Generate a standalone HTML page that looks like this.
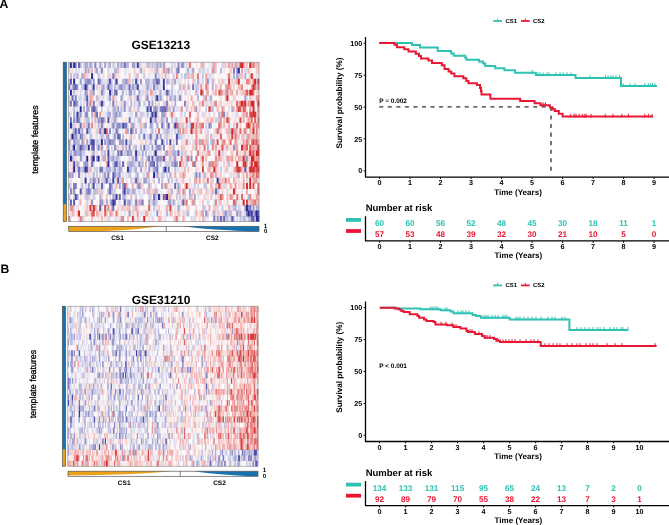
<!DOCTYPE html>
<html><head><meta charset="utf-8"><style>
html,body{margin:0;padding:0;background:#fff;width:669px;height:525px;overflow:hidden}
svg{display:block;will-change:transform}
text{font-family:"Liberation Sans",sans-serif;text-rendering:geometricPrecision}
</style></head><body>
<svg width="669" height="525" viewBox="0 0 669 525" font-family='"Liberation Sans", sans-serif'>
<rect width="669" height="525" fill="#fff"/>
<text x="-0.5" y="8.45" font-size="12.2" font-weight="bold" text-anchor="start" fill="#000">A</text>
<text x="0.5" y="273.4" font-size="12.2" font-weight="bold" text-anchor="start" fill="#000">B</text>
<text x="160.8" y="48.9" font-size="12" font-weight="bold" text-anchor="middle" fill="#000">GSE13213</text>
<rect x="68.3" y="62.2" width="190.7" height="159.39999999999998" fill="#fff"/>
<path fill="#fcfcfe" d="M128.61 62.20h1.98v5.85h-1.98zM166.09 62.20h1.98v5.85h-1.98zM184.02 62.20h1.98v5.85h-1.98zM104.16 67.70h1.98v5.85h-1.98zM172.61 67.70h1.98v5.85h-1.98zM188.91 67.70h1.98v5.85h-1.98zM228.03 67.70h1.98v5.85h-1.98zM68.30 73.19h1.98v5.85h-1.98zM94.38 73.19h1.98v5.85h-1.98zM96.01 73.19h1.98v5.85h-1.98zM105.79 73.19h1.98v5.85h-1.98zM120.46 73.19h1.98v5.85h-1.98zM131.87 73.19h1.98v5.85h-1.98zM144.91 73.19h1.98v5.85h-1.98zM153.06 73.19h1.98v5.85h-1.98zM170.98 73.19h1.98v5.85h-1.98zM179.13 73.19h1.98v5.85h-1.98zM198.69 73.19h1.98v5.85h-1.98zM185.65 78.69h1.98v5.85h-1.98zM188.91 78.69h1.98v5.85h-1.98zM69.93 84.19h1.98v5.85h-1.98zM174.24 84.19h1.98v5.85h-1.98zM213.36 84.19h1.98v5.85h-1.98zM135.13 89.68h1.98v5.85h-1.98zM198.69 89.68h1.98v5.85h-1.98zM216.62 89.68h1.98v5.85h-1.98zM76.45 95.18h1.98v5.85h-1.98zM104.16 95.18h1.98v5.85h-1.98zM125.35 95.18h1.98v5.85h-1.98zM131.87 95.18h1.98v5.85h-1.98zM117.20 100.68h1.98v5.85h-1.98zM128.61 100.68h1.98v5.85h-1.98zM131.87 100.68h1.98v5.85h-1.98zM146.54 100.68h1.98v5.85h-1.98zM172.61 100.68h1.98v5.85h-1.98zM175.87 100.68h1.98v5.85h-1.98zM216.62 100.68h1.98v5.85h-1.98zM81.34 106.17h1.98v5.85h-1.98zM109.05 106.17h1.98v5.85h-1.98zM143.28 106.17h1.98v5.85h-1.98zM206.84 106.17h1.98v5.85h-1.98zM82.97 111.67h1.98v5.85h-1.98zM97.64 111.67h1.98v5.85h-1.98zM125.35 111.67h1.98v5.85h-1.98zM144.91 111.67h1.98v5.85h-1.98zM185.65 111.67h1.98v5.85h-1.98zM210.10 111.67h1.98v5.85h-1.98zM211.73 111.67h1.98v5.85h-1.98zM71.56 117.17h1.98v5.85h-1.98zM109.05 117.17h1.98v5.85h-1.98zM126.98 117.17h1.98v5.85h-1.98zM200.32 117.17h1.98v5.85h-1.98zM252.48 117.17h1.98v5.85h-1.98zM96.01 122.66h1.98v5.85h-1.98zM237.81 122.66h1.98v5.85h-1.98zM118.83 128.16h1.98v5.85h-1.98zM187.28 128.16h1.98v5.85h-1.98zM68.30 133.66h1.98v5.85h-1.98zM87.86 133.66h1.98v5.85h-1.98zM109.05 133.66h1.98v5.85h-1.98zM126.98 133.66h1.98v5.85h-1.98zM136.76 133.66h1.98v5.85h-1.98zM218.25 133.66h1.98v5.85h-1.98zM224.77 133.66h1.98v5.85h-1.98zM84.60 139.15h1.98v5.85h-1.98zM115.57 139.15h1.98v5.85h-1.98zM117.20 139.15h1.98v5.85h-1.98zM157.95 139.15h1.98v5.85h-1.98zM159.58 139.15h1.98v5.85h-1.98zM167.72 139.15h1.98v5.85h-1.98zM179.13 139.15h1.98v5.85h-1.98zM226.40 139.15h1.98v5.85h-1.98zM69.93 144.65h1.98v5.85h-1.98zM104.16 144.65h1.98v5.85h-1.98zM126.98 144.65h1.98v5.85h-1.98zM149.80 144.65h1.98v5.85h-1.98zM153.06 144.65h1.98v5.85h-1.98zM164.46 144.65h1.98v5.85h-1.98zM146.54 150.14h1.98v5.85h-1.98zM193.80 150.14h1.98v5.85h-1.98zM210.10 150.14h1.98v5.85h-1.98zM78.08 155.64h1.98v5.85h-1.98zM94.38 155.64h1.98v5.85h-1.98zM99.27 155.64h1.98v5.85h-1.98zM120.46 155.64h1.98v5.85h-1.98zM122.09 155.64h1.98v5.85h-1.98zM138.39 155.64h1.98v5.85h-1.98zM166.09 155.64h1.98v5.85h-1.98zM211.73 155.64h1.98v5.85h-1.98zM146.54 161.14h1.98v5.85h-1.98zM177.50 161.14h1.98v5.85h-1.98zM187.28 161.14h1.98v5.85h-1.98zM172.61 166.63h1.98v5.85h-1.98zM185.65 166.63h1.98v5.85h-1.98zM200.32 166.63h1.98v5.85h-1.98zM109.05 172.13h1.98v5.85h-1.98zM177.50 172.13h1.98v5.85h-1.98zM221.51 172.13h1.98v5.85h-1.98zM73.19 177.63h1.98v5.85h-1.98zM76.45 177.63h1.98v5.85h-1.98zM96.01 177.63h1.98v5.85h-1.98zM123.72 177.63h1.98v5.85h-1.98zM159.58 177.63h1.98v5.85h-1.98zM197.06 177.63h1.98v5.85h-1.98zM229.66 177.63h1.98v5.85h-1.98zM78.08 183.12h1.98v5.85h-1.98zM94.38 183.12h1.98v5.85h-1.98zM105.79 183.12h1.98v5.85h-1.98zM117.20 183.12h1.98v5.85h-1.98zM120.46 183.12h1.98v5.85h-1.98zM128.61 183.12h1.98v5.85h-1.98zM144.91 183.12h1.98v5.85h-1.98zM153.06 183.12h1.98v5.85h-1.98zM156.32 183.12h1.98v5.85h-1.98zM228.03 183.12h1.98v5.85h-1.98zM244.33 183.12h1.98v5.85h-1.98zM78.08 188.62h1.98v5.85h-1.98zM115.57 188.62h1.98v5.85h-1.98zM144.91 188.62h1.98v5.85h-1.98zM164.46 188.62h1.98v5.85h-1.98zM187.28 188.62h1.98v5.85h-1.98zM231.29 188.62h1.98v5.85h-1.98zM236.18 188.62h1.98v5.85h-1.98zM143.28 194.12h1.98v5.85h-1.98zM174.24 194.12h1.98v5.85h-1.98zM213.36 194.12h1.98v5.85h-1.98zM234.55 194.12h1.98v5.85h-1.98zM250.85 194.12h1.98v5.85h-1.98zM74.82 199.61h1.98v5.85h-1.98zM164.46 199.61h1.98v5.85h-1.98zM74.82 205.11h1.98v5.85h-1.98zM172.61 205.11h1.98v5.85h-1.98zM192.17 205.11h1.98v5.85h-1.98zM200.32 205.11h1.98v5.85h-1.98zM210.10 205.11h1.98v5.85h-1.98zM74.82 210.61h1.98v5.85h-1.98zM154.69 210.61h1.98v5.85h-1.98zM210.10 210.61h1.98v5.85h-1.98zM73.19 216.10h1.98v5.85h-1.98zM74.82 216.10h1.98v5.85h-1.98zM169.35 216.10h1.98v5.85h-1.98zM180.76 216.10h1.98v5.85h-1.98zM187.28 216.10h1.98v5.85h-1.98zM210.10 216.10h1.98v5.85h-1.98zM237.81 216.10h1.98v5.85h-1.98z"/>
<path fill="#fefcfc" d="M175.87 62.20h1.98v5.85h-1.98zM193.80 62.20h1.98v5.85h-1.98zM197.06 62.20h1.98v5.85h-1.98zM247.59 62.20h1.98v5.85h-1.98zM92.75 67.70h1.98v5.85h-1.98zM120.46 67.70h1.98v5.85h-1.98zM184.02 67.70h1.98v5.85h-1.98zM218.25 67.70h1.98v5.85h-1.98zM231.29 67.70h1.98v5.85h-1.98zM169.35 73.19h1.98v5.85h-1.98zM203.58 73.19h1.98v5.85h-1.98zM224.77 73.19h1.98v5.85h-1.98zM74.82 78.69h1.98v5.85h-1.98zM143.28 78.69h1.98v5.85h-1.98zM182.39 78.69h1.98v5.85h-1.98zM161.21 84.19h1.98v5.85h-1.98zM164.46 84.19h1.98v5.85h-1.98zM175.87 84.19h1.98v5.85h-1.98zM185.65 84.19h1.98v5.85h-1.98zM210.10 84.19h1.98v5.85h-1.98zM221.51 84.19h1.98v5.85h-1.98zM223.14 84.19h1.98v5.85h-1.98zM247.59 84.19h1.98v5.85h-1.98zM117.20 89.68h1.98v5.85h-1.98zM156.32 89.68h1.98v5.85h-1.98zM192.17 89.68h1.98v5.85h-1.98zM203.58 89.68h1.98v5.85h-1.98zM237.81 89.68h1.98v5.85h-1.98zM153.06 95.18h1.98v5.85h-1.98zM164.46 95.18h1.98v5.85h-1.98zM182.39 95.18h1.98v5.85h-1.98zM200.32 95.18h1.98v5.85h-1.98zM223.14 95.18h1.98v5.85h-1.98zM229.66 95.18h1.98v5.85h-1.98zM247.59 95.18h1.98v5.85h-1.98zM78.08 100.68h1.98v5.85h-1.98zM177.50 100.68h1.98v5.85h-1.98zM179.13 100.68h1.98v5.85h-1.98zM188.91 100.68h1.98v5.85h-1.98zM197.06 100.68h1.98v5.85h-1.98zM99.27 106.17h1.98v5.85h-1.98zM118.83 106.17h1.98v5.85h-1.98zM135.13 106.17h1.98v5.85h-1.98zM170.98 106.17h1.98v5.85h-1.98zM201.95 106.17h1.98v5.85h-1.98zM247.59 106.17h1.98v5.85h-1.98zM177.50 111.67h1.98v5.85h-1.98zM192.17 111.67h1.98v5.85h-1.98zM224.77 111.67h1.98v5.85h-1.98zM89.49 117.17h1.98v5.85h-1.98zM143.28 117.17h1.98v5.85h-1.98zM192.17 117.17h1.98v5.85h-1.98zM201.95 117.17h1.98v5.85h-1.98zM203.58 122.66h1.98v5.85h-1.98zM216.62 122.66h1.98v5.85h-1.98zM136.76 128.16h1.98v5.85h-1.98zM156.32 128.16h1.98v5.85h-1.98zM210.10 128.16h1.98v5.85h-1.98zM135.13 133.66h1.98v5.85h-1.98zM157.95 133.66h1.98v5.85h-1.98zM188.91 133.66h1.98v5.85h-1.98zM208.47 133.66h1.98v5.85h-1.98zM153.06 139.15h1.98v5.85h-1.98zM177.50 139.15h1.98v5.85h-1.98zM208.47 139.15h1.98v5.85h-1.98zM249.22 139.15h1.98v5.85h-1.98zM179.13 144.65h1.98v5.85h-1.98zM197.06 144.65h1.98v5.85h-1.98zM131.87 150.14h1.98v5.85h-1.98zM179.13 150.14h1.98v5.85h-1.98zM187.28 150.14h1.98v5.85h-1.98zM192.17 155.64h1.98v5.85h-1.98zM198.69 155.64h1.98v5.85h-1.98zM208.47 155.64h1.98v5.85h-1.98zM79.71 161.14h1.98v5.85h-1.98zM234.55 161.14h1.98v5.85h-1.98zM239.44 161.14h1.98v5.85h-1.98zM136.76 166.63h1.98v5.85h-1.98zM192.17 166.63h1.98v5.85h-1.98zM120.46 172.13h1.98v5.85h-1.98zM226.40 172.13h1.98v5.85h-1.98zM239.44 172.13h1.98v5.85h-1.98zM214.99 177.63h1.98v5.85h-1.98zM231.29 177.63h1.98v5.85h-1.98zM244.33 177.63h1.98v5.85h-1.98zM104.16 183.12h1.98v5.85h-1.98zM151.43 183.12h1.98v5.85h-1.98zM175.87 183.12h1.98v5.85h-1.98zM185.65 188.62h1.98v5.85h-1.98zM203.58 188.62h1.98v5.85h-1.98zM247.59 188.62h1.98v5.85h-1.98zM107.42 194.12h1.98v5.85h-1.98zM120.46 194.12h1.98v5.85h-1.98zM128.61 194.12h1.98v5.85h-1.98zM131.87 194.12h1.98v5.85h-1.98zM195.43 194.12h1.98v5.85h-1.98zM224.77 194.12h1.98v5.85h-1.98zM81.34 199.61h1.98v5.85h-1.98zM92.75 199.61h1.98v5.85h-1.98zM97.64 199.61h1.98v5.85h-1.98zM122.09 199.61h1.98v5.85h-1.98zM143.28 199.61h1.98v5.85h-1.98zM187.28 199.61h1.98v5.85h-1.98zM244.33 199.61h1.98v5.85h-1.98zM97.64 205.11h1.98v5.85h-1.98zM140.02 205.11h1.98v5.85h-1.98zM159.58 205.11h1.98v5.85h-1.98zM184.02 205.11h1.98v5.85h-1.98zM197.06 205.11h1.98v5.85h-1.98zM82.97 210.61h1.98v5.85h-1.98zM190.54 210.61h1.98v5.85h-1.98zM86.23 216.10h1.98v5.85h-1.98zM154.69 216.10h1.98v5.85h-1.98zM170.98 216.10h1.98v5.85h-1.98zM188.91 216.10h1.98v5.85h-1.98zM197.06 216.10h1.98v5.85h-1.98zM200.32 216.10h1.98v5.85h-1.98zM208.47 216.10h1.98v5.85h-1.98z"/>
<path fill="#fef8f8" d="M76.45 62.20h1.98v5.85h-1.98zM130.24 62.20h1.98v5.85h-1.98zM205.21 62.20h1.98v5.85h-1.98zM219.88 62.20h1.98v5.85h-1.98zM109.05 67.70h1.98v5.85h-1.98zM136.76 67.70h1.98v5.85h-1.98zM179.13 67.70h1.98v5.85h-1.98zM205.21 67.70h1.98v5.85h-1.98zM252.48 67.70h1.98v5.85h-1.98zM89.49 73.19h1.98v5.85h-1.98zM104.16 73.19h1.98v5.85h-1.98zM162.84 73.19h1.98v5.85h-1.98zM174.24 73.19h1.98v5.85h-1.98zM193.80 73.19h1.98v5.85h-1.98zM221.51 73.19h1.98v5.85h-1.98zM223.14 73.19h1.98v5.85h-1.98zM231.29 73.19h1.98v5.85h-1.98zM76.45 78.69h1.98v5.85h-1.98zM138.39 78.69h1.98v5.85h-1.98zM195.43 78.69h1.98v5.85h-1.98zM203.58 78.69h1.98v5.85h-1.98zM241.07 78.69h1.98v5.85h-1.98zM169.35 84.19h1.98v5.85h-1.98zM190.54 84.19h1.98v5.85h-1.98zM193.80 84.19h1.98v5.85h-1.98zM87.86 89.68h1.98v5.85h-1.98zM148.17 89.68h1.98v5.85h-1.98zM175.87 89.68h1.98v5.85h-1.98zM187.28 89.68h1.98v5.85h-1.98zM208.47 89.68h1.98v5.85h-1.98zM232.92 89.68h1.98v5.85h-1.98zM118.83 95.18h1.98v5.85h-1.98zM148.17 95.18h1.98v5.85h-1.98zM175.87 95.18h1.98v5.85h-1.98zM213.36 95.18h1.98v5.85h-1.98zM216.62 95.18h1.98v5.85h-1.98zM236.18 95.18h1.98v5.85h-1.98zM71.56 100.68h1.98v5.85h-1.98zM141.65 100.68h1.98v5.85h-1.98zM159.58 100.68h1.98v5.85h-1.98zM221.51 100.68h1.98v5.85h-1.98zM228.03 100.68h1.98v5.85h-1.98zM184.02 106.17h1.98v5.85h-1.98zM192.17 106.17h1.98v5.85h-1.98zM200.32 106.17h1.98v5.85h-1.98zM224.77 106.17h1.98v5.85h-1.98zM226.40 106.17h1.98v5.85h-1.98zM229.66 106.17h1.98v5.85h-1.98zM122.09 111.67h1.98v5.85h-1.98zM133.50 111.67h1.98v5.85h-1.98zM159.58 111.67h1.98v5.85h-1.98zM187.28 111.67h1.98v5.85h-1.98zM228.03 111.67h1.98v5.85h-1.98zM239.44 111.67h1.98v5.85h-1.98zM81.34 117.17h1.98v5.85h-1.98zM141.65 117.17h1.98v5.85h-1.98zM169.35 117.17h1.98v5.85h-1.98zM190.54 117.17h1.98v5.85h-1.98zM157.95 122.66h1.98v5.85h-1.98zM159.58 122.66h1.98v5.85h-1.98zM164.46 122.66h1.98v5.85h-1.98zM184.02 122.66h1.98v5.85h-1.98zM231.29 122.66h1.98v5.85h-1.98zM241.07 122.66h1.98v5.85h-1.98zM146.54 128.16h1.98v5.85h-1.98zM221.51 128.16h1.98v5.85h-1.98zM247.59 128.16h1.98v5.85h-1.98zM254.11 128.16h1.98v5.85h-1.98zM257.37 128.16h1.98v5.85h-1.98zM185.65 133.66h1.98v5.85h-1.98zM79.71 139.15h1.98v5.85h-1.98zM87.86 139.15h1.98v5.85h-1.98zM170.98 139.15h1.98v5.85h-1.98zM174.24 139.15h1.98v5.85h-1.98zM231.29 139.15h1.98v5.85h-1.98zM74.82 144.65h1.98v5.85h-1.98zM112.31 144.65h1.98v5.85h-1.98zM188.91 144.65h1.98v5.85h-1.98zM237.81 144.65h1.98v5.85h-1.98zM105.79 150.14h1.98v5.85h-1.98zM226.40 150.14h1.98v5.85h-1.98zM234.55 150.14h1.98v5.85h-1.98zM203.58 155.64h1.98v5.85h-1.98zM206.84 155.64h1.98v5.85h-1.98zM94.38 161.14h1.98v5.85h-1.98zM104.16 161.14h1.98v5.85h-1.98zM109.05 161.14h1.98v5.85h-1.98zM221.51 161.14h1.98v5.85h-1.98zM247.59 161.14h1.98v5.85h-1.98zM74.82 166.63h1.98v5.85h-1.98zM76.45 172.13h1.98v5.85h-1.98zM110.68 172.13h1.98v5.85h-1.98zM188.91 172.13h1.98v5.85h-1.98zM71.56 177.63h1.98v5.85h-1.98zM164.46 177.63h1.98v5.85h-1.98zM187.28 177.63h1.98v5.85h-1.98zM241.07 177.63h1.98v5.85h-1.98zM257.37 177.63h1.98v5.85h-1.98zM206.84 183.12h1.98v5.85h-1.98zM213.36 183.12h1.98v5.85h-1.98zM255.74 183.12h1.98v5.85h-1.98zM104.16 188.62h1.98v5.85h-1.98zM140.02 188.62h1.98v5.85h-1.98zM174.24 188.62h1.98v5.85h-1.98zM242.70 188.62h1.98v5.85h-1.98zM187.28 194.12h1.98v5.85h-1.98zM208.47 194.12h1.98v5.85h-1.98zM244.33 194.12h1.98v5.85h-1.98zM245.96 194.12h1.98v5.85h-1.98zM254.11 194.12h1.98v5.85h-1.98zM94.38 199.61h1.98v5.85h-1.98zM195.43 199.61h1.98v5.85h-1.98zM205.21 199.61h1.98v5.85h-1.98zM100.90 205.11h1.98v5.85h-1.98zM113.94 205.11h1.98v5.85h-1.98zM130.24 205.11h1.98v5.85h-1.98zM144.91 205.11h1.98v5.85h-1.98zM180.76 205.11h1.98v5.85h-1.98zM190.54 205.11h1.98v5.85h-1.98zM79.71 210.61h1.98v5.85h-1.98zM118.83 210.61h1.98v5.85h-1.98zM161.21 210.61h1.98v5.85h-1.98zM188.91 210.61h1.98v5.85h-1.98zM203.58 210.61h1.98v5.85h-1.98zM76.45 216.10h1.98v5.85h-1.98zM99.27 216.10h1.98v5.85h-1.98zM125.35 216.10h1.98v5.85h-1.98zM135.13 216.10h1.98v5.85h-1.98zM146.54 216.10h1.98v5.85h-1.98z"/>
<path fill="#f8f8fc" d="M96.01 62.20h1.98v5.85h-1.98zM135.13 62.20h1.98v5.85h-1.98zM192.17 62.20h1.98v5.85h-1.98zM206.84 62.20h1.98v5.85h-1.98zM232.92 62.20h1.98v5.85h-1.98zM73.19 67.70h1.98v5.85h-1.98zM79.71 67.70h1.98v5.85h-1.98zM97.64 67.70h1.98v5.85h-1.98zM112.31 67.70h1.98v5.85h-1.98zM122.09 67.70h1.98v5.85h-1.98zM130.24 67.70h1.98v5.85h-1.98zM144.91 67.70h1.98v5.85h-1.98zM182.39 67.70h1.98v5.85h-1.98zM92.75 73.19h1.98v5.85h-1.98zM126.98 73.19h1.98v5.85h-1.98zM219.88 73.19h1.98v5.85h-1.98zM91.12 78.69h1.98v5.85h-1.98zM94.38 78.69h1.98v5.85h-1.98zM112.31 78.69h1.98v5.85h-1.98zM118.83 78.69h1.98v5.85h-1.98zM164.46 78.69h1.98v5.85h-1.98zM140.02 84.19h1.98v5.85h-1.98zM249.22 84.19h1.98v5.85h-1.98zM74.82 89.68h1.98v5.85h-1.98zM78.08 89.68h1.98v5.85h-1.98zM94.38 89.68h1.98v5.85h-1.98zM131.87 89.68h1.98v5.85h-1.98zM162.84 95.18h1.98v5.85h-1.98zM214.99 95.18h1.98v5.85h-1.98zM221.51 95.18h1.98v5.85h-1.98zM239.44 95.18h1.98v5.85h-1.98zM84.60 100.68h1.98v5.85h-1.98zM91.12 100.68h1.98v5.85h-1.98zM105.79 100.68h1.98v5.85h-1.98zM107.42 100.68h1.98v5.85h-1.98zM149.80 100.68h1.98v5.85h-1.98zM169.35 100.68h1.98v5.85h-1.98zM182.39 100.68h1.98v5.85h-1.98zM254.11 100.68h1.98v5.85h-1.98zM68.30 106.17h1.98v5.85h-1.98zM74.82 106.17h1.98v5.85h-1.98zM78.08 106.17h1.98v5.85h-1.98zM84.60 106.17h1.98v5.85h-1.98zM151.43 106.17h1.98v5.85h-1.98zM188.91 106.17h1.98v5.85h-1.98zM213.36 106.17h1.98v5.85h-1.98zM166.09 111.67h1.98v5.85h-1.98zM167.72 111.67h1.98v5.85h-1.98zM193.80 111.67h1.98v5.85h-1.98zM206.84 111.67h1.98v5.85h-1.98zM148.17 117.17h1.98v5.85h-1.98zM177.50 117.17h1.98v5.85h-1.98zM221.51 117.17h1.98v5.85h-1.98zM244.33 117.17h1.98v5.85h-1.98zM76.45 122.66h1.98v5.85h-1.98zM128.61 122.66h1.98v5.85h-1.98zM146.54 122.66h1.98v5.85h-1.98zM154.69 122.66h1.98v5.85h-1.98zM69.93 128.16h1.98v5.85h-1.98zM82.97 128.16h1.98v5.85h-1.98zM153.06 128.16h1.98v5.85h-1.98zM104.16 133.66h1.98v5.85h-1.98zM140.02 133.66h1.98v5.85h-1.98zM201.95 133.66h1.98v5.85h-1.98zM71.56 139.15h1.98v5.85h-1.98zM143.28 139.15h1.98v5.85h-1.98zM232.92 139.15h1.98v5.85h-1.98zM239.44 144.65h1.98v5.85h-1.98zM86.23 150.14h1.98v5.85h-1.98zM87.86 150.14h1.98v5.85h-1.98zM97.64 150.14h1.98v5.85h-1.98zM151.43 150.14h1.98v5.85h-1.98zM211.73 150.14h1.98v5.85h-1.98zM105.79 155.64h1.98v5.85h-1.98zM125.35 155.64h1.98v5.85h-1.98zM143.28 155.64h1.98v5.85h-1.98zM182.39 155.64h1.98v5.85h-1.98zM193.80 155.64h1.98v5.85h-1.98zM213.36 155.64h1.98v5.85h-1.98zM96.01 161.14h1.98v5.85h-1.98zM188.91 161.14h1.98v5.85h-1.98zM224.77 161.14h1.98v5.85h-1.98zM232.92 161.14h1.98v5.85h-1.98zM97.64 166.63h1.98v5.85h-1.98zM122.09 166.63h1.98v5.85h-1.98zM131.87 166.63h1.98v5.85h-1.98zM188.91 166.63h1.98v5.85h-1.98zM228.03 166.63h1.98v5.85h-1.98zM82.97 172.13h1.98v5.85h-1.98zM123.72 172.13h1.98v5.85h-1.98zM138.39 172.13h1.98v5.85h-1.98zM167.72 172.13h1.98v5.85h-1.98zM185.65 172.13h1.98v5.85h-1.98zM82.97 177.63h1.98v5.85h-1.98zM87.86 177.63h1.98v5.85h-1.98zM149.80 177.63h1.98v5.85h-1.98zM154.69 177.63h1.98v5.85h-1.98zM156.32 177.63h1.98v5.85h-1.98zM184.02 177.63h1.98v5.85h-1.98zM190.54 177.63h1.98v5.85h-1.98zM250.85 177.63h1.98v5.85h-1.98zM89.49 183.12h1.98v5.85h-1.98zM107.42 183.12h1.98v5.85h-1.98zM130.24 183.12h1.98v5.85h-1.98zM201.95 183.12h1.98v5.85h-1.98zM105.79 188.62h1.98v5.85h-1.98zM118.83 188.62h1.98v5.85h-1.98zM136.76 188.62h1.98v5.85h-1.98zM157.95 188.62h1.98v5.85h-1.98zM201.95 188.62h1.98v5.85h-1.98zM244.33 188.62h1.98v5.85h-1.98zM250.85 188.62h1.98v5.85h-1.98zM81.34 194.12h1.98v5.85h-1.98zM91.12 194.12h1.98v5.85h-1.98zM104.16 194.12h1.98v5.85h-1.98zM138.39 194.12h1.98v5.85h-1.98zM180.76 194.12h1.98v5.85h-1.98zM201.95 194.12h1.98v5.85h-1.98zM115.57 199.61h1.98v5.85h-1.98zM120.46 199.61h1.98v5.85h-1.98zM161.21 199.61h1.98v5.85h-1.98zM175.87 199.61h1.98v5.85h-1.98zM203.58 199.61h1.98v5.85h-1.98zM211.73 199.61h1.98v5.85h-1.98zM221.51 199.61h1.98v5.85h-1.98zM151.43 205.11h1.98v5.85h-1.98zM162.84 205.11h1.98v5.85h-1.98zM175.87 205.11h1.98v5.85h-1.98zM219.88 205.11h1.98v5.85h-1.98zM236.18 205.11h1.98v5.85h-1.98zM241.07 205.11h1.98v5.85h-1.98zM94.38 210.61h1.98v5.85h-1.98zM151.43 210.61h1.98v5.85h-1.98zM130.24 216.10h1.98v5.85h-1.98z"/>
<path fill="#f3f3f9" d="M92.75 62.20h1.98v5.85h-1.98zM102.53 62.20h1.98v5.85h-1.98zM105.79 62.20h1.98v5.85h-1.98zM167.72 62.20h1.98v5.85h-1.98zM69.93 67.70h1.98v5.85h-1.98zM82.97 67.70h1.98v5.85h-1.98zM221.51 67.70h1.98v5.85h-1.98zM239.44 67.70h1.98v5.85h-1.98zM79.71 73.19h1.98v5.85h-1.98zM125.35 73.19h1.98v5.85h-1.98zM149.80 73.19h1.98v5.85h-1.98zM151.43 73.19h1.98v5.85h-1.98zM200.32 73.19h1.98v5.85h-1.98zM247.59 73.19h1.98v5.85h-1.98zM254.11 73.19h1.98v5.85h-1.98zM71.56 78.69h1.98v5.85h-1.98zM78.08 78.69h1.98v5.85h-1.98zM81.34 78.69h1.98v5.85h-1.98zM210.10 78.69h1.98v5.85h-1.98zM216.62 78.69h1.98v5.85h-1.98zM219.88 78.69h1.98v5.85h-1.98zM226.40 78.69h1.98v5.85h-1.98zM244.33 78.69h1.98v5.85h-1.98zM79.71 84.19h1.98v5.85h-1.98zM112.31 84.19h1.98v5.85h-1.98zM177.50 84.19h1.98v5.85h-1.98zM68.30 89.68h1.98v5.85h-1.98zM118.83 89.68h1.98v5.85h-1.98zM136.76 89.68h1.98v5.85h-1.98zM140.02 89.68h1.98v5.85h-1.98zM161.21 89.68h1.98v5.85h-1.98zM87.86 95.18h1.98v5.85h-1.98zM167.72 95.18h1.98v5.85h-1.98zM211.73 95.18h1.98v5.85h-1.98zM218.25 95.18h1.98v5.85h-1.98zM231.29 95.18h1.98v5.85h-1.98zM104.16 100.68h1.98v5.85h-1.98zM113.94 100.68h1.98v5.85h-1.98zM161.21 100.68h1.98v5.85h-1.98zM203.58 100.68h1.98v5.85h-1.98zM104.16 106.17h1.98v5.85h-1.98zM125.35 106.17h1.98v5.85h-1.98zM157.95 106.17h1.98v5.85h-1.98zM218.25 106.17h1.98v5.85h-1.98zM219.88 106.17h1.98v5.85h-1.98zM123.72 111.67h1.98v5.85h-1.98zM198.69 111.67h1.98v5.85h-1.98zM200.32 111.67h1.98v5.85h-1.98zM117.20 117.17h1.98v5.85h-1.98zM92.75 122.66h1.98v5.85h-1.98zM109.05 122.66h1.98v5.85h-1.98zM148.17 122.66h1.98v5.85h-1.98zM169.35 122.66h1.98v5.85h-1.98zM206.84 122.66h1.98v5.85h-1.98zM224.77 122.66h1.98v5.85h-1.98zM84.60 128.16h1.98v5.85h-1.98zM128.61 128.16h1.98v5.85h-1.98zM161.21 128.16h1.98v5.85h-1.98zM208.47 128.16h1.98v5.85h-1.98zM97.64 133.66h1.98v5.85h-1.98zM123.72 133.66h1.98v5.85h-1.98zM223.14 133.66h1.98v5.85h-1.98zM239.44 133.66h1.98v5.85h-1.98zM102.53 139.15h1.98v5.85h-1.98zM123.72 139.15h1.98v5.85h-1.98zM135.13 139.15h1.98v5.85h-1.98zM138.39 139.15h1.98v5.85h-1.98zM219.88 139.15h1.98v5.85h-1.98zM237.81 139.15h1.98v5.85h-1.98zM118.83 144.65h1.98v5.85h-1.98zM136.76 144.65h1.98v5.85h-1.98zM208.47 144.65h1.98v5.85h-1.98zM228.03 144.65h1.98v5.85h-1.98zM143.28 150.14h1.98v5.85h-1.98zM157.95 150.14h1.98v5.85h-1.98zM245.96 150.14h1.98v5.85h-1.98zM82.97 155.64h1.98v5.85h-1.98zM123.72 155.64h1.98v5.85h-1.98zM149.80 155.64h1.98v5.85h-1.98zM236.18 155.64h1.98v5.85h-1.98zM69.93 161.14h1.98v5.85h-1.98zM100.90 161.14h1.98v5.85h-1.98zM120.46 161.14h1.98v5.85h-1.98zM125.35 161.14h1.98v5.85h-1.98zM154.69 161.14h1.98v5.85h-1.98zM161.21 161.14h1.98v5.85h-1.98zM190.54 161.14h1.98v5.85h-1.98zM198.69 161.14h1.98v5.85h-1.98zM123.72 166.63h1.98v5.85h-1.98zM159.58 166.63h1.98v5.85h-1.98zM179.13 166.63h1.98v5.85h-1.98zM221.51 166.63h1.98v5.85h-1.98zM229.66 166.63h1.98v5.85h-1.98zM86.23 172.13h1.98v5.85h-1.98zM94.38 172.13h1.98v5.85h-1.98zM100.90 172.13h1.98v5.85h-1.98zM126.98 172.13h1.98v5.85h-1.98zM133.50 172.13h1.98v5.85h-1.98zM224.77 172.13h1.98v5.85h-1.98zM113.94 177.63h1.98v5.85h-1.98zM166.09 177.63h1.98v5.85h-1.98zM185.65 177.63h1.98v5.85h-1.98zM86.23 183.12h1.98v5.85h-1.98zM99.27 183.12h1.98v5.85h-1.98zM133.50 183.12h1.98v5.85h-1.98zM167.72 183.12h1.98v5.85h-1.98zM192.17 183.12h1.98v5.85h-1.98zM195.43 183.12h1.98v5.85h-1.98zM74.82 188.62h1.98v5.85h-1.98zM120.46 188.62h1.98v5.85h-1.98zM224.77 188.62h1.98v5.85h-1.98zM102.53 194.12h1.98v5.85h-1.98zM126.98 194.12h1.98v5.85h-1.98zM172.61 194.12h1.98v5.85h-1.98zM71.56 199.61h1.98v5.85h-1.98zM131.87 199.61h1.98v5.85h-1.98zM179.13 199.61h1.98v5.85h-1.98zM239.44 199.61h1.98v5.85h-1.98zM78.08 205.11h1.98v5.85h-1.98zM81.34 205.11h1.98v5.85h-1.98zM146.54 205.11h1.98v5.85h-1.98zM218.25 205.11h1.98v5.85h-1.98zM242.70 205.11h1.98v5.85h-1.98zM254.11 205.11h1.98v5.85h-1.98zM138.39 210.61h1.98v5.85h-1.98zM167.72 210.61h1.98v5.85h-1.98zM172.61 210.61h1.98v5.85h-1.98zM175.87 210.61h1.98v5.85h-1.98zM180.76 210.61h1.98v5.85h-1.98zM197.06 210.61h1.98v5.85h-1.98zM219.88 210.61h1.98v5.85h-1.98zM92.75 216.10h1.98v5.85h-1.98zM110.68 216.10h1.98v5.85h-1.98zM144.91 216.10h1.98v5.85h-1.98zM228.03 216.10h1.98v5.85h-1.98z"/>
<path fill="#fdf3f3" d="M110.68 62.20h1.98v5.85h-1.98zM187.28 62.20h1.98v5.85h-1.98zM146.54 67.70h1.98v5.85h-1.98zM159.58 67.70h1.98v5.85h-1.98zM208.47 67.70h1.98v5.85h-1.98zM210.10 67.70h1.98v5.85h-1.98zM226.40 67.70h1.98v5.85h-1.98zM242.70 67.70h1.98v5.85h-1.98zM250.85 67.70h1.98v5.85h-1.98zM254.11 67.70h1.98v5.85h-1.98zM71.56 73.19h1.98v5.85h-1.98zM130.24 73.19h1.98v5.85h-1.98zM138.39 73.19h1.98v5.85h-1.98zM182.39 73.19h1.98v5.85h-1.98zM216.62 73.19h1.98v5.85h-1.98zM242.70 73.19h1.98v5.85h-1.98zM120.46 78.69h1.98v5.85h-1.98zM161.21 78.69h1.98v5.85h-1.98zM190.54 78.69h1.98v5.85h-1.98zM239.44 78.69h1.98v5.85h-1.98zM208.47 84.19h1.98v5.85h-1.98zM82.97 89.68h1.98v5.85h-1.98zM96.01 89.68h1.98v5.85h-1.98zM105.79 89.68h1.98v5.85h-1.98zM123.72 95.18h1.98v5.85h-1.98zM141.65 95.18h1.98v5.85h-1.98zM193.80 95.18h1.98v5.85h-1.98zM237.81 95.18h1.98v5.85h-1.98zM81.34 100.68h1.98v5.85h-1.98zM153.06 100.68h1.98v5.85h-1.98zM190.54 100.68h1.98v5.85h-1.98zM208.47 100.68h1.98v5.85h-1.98zM245.96 100.68h1.98v5.85h-1.98zM214.99 106.17h1.98v5.85h-1.98zM234.55 106.17h1.98v5.85h-1.98zM245.96 106.17h1.98v5.85h-1.98zM250.85 106.17h1.98v5.85h-1.98zM74.82 111.67h1.98v5.85h-1.98zM87.86 111.67h1.98v5.85h-1.98zM148.17 111.67h1.98v5.85h-1.98zM182.39 111.67h1.98v5.85h-1.98zM247.59 111.67h1.98v5.85h-1.98zM135.13 117.17h1.98v5.85h-1.98zM231.29 117.17h1.98v5.85h-1.98zM236.18 117.17h1.98v5.85h-1.98zM135.13 122.66h1.98v5.85h-1.98zM170.98 122.66h1.98v5.85h-1.98zM214.99 122.66h1.98v5.85h-1.98zM131.87 133.66h1.98v5.85h-1.98zM200.32 133.66h1.98v5.85h-1.98zM221.51 133.66h1.98v5.85h-1.98zM126.98 139.15h1.98v5.85h-1.98zM164.46 139.15h1.98v5.85h-1.98zM89.49 144.65h1.98v5.85h-1.98zM94.38 144.65h1.98v5.85h-1.98zM130.24 144.65h1.98v5.85h-1.98zM174.24 144.65h1.98v5.85h-1.98zM185.65 144.65h1.98v5.85h-1.98zM247.59 144.65h1.98v5.85h-1.98zM115.57 150.14h1.98v5.85h-1.98zM237.81 150.14h1.98v5.85h-1.98zM87.86 155.64h1.98v5.85h-1.98zM126.98 155.64h1.98v5.85h-1.98zM210.10 155.64h1.98v5.85h-1.98zM224.77 155.64h1.98v5.85h-1.98zM162.84 161.14h1.98v5.85h-1.98zM184.02 161.14h1.98v5.85h-1.98zM203.58 161.14h1.98v5.85h-1.98zM218.25 161.14h1.98v5.85h-1.98zM193.80 166.63h1.98v5.85h-1.98zM218.25 166.63h1.98v5.85h-1.98zM73.19 172.13h1.98v5.85h-1.98zM131.87 172.13h1.98v5.85h-1.98zM144.91 172.13h1.98v5.85h-1.98zM187.28 172.13h1.98v5.85h-1.98zM192.17 172.13h1.98v5.85h-1.98zM208.47 172.13h1.98v5.85h-1.98zM74.82 177.63h1.98v5.85h-1.98zM126.98 177.63h1.98v5.85h-1.98zM162.84 177.63h1.98v5.85h-1.98zM200.32 177.63h1.98v5.85h-1.98zM76.45 183.12h1.98v5.85h-1.98zM143.28 183.12h1.98v5.85h-1.98zM159.58 183.12h1.98v5.85h-1.98zM172.61 183.12h1.98v5.85h-1.98zM200.32 183.12h1.98v5.85h-1.98zM208.47 183.12h1.98v5.85h-1.98zM247.59 183.12h1.98v5.85h-1.98zM254.11 183.12h1.98v5.85h-1.98zM82.97 188.62h1.98v5.85h-1.98zM239.44 188.62h1.98v5.85h-1.98zM249.22 188.62h1.98v5.85h-1.98zM69.93 194.12h1.98v5.85h-1.98zM110.68 194.12h1.98v5.85h-1.98zM136.76 194.12h1.98v5.85h-1.98zM151.43 194.12h1.98v5.85h-1.98zM161.21 194.12h1.98v5.85h-1.98zM200.32 194.12h1.98v5.85h-1.98zM223.14 194.12h1.98v5.85h-1.98zM228.03 194.12h1.98v5.85h-1.98zM82.97 199.61h1.98v5.85h-1.98zM144.91 199.61h1.98v5.85h-1.98zM157.95 199.61h1.98v5.85h-1.98zM159.58 199.61h1.98v5.85h-1.98zM162.84 199.61h1.98v5.85h-1.98zM224.77 199.61h1.98v5.85h-1.98zM91.12 205.11h1.98v5.85h-1.98zM141.65 205.11h1.98v5.85h-1.98zM188.91 205.11h1.98v5.85h-1.98zM193.80 205.11h1.98v5.85h-1.98zM198.69 205.11h1.98v5.85h-1.98zM211.73 205.11h1.98v5.85h-1.98zM81.34 210.61h1.98v5.85h-1.98zM102.53 210.61h1.98v5.85h-1.98zM107.42 210.61h1.98v5.85h-1.98zM130.24 210.61h1.98v5.85h-1.98zM148.17 210.61h1.98v5.85h-1.98zM157.95 210.61h1.98v5.85h-1.98zM84.60 216.10h1.98v5.85h-1.98zM89.49 216.10h1.98v5.85h-1.98zM96.01 216.10h1.98v5.85h-1.98zM102.53 216.10h1.98v5.85h-1.98zM123.72 216.10h1.98v5.85h-1.98zM128.61 216.10h1.98v5.85h-1.98zM140.02 216.10h1.98v5.85h-1.98zM156.32 216.10h1.98v5.85h-1.98zM162.84 216.10h1.98v5.85h-1.98zM214.99 216.10h1.98v5.85h-1.98zM245.96 216.10h1.98v5.85h-1.98z"/>
<path fill="#ededf6" d="M97.64 62.20h1.98v5.85h-1.98zM161.21 62.20h1.98v5.85h-1.98zM190.54 62.20h1.98v5.85h-1.98zM76.45 67.70h1.98v5.85h-1.98zM81.34 67.70h1.98v5.85h-1.98zM128.61 67.70h1.98v5.85h-1.98zM234.55 67.70h1.98v5.85h-1.98zM78.08 73.19h1.98v5.85h-1.98zM99.27 73.19h1.98v5.85h-1.98zM100.90 73.19h1.98v5.85h-1.98zM110.68 73.19h1.98v5.85h-1.98zM123.72 73.19h1.98v5.85h-1.98zM141.65 73.19h1.98v5.85h-1.98zM166.09 73.19h1.98v5.85h-1.98zM177.50 73.19h1.98v5.85h-1.98zM133.50 78.69h1.98v5.85h-1.98zM149.80 78.69h1.98v5.85h-1.98zM200.32 78.69h1.98v5.85h-1.98zM89.49 84.19h1.98v5.85h-1.98zM94.38 84.19h1.98v5.85h-1.98zM104.16 84.19h1.98v5.85h-1.98zM125.35 84.19h1.98v5.85h-1.98zM151.43 84.19h1.98v5.85h-1.98zM166.09 84.19h1.98v5.85h-1.98zM198.69 84.19h1.98v5.85h-1.98zM236.18 84.19h1.98v5.85h-1.98zM71.56 89.68h1.98v5.85h-1.98zM81.34 89.68h1.98v5.85h-1.98zM107.42 89.68h1.98v5.85h-1.98zM120.46 89.68h1.98v5.85h-1.98zM172.61 89.68h1.98v5.85h-1.98zM81.34 95.18h1.98v5.85h-1.98zM99.27 95.18h1.98v5.85h-1.98zM110.68 95.18h1.98v5.85h-1.98zM126.98 95.18h1.98v5.85h-1.98zM94.38 100.68h1.98v5.85h-1.98zM140.02 100.68h1.98v5.85h-1.98zM195.43 100.68h1.98v5.85h-1.98zM211.73 100.68h1.98v5.85h-1.98zM69.93 106.17h1.98v5.85h-1.98zM71.56 106.17h1.98v5.85h-1.98zM105.79 106.17h1.98v5.85h-1.98zM122.09 106.17h1.98v5.85h-1.98zM141.65 106.17h1.98v5.85h-1.98zM174.24 106.17h1.98v5.85h-1.98zM81.34 111.67h1.98v5.85h-1.98zM104.16 111.67h1.98v5.85h-1.98zM126.98 111.67h1.98v5.85h-1.98zM138.39 111.67h1.98v5.85h-1.98zM174.24 111.67h1.98v5.85h-1.98zM179.13 111.67h1.98v5.85h-1.98zM92.75 117.17h1.98v5.85h-1.98zM187.28 117.17h1.98v5.85h-1.98zM241.07 117.17h1.98v5.85h-1.98zM213.36 122.66h1.98v5.85h-1.98zM68.30 128.16h1.98v5.85h-1.98zM120.46 128.16h1.98v5.85h-1.98zM138.39 128.16h1.98v5.85h-1.98zM169.35 128.16h1.98v5.85h-1.98zM175.87 128.16h1.98v5.85h-1.98zM144.91 133.66h1.98v5.85h-1.98zM169.35 133.66h1.98v5.85h-1.98zM192.17 133.66h1.98v5.85h-1.98zM198.69 133.66h1.98v5.85h-1.98zM214.99 133.66h1.98v5.85h-1.98zM146.54 139.15h1.98v5.85h-1.98zM156.32 139.15h1.98v5.85h-1.98zM184.02 139.15h1.98v5.85h-1.98zM197.06 139.15h1.98v5.85h-1.98zM123.72 144.65h1.98v5.85h-1.98zM138.39 144.65h1.98v5.85h-1.98zM223.14 144.65h1.98v5.85h-1.98zM89.49 150.14h1.98v5.85h-1.98zM113.94 150.14h1.98v5.85h-1.98zM200.32 150.14h1.98v5.85h-1.98zM223.14 150.14h1.98v5.85h-1.98zM76.45 155.64h1.98v5.85h-1.98zM110.68 161.14h1.98v5.85h-1.98zM157.95 161.14h1.98v5.85h-1.98zM219.88 161.14h1.98v5.85h-1.98zM237.81 161.14h1.98v5.85h-1.98zM68.30 166.63h1.98v5.85h-1.98zM69.93 166.63h1.98v5.85h-1.98zM91.12 166.63h1.98v5.85h-1.98zM138.39 166.63h1.98v5.85h-1.98zM157.95 166.63h1.98v5.85h-1.98zM161.21 166.63h1.98v5.85h-1.98zM198.69 166.63h1.98v5.85h-1.98zM91.12 172.13h1.98v5.85h-1.98zM170.98 172.13h1.98v5.85h-1.98zM197.06 172.13h1.98v5.85h-1.98zM223.14 172.13h1.98v5.85h-1.98zM231.29 172.13h1.98v5.85h-1.98zM68.30 177.63h1.98v5.85h-1.98zM247.59 177.63h1.98v5.85h-1.98zM146.54 183.12h1.98v5.85h-1.98zM162.84 183.12h1.98v5.85h-1.98zM198.69 183.12h1.98v5.85h-1.98zM159.58 188.62h1.98v5.85h-1.98zM161.21 188.62h1.98v5.85h-1.98zM190.54 188.62h1.98v5.85h-1.98zM193.80 188.62h1.98v5.85h-1.98zM208.47 188.62h1.98v5.85h-1.98zM228.03 188.62h1.98v5.85h-1.98zM237.81 188.62h1.98v5.85h-1.98zM141.65 194.12h1.98v5.85h-1.98zM185.65 194.12h1.98v5.85h-1.98zM198.69 194.12h1.98v5.85h-1.98zM205.21 194.12h1.98v5.85h-1.98zM232.92 194.12h1.98v5.85h-1.98zM84.60 199.61h1.98v5.85h-1.98zM107.42 199.61h1.98v5.85h-1.98zM117.20 199.61h1.98v5.85h-1.98zM208.47 199.61h1.98v5.85h-1.98zM241.07 199.61h1.98v5.85h-1.98zM226.40 205.11h1.98v5.85h-1.98zM164.46 210.61h1.98v5.85h-1.98zM234.55 210.61h1.98v5.85h-1.98zM69.93 216.10h1.98v5.85h-1.98z"/>
<path fill="#fceeee" d="M115.57 62.20h1.98v5.85h-1.98zM143.28 62.20h1.98v5.85h-1.98zM169.35 62.20h1.98v5.85h-1.98zM179.13 62.20h1.98v5.85h-1.98zM216.62 62.20h1.98v5.85h-1.98zM126.98 67.70h1.98v5.85h-1.98zM135.13 67.70h1.98v5.85h-1.98zM193.80 67.70h1.98v5.85h-1.98zM197.06 67.70h1.98v5.85h-1.98zM249.22 67.70h1.98v5.85h-1.98zM118.83 73.19h1.98v5.85h-1.98zM213.36 73.19h1.98v5.85h-1.98zM218.25 73.19h1.98v5.85h-1.98zM117.20 78.69h1.98v5.85h-1.98zM141.65 78.69h1.98v5.85h-1.98zM201.95 84.19h1.98v5.85h-1.98zM203.58 84.19h1.98v5.85h-1.98zM231.29 84.19h1.98v5.85h-1.98zM244.33 84.19h1.98v5.85h-1.98zM99.27 89.68h1.98v5.85h-1.98zM169.35 89.68h1.98v5.85h-1.98zM92.75 95.18h1.98v5.85h-1.98zM94.38 95.18h1.98v5.85h-1.98zM143.28 95.18h1.98v5.85h-1.98zM184.02 95.18h1.98v5.85h-1.98zM195.43 95.18h1.98v5.85h-1.98zM242.70 95.18h1.98v5.85h-1.98zM254.11 95.18h1.98v5.85h-1.98zM110.68 100.68h1.98v5.85h-1.98zM180.76 100.68h1.98v5.85h-1.98zM182.39 106.17h1.98v5.85h-1.98zM241.07 106.17h1.98v5.85h-1.98zM110.68 111.67h1.98v5.85h-1.98zM232.92 111.67h1.98v5.85h-1.98zM237.81 111.67h1.98v5.85h-1.98zM120.46 117.17h1.98v5.85h-1.98zM123.72 117.17h1.98v5.85h-1.98zM146.54 117.17h1.98v5.85h-1.98zM198.69 117.17h1.98v5.85h-1.98zM232.92 117.17h1.98v5.85h-1.98zM107.42 128.16h1.98v5.85h-1.98zM159.58 128.16h1.98v5.85h-1.98zM172.61 128.16h1.98v5.85h-1.98zM180.76 128.16h1.98v5.85h-1.98zM237.81 128.16h1.98v5.85h-1.98zM78.08 133.66h1.98v5.85h-1.98zM86.23 133.66h1.98v5.85h-1.98zM110.68 133.66h1.98v5.85h-1.98zM162.84 133.66h1.98v5.85h-1.98zM174.24 133.66h1.98v5.85h-1.98zM203.58 133.66h1.98v5.85h-1.98zM244.33 133.66h1.98v5.85h-1.98zM257.37 133.66h1.98v5.85h-1.98zM133.50 139.15h1.98v5.85h-1.98zM136.76 139.15h1.98v5.85h-1.98zM218.25 139.15h1.98v5.85h-1.98zM166.09 144.65h1.98v5.85h-1.98zM190.54 144.65h1.98v5.85h-1.98zM200.32 144.65h1.98v5.85h-1.98zM201.95 144.65h1.98v5.85h-1.98zM231.29 144.65h1.98v5.85h-1.98zM99.27 150.14h1.98v5.85h-1.98zM109.05 150.14h1.98v5.85h-1.98zM161.21 150.14h1.98v5.85h-1.98zM216.62 150.14h1.98v5.85h-1.98zM219.88 150.14h1.98v5.85h-1.98zM232.92 150.14h1.98v5.85h-1.98zM241.07 150.14h1.98v5.85h-1.98zM177.50 155.64h1.98v5.85h-1.98zM179.13 155.64h1.98v5.85h-1.98zM249.22 155.64h1.98v5.85h-1.98zM206.84 161.14h1.98v5.85h-1.98zM125.35 166.63h1.98v5.85h-1.98zM190.54 166.63h1.98v5.85h-1.98zM97.64 172.13h1.98v5.85h-1.98zM175.87 172.13h1.98v5.85h-1.98zM190.54 172.13h1.98v5.85h-1.98zM200.32 172.13h1.98v5.85h-1.98zM228.03 172.13h1.98v5.85h-1.98zM86.23 177.63h1.98v5.85h-1.98zM131.87 177.63h1.98v5.85h-1.98zM172.61 177.63h1.98v5.85h-1.98zM177.50 177.63h1.98v5.85h-1.98zM205.21 177.63h1.98v5.85h-1.98zM208.47 177.63h1.98v5.85h-1.98zM71.56 183.12h1.98v5.85h-1.98zM135.13 183.12h1.98v5.85h-1.98zM170.98 183.12h1.98v5.85h-1.98zM180.76 188.62h1.98v5.85h-1.98zM229.66 188.62h1.98v5.85h-1.98zM82.97 194.12h1.98v5.85h-1.98zM133.50 194.12h1.98v5.85h-1.98zM177.50 194.12h1.98v5.85h-1.98zM192.17 194.12h1.98v5.85h-1.98zM239.44 194.12h1.98v5.85h-1.98zM96.01 199.61h1.98v5.85h-1.98zM166.09 199.61h1.98v5.85h-1.98zM170.98 199.61h1.98v5.85h-1.98zM200.32 199.61h1.98v5.85h-1.98zM231.29 199.61h1.98v5.85h-1.98zM82.97 205.11h1.98v5.85h-1.98zM102.53 205.11h1.98v5.85h-1.98zM118.83 205.11h1.98v5.85h-1.98zM138.39 205.11h1.98v5.85h-1.98zM161.21 205.11h1.98v5.85h-1.98zM113.94 210.61h1.98v5.85h-1.98zM125.35 210.61h1.98v5.85h-1.98zM126.98 210.61h1.98v5.85h-1.98zM162.84 210.61h1.98v5.85h-1.98zM208.47 210.61h1.98v5.85h-1.98zM232.92 210.61h1.98v5.85h-1.98zM87.86 216.10h1.98v5.85h-1.98zM112.31 216.10h1.98v5.85h-1.98zM149.80 216.10h1.98v5.85h-1.98zM167.72 216.10h1.98v5.85h-1.98zM205.21 216.10h1.98v5.85h-1.98zM211.73 216.10h1.98v5.85h-1.98z"/>
<path fill="#e7e7f3" d="M87.86 62.20h1.98v5.85h-1.98zM140.02 62.20h1.98v5.85h-1.98zM208.47 62.20h1.98v5.85h-1.98zM226.40 62.20h1.98v5.85h-1.98zM237.81 62.20h1.98v5.85h-1.98zM110.68 67.70h1.98v5.85h-1.98zM118.83 67.70h1.98v5.85h-1.98zM123.72 67.70h1.98v5.85h-1.98zM125.35 67.70h1.98v5.85h-1.98zM138.39 67.70h1.98v5.85h-1.98zM153.06 67.70h1.98v5.85h-1.98zM200.32 67.70h1.98v5.85h-1.98zM148.17 73.19h1.98v5.85h-1.98zM156.32 73.19h1.98v5.85h-1.98zM211.73 73.19h1.98v5.85h-1.98zM82.97 78.69h1.98v5.85h-1.98zM102.53 78.69h1.98v5.85h-1.98zM159.58 78.69h1.98v5.85h-1.98zM179.13 78.69h1.98v5.85h-1.98zM208.47 78.69h1.98v5.85h-1.98zM224.77 78.69h1.98v5.85h-1.98zM87.86 84.19h1.98v5.85h-1.98zM115.57 84.19h1.98v5.85h-1.98zM138.39 84.19h1.98v5.85h-1.98zM143.28 84.19h1.98v5.85h-1.98zM172.61 84.19h1.98v5.85h-1.98zM97.64 89.68h1.98v5.85h-1.98zM104.16 89.68h1.98v5.85h-1.98zM112.31 89.68h1.98v5.85h-1.98zM174.24 89.68h1.98v5.85h-1.98zM234.55 89.68h1.98v5.85h-1.98zM69.93 95.18h1.98v5.85h-1.98zM73.19 95.18h1.98v5.85h-1.98zM100.90 95.18h1.98v5.85h-1.98zM105.79 95.18h1.98v5.85h-1.98zM149.80 95.18h1.98v5.85h-1.98zM228.03 95.18h1.98v5.85h-1.98zM234.55 95.18h1.98v5.85h-1.98zM252.48 95.18h1.98v5.85h-1.98zM96.01 100.68h1.98v5.85h-1.98zM118.83 100.68h1.98v5.85h-1.98zM126.98 100.68h1.98v5.85h-1.98zM144.91 100.68h1.98v5.85h-1.98zM193.80 100.68h1.98v5.85h-1.98zM110.68 106.17h1.98v5.85h-1.98zM126.98 106.17h1.98v5.85h-1.98zM144.91 106.17h1.98v5.85h-1.98zM102.53 111.67h1.98v5.85h-1.98zM128.61 111.67h1.98v5.85h-1.98zM131.87 111.67h1.98v5.85h-1.98zM190.54 111.67h1.98v5.85h-1.98zM164.46 117.17h1.98v5.85h-1.98zM180.76 117.17h1.98v5.85h-1.98zM68.30 122.66h1.98v5.85h-1.98zM107.42 122.66h1.98v5.85h-1.98zM126.98 122.66h1.98v5.85h-1.98zM136.76 122.66h1.98v5.85h-1.98zM229.66 122.66h1.98v5.85h-1.98zM244.33 122.66h1.98v5.85h-1.98zM123.72 128.16h1.98v5.85h-1.98zM143.28 128.16h1.98v5.85h-1.98zM115.57 133.66h1.98v5.85h-1.98zM141.65 133.66h1.98v5.85h-1.98zM153.06 133.66h1.98v5.85h-1.98zM161.21 133.66h1.98v5.85h-1.98zM182.39 133.66h1.98v5.85h-1.98zM211.73 133.66h1.98v5.85h-1.98zM216.62 133.66h1.98v5.85h-1.98zM99.27 139.15h1.98v5.85h-1.98zM148.17 139.15h1.98v5.85h-1.98zM182.39 139.15h1.98v5.85h-1.98zM187.28 139.15h1.98v5.85h-1.98zM102.53 144.65h1.98v5.85h-1.98zM193.80 144.65h1.98v5.85h-1.98zM94.38 150.14h1.98v5.85h-1.98zM110.68 150.14h1.98v5.85h-1.98zM195.43 150.14h1.98v5.85h-1.98zM213.36 150.14h1.98v5.85h-1.98zM153.06 155.64h1.98v5.85h-1.98zM167.72 155.64h1.98v5.85h-1.98zM175.87 155.64h1.98v5.85h-1.98zM223.14 155.64h1.98v5.85h-1.98zM68.30 161.14h1.98v5.85h-1.98zM87.86 161.14h1.98v5.85h-1.98zM140.02 161.14h1.98v5.85h-1.98zM92.75 166.63h1.98v5.85h-1.98zM166.09 166.63h1.98v5.85h-1.98zM175.87 166.63h1.98v5.85h-1.98zM180.76 166.63h1.98v5.85h-1.98zM182.39 166.63h1.98v5.85h-1.98zM211.73 166.63h1.98v5.85h-1.98zM79.71 172.13h1.98v5.85h-1.98zM130.24 172.13h1.98v5.85h-1.98zM141.65 172.13h1.98v5.85h-1.98zM159.58 172.13h1.98v5.85h-1.98zM79.71 177.63h1.98v5.85h-1.98zM110.68 177.63h1.98v5.85h-1.98zM125.35 177.63h1.98v5.85h-1.98zM174.24 177.63h1.98v5.85h-1.98zM180.76 177.63h1.98v5.85h-1.98zM236.18 177.63h1.98v5.85h-1.98zM79.71 183.12h1.98v5.85h-1.98zM112.31 183.12h1.98v5.85h-1.98zM126.98 183.12h1.98v5.85h-1.98zM190.54 183.12h1.98v5.85h-1.98zM226.40 183.12h1.98v5.85h-1.98zM135.13 188.62h1.98v5.85h-1.98zM141.65 188.62h1.98v5.85h-1.98zM166.09 188.62h1.98v5.85h-1.98zM195.43 188.62h1.98v5.85h-1.98zM94.38 194.12h1.98v5.85h-1.98zM125.35 194.12h1.98v5.85h-1.98zM197.06 194.12h1.98v5.85h-1.98zM211.73 194.12h1.98v5.85h-1.98zM68.30 199.61h1.98v5.85h-1.98zM133.50 199.61h1.98v5.85h-1.98zM250.85 205.11h1.98v5.85h-1.98zM120.46 210.61h1.98v5.85h-1.98zM135.13 210.61h1.98v5.85h-1.98zM153.06 210.61h1.98v5.85h-1.98zM184.02 210.61h1.98v5.85h-1.98zM193.80 210.61h1.98v5.85h-1.98zM242.70 210.61h1.98v5.85h-1.98zM109.05 216.10h1.98v5.85h-1.98zM113.94 216.10h1.98v5.85h-1.98zM177.50 216.10h1.98v5.85h-1.98zM254.11 216.10h1.98v5.85h-1.98z"/>
<path fill="#fae7e7" d="M141.65 62.20h1.98v5.85h-1.98zM210.10 62.20h1.98v5.85h-1.98zM102.53 67.70h1.98v5.85h-1.98zM148.17 67.70h1.98v5.85h-1.98zM87.86 73.19h1.98v5.85h-1.98zM146.54 73.19h1.98v5.85h-1.98zM195.43 73.19h1.98v5.85h-1.98zM234.55 73.19h1.98v5.85h-1.98zM257.37 73.19h1.98v5.85h-1.98zM105.79 78.69h1.98v5.85h-1.98zM169.35 78.69h1.98v5.85h-1.98zM180.76 78.69h1.98v5.85h-1.98zM232.92 78.69h1.98v5.85h-1.98zM250.85 78.69h1.98v5.85h-1.98zM180.76 84.19h1.98v5.85h-1.98zM218.25 84.19h1.98v5.85h-1.98zM245.96 84.19h1.98v5.85h-1.98zM179.13 89.68h1.98v5.85h-1.98zM193.80 89.68h1.98v5.85h-1.98zM228.03 89.68h1.98v5.85h-1.98zM192.17 95.18h1.98v5.85h-1.98zM223.14 100.68h1.98v5.85h-1.98zM224.77 100.68h1.98v5.85h-1.98zM234.55 100.68h1.98v5.85h-1.98zM255.74 106.17h1.98v5.85h-1.98zM157.95 111.67h1.98v5.85h-1.98zM195.43 111.67h1.98v5.85h-1.98zM231.29 111.67h1.98v5.85h-1.98zM122.09 117.17h1.98v5.85h-1.98zM172.61 117.17h1.98v5.85h-1.98zM182.39 117.17h1.98v5.85h-1.98zM193.80 117.17h1.98v5.85h-1.98zM213.36 117.17h1.98v5.85h-1.98zM229.66 117.17h1.98v5.85h-1.98zM237.81 117.17h1.98v5.85h-1.98zM255.74 117.17h1.98v5.85h-1.98zM89.49 122.66h1.98v5.85h-1.98zM105.79 122.66h1.98v5.85h-1.98zM193.80 122.66h1.98v5.85h-1.98zM221.51 122.66h1.98v5.85h-1.98zM226.40 122.66h1.98v5.85h-1.98zM250.85 122.66h1.98v5.85h-1.98zM92.75 128.16h1.98v5.85h-1.98zM94.38 128.16h1.98v5.85h-1.98zM122.09 128.16h1.98v5.85h-1.98zM197.06 128.16h1.98v5.85h-1.98zM203.58 128.16h1.98v5.85h-1.98zM245.96 128.16h1.98v5.85h-1.98zM94.38 133.66h1.98v5.85h-1.98zM197.06 133.66h1.98v5.85h-1.98zM232.92 133.66h1.98v5.85h-1.98zM241.07 139.15h1.98v5.85h-1.98zM177.50 144.65h1.98v5.85h-1.98zM187.28 144.65h1.98v5.85h-1.98zM84.60 150.14h1.98v5.85h-1.98zM188.91 150.14h1.98v5.85h-1.98zM170.98 155.64h1.98v5.85h-1.98zM123.72 161.14h1.98v5.85h-1.98zM195.43 161.14h1.98v5.85h-1.98zM197.06 161.14h1.98v5.85h-1.98zM141.65 166.63h1.98v5.85h-1.98zM149.80 166.63h1.98v5.85h-1.98zM170.98 166.63h1.98v5.85h-1.98zM197.06 166.63h1.98v5.85h-1.98zM223.14 166.63h1.98v5.85h-1.98zM231.29 166.63h1.98v5.85h-1.98zM89.49 172.13h1.98v5.85h-1.98zM105.79 172.13h1.98v5.85h-1.98zM172.61 172.13h1.98v5.85h-1.98zM201.95 172.13h1.98v5.85h-1.98zM206.84 172.13h1.98v5.85h-1.98zM234.55 172.13h1.98v5.85h-1.98zM241.07 172.13h1.98v5.85h-1.98zM247.59 172.13h1.98v5.85h-1.98zM254.11 172.13h1.98v5.85h-1.98zM118.83 177.63h1.98v5.85h-1.98zM239.44 177.63h1.98v5.85h-1.98zM180.76 183.12h1.98v5.85h-1.98zM221.51 183.12h1.98v5.85h-1.98zM241.07 183.12h1.98v5.85h-1.98zM250.85 183.12h1.98v5.85h-1.98zM172.61 188.62h1.98v5.85h-1.98zM170.98 194.12h1.98v5.85h-1.98zM242.70 194.12h1.98v5.85h-1.98zM252.48 194.12h1.98v5.85h-1.98zM87.86 199.61h1.98v5.85h-1.98zM198.69 199.61h1.98v5.85h-1.98zM223.14 199.61h1.98v5.85h-1.98zM228.03 199.61h1.98v5.85h-1.98zM87.86 205.11h1.98v5.85h-1.98zM143.28 205.11h1.98v5.85h-1.98zM149.80 205.11h1.98v5.85h-1.98zM156.32 205.11h1.98v5.85h-1.98zM167.72 205.11h1.98v5.85h-1.98zM182.39 205.11h1.98v5.85h-1.98zM205.21 205.11h1.98v5.85h-1.98zM224.77 205.11h1.98v5.85h-1.98zM69.93 210.61h1.98v5.85h-1.98zM133.50 210.61h1.98v5.85h-1.98zM143.28 210.61h1.98v5.85h-1.98zM214.99 210.61h1.98v5.85h-1.98zM231.29 210.61h1.98v5.85h-1.98zM241.07 210.61h1.98v5.85h-1.98zM94.38 216.10h1.98v5.85h-1.98zM105.79 216.10h1.98v5.85h-1.98zM117.20 216.10h1.98v5.85h-1.98zM153.06 216.10h1.98v5.85h-1.98zM179.13 216.10h1.98v5.85h-1.98zM184.02 216.10h1.98v5.85h-1.98zM195.43 216.10h1.98v5.85h-1.98z"/>
<path fill="#e0e0f0" d="M113.94 62.20h1.98v5.85h-1.98zM118.83 62.20h1.98v5.85h-1.98zM144.91 62.20h1.98v5.85h-1.98zM203.58 62.20h1.98v5.85h-1.98zM229.66 62.20h1.98v5.85h-1.98zM78.08 67.70h1.98v5.85h-1.98zM89.49 67.70h1.98v5.85h-1.98zM99.27 67.70h1.98v5.85h-1.98zM245.96 67.70h1.98v5.85h-1.98zM133.50 73.19h1.98v5.85h-1.98zM167.72 73.19h1.98v5.85h-1.98zM210.10 73.19h1.98v5.85h-1.98zM255.74 73.19h1.98v5.85h-1.98zM104.16 78.69h1.98v5.85h-1.98zM223.14 78.69h1.98v5.85h-1.98zM130.24 84.19h1.98v5.85h-1.98zM141.65 84.19h1.98v5.85h-1.98zM144.91 84.19h1.98v5.85h-1.98zM157.95 84.19h1.98v5.85h-1.98zM153.06 89.68h1.98v5.85h-1.98zM157.95 89.68h1.98v5.85h-1.98zM162.84 89.68h1.98v5.85h-1.98zM188.91 89.68h1.98v5.85h-1.98zM197.06 89.68h1.98v5.85h-1.98zM82.97 95.18h1.98v5.85h-1.98zM113.94 95.18h1.98v5.85h-1.98zM115.57 95.18h1.98v5.85h-1.98zM122.09 95.18h1.98v5.85h-1.98zM140.02 95.18h1.98v5.85h-1.98zM157.95 95.18h1.98v5.85h-1.98zM245.96 95.18h1.98v5.85h-1.98zM87.86 100.68h1.98v5.85h-1.98zM135.13 100.68h1.98v5.85h-1.98zM136.76 100.68h1.98v5.85h-1.98zM200.32 100.68h1.98v5.85h-1.98zM115.57 106.17h1.98v5.85h-1.98zM175.87 106.17h1.98v5.85h-1.98zM177.50 106.17h1.98v5.85h-1.98zM228.03 106.17h1.98v5.85h-1.98zM254.11 106.17h1.98v5.85h-1.98zM69.93 111.67h1.98v5.85h-1.98zM117.20 111.67h1.98v5.85h-1.98zM203.58 111.67h1.98v5.85h-1.98zM208.47 111.67h1.98v5.85h-1.98zM96.01 117.17h1.98v5.85h-1.98zM130.24 117.17h1.98v5.85h-1.98zM156.32 117.17h1.98v5.85h-1.98zM78.08 122.66h1.98v5.85h-1.98zM138.39 122.66h1.98v5.85h-1.98zM141.65 122.66h1.98v5.85h-1.98zM188.91 122.66h1.98v5.85h-1.98zM197.06 122.66h1.98v5.85h-1.98zM113.94 128.16h1.98v5.85h-1.98zM141.65 128.16h1.98v5.85h-1.98zM144.91 128.16h1.98v5.85h-1.98zM170.98 128.16h1.98v5.85h-1.98zM205.21 128.16h1.98v5.85h-1.98zM96.01 133.66h1.98v5.85h-1.98zM128.61 133.66h1.98v5.85h-1.98zM170.98 133.66h1.98v5.85h-1.98zM184.02 133.66h1.98v5.85h-1.98zM187.28 133.66h1.98v5.85h-1.98zM69.93 139.15h1.98v5.85h-1.98zM94.38 139.15h1.98v5.85h-1.98zM151.43 139.15h1.98v5.85h-1.98zM188.91 139.15h1.98v5.85h-1.98zM192.17 139.15h1.98v5.85h-1.98zM120.46 144.65h1.98v5.85h-1.98zM144.91 144.65h1.98v5.85h-1.98zM170.98 144.65h1.98v5.85h-1.98zM216.62 144.65h1.98v5.85h-1.98zM71.56 150.14h1.98v5.85h-1.98zM96.01 150.14h1.98v5.85h-1.98zM136.76 150.14h1.98v5.85h-1.98zM149.80 150.14h1.98v5.85h-1.98zM159.58 150.14h1.98v5.85h-1.98zM73.19 155.64h1.98v5.85h-1.98zM84.60 155.64h1.98v5.85h-1.98zM144.91 155.64h1.98v5.85h-1.98zM188.91 155.64h1.98v5.85h-1.98zM135.13 161.14h1.98v5.85h-1.98zM136.76 161.14h1.98v5.85h-1.98zM104.16 166.63h1.98v5.85h-1.98zM115.57 166.63h1.98v5.85h-1.98zM81.34 172.13h1.98v5.85h-1.98zM87.86 172.13h1.98v5.85h-1.98zM154.69 172.13h1.98v5.85h-1.98zM213.36 172.13h1.98v5.85h-1.98zM69.93 177.63h1.98v5.85h-1.98zM138.39 177.63h1.98v5.85h-1.98zM188.91 177.63h1.98v5.85h-1.98zM113.94 183.12h1.98v5.85h-1.98zM154.69 183.12h1.98v5.85h-1.98zM179.13 183.12h1.98v5.85h-1.98zM130.24 188.62h1.98v5.85h-1.98zM213.36 188.62h1.98v5.85h-1.98zM218.25 188.62h1.98v5.85h-1.98zM241.07 188.62h1.98v5.85h-1.98zM109.05 194.12h1.98v5.85h-1.98zM140.02 194.12h1.98v5.85h-1.98zM214.99 194.12h1.98v5.85h-1.98zM78.08 199.61h1.98v5.85h-1.98zM118.83 199.61h1.98v5.85h-1.98zM125.35 199.61h1.98v5.85h-1.98zM174.24 199.61h1.98v5.85h-1.98zM105.79 205.11h1.98v5.85h-1.98zM131.87 205.11h1.98v5.85h-1.98zM154.69 205.11h1.98v5.85h-1.98zM164.46 205.11h1.98v5.85h-1.98zM170.98 205.11h1.98v5.85h-1.98zM179.13 205.11h1.98v5.85h-1.98zM229.66 205.11h1.98v5.85h-1.98zM123.72 210.61h1.98v5.85h-1.98zM140.02 210.61h1.98v5.85h-1.98zM141.65 210.61h1.98v5.85h-1.98zM149.80 210.61h1.98v5.85h-1.98zM198.69 210.61h1.98v5.85h-1.98zM115.57 216.10h1.98v5.85h-1.98zM133.50 216.10h1.98v5.85h-1.98zM138.39 216.10h1.98v5.85h-1.98zM164.46 216.10h1.98v5.85h-1.98zM172.61 216.10h1.98v5.85h-1.98zM206.84 216.10h1.98v5.85h-1.98zM241.07 216.10h1.98v5.85h-1.98z"/>
<path fill="#f9e0e0" d="M172.61 62.20h1.98v5.85h-1.98zM195.43 62.20h1.98v5.85h-1.98zM244.33 62.20h1.98v5.85h-1.98zM149.80 67.70h1.98v5.85h-1.98zM157.95 67.70h1.98v5.85h-1.98zM161.21 67.70h1.98v5.85h-1.98zM169.35 67.70h1.98v5.85h-1.98zM174.24 67.70h1.98v5.85h-1.98zM223.14 67.70h1.98v5.85h-1.98zM115.57 73.19h1.98v5.85h-1.98zM117.20 73.19h1.98v5.85h-1.98zM159.58 73.19h1.98v5.85h-1.98zM252.48 73.19h1.98v5.85h-1.98zM130.24 78.69h1.98v5.85h-1.98zM184.02 78.69h1.98v5.85h-1.98zM229.66 78.69h1.98v5.85h-1.98zM242.70 78.69h1.98v5.85h-1.98zM97.64 84.19h1.98v5.85h-1.98zM216.62 84.19h1.98v5.85h-1.98zM143.28 89.68h1.98v5.85h-1.98zM180.76 95.18h1.98v5.85h-1.98zM187.28 95.18h1.98v5.85h-1.98zM201.95 95.18h1.98v5.85h-1.98zM219.88 95.18h1.98v5.85h-1.98zM97.64 100.68h1.98v5.85h-1.98zM156.32 100.68h1.98v5.85h-1.98zM167.72 100.68h1.98v5.85h-1.98zM185.65 100.68h1.98v5.85h-1.98zM255.74 100.68h1.98v5.85h-1.98zM179.13 106.17h1.98v5.85h-1.98zM92.75 111.67h1.98v5.85h-1.98zM205.21 111.67h1.98v5.85h-1.98zM234.55 111.67h1.98v5.85h-1.98zM82.97 117.17h1.98v5.85h-1.98zM144.91 117.17h1.98v5.85h-1.98zM157.95 117.17h1.98v5.85h-1.98zM203.58 117.17h1.98v5.85h-1.98zM205.21 117.17h1.98v5.85h-1.98zM208.47 117.17h1.98v5.85h-1.98zM99.27 122.66h1.98v5.85h-1.98zM187.28 122.66h1.98v5.85h-1.98zM188.91 128.16h1.98v5.85h-1.98zM125.35 133.66h1.98v5.85h-1.98zM190.54 133.66h1.98v5.85h-1.98zM213.36 133.66h1.98v5.85h-1.98zM141.65 139.15h1.98v5.85h-1.98zM239.44 139.15h1.98v5.85h-1.98zM167.72 144.65h1.98v5.85h-1.98zM213.36 144.65h1.98v5.85h-1.98zM218.25 144.65h1.98v5.85h-1.98zM133.50 150.14h1.98v5.85h-1.98zM224.77 150.14h1.98v5.85h-1.98zM229.66 150.14h1.98v5.85h-1.98zM254.11 150.14h1.98v5.85h-1.98zM184.02 155.64h1.98v5.85h-1.98zM74.82 161.14h1.98v5.85h-1.98zM89.49 161.14h1.98v5.85h-1.98zM99.27 161.14h1.98v5.85h-1.98zM169.35 161.14h1.98v5.85h-1.98zM200.32 161.14h1.98v5.85h-1.98zM205.21 161.14h1.98v5.85h-1.98zM229.66 161.14h1.98v5.85h-1.98zM241.07 161.14h1.98v5.85h-1.98zM110.68 166.63h1.98v5.85h-1.98zM143.28 166.63h1.98v5.85h-1.98zM245.96 166.63h1.98v5.85h-1.98zM74.82 172.13h1.98v5.85h-1.98zM216.62 172.13h1.98v5.85h-1.98zM218.25 172.13h1.98v5.85h-1.98zM81.34 177.63h1.98v5.85h-1.98zM151.43 177.63h1.98v5.85h-1.98zM179.13 177.63h1.98v5.85h-1.98zM169.35 183.12h1.98v5.85h-1.98zM188.91 183.12h1.98v5.85h-1.98zM239.44 183.12h1.98v5.85h-1.98zM102.53 188.62h1.98v5.85h-1.98zM255.74 188.62h1.98v5.85h-1.98zM79.71 194.12h1.98v5.85h-1.98zM89.49 194.12h1.98v5.85h-1.98zM117.20 194.12h1.98v5.85h-1.98zM216.62 194.12h1.98v5.85h-1.98zM237.81 194.12h1.98v5.85h-1.98zM149.80 199.61h1.98v5.85h-1.98zM236.18 199.61h1.98v5.85h-1.98zM68.30 205.11h1.98v5.85h-1.98zM84.60 205.11h1.98v5.85h-1.98zM174.24 205.11h1.98v5.85h-1.98zM68.30 210.61h1.98v5.85h-1.98zM87.86 210.61h1.98v5.85h-1.98zM112.31 210.61h1.98v5.85h-1.98zM179.13 210.61h1.98v5.85h-1.98zM82.97 216.10h1.98v5.85h-1.98zM97.64 216.10h1.98v5.85h-1.98zM141.65 216.10h1.98v5.85h-1.98zM161.21 216.10h1.98v5.85h-1.98zM192.17 216.10h1.98v5.85h-1.98z"/>
<path fill="#f7d9d9" d="M100.90 62.20h1.98v5.85h-1.98zM164.46 62.20h1.98v5.85h-1.98zM71.56 67.70h1.98v5.85h-1.98zM141.65 67.70h1.98v5.85h-1.98zM151.43 67.70h1.98v5.85h-1.98zM74.82 73.19h1.98v5.85h-1.98zM102.53 73.19h1.98v5.85h-1.98zM206.84 73.19h1.98v5.85h-1.98zM226.40 73.19h1.98v5.85h-1.98zM229.66 73.19h1.98v5.85h-1.98zM198.69 78.69h1.98v5.85h-1.98zM76.45 89.68h1.98v5.85h-1.98zM223.14 89.68h1.98v5.85h-1.98zM255.74 89.68h1.98v5.85h-1.98zM250.85 95.18h1.98v5.85h-1.98zM122.09 100.68h1.98v5.85h-1.98zM218.25 100.68h1.98v5.85h-1.98zM226.40 100.68h1.98v5.85h-1.98zM231.29 100.68h1.98v5.85h-1.98zM187.28 106.17h1.98v5.85h-1.98zM136.76 111.67h1.98v5.85h-1.98zM169.35 111.67h1.98v5.85h-1.98zM241.07 111.67h1.98v5.85h-1.98zM125.35 117.17h1.98v5.85h-1.98zM179.13 117.17h1.98v5.85h-1.98zM234.55 117.17h1.98v5.85h-1.98zM81.34 122.66h1.98v5.85h-1.98zM234.55 122.66h1.98v5.85h-1.98zM254.11 122.66h1.98v5.85h-1.98zM100.90 128.16h1.98v5.85h-1.98zM133.50 128.16h1.98v5.85h-1.98zM184.02 128.16h1.98v5.85h-1.98zM198.69 128.16h1.98v5.85h-1.98zM213.36 128.16h1.98v5.85h-1.98zM250.85 128.16h1.98v5.85h-1.98zM167.72 133.66h1.98v5.85h-1.98zM140.02 139.15h1.98v5.85h-1.98zM180.76 139.15h1.98v5.85h-1.98zM244.33 139.15h1.98v5.85h-1.98zM131.87 144.65h1.98v5.85h-1.98zM184.02 144.65h1.98v5.85h-1.98zM229.66 144.65h1.98v5.85h-1.98zM198.69 150.14h1.98v5.85h-1.98zM205.21 150.14h1.98v5.85h-1.98zM74.82 155.64h1.98v5.85h-1.98zM89.49 155.64h1.98v5.85h-1.98zM118.83 155.64h1.98v5.85h-1.98zM221.51 155.64h1.98v5.85h-1.98zM231.29 161.14h1.98v5.85h-1.98zM87.86 166.63h1.98v5.85h-1.98zM210.10 166.63h1.98v5.85h-1.98zM205.21 172.13h1.98v5.85h-1.98zM226.40 177.63h1.98v5.85h-1.98zM237.81 177.63h1.98v5.85h-1.98zM211.73 183.12h1.98v5.85h-1.98zM231.29 183.12h1.98v5.85h-1.98zM149.80 188.62h1.98v5.85h-1.98zM175.87 188.62h1.98v5.85h-1.98zM254.11 188.62h1.98v5.85h-1.98zM156.32 194.12h1.98v5.85h-1.98zM206.84 194.12h1.98v5.85h-1.98zM89.49 199.61h1.98v5.85h-1.98zM237.81 199.61h1.98v5.85h-1.98zM96.01 205.11h1.98v5.85h-1.98zM239.44 205.11h1.98v5.85h-1.98zM99.27 210.61h1.98v5.85h-1.98zM100.90 210.61h1.98v5.85h-1.98zM117.20 210.61h1.98v5.85h-1.98zM78.08 216.10h1.98v5.85h-1.98zM104.16 216.10h1.98v5.85h-1.98zM118.83 216.10h1.98v5.85h-1.98zM148.17 216.10h1.98v5.85h-1.98z"/>
<path fill="#d8d8ec" d="M122.09 62.20h1.98v5.85h-1.98zM157.95 62.20h1.98v5.85h-1.98zM170.98 62.20h1.98v5.85h-1.98zM174.24 62.20h1.98v5.85h-1.98zM223.14 62.20h1.98v5.85h-1.98zM74.82 67.70h1.98v5.85h-1.98zM185.65 67.70h1.98v5.85h-1.98zM190.54 67.70h1.98v5.85h-1.98zM201.95 67.70h1.98v5.85h-1.98zM203.58 67.70h1.98v5.85h-1.98zM206.84 67.70h1.98v5.85h-1.98zM86.23 73.19h1.98v5.85h-1.98zM109.05 73.19h1.98v5.85h-1.98zM135.13 73.19h1.98v5.85h-1.98zM161.21 73.19h1.98v5.85h-1.98zM188.91 73.19h1.98v5.85h-1.98zM208.47 73.19h1.98v5.85h-1.98zM100.90 78.69h1.98v5.85h-1.98zM113.94 78.69h1.98v5.85h-1.98zM177.50 78.69h1.98v5.85h-1.98zM187.28 78.69h1.98v5.85h-1.98zM201.95 78.69h1.98v5.85h-1.98zM159.58 84.19h1.98v5.85h-1.98zM79.71 89.68h1.98v5.85h-1.98zM180.76 89.68h1.98v5.85h-1.98zM184.02 89.68h1.98v5.85h-1.98zM78.08 95.18h1.98v5.85h-1.98zM102.53 95.18h1.98v5.85h-1.98zM133.50 95.18h1.98v5.85h-1.98zM161.21 95.18h1.98v5.85h-1.98zM82.97 100.68h1.98v5.85h-1.98zM109.05 100.68h1.98v5.85h-1.98zM120.46 100.68h1.98v5.85h-1.98zM125.35 100.68h1.98v5.85h-1.98zM157.95 100.68h1.98v5.85h-1.98zM205.21 100.68h1.98v5.85h-1.98zM76.45 106.17h1.98v5.85h-1.98zM105.79 111.67h1.98v5.85h-1.98zM130.24 111.67h1.98v5.85h-1.98zM143.28 111.67h1.98v5.85h-1.98zM184.02 111.67h1.98v5.85h-1.98zM201.95 111.67h1.98v5.85h-1.98zM219.88 111.67h1.98v5.85h-1.98zM236.18 111.67h1.98v5.85h-1.98zM79.71 117.17h1.98v5.85h-1.98zM133.50 117.17h1.98v5.85h-1.98zM136.76 117.17h1.98v5.85h-1.98zM159.58 117.17h1.98v5.85h-1.98zM84.60 122.66h1.98v5.85h-1.98zM113.94 122.66h1.98v5.85h-1.98zM71.56 128.16h1.98v5.85h-1.98zM112.31 128.16h1.98v5.85h-1.98zM149.80 128.16h1.98v5.85h-1.98zM206.84 128.16h1.98v5.85h-1.98zM84.60 133.66h1.98v5.85h-1.98zM91.12 133.66h1.98v5.85h-1.98zM99.27 133.66h1.98v5.85h-1.98zM112.31 133.66h1.98v5.85h-1.98zM133.50 133.66h1.98v5.85h-1.98zM146.54 133.66h1.98v5.85h-1.98zM151.43 133.66h1.98v5.85h-1.98zM154.69 133.66h1.98v5.85h-1.98zM86.23 144.65h1.98v5.85h-1.98zM96.01 144.65h1.98v5.85h-1.98zM122.09 150.14h1.98v5.85h-1.98zM148.17 150.14h1.98v5.85h-1.98zM156.32 150.14h1.98v5.85h-1.98zM175.87 150.14h1.98v5.85h-1.98zM182.39 150.14h1.98v5.85h-1.98zM185.65 150.14h1.98v5.85h-1.98zM68.30 155.64h1.98v5.85h-1.98zM100.90 155.64h1.98v5.85h-1.98zM113.94 155.64h1.98v5.85h-1.98zM128.61 155.64h1.98v5.85h-1.98zM78.08 161.14h1.98v5.85h-1.98zM151.43 166.63h1.98v5.85h-1.98zM177.50 166.63h1.98v5.85h-1.98zM232.92 166.63h1.98v5.85h-1.98zM99.27 172.13h1.98v5.85h-1.98zM122.09 172.13h1.98v5.85h-1.98zM125.35 172.13h1.98v5.85h-1.98zM143.28 172.13h1.98v5.85h-1.98zM148.17 172.13h1.98v5.85h-1.98zM193.80 172.13h1.98v5.85h-1.98zM229.66 172.13h1.98v5.85h-1.98zM91.12 177.63h1.98v5.85h-1.98zM140.02 177.63h1.98v5.85h-1.98zM245.96 177.63h1.98v5.85h-1.98zM69.93 183.12h1.98v5.85h-1.98zM96.01 183.12h1.98v5.85h-1.98zM97.64 183.12h1.98v5.85h-1.98zM197.06 183.12h1.98v5.85h-1.98zM99.27 188.62h1.98v5.85h-1.98zM169.35 188.62h1.98v5.85h-1.98zM206.84 188.62h1.98v5.85h-1.98zM136.76 199.61h1.98v5.85h-1.98zM156.32 199.61h1.98v5.85h-1.98zM177.50 199.61h1.98v5.85h-1.98zM206.84 199.61h1.98v5.85h-1.98zM213.36 199.61h1.98v5.85h-1.98zM73.19 205.11h1.98v5.85h-1.98zM120.46 205.11h1.98v5.85h-1.98zM216.62 205.11h1.98v5.85h-1.98zM231.29 205.11h1.98v5.85h-1.98zM216.62 210.61h1.98v5.85h-1.98zM151.43 216.10h1.98v5.85h-1.98zM190.54 216.10h1.98v5.85h-1.98zM193.80 216.10h1.98v5.85h-1.98zM236.18 216.10h1.98v5.85h-1.98z"/>
<path fill="#d0d0e8" d="M71.56 62.20h1.98v5.85h-1.98zM82.97 62.20h1.98v5.85h-1.98zM91.12 62.20h1.98v5.85h-1.98zM154.69 62.20h1.98v5.85h-1.98zM185.65 62.20h1.98v5.85h-1.98zM221.51 62.20h1.98v5.85h-1.98zM86.23 67.70h1.98v5.85h-1.98zM107.42 67.70h1.98v5.85h-1.98zM198.69 67.70h1.98v5.85h-1.98zM244.33 67.70h1.98v5.85h-1.98zM157.95 73.19h1.98v5.85h-1.98zM180.76 73.19h1.98v5.85h-1.98zM136.76 78.69h1.98v5.85h-1.98zM170.98 78.69h1.98v5.85h-1.98zM193.80 78.69h1.98v5.85h-1.98zM255.74 78.69h1.98v5.85h-1.98zM96.01 84.19h1.98v5.85h-1.98zM105.79 84.19h1.98v5.85h-1.98zM149.80 84.19h1.98v5.85h-1.98zM154.69 84.19h1.98v5.85h-1.98zM197.06 84.19h1.98v5.85h-1.98zM125.35 89.68h1.98v5.85h-1.98zM141.65 89.68h1.98v5.85h-1.98zM144.91 89.68h1.98v5.85h-1.98zM154.69 89.68h1.98v5.85h-1.98zM177.50 89.68h1.98v5.85h-1.98zM79.71 95.18h1.98v5.85h-1.98zM107.42 95.18h1.98v5.85h-1.98zM138.39 95.18h1.98v5.85h-1.98zM151.43 95.18h1.98v5.85h-1.98zM170.98 95.18h1.98v5.85h-1.98zM177.50 95.18h1.98v5.85h-1.98zM208.47 95.18h1.98v5.85h-1.98zM79.71 100.68h1.98v5.85h-1.98zM133.50 100.68h1.98v5.85h-1.98zM162.84 100.68h1.98v5.85h-1.98zM210.10 100.68h1.98v5.85h-1.98zM96.01 106.17h1.98v5.85h-1.98zM107.42 106.17h1.98v5.85h-1.98zM138.39 106.17h1.98v5.85h-1.98zM120.46 111.67h1.98v5.85h-1.98zM141.65 111.67h1.98v5.85h-1.98zM180.76 111.67h1.98v5.85h-1.98zM74.82 117.17h1.98v5.85h-1.98zM84.60 117.17h1.98v5.85h-1.98zM91.12 117.17h1.98v5.85h-1.98zM115.57 117.17h1.98v5.85h-1.98zM153.06 117.17h1.98v5.85h-1.98zM174.24 117.17h1.98v5.85h-1.98zM214.99 117.17h1.98v5.85h-1.98zM216.62 117.17h1.98v5.85h-1.98zM73.19 122.66h1.98v5.85h-1.98zM102.53 122.66h1.98v5.85h-1.98zM110.68 122.66h1.98v5.85h-1.98zM205.21 122.66h1.98v5.85h-1.98zM232.92 122.66h1.98v5.85h-1.98zM76.45 128.16h1.98v5.85h-1.98zM79.71 128.16h1.98v5.85h-1.98zM96.01 128.16h1.98v5.85h-1.98zM154.69 128.16h1.98v5.85h-1.98zM162.84 128.16h1.98v5.85h-1.98zM174.24 128.16h1.98v5.85h-1.98zM192.17 128.16h1.98v5.85h-1.98zM214.99 128.16h1.98v5.85h-1.98zM164.46 133.66h1.98v5.85h-1.98zM179.13 133.66h1.98v5.85h-1.98zM97.64 139.15h1.98v5.85h-1.98zM105.79 139.15h1.98v5.85h-1.98zM172.61 139.15h1.98v5.85h-1.98zM110.68 144.65h1.98v5.85h-1.98zM148.17 144.65h1.98v5.85h-1.98zM81.34 150.14h1.98v5.85h-1.98zM81.34 155.64h1.98v5.85h-1.98zM109.05 155.64h1.98v5.85h-1.98zM133.50 155.64h1.98v5.85h-1.98zM136.76 155.64h1.98v5.85h-1.98zM216.62 155.64h1.98v5.85h-1.98zM92.75 161.14h1.98v5.85h-1.98zM164.46 161.14h1.98v5.85h-1.98zM166.09 161.14h1.98v5.85h-1.98zM180.76 161.14h1.98v5.85h-1.98zM94.38 166.63h1.98v5.85h-1.98zM102.53 166.63h1.98v5.85h-1.98zM144.91 166.63h1.98v5.85h-1.98zM84.60 172.13h1.98v5.85h-1.98zM135.13 172.13h1.98v5.85h-1.98zM162.84 172.13h1.98v5.85h-1.98zM166.09 172.13h1.98v5.85h-1.98zM100.90 177.63h1.98v5.85h-1.98zM107.42 177.63h1.98v5.85h-1.98zM133.50 177.63h1.98v5.85h-1.98zM146.54 177.63h1.98v5.85h-1.98zM153.06 177.63h1.98v5.85h-1.98zM210.10 177.63h1.98v5.85h-1.98zM84.60 183.12h1.98v5.85h-1.98zM102.53 183.12h1.98v5.85h-1.98zM223.14 183.12h1.98v5.85h-1.98zM112.31 188.62h1.98v5.85h-1.98zM113.94 188.62h1.98v5.85h-1.98zM125.35 188.62h1.98v5.85h-1.98zM138.39 188.62h1.98v5.85h-1.98zM73.19 194.12h1.98v5.85h-1.98zM87.86 194.12h1.98v5.85h-1.98zM148.17 194.12h1.98v5.85h-1.98zM149.80 194.12h1.98v5.85h-1.98zM159.58 194.12h1.98v5.85h-1.98zM184.02 194.12h1.98v5.85h-1.98zM86.23 199.61h1.98v5.85h-1.98zM109.05 199.61h1.98v5.85h-1.98zM130.24 199.61h1.98v5.85h-1.98zM133.50 205.11h1.98v5.85h-1.98zM237.81 205.11h1.98v5.85h-1.98zM185.65 210.61h1.98v5.85h-1.98zM244.33 210.61h1.98v5.85h-1.98zM107.42 216.10h1.98v5.85h-1.98zM203.58 216.10h1.98v5.85h-1.98zM229.66 216.10h1.98v5.85h-1.98z"/>
<path fill="#f6d1d1" d="M149.80 62.20h1.98v5.85h-1.98zM214.99 62.20h1.98v5.85h-1.98zM143.28 67.70h1.98v5.85h-1.98zM214.99 67.70h1.98v5.85h-1.98zM257.37 67.70h1.98v5.85h-1.98zM213.36 78.69h1.98v5.85h-1.98zM99.27 84.19h1.98v5.85h-1.98zM188.91 84.19h1.98v5.85h-1.98zM232.92 84.19h1.98v5.85h-1.98zM185.65 89.68h1.98v5.85h-1.98zM205.21 89.68h1.98v5.85h-1.98zM211.73 89.68h1.98v5.85h-1.98zM239.44 89.68h1.98v5.85h-1.98zM135.13 95.18h1.98v5.85h-1.98zM170.98 100.68h1.98v5.85h-1.98zM187.28 100.68h1.98v5.85h-1.98zM206.84 100.68h1.98v5.85h-1.98zM229.66 100.68h1.98v5.85h-1.98zM237.81 100.68h1.98v5.85h-1.98zM172.61 111.67h1.98v5.85h-1.98zM213.36 111.67h1.98v5.85h-1.98zM104.16 117.17h1.98v5.85h-1.98zM224.77 117.17h1.98v5.85h-1.98zM245.96 117.17h1.98v5.85h-1.98zM74.82 122.66h1.98v5.85h-1.98zM94.38 122.66h1.98v5.85h-1.98zM179.13 122.66h1.98v5.85h-1.98zM219.88 128.16h1.98v5.85h-1.98zM224.77 128.16h1.98v5.85h-1.98zM226.40 133.66h1.98v5.85h-1.98zM229.66 133.66h1.98v5.85h-1.98zM203.58 139.15h1.98v5.85h-1.98zM224.77 139.15h1.98v5.85h-1.98zM228.03 139.15h1.98v5.85h-1.98zM219.88 144.65h1.98v5.85h-1.98zM102.53 150.14h1.98v5.85h-1.98zM201.95 150.14h1.98v5.85h-1.98zM203.58 150.14h1.98v5.85h-1.98zM239.44 150.14h1.98v5.85h-1.98zM130.24 155.64h1.98v5.85h-1.98zM140.02 155.64h1.98v5.85h-1.98zM71.56 161.14h1.98v5.85h-1.98zM252.48 161.14h1.98v5.85h-1.98zM216.62 166.63h1.98v5.85h-1.98zM242.70 166.63h1.98v5.85h-1.98zM247.59 166.63h1.98v5.85h-1.98zM157.95 172.13h1.98v5.85h-1.98zM180.76 172.13h1.98v5.85h-1.98zM232.92 172.13h1.98v5.85h-1.98zM201.95 177.63h1.98v5.85h-1.98zM219.88 177.63h1.98v5.85h-1.98zM234.55 177.63h1.98v5.85h-1.98zM141.65 183.12h1.98v5.85h-1.98zM184.02 183.12h1.98v5.85h-1.98zM187.28 183.12h1.98v5.85h-1.98zM224.77 183.12h1.98v5.85h-1.98zM237.81 183.12h1.98v5.85h-1.98zM71.56 188.62h1.98v5.85h-1.98zM197.06 188.62h1.98v5.85h-1.98zM210.10 188.62h1.98v5.85h-1.98zM226.40 188.62h1.98v5.85h-1.98zM184.02 199.61h1.98v5.85h-1.98zM190.54 199.61h1.98v5.85h-1.98zM226.40 199.61h1.98v5.85h-1.98zM76.45 205.11h1.98v5.85h-1.98zM117.20 205.11h1.98v5.85h-1.98zM123.72 205.11h1.98v5.85h-1.98zM125.35 205.11h1.98v5.85h-1.98zM185.65 205.11h1.98v5.85h-1.98zM195.43 205.11h1.98v5.85h-1.98zM214.99 205.11h1.98v5.85h-1.98zM73.19 210.61h1.98v5.85h-1.98zM89.49 210.61h1.98v5.85h-1.98zM159.58 210.61h1.98v5.85h-1.98zM174.24 210.61h1.98v5.85h-1.98zM221.51 210.61h1.98v5.85h-1.98zM198.69 216.10h1.98v5.85h-1.98zM218.25 216.10h1.98v5.85h-1.98z"/>
<path fill="#c8c8e4" d="M68.30 62.20h1.98v5.85h-1.98zM107.42 62.20h1.98v5.85h-1.98zM112.31 62.20h1.98v5.85h-1.98zM151.43 62.20h1.98v5.85h-1.98zM153.06 62.20h1.98v5.85h-1.98zM211.73 62.20h1.98v5.85h-1.98zM170.98 67.70h1.98v5.85h-1.98zM143.28 73.19h1.98v5.85h-1.98zM172.61 73.19h1.98v5.85h-1.98zM185.65 73.19h1.98v5.85h-1.98zM201.95 73.19h1.98v5.85h-1.98zM128.61 78.69h1.98v5.85h-1.98zM131.87 78.69h1.98v5.85h-1.98zM151.43 78.69h1.98v5.85h-1.98zM91.12 84.19h1.98v5.85h-1.98zM100.90 84.19h1.98v5.85h-1.98zM117.20 84.19h1.98v5.85h-1.98zM122.09 84.19h1.98v5.85h-1.98zM126.98 84.19h1.98v5.85h-1.98zM135.13 84.19h1.98v5.85h-1.98zM148.17 84.19h1.98v5.85h-1.98zM170.98 84.19h1.98v5.85h-1.98zM164.46 89.68h1.98v5.85h-1.98zM68.30 95.18h1.98v5.85h-1.98zM130.24 95.18h1.98v5.85h-1.98zM172.61 95.18h1.98v5.85h-1.98zM143.28 100.68h1.98v5.85h-1.98zM100.90 106.17h1.98v5.85h-1.98zM148.17 106.17h1.98v5.85h-1.98zM185.65 106.17h1.98v5.85h-1.98zM205.21 106.17h1.98v5.85h-1.98zM68.30 111.67h1.98v5.85h-1.98zM78.08 111.67h1.98v5.85h-1.98zM140.02 111.67h1.98v5.85h-1.98zM149.80 111.67h1.98v5.85h-1.98zM156.32 111.67h1.98v5.85h-1.98zM112.31 117.17h1.98v5.85h-1.98zM151.43 117.17h1.98v5.85h-1.98zM170.98 117.17h1.98v5.85h-1.98zM218.25 117.17h1.98v5.85h-1.98zM71.56 122.66h1.98v5.85h-1.98zM133.50 122.66h1.98v5.85h-1.98zM162.84 122.66h1.98v5.85h-1.98zM166.09 122.66h1.98v5.85h-1.98zM164.46 128.16h1.98v5.85h-1.98zM69.93 133.66h1.98v5.85h-1.98zM76.45 133.66h1.98v5.85h-1.98zM148.17 133.66h1.98v5.85h-1.98zM166.09 133.66h1.98v5.85h-1.98zM180.76 133.66h1.98v5.85h-1.98zM206.84 133.66h1.98v5.85h-1.98zM96.01 139.15h1.98v5.85h-1.98zM113.94 139.15h1.98v5.85h-1.98zM162.84 139.15h1.98v5.85h-1.98zM206.84 139.15h1.98v5.85h-1.98zM210.10 139.15h1.98v5.85h-1.98zM115.57 144.65h1.98v5.85h-1.98zM133.50 144.65h1.98v5.85h-1.98zM146.54 144.65h1.98v5.85h-1.98zM68.30 150.14h1.98v5.85h-1.98zM82.97 150.14h1.98v5.85h-1.98zM100.90 150.14h1.98v5.85h-1.98zM112.31 150.14h1.98v5.85h-1.98zM123.72 150.14h1.98v5.85h-1.98zM125.35 150.14h1.98v5.85h-1.98zM138.39 150.14h1.98v5.85h-1.98zM153.06 150.14h1.98v5.85h-1.98zM221.51 150.14h1.98v5.85h-1.98zM112.31 161.14h1.98v5.85h-1.98zM117.20 161.14h1.98v5.85h-1.98zM133.50 161.14h1.98v5.85h-1.98zM148.17 161.14h1.98v5.85h-1.98zM159.58 161.14h1.98v5.85h-1.98zM167.72 161.14h1.98v5.85h-1.98zM216.62 161.14h1.98v5.85h-1.98zM81.34 166.63h1.98v5.85h-1.98zM96.01 166.63h1.98v5.85h-1.98zM112.31 166.63h1.98v5.85h-1.98zM117.20 166.63h1.98v5.85h-1.98zM219.88 166.63h1.98v5.85h-1.98zM96.01 172.13h1.98v5.85h-1.98zM102.53 172.13h1.98v5.85h-1.98zM115.57 172.13h1.98v5.85h-1.98zM161.21 172.13h1.98v5.85h-1.98zM109.05 177.63h1.98v5.85h-1.98zM130.24 177.63h1.98v5.85h-1.98zM148.17 177.63h1.98v5.85h-1.98zM170.98 177.63h1.98v5.85h-1.98zM175.87 177.63h1.98v5.85h-1.98zM91.12 183.12h1.98v5.85h-1.98zM166.09 183.12h1.98v5.85h-1.98zM193.80 183.12h1.98v5.85h-1.98zM205.21 183.12h1.98v5.85h-1.98zM216.62 183.12h1.98v5.85h-1.98zM84.60 188.62h1.98v5.85h-1.98zM96.01 188.62h1.98v5.85h-1.98zM100.90 188.62h1.98v5.85h-1.98zM143.28 188.62h1.98v5.85h-1.98zM184.02 188.62h1.98v5.85h-1.98zM84.60 194.12h1.98v5.85h-1.98zM92.75 194.12h1.98v5.85h-1.98zM135.13 194.12h1.98v5.85h-1.98zM175.87 194.12h1.98v5.85h-1.98zM179.13 194.12h1.98v5.85h-1.98zM151.43 199.61h1.98v5.85h-1.98zM218.25 199.61h1.98v5.85h-1.98zM153.06 205.11h1.98v5.85h-1.98zM201.95 205.11h1.98v5.85h-1.98zM203.58 205.11h1.98v5.85h-1.98zM221.51 205.11h1.98v5.85h-1.98zM232.92 205.11h1.98v5.85h-1.98zM84.60 210.61h1.98v5.85h-1.98zM206.84 210.61h1.98v5.85h-1.98zM226.40 210.61h1.98v5.85h-1.98zM228.03 210.61h1.98v5.85h-1.98zM237.81 210.61h1.98v5.85h-1.98zM221.51 216.10h1.98v5.85h-1.98z"/>
<path fill="#f4c9c9" d="M224.77 62.20h1.98v5.85h-1.98zM245.96 62.20h1.98v5.85h-1.98zM254.11 62.20h1.98v5.85h-1.98zM68.30 67.70h1.98v5.85h-1.98zM133.50 67.70h1.98v5.85h-1.98zM255.74 67.70h1.98v5.85h-1.98zM84.60 73.19h1.98v5.85h-1.98zM107.42 73.19h1.98v5.85h-1.98zM218.25 78.69h1.98v5.85h-1.98zM231.29 78.69h1.98v5.85h-1.98zM249.22 78.69h1.98v5.85h-1.98zM255.74 84.19h1.98v5.85h-1.98zM213.36 89.68h1.98v5.85h-1.98zM241.07 89.68h1.98v5.85h-1.98zM257.37 89.68h1.98v5.85h-1.98zM97.64 95.18h1.98v5.85h-1.98zM128.61 95.18h1.98v5.85h-1.98zM232.92 95.18h1.98v5.85h-1.98zM154.69 100.68h1.98v5.85h-1.98zM219.88 100.68h1.98v5.85h-1.98zM133.50 106.17h1.98v5.85h-1.98zM198.69 106.17h1.98v5.85h-1.98zM223.14 106.17h1.98v5.85h-1.98zM110.68 117.17h1.98v5.85h-1.98zM140.02 117.17h1.98v5.85h-1.98zM195.43 117.17h1.98v5.85h-1.98zM239.44 122.66h1.98v5.85h-1.98zM97.64 128.16h1.98v5.85h-1.98zM193.80 128.16h1.98v5.85h-1.98zM82.97 133.66h1.98v5.85h-1.98zM205.21 133.66h1.98v5.85h-1.98zM250.85 133.66h1.98v5.85h-1.98zM254.11 133.66h1.98v5.85h-1.98zM144.91 139.15h1.98v5.85h-1.98zM193.80 139.15h1.98v5.85h-1.98zM236.18 139.15h1.98v5.85h-1.98zM99.27 144.65h1.98v5.85h-1.98zM105.79 144.65h1.98v5.85h-1.98zM117.20 144.65h1.98v5.85h-1.98zM182.39 144.65h1.98v5.85h-1.98zM198.69 144.65h1.98v5.85h-1.98zM224.77 144.65h1.98v5.85h-1.98zM91.12 150.14h1.98v5.85h-1.98zM184.02 150.14h1.98v5.85h-1.98zM214.99 150.14h1.98v5.85h-1.98zM242.70 150.14h1.98v5.85h-1.98zM247.59 150.14h1.98v5.85h-1.98zM247.59 155.64h1.98v5.85h-1.98zM254.11 155.64h1.98v5.85h-1.98zM223.14 161.14h1.98v5.85h-1.98zM226.40 161.14h1.98v5.85h-1.98zM71.56 166.63h1.98v5.85h-1.98zM195.43 166.63h1.98v5.85h-1.98zM206.84 166.63h1.98v5.85h-1.98zM224.77 166.63h1.98v5.85h-1.98zM219.88 172.13h1.98v5.85h-1.98zM115.57 177.63h1.98v5.85h-1.98zM203.58 177.63h1.98v5.85h-1.98zM223.14 177.63h1.98v5.85h-1.98zM140.02 183.12h1.98v5.85h-1.98zM149.80 183.12h1.98v5.85h-1.98zM81.34 188.62h1.98v5.85h-1.98zM151.43 188.62h1.98v5.85h-1.98zM153.06 188.62h1.98v5.85h-1.98zM167.72 188.62h1.98v5.85h-1.98zM179.13 188.62h1.98v5.85h-1.98zM198.69 188.62h1.98v5.85h-1.98zM221.51 188.62h1.98v5.85h-1.98zM100.90 194.12h1.98v5.85h-1.98zM203.58 194.12h1.98v5.85h-1.98zM210.10 194.12h1.98v5.85h-1.98zM201.95 199.61h1.98v5.85h-1.98zM247.59 199.61h1.98v5.85h-1.98zM136.76 205.11h1.98v5.85h-1.98zM157.95 205.11h1.98v5.85h-1.98zM187.28 205.11h1.98v5.85h-1.98zM76.45 210.61h1.98v5.85h-1.98zM170.98 210.61h1.98v5.85h-1.98zM182.39 210.61h1.98v5.85h-1.98zM211.73 210.61h1.98v5.85h-1.98zM218.25 210.61h1.98v5.85h-1.98z"/>
<path fill="#bfbfe0" d="M138.39 62.20h1.98v5.85h-1.98zM146.54 62.20h1.98v5.85h-1.98zM148.17 62.20h1.98v5.85h-1.98zM91.12 67.70h1.98v5.85h-1.98zM166.09 67.70h1.98v5.85h-1.98zM73.19 73.19h1.98v5.85h-1.98zM97.64 73.19h1.98v5.85h-1.98zM184.02 73.19h1.98v5.85h-1.98zM237.81 73.19h1.98v5.85h-1.98zM110.68 78.69h1.98v5.85h-1.98zM167.72 78.69h1.98v5.85h-1.98zM81.34 84.19h1.98v5.85h-1.98zM82.97 84.19h1.98v5.85h-1.98zM109.05 84.19h1.98v5.85h-1.98zM133.50 84.19h1.98v5.85h-1.98zM156.32 84.19h1.98v5.85h-1.98zM195.43 84.19h1.98v5.85h-1.98zM91.12 89.68h1.98v5.85h-1.98zM102.53 89.68h1.98v5.85h-1.98zM110.68 89.68h1.98v5.85h-1.98zM146.54 89.68h1.98v5.85h-1.98zM170.98 89.68h1.98v5.85h-1.98zM96.01 95.18h1.98v5.85h-1.98zM203.58 95.18h1.98v5.85h-1.98zM68.30 100.68h1.98v5.85h-1.98zM112.31 106.17h1.98v5.85h-1.98zM136.76 106.17h1.98v5.85h-1.98zM169.35 106.17h1.98v5.85h-1.98zM112.31 111.67h1.98v5.85h-1.98zM86.23 117.17h1.98v5.85h-1.98zM87.86 117.17h1.98v5.85h-1.98zM175.87 117.17h1.98v5.85h-1.98zM86.23 122.66h1.98v5.85h-1.98zM120.46 122.66h1.98v5.85h-1.98zM185.65 122.66h1.98v5.85h-1.98zM87.86 128.16h1.98v5.85h-1.98zM89.49 128.16h1.98v5.85h-1.98zM117.20 128.16h1.98v5.85h-1.98zM167.72 128.16h1.98v5.85h-1.98zM228.03 128.16h1.98v5.85h-1.98zM89.49 133.66h1.98v5.85h-1.98zM122.09 133.66h1.98v5.85h-1.98zM245.96 133.66h1.98v5.85h-1.98zM78.08 139.15h1.98v5.85h-1.98zM128.61 139.15h1.98v5.85h-1.98zM154.69 144.65h1.98v5.85h-1.98zM170.98 150.14h1.98v5.85h-1.98zM180.76 150.14h1.98v5.85h-1.98zM141.65 155.64h1.98v5.85h-1.98zM154.69 155.64h1.98v5.85h-1.98zM126.98 161.14h1.98v5.85h-1.98zM185.65 161.14h1.98v5.85h-1.98zM228.03 161.14h1.98v5.85h-1.98zM76.45 166.63h1.98v5.85h-1.98zM79.71 166.63h1.98v5.85h-1.98zM133.50 166.63h1.98v5.85h-1.98zM174.24 166.63h1.98v5.85h-1.98zM69.93 172.13h1.98v5.85h-1.98zM120.46 177.63h1.98v5.85h-1.98zM161.21 177.63h1.98v5.85h-1.98zM203.58 183.12h1.98v5.85h-1.98zM92.75 188.62h1.98v5.85h-1.98zM128.61 188.62h1.98v5.85h-1.98zM148.17 188.62h1.98v5.85h-1.98zM216.62 188.62h1.98v5.85h-1.98zM68.30 194.12h1.98v5.85h-1.98zM86.23 194.12h1.98v5.85h-1.98zM154.69 199.61h1.98v5.85h-1.98zM193.80 199.61h1.98v5.85h-1.98zM223.14 210.61h1.98v5.85h-1.98zM81.34 216.10h1.98v5.85h-1.98zM232.92 216.10h1.98v5.85h-1.98zM239.44 216.10h1.98v5.85h-1.98zM244.33 216.10h1.98v5.85h-1.98zM249.22 216.10h1.98v5.85h-1.98z"/>
<path fill="#f2c0c0" d="M255.74 62.20h1.98v5.85h-1.98zM257.37 62.20h1.98v5.85h-1.98zM117.20 67.70h1.98v5.85h-1.98zM113.94 73.19h1.98v5.85h-1.98zM128.61 73.19h1.98v5.85h-1.98zM190.54 73.19h1.98v5.85h-1.98zM239.44 73.19h1.98v5.85h-1.98zM241.07 73.19h1.98v5.85h-1.98zM249.22 73.19h1.98v5.85h-1.98zM172.61 78.69h1.98v5.85h-1.98zM192.17 78.69h1.98v5.85h-1.98zM234.55 78.69h1.98v5.85h-1.98zM184.02 84.19h1.98v5.85h-1.98zM214.99 84.19h1.98v5.85h-1.98zM239.44 84.19h1.98v5.85h-1.98zM144.91 95.18h1.98v5.85h-1.98zM166.09 95.18h1.98v5.85h-1.98zM249.22 95.18h1.98v5.85h-1.98zM115.57 100.68h1.98v5.85h-1.98zM164.46 100.68h1.98v5.85h-1.98zM130.24 106.17h1.98v5.85h-1.98zM190.54 106.17h1.98v5.85h-1.98zM197.06 111.67h1.98v5.85h-1.98zM255.74 111.67h1.98v5.85h-1.98zM162.84 117.17h1.98v5.85h-1.98zM206.84 117.17h1.98v5.85h-1.98zM180.76 122.66h1.98v5.85h-1.98zM182.39 122.66h1.98v5.85h-1.98zM236.18 128.16h1.98v5.85h-1.98zM102.53 133.66h1.98v5.85h-1.98zM228.03 133.66h1.98v5.85h-1.98zM236.18 133.66h1.98v5.85h-1.98zM237.81 133.66h1.98v5.85h-1.98zM241.07 133.66h1.98v5.85h-1.98zM242.70 133.66h1.98v5.85h-1.98zM249.22 133.66h1.98v5.85h-1.98zM82.97 139.15h1.98v5.85h-1.98zM180.76 144.65h1.98v5.85h-1.98zM192.17 144.65h1.98v5.85h-1.98zM167.72 150.14h1.98v5.85h-1.98zM169.35 150.14h1.98v5.85h-1.98zM190.54 150.14h1.98v5.85h-1.98zM231.29 150.14h1.98v5.85h-1.98zM164.46 155.64h1.98v5.85h-1.98zM200.32 155.64h1.98v5.85h-1.98zM219.88 155.64h1.98v5.85h-1.98zM229.66 155.64h1.98v5.85h-1.98zM234.55 155.64h1.98v5.85h-1.98zM241.07 155.64h1.98v5.85h-1.98zM182.39 161.14h1.98v5.85h-1.98zM187.28 166.63h1.98v5.85h-1.98zM214.99 166.63h1.98v5.85h-1.98zM226.40 166.63h1.98v5.85h-1.98zM241.07 166.63h1.98v5.85h-1.98zM179.13 172.13h1.98v5.85h-1.98zM184.02 172.13h1.98v5.85h-1.98zM236.18 172.13h1.98v5.85h-1.98zM242.70 172.13h1.98v5.85h-1.98zM102.53 177.63h1.98v5.85h-1.98zM211.73 177.63h1.98v5.85h-1.98zM97.64 188.62h1.98v5.85h-1.98zM156.32 188.62h1.98v5.85h-1.98zM205.21 188.62h1.98v5.85h-1.98zM105.79 194.12h1.98v5.85h-1.98zM167.72 194.12h1.98v5.85h-1.98zM182.39 194.12h1.98v5.85h-1.98zM218.25 194.12h1.98v5.85h-1.98zM226.40 194.12h1.98v5.85h-1.98zM257.37 194.12h1.98v5.85h-1.98zM102.53 199.61h1.98v5.85h-1.98zM219.88 199.61h1.98v5.85h-1.98zM249.22 199.61h1.98v5.85h-1.98zM86.23 205.11h1.98v5.85h-1.98zM122.09 205.11h1.98v5.85h-1.98zM126.98 205.11h1.98v5.85h-1.98zM213.36 205.11h1.98v5.85h-1.98zM97.64 210.61h1.98v5.85h-1.98zM105.79 210.61h1.98v5.85h-1.98zM131.87 210.61h1.98v5.85h-1.98zM126.98 216.10h1.98v5.85h-1.98zM136.76 216.10h1.98v5.85h-1.98zM224.77 216.10h1.98v5.85h-1.98z"/>
<path fill="#b6b6dc" d="M79.71 62.20h1.98v5.85h-1.98zM125.35 62.20h1.98v5.85h-1.98zM126.98 62.20h1.98v5.85h-1.98zM113.94 67.70h1.98v5.85h-1.98zM115.57 67.70h1.98v5.85h-1.98zM213.36 67.70h1.98v5.85h-1.98zM219.88 67.70h1.98v5.85h-1.98zM69.93 73.19h1.98v5.85h-1.98zM68.30 78.69h1.98v5.85h-1.98zM107.42 78.69h1.98v5.85h-1.98zM122.09 78.69h1.98v5.85h-1.98zM123.72 78.69h1.98v5.85h-1.98zM144.91 78.69h1.98v5.85h-1.98zM146.54 78.69h1.98v5.85h-1.98zM148.17 78.69h1.98v5.85h-1.98zM166.09 78.69h1.98v5.85h-1.98zM211.73 78.69h1.98v5.85h-1.98zM110.68 84.19h1.98v5.85h-1.98zM113.94 84.19h1.98v5.85h-1.98zM179.13 84.19h1.98v5.85h-1.98zM187.28 84.19h1.98v5.85h-1.98zM73.19 89.68h1.98v5.85h-1.98zM133.50 89.68h1.98v5.85h-1.98zM195.43 89.68h1.98v5.85h-1.98zM224.77 89.68h1.98v5.85h-1.98zM244.33 89.68h1.98v5.85h-1.98zM84.60 95.18h1.98v5.85h-1.98zM197.06 95.18h1.98v5.85h-1.98zM99.27 100.68h1.98v5.85h-1.98zM102.53 100.68h1.98v5.85h-1.98zM130.24 100.68h1.98v5.85h-1.98zM73.19 106.17h1.98v5.85h-1.98zM120.46 106.17h1.98v5.85h-1.98zM128.61 106.17h1.98v5.85h-1.98zM211.73 106.17h1.98v5.85h-1.98zM146.54 111.67h1.98v5.85h-1.98zM153.06 111.67h1.98v5.85h-1.98zM138.39 117.17h1.98v5.85h-1.98zM97.64 122.66h1.98v5.85h-1.98zM115.57 122.66h1.98v5.85h-1.98zM143.28 122.66h1.98v5.85h-1.98zM151.43 122.66h1.98v5.85h-1.98zM102.53 128.16h1.98v5.85h-1.98zM140.02 128.16h1.98v5.85h-1.98zM151.43 128.16h1.98v5.85h-1.98zM166.09 128.16h1.98v5.85h-1.98zM100.90 133.66h1.98v5.85h-1.98zM138.39 133.66h1.98v5.85h-1.98zM177.50 133.66h1.98v5.85h-1.98zM74.82 139.15h1.98v5.85h-1.98zM149.80 139.15h1.98v5.85h-1.98zM166.09 139.15h1.98v5.85h-1.98zM76.45 144.65h1.98v5.85h-1.98zM84.60 144.65h1.98v5.85h-1.98zM135.13 144.65h1.98v5.85h-1.98zM140.02 144.65h1.98v5.85h-1.98zM172.61 144.65h1.98v5.85h-1.98zM76.45 150.14h1.98v5.85h-1.98zM104.16 150.14h1.98v5.85h-1.98zM118.83 150.14h1.98v5.85h-1.98zM128.61 150.14h1.98v5.85h-1.98zM144.91 150.14h1.98v5.85h-1.98zM164.46 150.14h1.98v5.85h-1.98zM110.68 155.64h1.98v5.85h-1.98zM115.57 155.64h1.98v5.85h-1.98zM117.20 155.64h1.98v5.85h-1.98zM131.87 155.64h1.98v5.85h-1.98zM169.35 155.64h1.98v5.85h-1.98zM185.65 155.64h1.98v5.85h-1.98zM82.97 161.14h1.98v5.85h-1.98zM107.42 166.63h1.98v5.85h-1.98zM128.61 166.63h1.98v5.85h-1.98zM130.24 166.63h1.98v5.85h-1.98zM92.75 172.13h1.98v5.85h-1.98zM117.20 172.13h1.98v5.85h-1.98zM128.61 172.13h1.98v5.85h-1.98zM237.81 172.13h1.98v5.85h-1.98zM104.16 177.63h1.98v5.85h-1.98zM68.30 183.12h1.98v5.85h-1.98zM81.34 183.12h1.98v5.85h-1.98zM94.38 188.62h1.98v5.85h-1.98zM110.68 188.62h1.98v5.85h-1.98zM170.98 188.62h1.98v5.85h-1.98zM99.27 194.12h1.98v5.85h-1.98zM113.94 194.12h1.98v5.85h-1.98zM122.09 194.12h1.98v5.85h-1.98zM154.69 194.12h1.98v5.85h-1.98zM188.91 194.12h1.98v5.85h-1.98zM247.59 194.12h1.98v5.85h-1.98zM140.02 199.61h1.98v5.85h-1.98zM257.37 205.11h1.98v5.85h-1.98zM166.09 210.61h1.98v5.85h-1.98zM187.28 210.61h1.98v5.85h-1.98zM252.48 210.61h1.98v5.85h-1.98zM226.40 216.10h1.98v5.85h-1.98zM242.70 216.10h1.98v5.85h-1.98zM247.59 216.10h1.98v5.85h-1.98z"/>
<path fill="#f1b7b7" d="M200.32 62.20h1.98v5.85h-1.98zM94.38 67.70h1.98v5.85h-1.98zM154.69 67.70h1.98v5.85h-1.98zM229.66 67.70h1.98v5.85h-1.98zM247.59 67.70h1.98v5.85h-1.98zM187.28 73.19h1.98v5.85h-1.98zM221.51 78.69h1.98v5.85h-1.98zM236.18 78.69h1.98v5.85h-1.98zM206.84 84.19h1.98v5.85h-1.98zM219.88 84.19h1.98v5.85h-1.98zM224.77 84.19h1.98v5.85h-1.98zM229.66 84.19h1.98v5.85h-1.98zM237.81 84.19h1.98v5.85h-1.98zM151.43 89.68h1.98v5.85h-1.98zM242.70 89.68h1.98v5.85h-1.98zM247.59 89.68h1.98v5.85h-1.98zM224.77 95.18h1.98v5.85h-1.98zM192.17 100.68h1.98v5.85h-1.98zM198.69 100.68h1.98v5.85h-1.98zM167.72 106.17h1.98v5.85h-1.98zM216.62 106.17h1.98v5.85h-1.98zM232.92 106.17h1.98v5.85h-1.98zM226.40 111.67h1.98v5.85h-1.98zM244.33 111.67h1.98v5.85h-1.98zM188.91 117.17h1.98v5.85h-1.98zM210.10 117.17h1.98v5.85h-1.98zM211.73 117.17h1.98v5.85h-1.98zM223.14 117.17h1.98v5.85h-1.98zM249.22 117.17h1.98v5.85h-1.98zM140.02 122.66h1.98v5.85h-1.98zM172.61 122.66h1.98v5.85h-1.98zM223.14 122.66h1.98v5.85h-1.98zM185.65 128.16h1.98v5.85h-1.98zM226.40 128.16h1.98v5.85h-1.98zM242.70 128.16h1.98v5.85h-1.98zM205.21 139.15h1.98v5.85h-1.98zM257.37 139.15h1.98v5.85h-1.98zM169.35 144.65h1.98v5.85h-1.98zM254.11 144.65h1.98v5.85h-1.98zM205.21 155.64h1.98v5.85h-1.98zM245.96 161.14h1.98v5.85h-1.98zM249.22 161.14h1.98v5.85h-1.98zM184.02 166.63h1.98v5.85h-1.98zM249.22 172.13h1.98v5.85h-1.98zM250.85 172.13h1.98v5.85h-1.98zM182.39 177.63h1.98v5.85h-1.98zM218.25 177.63h1.98v5.85h-1.98zM221.51 177.63h1.98v5.85h-1.98zM115.57 183.12h1.98v5.85h-1.98zM210.10 183.12h1.98v5.85h-1.98zM214.99 183.12h1.98v5.85h-1.98zM192.17 188.62h1.98v5.85h-1.98zM200.32 188.62h1.98v5.85h-1.98zM234.55 188.62h1.98v5.85h-1.98zM130.24 194.12h1.98v5.85h-1.98zM190.54 194.12h1.98v5.85h-1.98zM79.71 199.61h1.98v5.85h-1.98zM180.76 199.61h1.98v5.85h-1.98zM255.74 199.61h1.98v5.85h-1.98zM257.37 199.61h1.98v5.85h-1.98zM128.61 205.11h1.98v5.85h-1.98zM86.23 210.61h1.98v5.85h-1.98zM177.50 210.61h1.98v5.85h-1.98zM200.32 210.61h1.98v5.85h-1.98zM91.12 216.10h1.98v5.85h-1.98zM100.90 216.10h1.98v5.85h-1.98zM159.58 216.10h1.98v5.85h-1.98zM174.24 216.10h1.98v5.85h-1.98zM201.95 216.10h1.98v5.85h-1.98z"/>
<path fill="#adadd7" d="M84.60 62.20h1.98v5.85h-1.98zM86.23 62.20h1.98v5.85h-1.98zM109.05 62.20h1.98v5.85h-1.98zM140.02 67.70h1.98v5.85h-1.98zM156.32 67.70h1.98v5.85h-1.98zM187.28 67.70h1.98v5.85h-1.98zM76.45 73.19h1.98v5.85h-1.98zM232.92 73.19h1.98v5.85h-1.98zM244.33 73.19h1.98v5.85h-1.98zM197.06 78.69h1.98v5.85h-1.98zM71.56 84.19h1.98v5.85h-1.98zM123.72 84.19h1.98v5.85h-1.98zM211.73 84.19h1.98v5.85h-1.98zM86.23 89.68h1.98v5.85h-1.98zM122.09 89.68h1.98v5.85h-1.98zM159.58 89.68h1.98v5.85h-1.98zM210.10 95.18h1.98v5.85h-1.98zM174.24 100.68h1.98v5.85h-1.98zM82.97 106.17h1.98v5.85h-1.98zM87.86 106.17h1.98v5.85h-1.98zM113.94 106.17h1.98v5.85h-1.98zM153.06 106.17h1.98v5.85h-1.98zM156.32 106.17h1.98v5.85h-1.98zM231.29 106.17h1.98v5.85h-1.98zM91.12 111.67h1.98v5.85h-1.98zM107.42 111.67h1.98v5.85h-1.98zM109.05 111.67h1.98v5.85h-1.98zM113.94 111.67h1.98v5.85h-1.98zM218.25 111.67h1.98v5.85h-1.98zM99.27 117.17h1.98v5.85h-1.98zM161.21 117.17h1.98v5.85h-1.98zM210.10 122.66h1.98v5.85h-1.98zM81.34 128.16h1.98v5.85h-1.98zM126.98 128.16h1.98v5.85h-1.98zM131.87 128.16h1.98v5.85h-1.98zM135.13 128.16h1.98v5.85h-1.98zM232.92 128.16h1.98v5.85h-1.98zM73.19 133.66h1.98v5.85h-1.98zM105.79 133.66h1.98v5.85h-1.98zM76.45 139.15h1.98v5.85h-1.98zM130.24 139.15h1.98v5.85h-1.98zM71.56 144.65h1.98v5.85h-1.98zM78.08 144.65h1.98v5.85h-1.98zM82.97 144.65h1.98v5.85h-1.98zM125.35 144.65h1.98v5.85h-1.98zM206.84 144.65h1.98v5.85h-1.98zM69.93 150.14h1.98v5.85h-1.98zM78.08 150.14h1.98v5.85h-1.98zM92.75 150.14h1.98v5.85h-1.98zM172.61 150.14h1.98v5.85h-1.98zM174.24 150.14h1.98v5.85h-1.98zM71.56 155.64h1.98v5.85h-1.98zM102.53 155.64h1.98v5.85h-1.98zM146.54 155.64h1.98v5.85h-1.98zM118.83 161.14h1.98v5.85h-1.98zM128.61 161.14h1.98v5.85h-1.98zM131.87 161.14h1.98v5.85h-1.98zM141.65 161.14h1.98v5.85h-1.98zM170.98 161.14h1.98v5.85h-1.98zM172.61 161.14h1.98v5.85h-1.98zM82.97 166.63h1.98v5.85h-1.98zM105.79 166.63h1.98v5.85h-1.98zM109.05 166.63h1.98v5.85h-1.98zM120.46 166.63h1.98v5.85h-1.98zM135.13 166.63h1.98v5.85h-1.98zM136.76 172.13h1.98v5.85h-1.98zM169.35 172.13h1.98v5.85h-1.98zM203.58 172.13h1.98v5.85h-1.98zM89.49 177.63h1.98v5.85h-1.98zM157.95 177.63h1.98v5.85h-1.98zM167.72 177.63h1.98v5.85h-1.98zM148.17 183.12h1.98v5.85h-1.98zM107.42 188.62h1.98v5.85h-1.98zM131.87 188.62h1.98v5.85h-1.98zM133.50 188.62h1.98v5.85h-1.98zM154.69 188.62h1.98v5.85h-1.98zM177.50 188.62h1.98v5.85h-1.98zM123.72 194.12h1.98v5.85h-1.98zM126.98 199.61h1.98v5.85h-1.98zM234.55 205.11h1.98v5.85h-1.98zM255.74 205.11h1.98v5.85h-1.98zM213.36 210.61h1.98v5.85h-1.98zM229.66 210.61h1.98v5.85h-1.98zM239.44 210.61h1.98v5.85h-1.98zM120.46 216.10h1.98v5.85h-1.98z"/>
<path fill="#efaeae" d="M201.95 62.20h1.98v5.85h-1.98zM236.18 62.20h1.98v5.85h-1.98zM164.46 67.70h1.98v5.85h-1.98zM136.76 73.19h1.98v5.85h-1.98zM164.46 73.19h1.98v5.85h-1.98zM126.98 78.69h1.98v5.85h-1.98zM205.21 78.69h1.98v5.85h-1.98zM182.39 84.19h1.98v5.85h-1.98zM214.99 89.68h1.98v5.85h-1.98zM221.51 89.68h1.98v5.85h-1.98zM229.66 89.68h1.98v5.85h-1.98zM91.12 95.18h1.98v5.85h-1.98zM190.54 95.18h1.98v5.85h-1.98zM210.10 106.17h1.98v5.85h-1.98zM94.38 117.17h1.98v5.85h-1.98zM197.06 117.17h1.98v5.85h-1.98zM242.70 117.17h1.98v5.85h-1.98zM82.97 122.66h1.98v5.85h-1.98zM130.24 122.66h1.98v5.85h-1.98zM228.03 122.66h1.98v5.85h-1.98zM218.25 128.16h1.98v5.85h-1.98zM229.66 128.16h1.98v5.85h-1.98zM249.22 128.16h1.98v5.85h-1.98zM130.24 133.66h1.98v5.85h-1.98zM210.10 133.66h1.98v5.85h-1.98zM252.48 133.66h1.98v5.85h-1.98zM213.36 139.15h1.98v5.85h-1.98zM122.09 144.65h1.98v5.85h-1.98zM226.40 144.65h1.98v5.85h-1.98zM234.55 144.65h1.98v5.85h-1.98zM250.85 144.65h1.98v5.85h-1.98zM255.74 144.65h1.98v5.85h-1.98zM206.84 150.14h1.98v5.85h-1.98zM161.21 155.64h1.98v5.85h-1.98zM172.61 155.64h1.98v5.85h-1.98zM228.03 155.64h1.98v5.85h-1.98zM239.44 155.64h1.98v5.85h-1.98zM105.79 161.14h1.98v5.85h-1.98zM89.49 166.63h1.98v5.85h-1.98zM174.24 172.13h1.98v5.85h-1.98zM193.80 177.63h1.98v5.85h-1.98zM228.03 177.63h1.98v5.85h-1.98zM232.92 177.63h1.98v5.85h-1.98zM242.70 177.63h1.98v5.85h-1.98zM131.87 183.12h1.98v5.85h-1.98zM219.88 183.12h1.98v5.85h-1.98zM146.54 188.62h1.98v5.85h-1.98zM211.73 188.62h1.98v5.85h-1.98zM169.35 194.12h1.98v5.85h-1.98zM231.29 194.12h1.98v5.85h-1.98zM110.68 205.11h1.98v5.85h-1.98zM166.09 205.11h1.98v5.85h-1.98zM208.47 205.11h1.98v5.85h-1.98zM228.03 205.11h1.98v5.85h-1.98zM71.56 210.61h1.98v5.85h-1.98zM96.01 210.61h1.98v5.85h-1.98zM109.05 210.61h1.98v5.85h-1.98zM144.91 210.61h1.98v5.85h-1.98zM146.54 210.61h1.98v5.85h-1.98zM169.35 210.61h1.98v5.85h-1.98zM195.43 210.61h1.98v5.85h-1.98zM157.95 216.10h1.98v5.85h-1.98zM182.39 216.10h1.98v5.85h-1.98z"/>
<path fill="#a3a3d2" d="M99.27 62.20h1.98v5.85h-1.98zM104.16 62.20h1.98v5.85h-1.98zM117.20 62.20h1.98v5.85h-1.98zM120.46 62.20h1.98v5.85h-1.98zM133.50 62.20h1.98v5.85h-1.98zM156.32 62.20h1.98v5.85h-1.98zM159.58 62.20h1.98v5.85h-1.98zM84.60 67.70h1.98v5.85h-1.98zM96.01 67.70h1.98v5.85h-1.98zM192.17 67.70h1.98v5.85h-1.98zM81.34 73.19h1.98v5.85h-1.98zM236.18 73.19h1.98v5.85h-1.98zM153.06 78.69h1.98v5.85h-1.98zM154.69 78.69h1.98v5.85h-1.98zM174.24 78.69h1.98v5.85h-1.98zM118.83 84.19h1.98v5.85h-1.98zM138.39 89.68h1.98v5.85h-1.98zM154.69 95.18h1.98v5.85h-1.98zM169.35 95.18h1.98v5.85h-1.98zM174.24 95.18h1.98v5.85h-1.98zM244.33 95.18h1.98v5.85h-1.98zM76.45 100.68h1.98v5.85h-1.98zM151.43 100.68h1.98v5.85h-1.98zM86.23 106.17h1.98v5.85h-1.98zM166.09 106.17h1.98v5.85h-1.98zM73.19 111.67h1.98v5.85h-1.98zM118.83 111.67h1.98v5.85h-1.98zM113.94 117.17h1.98v5.85h-1.98zM144.91 122.66h1.98v5.85h-1.98zM156.32 122.66h1.98v5.85h-1.98zM177.50 122.66h1.98v5.85h-1.98zM73.19 128.16h1.98v5.85h-1.98zM177.50 128.16h1.98v5.85h-1.98zM159.58 133.66h1.98v5.85h-1.98zM86.23 139.15h1.98v5.85h-1.98zM110.68 139.15h1.98v5.85h-1.98zM120.46 139.15h1.98v5.85h-1.98zM198.69 139.15h1.98v5.85h-1.98zM211.73 139.15h1.98v5.85h-1.98zM159.58 144.65h1.98v5.85h-1.98zM73.19 150.14h1.98v5.85h-1.98zM141.65 150.14h1.98v5.85h-1.98zM166.09 150.14h1.98v5.85h-1.98zM96.01 155.64h1.98v5.85h-1.98zM157.95 155.64h1.98v5.85h-1.98zM76.45 161.14h1.98v5.85h-1.98zM130.24 161.14h1.98v5.85h-1.98zM118.83 166.63h1.98v5.85h-1.98zM140.02 166.63h1.98v5.85h-1.98zM153.06 166.63h1.98v5.85h-1.98zM156.32 172.13h1.98v5.85h-1.98zM144.91 177.63h1.98v5.85h-1.98zM118.83 183.12h1.98v5.85h-1.98zM136.76 183.12h1.98v5.85h-1.98zM161.21 183.12h1.98v5.85h-1.98zM89.49 188.62h1.98v5.85h-1.98zM122.09 188.62h1.98v5.85h-1.98zM126.98 188.62h1.98v5.85h-1.98zM188.91 188.62h1.98v5.85h-1.98zM112.31 194.12h1.98v5.85h-1.98zM193.80 194.12h1.98v5.85h-1.98zM105.79 199.61h1.98v5.85h-1.98zM148.17 199.61h1.98v5.85h-1.98zM153.06 199.61h1.98v5.85h-1.98zM167.72 199.61h1.98v5.85h-1.98zM172.61 199.61h1.98v5.85h-1.98zM177.50 205.11h1.98v5.85h-1.98z"/>
<path fill="#eda4a4" d="M250.85 62.20h1.98v5.85h-1.98zM87.86 67.70h1.98v5.85h-1.98zM241.07 67.70h1.98v5.85h-1.98zM82.97 73.19h1.98v5.85h-1.98zM192.17 73.19h1.98v5.85h-1.98zM205.21 73.19h1.98v5.85h-1.98zM250.85 84.19h1.98v5.85h-1.98zM89.49 89.68h1.98v5.85h-1.98zM231.29 89.68h1.98v5.85h-1.98zM236.18 89.68h1.98v5.85h-1.98zM89.49 95.18h1.98v5.85h-1.98zM213.36 100.68h1.98v5.85h-1.98zM193.80 106.17h1.98v5.85h-1.98zM164.46 111.67h1.98v5.85h-1.98zM242.70 111.67h1.98v5.85h-1.98zM257.37 111.67h1.98v5.85h-1.98zM228.03 117.17h1.98v5.85h-1.98zM247.59 117.17h1.98v5.85h-1.98zM198.69 122.66h1.98v5.85h-1.98zM219.88 122.66h1.98v5.85h-1.98zM221.51 139.15h1.98v5.85h-1.98zM247.59 139.15h1.98v5.85h-1.98zM214.99 144.65h1.98v5.85h-1.98zM236.18 144.65h1.98v5.85h-1.98zM237.81 155.64h1.98v5.85h-1.98zM244.33 155.64h1.98v5.85h-1.98zM144.91 161.14h1.98v5.85h-1.98zM213.36 161.14h1.98v5.85h-1.98zM208.47 166.63h1.98v5.85h-1.98zM214.99 172.13h1.98v5.85h-1.98zM136.76 177.63h1.98v5.85h-1.98zM252.48 177.63h1.98v5.85h-1.98zM229.66 183.12h1.98v5.85h-1.98zM245.96 188.62h1.98v5.85h-1.98zM250.85 199.61h1.98v5.85h-1.98zM135.13 205.11h1.98v5.85h-1.98zM110.68 210.61h1.98v5.85h-1.98z"/>
<path fill="#9999ce" d="M89.49 62.20h1.98v5.85h-1.98zM131.87 62.20h1.98v5.85h-1.98zM162.84 62.20h1.98v5.85h-1.98zM180.76 62.20h1.98v5.85h-1.98zM182.39 62.20h1.98v5.85h-1.98zM167.72 67.70h1.98v5.85h-1.98zM175.87 67.70h1.98v5.85h-1.98zM236.18 67.70h1.98v5.85h-1.98zM79.71 78.69h1.98v5.85h-1.98zM84.60 78.69h1.98v5.85h-1.98zM99.27 78.69h1.98v5.85h-1.98zM140.02 78.69h1.98v5.85h-1.98zM76.45 84.19h1.98v5.85h-1.98zM102.53 84.19h1.98v5.85h-1.98zM131.87 84.19h1.98v5.85h-1.98zM146.54 84.19h1.98v5.85h-1.98zM92.75 89.68h1.98v5.85h-1.98zM130.24 89.68h1.98v5.85h-1.98zM167.72 89.68h1.98v5.85h-1.98zM109.05 95.18h1.98v5.85h-1.98zM120.46 95.18h1.98v5.85h-1.98zM159.58 95.18h1.98v5.85h-1.98zM117.20 106.17h1.98v5.85h-1.98zM172.61 106.17h1.98v5.85h-1.98zM195.43 106.17h1.98v5.85h-1.98zM79.71 111.67h1.98v5.85h-1.98zM135.13 111.67h1.98v5.85h-1.98zM161.21 111.67h1.98v5.85h-1.98zM162.84 111.67h1.98v5.85h-1.98zM166.09 117.17h1.98v5.85h-1.98zM131.87 122.66h1.98v5.85h-1.98zM149.80 122.66h1.98v5.85h-1.98zM81.34 133.66h1.98v5.85h-1.98zM107.42 133.66h1.98v5.85h-1.98zM113.94 133.66h1.98v5.85h-1.98zM81.34 139.15h1.98v5.85h-1.98zM104.16 139.15h1.98v5.85h-1.98zM107.42 139.15h1.98v5.85h-1.98zM118.83 139.15h1.98v5.85h-1.98zM122.09 139.15h1.98v5.85h-1.98zM100.90 144.65h1.98v5.85h-1.98zM107.42 144.65h1.98v5.85h-1.98zM151.43 144.65h1.98v5.85h-1.98zM130.24 150.14h1.98v5.85h-1.98zM79.71 155.64h1.98v5.85h-1.98zM112.31 155.64h1.98v5.85h-1.98zM174.24 155.64h1.98v5.85h-1.98zM245.96 155.64h1.98v5.85h-1.98zM86.23 161.14h1.98v5.85h-1.98zM175.87 161.14h1.98v5.85h-1.98zM208.47 161.14h1.98v5.85h-1.98zM113.94 166.63h1.98v5.85h-1.98zM148.17 166.63h1.98v5.85h-1.98zM154.69 166.63h1.98v5.85h-1.98zM71.56 172.13h1.98v5.85h-1.98zM104.16 172.13h1.98v5.85h-1.98zM118.83 172.13h1.98v5.85h-1.98zM143.28 177.63h1.98v5.85h-1.98zM87.86 183.12h1.98v5.85h-1.98zM110.68 183.12h1.98v5.85h-1.98zM122.09 183.12h1.98v5.85h-1.98zM177.50 183.12h1.98v5.85h-1.98zM76.45 194.12h1.98v5.85h-1.98zM99.27 199.61h1.98v5.85h-1.98zM100.90 199.61h1.98v5.85h-1.98zM128.61 199.61h1.98v5.85h-1.98zM169.35 199.61h1.98v5.85h-1.98zM234.55 199.61h1.98v5.85h-1.98zM244.33 205.11h1.98v5.85h-1.98zM252.48 205.11h1.98v5.85h-1.98zM128.61 210.61h1.98v5.85h-1.98zM236.18 210.61h1.98v5.85h-1.98zM216.62 216.10h1.98v5.85h-1.98z"/>
<path fill="#eb9a9a" d="M213.36 62.20h1.98v5.85h-1.98zM228.03 62.20h1.98v5.85h-1.98zM231.29 62.20h1.98v5.85h-1.98zM162.84 67.70h1.98v5.85h-1.98zM149.80 89.68h1.98v5.85h-1.98zM206.84 89.68h1.98v5.85h-1.98zM112.31 95.18h1.98v5.85h-1.98zM255.74 95.18h1.98v5.85h-1.98zM249.22 100.68h1.98v5.85h-1.98zM236.18 106.17h1.98v5.85h-1.98zM179.13 128.16h1.98v5.85h-1.98zM200.32 128.16h1.98v5.85h-1.98zM234.55 128.16h1.98v5.85h-1.98zM247.59 133.66h1.98v5.85h-1.98zM200.32 139.15h1.98v5.85h-1.98zM242.70 139.15h1.98v5.85h-1.98zM242.70 144.65h1.98v5.85h-1.98zM252.48 144.65h1.98v5.85h-1.98zM244.33 150.14h1.98v5.85h-1.98zM250.85 150.14h1.98v5.85h-1.98zM104.16 155.64h1.98v5.85h-1.98zM218.25 155.64h1.98v5.85h-1.98zM201.95 161.14h1.98v5.85h-1.98zM214.99 161.14h1.98v5.85h-1.98zM211.73 172.13h1.98v5.85h-1.98zM245.96 172.13h1.98v5.85h-1.98zM122.09 177.63h1.98v5.85h-1.98zM195.43 177.63h1.98v5.85h-1.98zM198.69 177.63h1.98v5.85h-1.98zM254.11 177.63h1.98v5.85h-1.98zM255.74 177.63h1.98v5.85h-1.98zM255.74 194.12h1.98v5.85h-1.98zM138.39 199.61h1.98v5.85h-1.98zM71.56 205.11h1.98v5.85h-1.98zM94.38 205.11h1.98v5.85h-1.98zM136.76 210.61h1.98v5.85h-1.98zM201.95 210.61h1.98v5.85h-1.98z"/>
<path fill="#8f8fc9" d="M74.82 62.20h1.98v5.85h-1.98zM86.23 78.69h1.98v5.85h-1.98zM89.49 78.69h1.98v5.85h-1.98zM92.75 78.69h1.98v5.85h-1.98zM125.35 78.69h1.98v5.85h-1.98zM206.84 78.69h1.98v5.85h-1.98zM86.23 84.19h1.98v5.85h-1.98zM84.60 89.68h1.98v5.85h-1.98zM128.61 89.68h1.98v5.85h-1.98zM123.72 100.68h1.98v5.85h-1.98zM138.39 100.68h1.98v5.85h-1.98zM123.72 106.17h1.98v5.85h-1.98zM84.60 111.67h1.98v5.85h-1.98zM86.23 111.67h1.98v5.85h-1.98zM115.57 111.67h1.98v5.85h-1.98zM73.19 117.17h1.98v5.85h-1.98zM78.08 117.17h1.98v5.85h-1.98zM97.64 117.17h1.98v5.85h-1.98zM154.69 117.17h1.98v5.85h-1.98zM118.83 122.66h1.98v5.85h-1.98zM109.05 128.16h1.98v5.85h-1.98zM74.82 133.66h1.98v5.85h-1.98zM68.30 139.15h1.98v5.85h-1.98zM73.19 139.15h1.98v5.85h-1.98zM89.49 139.15h1.98v5.85h-1.98zM112.31 139.15h1.98v5.85h-1.98zM68.30 144.65h1.98v5.85h-1.98zM113.94 144.65h1.98v5.85h-1.98zM156.32 144.65h1.98v5.85h-1.98zM157.95 144.65h1.98v5.85h-1.98zM232.92 144.65h1.98v5.85h-1.98zM74.82 150.14h1.98v5.85h-1.98zM79.71 150.14h1.98v5.85h-1.98zM126.98 150.14h1.98v5.85h-1.98zM159.58 155.64h1.98v5.85h-1.98zM190.54 155.64h1.98v5.85h-1.98zM84.60 161.14h1.98v5.85h-1.98zM162.84 166.63h1.98v5.85h-1.98zM68.30 172.13h1.98v5.85h-1.98zM113.94 172.13h1.98v5.85h-1.98zM198.69 172.13h1.98v5.85h-1.98zM73.19 188.62h1.98v5.85h-1.98zM86.23 188.62h1.98v5.85h-1.98zM91.12 199.61h1.98v5.85h-1.98zM247.59 205.11h1.98v5.85h-1.98zM156.32 210.61h1.98v5.85h-1.98zM205.21 210.61h1.98v5.85h-1.98zM224.77 210.61h1.98v5.85h-1.98z"/>
<path fill="#e99090" d="M234.55 62.20h1.98v5.85h-1.98zM242.70 62.20h1.98v5.85h-1.98zM252.48 78.69h1.98v5.85h-1.98zM200.32 84.19h1.98v5.85h-1.98zM228.03 84.19h1.98v5.85h-1.98zM201.95 89.68h1.98v5.85h-1.98zM205.21 95.18h1.98v5.85h-1.98zM257.37 95.18h1.98v5.85h-1.98zM247.59 100.68h1.98v5.85h-1.98zM180.76 106.17h1.98v5.85h-1.98zM221.51 106.17h1.98v5.85h-1.98zM249.22 106.17h1.98v5.85h-1.98zM99.27 111.67h1.98v5.85h-1.98zM245.96 111.67h1.98v5.85h-1.98zM219.88 117.17h1.98v5.85h-1.98zM249.22 122.66h1.98v5.85h-1.98zM257.37 122.66h1.98v5.85h-1.98zM125.35 128.16h1.98v5.85h-1.98zM195.43 128.16h1.98v5.85h-1.98zM195.43 133.66h1.98v5.85h-1.98zM255.74 133.66h1.98v5.85h-1.98zM201.95 139.15h1.98v5.85h-1.98zM234.55 139.15h1.98v5.85h-1.98zM254.11 139.15h1.98v5.85h-1.98zM244.33 144.65h1.98v5.85h-1.98zM208.47 150.14h1.98v5.85h-1.98zM226.40 155.64h1.98v5.85h-1.98zM231.29 155.64h1.98v5.85h-1.98zM255.74 155.64h1.98v5.85h-1.98zM210.10 161.14h1.98v5.85h-1.98zM182.39 172.13h1.98v5.85h-1.98zM210.10 172.13h1.98v5.85h-1.98zM94.38 177.63h1.98v5.85h-1.98zM234.55 183.12h1.98v5.85h-1.98zM221.51 194.12h1.98v5.85h-1.98zM252.48 199.61h1.98v5.85h-1.98zM69.93 205.11h1.98v5.85h-1.98z"/>
<path fill="#8484c3" d="M94.38 62.20h1.98v5.85h-1.98zM177.50 62.20h1.98v5.85h-1.98zM100.90 67.70h1.98v5.85h-1.98zM154.69 73.19h1.98v5.85h-1.98zM87.86 78.69h1.98v5.85h-1.98zM157.95 78.69h1.98v5.85h-1.98zM120.46 84.19h1.98v5.85h-1.98zM153.06 84.19h1.98v5.85h-1.98zM100.90 89.68h1.98v5.85h-1.98zM113.94 89.68h1.98v5.85h-1.98zM74.82 95.18h1.98v5.85h-1.98zM146.54 95.18h1.98v5.85h-1.98zM179.13 95.18h1.98v5.85h-1.98zM148.17 100.68h1.98v5.85h-1.98zM166.09 100.68h1.98v5.85h-1.98zM184.02 100.68h1.98v5.85h-1.98zM91.12 106.17h1.98v5.85h-1.98zM94.38 106.17h1.98v5.85h-1.98zM154.69 106.17h1.98v5.85h-1.98zM159.58 106.17h1.98v5.85h-1.98zM223.14 111.67h1.98v5.85h-1.98zM102.53 117.17h1.98v5.85h-1.98zM100.90 122.66h1.98v5.85h-1.98zM112.31 122.66h1.98v5.85h-1.98zM117.20 122.66h1.98v5.85h-1.98zM208.47 122.66h1.98v5.85h-1.98zM81.34 144.65h1.98v5.85h-1.98zM97.64 144.65h1.98v5.85h-1.98zM128.61 144.65h1.98v5.85h-1.98zM162.84 144.65h1.98v5.85h-1.98zM156.32 155.64h1.98v5.85h-1.98zM138.39 161.14h1.98v5.85h-1.98zM151.43 161.14h1.98v5.85h-1.98zM156.32 161.14h1.98v5.85h-1.98zM193.80 161.14h1.98v5.85h-1.98zM195.43 172.13h1.98v5.85h-1.98zM92.75 177.63h1.98v5.85h-1.98zM97.64 177.63h1.98v5.85h-1.98zM74.82 183.12h1.98v5.85h-1.98zM138.39 183.12h1.98v5.85h-1.98zM69.93 188.62h1.98v5.85h-1.98zM110.68 199.61h1.98v5.85h-1.98zM135.13 199.61h1.98v5.85h-1.98zM245.96 210.61h1.98v5.85h-1.98zM254.11 210.61h1.98v5.85h-1.98z"/>
<path fill="#e78585" d="M211.73 67.70h1.98v5.85h-1.98zM175.87 73.19h1.98v5.85h-1.98zM245.96 78.69h1.98v5.85h-1.98zM247.59 78.69h1.98v5.85h-1.98zM226.40 84.19h1.98v5.85h-1.98zM241.07 84.19h1.98v5.85h-1.98zM214.99 100.68h1.98v5.85h-1.98zM257.37 106.17h1.98v5.85h-1.98zM94.38 111.67h1.98v5.85h-1.98zM91.12 122.66h1.98v5.85h-1.98zM195.43 122.66h1.98v5.85h-1.98zM200.32 122.66h1.98v5.85h-1.98zM255.74 122.66h1.98v5.85h-1.98zM182.39 128.16h1.98v5.85h-1.98zM195.43 139.15h1.98v5.85h-1.98zM223.14 139.15h1.98v5.85h-1.98zM195.43 144.65h1.98v5.85h-1.98zM211.73 144.65h1.98v5.85h-1.98zM214.99 155.64h1.98v5.85h-1.98zM257.37 155.64h1.98v5.85h-1.98zM234.55 166.63h1.98v5.85h-1.98zM146.54 172.13h1.98v5.85h-1.98zM257.37 172.13h1.98v5.85h-1.98zM125.35 183.12h1.98v5.85h-1.98zM164.46 183.12h1.98v5.85h-1.98zM242.70 183.12h1.98v5.85h-1.98zM182.39 188.62h1.98v5.85h-1.98zM229.66 194.12h1.98v5.85h-1.98zM249.22 194.12h1.98v5.85h-1.98zM192.17 199.61h1.98v5.85h-1.98zM214.99 199.61h1.98v5.85h-1.98zM107.42 205.11h1.98v5.85h-1.98zM122.09 216.10h1.98v5.85h-1.98z"/>
<path fill="#7979be" d="M232.92 67.70h1.98v5.85h-1.98zM112.31 73.19h1.98v5.85h-1.98zM73.19 84.19h1.98v5.85h-1.98zM69.93 100.68h1.98v5.85h-1.98zM74.82 100.68h1.98v5.85h-1.98zM86.23 100.68h1.98v5.85h-1.98zM92.75 100.68h1.98v5.85h-1.98zM112.31 100.68h1.98v5.85h-1.98zM87.86 122.66h1.98v5.85h-1.98zM123.72 122.66h1.98v5.85h-1.98zM125.35 122.66h1.98v5.85h-1.98zM161.21 122.66h1.98v5.85h-1.98zM99.27 128.16h1.98v5.85h-1.98zM115.57 128.16h1.98v5.85h-1.98zM79.71 133.66h1.98v5.85h-1.98zM118.83 133.66h1.98v5.85h-1.98zM149.80 133.66h1.98v5.85h-1.98zM109.05 139.15h1.98v5.85h-1.98zM91.12 144.65h1.98v5.85h-1.98zM117.20 150.14h1.98v5.85h-1.98zM91.12 155.64h1.98v5.85h-1.98zM148.17 155.64h1.98v5.85h-1.98zM113.94 161.14h1.98v5.85h-1.98zM149.80 161.14h1.98v5.85h-1.98zM174.24 161.14h1.98v5.85h-1.98zM99.27 166.63h1.98v5.85h-1.98zM100.90 166.63h1.98v5.85h-1.98zM78.08 172.13h1.98v5.85h-1.98zM107.42 172.13h1.98v5.85h-1.98zM87.86 188.62h1.98v5.85h-1.98zM153.06 194.12h1.98v5.85h-1.98zM141.65 199.61h1.98v5.85h-1.98zM213.36 216.10h1.98v5.85h-1.98z"/>
<path fill="#e47a7a" d="M197.06 73.19h1.98v5.85h-1.98zM228.03 73.19h1.98v5.85h-1.98zM205.21 84.19h1.98v5.85h-1.98zM254.11 84.19h1.98v5.85h-1.98zM219.88 89.68h1.98v5.85h-1.98zM226.40 89.68h1.98v5.85h-1.98zM89.49 100.68h1.98v5.85h-1.98zM201.95 100.68h1.98v5.85h-1.98zM244.33 106.17h1.98v5.85h-1.98zM170.98 111.67h1.98v5.85h-1.98zM244.33 128.16h1.98v5.85h-1.98zM255.74 128.16h1.98v5.85h-1.98zM185.65 139.15h1.98v5.85h-1.98zM245.96 139.15h1.98v5.85h-1.98zM250.85 139.15h1.98v5.85h-1.98zM197.06 150.14h1.98v5.85h-1.98zM236.18 150.14h1.98v5.85h-1.98zM180.76 155.64h1.98v5.85h-1.98zM211.73 161.14h1.98v5.85h-1.98zM257.37 161.14h1.98v5.85h-1.98zM254.11 166.63h1.98v5.85h-1.98zM252.48 172.13h1.98v5.85h-1.98zM224.77 177.63h1.98v5.85h-1.98zM236.18 194.12h1.98v5.85h-1.98zM254.11 199.61h1.98v5.85h-1.98zM115.57 210.61h1.98v5.85h-1.98zM68.30 216.10h1.98v5.85h-1.98zM79.71 216.10h1.98v5.85h-1.98zM175.87 216.10h1.98v5.85h-1.98z"/>
<path fill="#6e6eb9" d="M123.72 62.20h1.98v5.85h-1.98zM177.50 67.70h1.98v5.85h-1.98zM68.30 84.19h1.98v5.85h-1.98zM128.61 84.19h1.98v5.85h-1.98zM192.17 84.19h1.98v5.85h-1.98zM71.56 95.18h1.98v5.85h-1.98zM161.21 106.17h1.98v5.85h-1.98zM162.84 106.17h1.98v5.85h-1.98zM96.01 111.67h1.98v5.85h-1.98zM69.93 117.17h1.98v5.85h-1.98zM100.90 117.17h1.98v5.85h-1.98zM128.61 117.17h1.98v5.85h-1.98zM79.71 122.66h1.98v5.85h-1.98zM143.28 133.66h1.98v5.85h-1.98zM156.32 133.66h1.98v5.85h-1.98zM175.87 139.15h1.98v5.85h-1.98zM143.28 144.65h1.98v5.85h-1.98zM135.13 155.64h1.98v5.85h-1.98zM91.12 161.14h1.98v5.85h-1.98zM78.08 166.63h1.98v5.85h-1.98zM156.32 166.63h1.98v5.85h-1.98zM167.72 166.63h1.98v5.85h-1.98zM73.19 183.12h1.98v5.85h-1.98zM109.05 183.12h1.98v5.85h-1.98zM109.05 188.62h1.98v5.85h-1.98zM214.99 188.62h1.98v5.85h-1.98zM112.31 205.11h1.98v5.85h-1.98zM249.22 205.11h1.98v5.85h-1.98zM249.22 210.61h1.98v5.85h-1.98zM223.14 216.10h1.98v5.85h-1.98zM250.85 216.10h1.98v5.85h-1.98z"/>
<path fill="#e26f6f" d="M188.91 62.20h1.98v5.85h-1.98zM252.48 62.20h1.98v5.85h-1.98zM257.37 84.19h1.98v5.85h-1.98zM252.48 89.68h1.98v5.85h-1.98zM239.44 100.68h1.98v5.85h-1.98zM250.85 117.17h1.98v5.85h-1.98zM257.37 117.17h1.98v5.85h-1.98zM201.95 122.66h1.98v5.85h-1.98zM252.48 122.66h1.98v5.85h-1.98zM157.95 128.16h1.98v5.85h-1.98zM234.55 133.66h1.98v5.85h-1.98zM229.66 139.15h1.98v5.85h-1.98zM203.58 144.65h1.98v5.85h-1.98zM195.43 155.64h1.98v5.85h-1.98zM192.17 161.14h1.98v5.85h-1.98zM206.84 177.63h1.98v5.85h-1.98zM257.37 183.12h1.98v5.85h-1.98zM241.07 194.12h1.98v5.85h-1.98zM185.65 199.61h1.98v5.85h-1.98zM91.12 210.61h1.98v5.85h-1.98z"/>
<path fill="#6363b3" d="M78.08 62.20h1.98v5.85h-1.98zM97.64 78.69h1.98v5.85h-1.98zM74.82 84.19h1.98v5.85h-1.98zM107.42 84.19h1.98v5.85h-1.98zM115.57 89.68h1.98v5.85h-1.98zM166.09 89.68h1.98v5.85h-1.98zM136.76 95.18h1.98v5.85h-1.98zM73.19 100.68h1.98v5.85h-1.98zM164.46 106.17h1.98v5.85h-1.98zM76.45 117.17h1.98v5.85h-1.98zM167.72 122.66h1.98v5.85h-1.98zM190.54 122.66h1.98v5.85h-1.98zM74.82 128.16h1.98v5.85h-1.98zM78.08 128.16h1.98v5.85h-1.98zM154.69 139.15h1.98v5.85h-1.98zM177.50 150.14h1.98v5.85h-1.98zM107.42 155.64h1.98v5.85h-1.98zM151.43 155.64h1.98v5.85h-1.98zM122.09 161.14h1.98v5.85h-1.98zM153.06 161.14h1.98v5.85h-1.98zM112.31 172.13h1.98v5.85h-1.98zM135.13 177.63h1.98v5.85h-1.98zM100.90 183.12h1.98v5.85h-1.98zM123.72 183.12h1.98v5.85h-1.98zM174.24 183.12h1.98v5.85h-1.98zM118.83 194.12h1.98v5.85h-1.98zM162.84 194.12h1.98v5.85h-1.98zM69.93 199.61h1.98v5.85h-1.98zM113.94 199.61h1.98v5.85h-1.98zM182.39 199.61h1.98v5.85h-1.98zM219.88 216.10h1.98v5.85h-1.98z"/>
<path fill="#e06464" d="M236.18 100.68h1.98v5.85h-1.98zM242.70 100.68h1.98v5.85h-1.98zM188.91 111.67h1.98v5.85h-1.98zM221.51 111.67h1.98v5.85h-1.98zM254.11 117.17h1.98v5.85h-1.98zM175.87 122.66h1.98v5.85h-1.98zM218.25 122.66h1.98v5.85h-1.98zM245.96 122.66h1.98v5.85h-1.98zM105.79 128.16h1.98v5.85h-1.98zM216.62 128.16h1.98v5.85h-1.98zM239.44 128.16h1.98v5.85h-1.98zM187.28 155.64h1.98v5.85h-1.98zM239.44 166.63h1.98v5.85h-1.98zM255.74 172.13h1.98v5.85h-1.98zM219.88 194.12h1.98v5.85h-1.98zM232.92 199.61h1.98v5.85h-1.98zM148.17 205.11h1.98v5.85h-1.98zM104.16 210.61h1.98v5.85h-1.98z"/>
<path fill="#5757ae" d="M69.93 78.69h1.98v5.85h-1.98zM109.05 78.69h1.98v5.85h-1.98zM156.32 78.69h1.98v5.85h-1.98zM86.23 95.18h1.98v5.85h-1.98zM92.75 106.17h1.98v5.85h-1.98zM122.09 122.66h1.98v5.85h-1.98zM86.23 128.16h1.98v5.85h-1.98zM130.24 128.16h1.98v5.85h-1.98zM117.20 133.66h1.98v5.85h-1.98zM79.71 144.65h1.98v5.85h-1.98zM92.75 144.65h1.98v5.85h-1.98zM120.46 150.14h1.98v5.85h-1.98zM162.84 155.64h1.98v5.85h-1.98zM86.23 166.63h1.98v5.85h-1.98zM244.33 166.63h1.98v5.85h-1.98zM105.79 177.63h1.98v5.85h-1.98zM117.20 177.63h1.98v5.85h-1.98zM79.71 188.62h1.98v5.85h-1.98zM73.19 199.61h1.98v5.85h-1.98zM99.27 205.11h1.98v5.85h-1.98zM231.29 216.10h1.98v5.85h-1.98zM252.48 216.10h1.98v5.85h-1.98z"/>
<path fill="#de5858" d="M218.25 89.68h1.98v5.85h-1.98zM245.96 89.68h1.98v5.85h-1.98zM239.44 106.17h1.98v5.85h-1.98zM236.18 122.66h1.98v5.85h-1.98zM219.88 133.66h1.98v5.85h-1.98zM255.74 139.15h1.98v5.85h-1.98zM245.96 144.65h1.98v5.85h-1.98zM249.22 144.65h1.98v5.85h-1.98zM201.95 155.64h1.98v5.85h-1.98zM236.18 166.63h1.98v5.85h-1.98zM252.48 183.12h1.98v5.85h-1.98zM257.37 188.62h1.98v5.85h-1.98zM164.46 194.12h1.98v5.85h-1.98z"/>
<path fill="#4b4ba8" d="M135.13 78.69h1.98v5.85h-1.98zM146.54 106.17h1.98v5.85h-1.98zM107.42 117.17h1.98v5.85h-1.98zM175.87 133.66h1.98v5.85h-1.98zM91.12 139.15h1.98v5.85h-1.98zM92.75 139.15h1.98v5.85h-1.98zM125.35 139.15h1.98v5.85h-1.98zM161.21 139.15h1.98v5.85h-1.98zM169.35 139.15h1.98v5.85h-1.98zM73.19 161.14h1.98v5.85h-1.98zM115.57 161.14h1.98v5.85h-1.98zM92.75 183.12h1.98v5.85h-1.98zM74.82 194.12h1.98v5.85h-1.98zM123.72 199.61h1.98v5.85h-1.98zM257.37 210.61h1.98v5.85h-1.98z"/>
<path fill="#db4d4d" d="M242.70 106.17h1.98v5.85h-1.98zM249.22 111.67h1.98v5.85h-1.98zM239.44 117.17h1.98v5.85h-1.98zM216.62 139.15h1.98v5.85h-1.98zM252.48 139.15h1.98v5.85h-1.98zM221.51 144.65h1.98v5.85h-1.98zM252.48 150.14h1.98v5.85h-1.98zM255.74 166.63h1.98v5.85h-1.98zM104.16 205.11h1.98v5.85h-1.98zM92.75 210.61h1.98v5.85h-1.98z"/>
<path fill="#3f3fa2" d="M136.76 62.20h1.98v5.85h-1.98zM162.84 78.69h1.98v5.85h-1.98zM92.75 84.19h1.98v5.85h-1.98zM136.76 84.19h1.98v5.85h-1.98zM109.05 89.68h1.98v5.85h-1.98zM100.90 100.68h1.98v5.85h-1.98zM149.80 106.17h1.98v5.85h-1.98zM151.43 111.67h1.98v5.85h-1.98zM174.24 122.66h1.98v5.85h-1.98zM107.42 150.14h1.98v5.85h-1.98zM112.31 177.63h1.98v5.85h-1.98zM123.72 188.62h1.98v5.85h-1.98zM115.57 194.12h1.98v5.85h-1.98zM250.85 210.61h1.98v5.85h-1.98z"/>
<path fill="#d94141" d="M239.44 62.20h1.98v5.85h-1.98zM228.03 78.69h1.98v5.85h-1.98zM237.81 106.17h1.98v5.85h-1.98zM250.85 111.67h1.98v5.85h-1.98zM185.65 117.17h1.98v5.85h-1.98zM226.40 117.17h1.98v5.85h-1.98zM231.29 133.66h1.98v5.85h-1.98zM179.13 161.14h1.98v5.85h-1.98zM242.70 161.14h1.98v5.85h-1.98zM201.95 166.63h1.98v5.85h-1.98zM250.85 166.63h1.98v5.85h-1.98zM218.25 183.12h1.98v5.85h-1.98zM245.96 199.61h1.98v5.85h-1.98zM169.35 205.11h1.98v5.85h-1.98zM131.87 216.10h1.98v5.85h-1.98z"/>
<path fill="#33339c" d="M69.93 62.20h1.98v5.85h-1.98zM115.57 78.69h1.98v5.85h-1.98zM162.84 84.19h1.98v5.85h-1.98zM156.32 95.18h1.98v5.85h-1.98zM76.45 111.67h1.98v5.85h-1.98zM149.80 117.17h1.98v5.85h-1.98zM87.86 144.65h1.98v5.85h-1.98zM135.13 150.14h1.98v5.85h-1.98zM126.98 166.63h1.98v5.85h-1.98zM84.60 177.63h1.98v5.85h-1.98zM216.62 177.63h1.98v5.85h-1.98zM112.31 199.61h1.98v5.85h-1.98z"/>
<path fill="#d63434" d="M250.85 73.19h1.98v5.85h-1.98zM237.81 78.69h1.98v5.85h-1.98zM257.37 78.69h1.98v5.85h-1.98zM208.47 106.17h1.98v5.85h-1.98zM252.48 111.67h1.98v5.85h-1.98zM254.11 111.67h1.98v5.85h-1.98zM242.70 155.64h1.98v5.85h-1.98zM250.85 161.14h1.98v5.85h-1.98zM89.49 205.11h1.98v5.85h-1.98z"/>
<path fill="#262696" d="M73.19 62.20h1.98v5.85h-1.98zM237.81 67.70h1.98v5.85h-1.98zM91.12 73.19h1.98v5.85h-1.98zM73.19 78.69h1.98v5.85h-1.98zM84.60 84.19h1.98v5.85h-1.98zM69.93 89.68h1.98v5.85h-1.98zM79.71 106.17h1.98v5.85h-1.98zM154.69 111.67h1.98v5.85h-1.98zM69.93 122.66h1.98v5.85h-1.98zM104.16 128.16h1.98v5.85h-1.98zM71.56 133.66h1.98v5.85h-1.98zM100.90 139.15h1.98v5.85h-1.98zM73.19 144.65h1.98v5.85h-1.98zM154.69 150.14h1.98v5.85h-1.98zM69.93 155.64h1.98v5.85h-1.98zM86.23 155.64h1.98v5.85h-1.98zM92.75 155.64h1.98v5.85h-1.98zM97.64 155.64h1.98v5.85h-1.98zM107.42 161.14h1.98v5.85h-1.98zM73.19 166.63h1.98v5.85h-1.98zM84.60 166.63h1.98v5.85h-1.98zM164.46 166.63h1.98v5.85h-1.98zM153.06 172.13h1.98v5.85h-1.98zM157.95 194.12h1.98v5.85h-1.98zM166.09 194.12h1.98v5.85h-1.98zM245.96 205.11h1.98v5.85h-1.98zM247.59 210.61h1.98v5.85h-1.98zM255.74 210.61h1.98v5.85h-1.98zM255.74 216.10h1.98v5.85h-1.98zM257.37 216.10h1.98v5.85h-1.98z"/>
<path fill="#d42828" d="M241.07 62.20h1.98v5.85h-1.98zM249.22 62.20h1.98v5.85h-1.98zM254.11 78.69h1.98v5.85h-1.98zM252.48 84.19h1.98v5.85h-1.98zM200.32 89.68h1.98v5.85h-1.98zM249.22 89.68h1.98v5.85h-1.98zM250.85 89.68h1.98v5.85h-1.98zM226.40 95.18h1.98v5.85h-1.98zM241.07 100.68h1.98v5.85h-1.98zM244.33 100.68h1.98v5.85h-1.98zM250.85 100.68h1.98v5.85h-1.98zM252.48 100.68h1.98v5.85h-1.98zM257.37 100.68h1.98v5.85h-1.98zM252.48 106.17h1.98v5.85h-1.98zM192.17 122.66h1.98v5.85h-1.98zM247.59 122.66h1.98v5.85h-1.98zM190.54 128.16h1.98v5.85h-1.98zM231.29 128.16h1.98v5.85h-1.98zM252.48 128.16h1.98v5.85h-1.98zM241.07 144.65h1.98v5.85h-1.98zM257.37 144.65h1.98v5.85h-1.98zM218.25 150.14h1.98v5.85h-1.98zM249.22 150.14h1.98v5.85h-1.98zM255.74 150.14h1.98v5.85h-1.98zM257.37 150.14h1.98v5.85h-1.98zM250.85 155.64h1.98v5.85h-1.98zM252.48 155.64h1.98v5.85h-1.98zM236.18 161.14h1.98v5.85h-1.98zM244.33 161.14h1.98v5.85h-1.98zM254.11 161.14h1.98v5.85h-1.98zM255.74 161.14h1.98v5.85h-1.98zM213.36 166.63h1.98v5.85h-1.98zM237.81 166.63h1.98v5.85h-1.98zM249.22 166.63h1.98v5.85h-1.98zM252.48 166.63h1.98v5.85h-1.98zM257.37 166.63h1.98v5.85h-1.98zM249.22 177.63h1.98v5.85h-1.98zM185.65 183.12h1.98v5.85h-1.98zM245.96 183.12h1.98v5.85h-1.98zM249.22 183.12h1.98v5.85h-1.98zM232.92 188.62h1.98v5.85h-1.98zM242.70 199.61h1.98v5.85h-1.98zM92.75 205.11h1.98v5.85h-1.98zM78.08 210.61h1.98v5.85h-1.98zM143.28 216.10h1.98v5.85h-1.98z"/>
<rect x="68.3" y="62.2" width="190.7" height="159.39999999999998" fill="none" stroke="#8a8a8a" stroke-width="0.6"/>
<rect x="63.2" y="62.2" width="3.299999999999997" height="142.39999999999998" fill="#1673B0"/>
<rect x="63.2" y="204.6" width="3.299999999999997" height="17.0" fill="#E9A21A"/>
<rect x="63.2" y="62.2" width="3.299999999999997" height="159.39999999999998" fill="none" stroke="#444" stroke-width="0.6"/>
<path d="M68.70 226.30 L164.00 226.30 L164.00 226.30 L160.00 226.56 L155.00 227.06 L148.00 227.83 L140.00 228.85 L125.00 230.12 L110.00 230.64 L93.00 231.40 L68.70 231.40Z" fill="#E9A21A"/>
<path d="M183.50 226.30 L259.00 226.30 L259.00 231.40 L250.00 231.40 L240.00 230.89 L225.00 230.12 L215.00 229.62 L205.00 228.85 L195.00 227.83 L183.50 226.30Z" fill="#1673B0"/>
<rect x="68.7" y="226.3" width="190.3" height="5.099999999999994" fill="none" stroke="#555" stroke-width="0.7"/>
<line x1="166.3" y1="226.3" x2="166.3" y2="231.4" stroke="#555" stroke-width="0.7"/>
<text x="265.6" y="228.1" font-size="6.2" font-weight="bold" text-anchor="middle" fill="#000">1</text>
<text x="265.6" y="233.0" font-size="6.0" font-weight="bold" text-anchor="middle" fill="#000">0</text>
<text x="117.5" y="240.3" font-size="6.5" font-weight="bold" text-anchor="middle" fill="#000">CS1</text>
<text x="212.4" y="240.3" font-size="6.5" font-weight="bold" text-anchor="middle" fill="#000">CS2</text>
<text x="37.6" y="139.5" font-size="8.85" text-anchor="middle" fill="#000" transform="rotate(-90 37.6 139.5)" stroke="#000" stroke-width="0.3">template features</text>
<text x="161.0" y="304.3" font-size="12" font-weight="bold" text-anchor="middle" fill="#000">GSE31210</text>
<rect x="67.8" y="306.2" width="190.2" height="160.0" fill="#fff"/>
<path fill="#fcfcfe" d="M72.01 306.20h1.19v5.87h-1.19zM73.69 306.20h1.19v5.87h-1.19zM77.06 306.20h1.19v5.87h-1.19zM82.95 306.20h1.19v5.87h-1.19zM83.79 306.20h1.19v5.87h-1.19zM93.05 306.20h1.19v5.87h-1.19zM96.41 306.20h1.19v5.87h-1.19zM97.26 306.20h1.19v5.87h-1.19zM100.62 306.20h1.19v5.87h-1.19zM103.99 306.20h1.19v5.87h-1.19zM109.88 306.20h1.19v5.87h-1.19zM158.69 306.20h1.19v5.87h-1.19zM167.11 306.20h1.19v5.87h-1.19zM168.79 306.20h1.19v5.87h-1.19zM182.26 306.20h1.19v5.87h-1.19zM184.78 306.20h1.19v5.87h-1.19zM186.46 306.20h1.19v5.87h-1.19zM202.45 306.20h1.19v5.87h-1.19zM220.97 306.20h1.19v5.87h-1.19zM232.75 306.20h1.19v5.87h-1.19zM236.12 306.20h1.19v5.87h-1.19zM80.42 311.72h1.19v5.87h-1.19zM88.00 311.72h1.19v5.87h-1.19zM95.57 311.72h1.19v5.87h-1.19zM103.99 311.72h1.19v5.87h-1.19zM133.44 311.72h1.19v5.87h-1.19zM151.96 311.72h1.19v5.87h-1.19zM160.38 311.72h1.19v5.87h-1.19zM179.73 311.72h1.19v5.87h-1.19zM185.62 311.72h1.19v5.87h-1.19zM190.67 311.72h1.19v5.87h-1.19zM196.56 311.72h1.19v5.87h-1.19zM203.30 311.72h1.19v5.87h-1.19zM219.29 311.72h1.19v5.87h-1.19zM221.81 311.72h1.19v5.87h-1.19zM87.16 317.23h1.19v5.87h-1.19zM109.88 317.23h1.19v5.87h-1.19zM115.77 317.23h1.19v5.87h-1.19zM122.50 317.23h1.19v5.87h-1.19zM132.60 317.23h1.19v5.87h-1.19zM147.75 317.23h1.19v5.87h-1.19zM164.58 317.23h1.19v5.87h-1.19zM184.78 317.23h1.19v5.87h-1.19zM200.77 317.23h1.19v5.87h-1.19zM205.82 317.23h1.19v5.87h-1.19zM222.65 317.23h1.19v5.87h-1.19zM234.44 317.23h1.19v5.87h-1.19zM80.42 322.75h1.19v5.87h-1.19zM82.95 322.75h1.19v5.87h-1.19zM87.16 322.75h1.19v5.87h-1.19zM123.35 322.75h1.19v5.87h-1.19zM130.08 322.75h1.19v5.87h-1.19zM158.69 322.75h1.19v5.87h-1.19zM159.53 322.75h1.19v5.87h-1.19zM164.58 322.75h1.19v5.87h-1.19zM180.57 322.75h1.19v5.87h-1.19zM200.77 322.75h1.19v5.87h-1.19zM207.50 322.75h1.19v5.87h-1.19zM217.60 322.75h1.19v5.87h-1.19zM224.34 322.75h1.19v5.87h-1.19zM250.43 322.75h1.19v5.87h-1.19zM114.93 328.27h1.19v5.87h-1.19zM124.19 328.27h1.19v5.87h-1.19zM133.44 328.27h1.19v5.87h-1.19zM134.29 328.27h1.19v5.87h-1.19zM141.02 328.27h1.19v5.87h-1.19zM160.38 328.27h1.19v5.87h-1.19zM173.84 328.27h1.19v5.87h-1.19zM186.46 328.27h1.19v5.87h-1.19zM190.67 328.27h1.19v5.87h-1.19zM239.48 328.27h1.19v5.87h-1.19zM88.00 333.79h1.19v5.87h-1.19zM91.36 333.79h1.19v5.87h-1.19zM95.57 333.79h1.19v5.87h-1.19zM127.55 333.79h1.19v5.87h-1.19zM130.08 333.79h1.19v5.87h-1.19zM137.65 333.79h1.19v5.87h-1.19zM149.43 333.79h1.19v5.87h-1.19zM170.47 333.79h1.19v5.87h-1.19zM178.05 333.79h1.19v5.87h-1.19zM188.99 333.79h1.19v5.87h-1.19zM220.97 333.79h1.19v5.87h-1.19zM74.53 339.30h1.19v5.87h-1.19zM76.22 339.30h1.19v5.87h-1.19zM92.21 339.30h1.19v5.87h-1.19zM101.46 339.30h1.19v5.87h-1.19zM118.30 339.30h1.19v5.87h-1.19zM122.50 339.30h1.19v5.87h-1.19zM135.97 339.30h1.19v5.87h-1.19zM164.58 339.30h1.19v5.87h-1.19zM172.16 339.30h1.19v5.87h-1.19zM178.89 339.30h1.19v5.87h-1.19zM193.20 339.30h1.19v5.87h-1.19zM196.56 339.30h1.19v5.87h-1.19zM210.87 339.30h1.19v5.87h-1.19zM226.02 339.30h1.19v5.87h-1.19zM73.69 344.82h1.19v5.87h-1.19zM79.58 344.82h1.19v5.87h-1.19zM86.32 344.82h1.19v5.87h-1.19zM92.21 344.82h1.19v5.87h-1.19zM108.20 344.82h1.19v5.87h-1.19zM113.25 344.82h1.19v5.87h-1.19zM159.53 344.82h1.19v5.87h-1.19zM212.55 344.82h1.19v5.87h-1.19zM222.65 344.82h1.19v5.87h-1.19zM72.85 350.34h1.19v5.87h-1.19zM80.42 350.34h1.19v5.87h-1.19zM88.84 350.34h1.19v5.87h-1.19zM106.51 350.34h1.19v5.87h-1.19zM108.20 350.34h1.19v5.87h-1.19zM109.04 350.34h1.19v5.87h-1.19zM150.28 350.34h1.19v5.87h-1.19zM154.48 350.34h1.19v5.87h-1.19zM157.85 350.34h1.19v5.87h-1.19zM161.22 350.34h1.19v5.87h-1.19zM167.95 350.34h1.19v5.87h-1.19zM173.84 350.34h1.19v5.87h-1.19zM210.03 350.34h1.19v5.87h-1.19zM214.24 350.34h1.19v5.87h-1.19zM74.53 355.86h1.19v5.87h-1.19zM93.05 355.86h1.19v5.87h-1.19zM107.35 355.86h1.19v5.87h-1.19zM114.09 355.86h1.19v5.87h-1.19zM120.82 355.86h1.19v5.87h-1.19zM124.19 355.86h1.19v5.87h-1.19zM135.13 355.86h1.19v5.87h-1.19zM141.86 355.86h1.19v5.87h-1.19zM146.91 355.86h1.19v5.87h-1.19zM157.01 355.86h1.19v5.87h-1.19zM157.85 355.86h1.19v5.87h-1.19zM205.82 355.86h1.19v5.87h-1.19zM226.02 355.86h1.19v5.87h-1.19zM72.85 361.37h1.19v5.87h-1.19zM101.46 361.37h1.19v5.87h-1.19zM114.09 361.37h1.19v5.87h-1.19zM124.19 361.37h1.19v5.87h-1.19zM126.71 361.37h1.19v5.87h-1.19zM141.86 361.37h1.19v5.87h-1.19zM165.42 361.37h1.19v5.87h-1.19zM179.73 361.37h1.19v5.87h-1.19zM188.99 361.37h1.19v5.87h-1.19zM114.93 366.89h1.19v5.87h-1.19zM159.53 366.89h1.19v5.87h-1.19zM168.79 366.89h1.19v5.87h-1.19zM178.89 366.89h1.19v5.87h-1.19zM223.49 366.89h1.19v5.87h-1.19zM70.32 372.41h1.19v5.87h-1.19zM73.69 372.41h1.19v5.87h-1.19zM78.74 372.41h1.19v5.87h-1.19zM103.99 372.41h1.19v5.87h-1.19zM156.17 372.41h1.19v5.87h-1.19zM173.00 372.41h1.19v5.87h-1.19zM178.05 372.41h1.19v5.87h-1.19zM184.78 372.41h1.19v5.87h-1.19zM224.34 372.41h1.19v5.87h-1.19zM231.91 372.41h1.19v5.87h-1.19zM89.68 377.92h1.19v5.87h-1.19zM91.36 377.92h1.19v5.87h-1.19zM118.30 377.92h1.19v5.87h-1.19zM151.12 377.92h1.19v5.87h-1.19zM157.85 377.92h1.19v5.87h-1.19zM162.06 377.92h1.19v5.87h-1.19zM168.79 377.92h1.19v5.87h-1.19zM178.89 377.92h1.19v5.87h-1.19zM181.42 377.92h1.19v5.87h-1.19zM186.46 377.92h1.19v5.87h-1.19zM194.88 377.92h1.19v5.87h-1.19zM230.23 377.92h1.19v5.87h-1.19zM72.01 383.44h1.19v5.87h-1.19zM77.06 383.44h1.19v5.87h-1.19zM77.90 383.44h1.19v5.87h-1.19zM90.52 383.44h1.19v5.87h-1.19zM99.78 383.44h1.19v5.87h-1.19zM104.83 383.44h1.19v5.87h-1.19zM105.67 383.44h1.19v5.87h-1.19zM108.20 383.44h1.19v5.87h-1.19zM115.77 383.44h1.19v5.87h-1.19zM122.50 383.44h1.19v5.87h-1.19zM124.19 383.44h1.19v5.87h-1.19zM155.33 383.44h1.19v5.87h-1.19zM160.38 383.44h1.19v5.87h-1.19zM174.68 383.44h1.19v5.87h-1.19zM180.57 383.44h1.19v5.87h-1.19zM223.49 383.44h1.19v5.87h-1.19zM256.32 383.44h1.19v5.87h-1.19zM67.80 388.96h1.19v5.87h-1.19zM85.47 388.96h1.19v5.87h-1.19zM105.67 388.96h1.19v5.87h-1.19zM159.53 388.96h1.19v5.87h-1.19zM160.38 388.96h1.19v5.87h-1.19zM178.89 388.96h1.19v5.87h-1.19zM188.15 388.96h1.19v5.87h-1.19zM68.64 394.48h1.19v5.87h-1.19zM77.06 394.48h1.19v5.87h-1.19zM81.27 394.48h1.19v5.87h-1.19zM89.68 394.48h1.19v5.87h-1.19zM96.41 394.48h1.19v5.87h-1.19zM103.99 394.48h1.19v5.87h-1.19zM130.08 394.48h1.19v5.87h-1.19zM130.92 394.48h1.19v5.87h-1.19zM135.13 394.48h1.19v5.87h-1.19zM136.81 394.48h1.19v5.87h-1.19zM148.59 394.48h1.19v5.87h-1.19zM154.48 394.48h1.19v5.87h-1.19zM207.50 394.48h1.19v5.87h-1.19zM208.35 394.48h1.19v5.87h-1.19zM225.18 394.48h1.19v5.87h-1.19zM89.68 399.99h1.19v5.87h-1.19zM105.67 399.99h1.19v5.87h-1.19zM114.09 399.99h1.19v5.87h-1.19zM157.85 399.99h1.19v5.87h-1.19zM177.21 399.99h1.19v5.87h-1.19zM190.67 399.99h1.19v5.87h-1.19zM212.55 399.99h1.19v5.87h-1.19zM242.01 399.99h1.19v5.87h-1.19zM245.38 399.99h1.19v5.87h-1.19zM88.00 405.51h1.19v5.87h-1.19zM114.09 405.51h1.19v5.87h-1.19zM135.13 405.51h1.19v5.87h-1.19zM154.48 405.51h1.19v5.87h-1.19zM161.22 405.51h1.19v5.87h-1.19zM181.42 405.51h1.19v5.87h-1.19zM228.54 405.51h1.19v5.87h-1.19zM76.22 411.03h1.19v5.87h-1.19zM77.06 411.03h1.19v5.87h-1.19zM231.07 411.03h1.19v5.87h-1.19zM236.96 411.03h1.19v5.87h-1.19zM80.42 416.54h1.19v5.87h-1.19zM81.27 416.54h1.19v5.87h-1.19zM109.88 416.54h1.19v5.87h-1.19zM137.65 416.54h1.19v5.87h-1.19zM151.12 416.54h1.19v5.87h-1.19zM168.79 416.54h1.19v5.87h-1.19zM172.16 416.54h1.19v5.87h-1.19zM205.82 416.54h1.19v5.87h-1.19zM224.34 416.54h1.19v5.87h-1.19zM67.80 422.06h1.19v5.87h-1.19zM76.22 422.06h1.19v5.87h-1.19zM79.58 422.06h1.19v5.87h-1.19zM81.27 422.06h1.19v5.87h-1.19zM82.95 422.06h1.19v5.87h-1.19zM118.30 422.06h1.19v5.87h-1.19zM135.97 422.06h1.19v5.87h-1.19zM145.23 422.06h1.19v5.87h-1.19zM151.12 422.06h1.19v5.87h-1.19zM158.69 422.06h1.19v5.87h-1.19zM162.90 422.06h1.19v5.87h-1.19zM165.42 422.06h1.19v5.87h-1.19zM190.67 422.06h1.19v5.87h-1.19zM200.77 422.06h1.19v5.87h-1.19zM223.49 422.06h1.19v5.87h-1.19zM237.80 422.06h1.19v5.87h-1.19zM75.37 427.58h1.19v5.87h-1.19zM105.67 427.58h1.19v5.87h-1.19zM109.04 427.58h1.19v5.87h-1.19zM114.09 427.58h1.19v5.87h-1.19zM128.39 427.58h1.19v5.87h-1.19zM134.29 427.58h1.19v5.87h-1.19zM147.75 427.58h1.19v5.87h-1.19zM152.80 427.58h1.19v5.87h-1.19zM177.21 427.58h1.19v5.87h-1.19zM178.89 427.58h1.19v5.87h-1.19zM188.15 427.58h1.19v5.87h-1.19zM235.28 427.58h1.19v5.87h-1.19zM72.85 433.10h1.19v5.87h-1.19zM88.84 433.10h1.19v5.87h-1.19zM101.46 433.10h1.19v5.87h-1.19zM108.20 433.10h1.19v5.87h-1.19zM132.60 433.10h1.19v5.87h-1.19zM135.13 433.10h1.19v5.87h-1.19zM149.43 433.10h1.19v5.87h-1.19zM161.22 433.10h1.19v5.87h-1.19zM180.57 433.10h1.19v5.87h-1.19zM202.45 433.10h1.19v5.87h-1.19zM226.86 433.10h1.19v5.87h-1.19zM74.53 438.61h1.19v5.87h-1.19zM122.50 438.61h1.19v5.87h-1.19zM137.65 438.61h1.19v5.87h-1.19zM178.05 438.61h1.19v5.87h-1.19zM189.83 438.61h1.19v5.87h-1.19zM210.87 438.61h1.19v5.87h-1.19zM211.71 438.61h1.19v5.87h-1.19zM237.80 438.61h1.19v5.87h-1.19zM75.37 444.13h1.19v5.87h-1.19zM87.16 444.13h1.19v5.87h-1.19zM98.10 444.13h1.19v5.87h-1.19zM135.13 444.13h1.19v5.87h-1.19zM137.65 444.13h1.19v5.87h-1.19zM140.18 444.13h1.19v5.87h-1.19zM175.52 444.13h1.19v5.87h-1.19zM178.05 444.13h1.19v5.87h-1.19zM191.51 444.13h1.19v5.87h-1.19zM195.72 444.13h1.19v5.87h-1.19zM199.93 444.13h1.19v5.87h-1.19zM202.45 444.13h1.19v5.87h-1.19zM207.50 444.13h1.19v5.87h-1.19zM209.19 444.13h1.19v5.87h-1.19zM90.52 449.65h1.19v5.87h-1.19zM94.73 449.65h1.19v5.87h-1.19zM125.03 449.65h1.19v5.87h-1.19zM152.80 449.65h1.19v5.87h-1.19zM178.89 449.65h1.19v5.87h-1.19zM179.73 449.65h1.19v5.87h-1.19zM181.42 449.65h1.19v5.87h-1.19zM189.83 449.65h1.19v5.87h-1.19zM205.82 449.65h1.19v5.87h-1.19zM240.33 449.65h1.19v5.87h-1.19zM88.00 455.17h1.19v5.87h-1.19zM103.15 455.17h1.19v5.87h-1.19zM128.39 455.17h1.19v5.87h-1.19zM164.58 455.17h1.19v5.87h-1.19zM168.79 455.17h1.19v5.87h-1.19zM225.18 455.17h1.19v5.87h-1.19zM230.23 455.17h1.19v5.87h-1.19zM236.12 455.17h1.19v5.87h-1.19zM252.11 455.17h1.19v5.87h-1.19zM113.25 460.68h1.19v5.87h-1.19zM124.19 460.68h1.19v5.87h-1.19zM152.80 460.68h1.19v5.87h-1.19zM165.42 460.68h1.19v5.87h-1.19zM170.47 460.68h1.19v5.87h-1.19zM173.00 460.68h1.19v5.87h-1.19zM180.57 460.68h1.19v5.87h-1.19zM182.26 460.68h1.19v5.87h-1.19zM214.24 460.68h1.19v5.87h-1.19zM223.49 460.68h1.19v5.87h-1.19zM226.02 460.68h1.19v5.87h-1.19zM239.48 460.68h1.19v5.87h-1.19zM245.38 460.68h1.19v5.87h-1.19zM253.79 460.68h1.19v5.87h-1.19z"/>
<path fill="#fefcfc" d="M77.90 306.20h1.19v5.87h-1.19zM87.16 306.20h1.19v5.87h-1.19zM91.36 306.20h1.19v5.87h-1.19zM108.20 306.20h1.19v5.87h-1.19zM121.66 306.20h1.19v5.87h-1.19zM128.39 306.20h1.19v5.87h-1.19zM133.44 306.20h1.19v5.87h-1.19zM154.48 306.20h1.19v5.87h-1.19zM157.01 306.20h1.19v5.87h-1.19zM189.83 306.20h1.19v5.87h-1.19zM192.36 306.20h1.19v5.87h-1.19zM204.14 306.20h1.19v5.87h-1.19zM247.06 306.20h1.19v5.87h-1.19zM75.37 311.72h1.19v5.87h-1.19zM76.22 311.72h1.19v5.87h-1.19zM96.41 311.72h1.19v5.87h-1.19zM114.09 311.72h1.19v5.87h-1.19zM114.93 311.72h1.19v5.87h-1.19zM157.01 311.72h1.19v5.87h-1.19zM162.06 311.72h1.19v5.87h-1.19zM166.27 311.72h1.19v5.87h-1.19zM167.11 311.72h1.19v5.87h-1.19zM173.84 311.72h1.19v5.87h-1.19zM176.37 311.72h1.19v5.87h-1.19zM177.21 311.72h1.19v5.87h-1.19zM183.94 311.72h1.19v5.87h-1.19zM189.83 311.72h1.19v5.87h-1.19zM192.36 311.72h1.19v5.87h-1.19zM194.04 311.72h1.19v5.87h-1.19zM194.88 311.72h1.19v5.87h-1.19zM208.35 311.72h1.19v5.87h-1.19zM254.63 311.72h1.19v5.87h-1.19zM67.80 317.23h1.19v5.87h-1.19zM73.69 317.23h1.19v5.87h-1.19zM82.11 317.23h1.19v5.87h-1.19zM90.52 317.23h1.19v5.87h-1.19zM92.21 317.23h1.19v5.87h-1.19zM108.20 317.23h1.19v5.87h-1.19zM109.04 317.23h1.19v5.87h-1.19zM114.09 317.23h1.19v5.87h-1.19zM145.23 317.23h1.19v5.87h-1.19zM194.04 317.23h1.19v5.87h-1.19zM194.88 317.23h1.19v5.87h-1.19zM198.25 317.23h1.19v5.87h-1.19zM213.40 317.23h1.19v5.87h-1.19zM255.48 317.23h1.19v5.87h-1.19zM100.62 322.75h1.19v5.87h-1.19zM106.51 322.75h1.19v5.87h-1.19zM109.04 322.75h1.19v5.87h-1.19zM114.93 322.75h1.19v5.87h-1.19zM170.47 322.75h1.19v5.87h-1.19zM181.42 322.75h1.19v5.87h-1.19zM68.64 328.27h1.19v5.87h-1.19zM71.17 328.27h1.19v5.87h-1.19zM87.16 328.27h1.19v5.87h-1.19zM93.05 328.27h1.19v5.87h-1.19zM101.46 328.27h1.19v5.87h-1.19zM103.99 328.27h1.19v5.87h-1.19zM106.51 328.27h1.19v5.87h-1.19zM116.61 328.27h1.19v5.87h-1.19zM157.01 328.27h1.19v5.87h-1.19zM163.74 328.27h1.19v5.87h-1.19zM166.27 328.27h1.19v5.87h-1.19zM196.56 328.27h1.19v5.87h-1.19zM206.66 328.27h1.19v5.87h-1.19zM209.19 328.27h1.19v5.87h-1.19zM212.55 328.27h1.19v5.87h-1.19zM242.01 328.27h1.19v5.87h-1.19zM82.95 333.79h1.19v5.87h-1.19zM96.41 333.79h1.19v5.87h-1.19zM116.61 333.79h1.19v5.87h-1.19zM124.19 333.79h1.19v5.87h-1.19zM134.29 333.79h1.19v5.87h-1.19zM151.96 333.79h1.19v5.87h-1.19zM167.11 333.79h1.19v5.87h-1.19zM173.00 333.79h1.19v5.87h-1.19zM77.06 339.30h1.19v5.87h-1.19zM87.16 339.30h1.19v5.87h-1.19zM97.26 339.30h1.19v5.87h-1.19zM109.04 339.30h1.19v5.87h-1.19zM116.61 339.30h1.19v5.87h-1.19zM117.45 339.30h1.19v5.87h-1.19zM126.71 339.30h1.19v5.87h-1.19zM129.24 339.30h1.19v5.87h-1.19zM149.43 339.30h1.19v5.87h-1.19zM150.28 339.30h1.19v5.87h-1.19zM166.27 339.30h1.19v5.87h-1.19zM167.95 339.30h1.19v5.87h-1.19zM180.57 339.30h1.19v5.87h-1.19zM192.36 339.30h1.19v5.87h-1.19zM200.77 339.30h1.19v5.87h-1.19zM204.14 339.30h1.19v5.87h-1.19zM208.35 339.30h1.19v5.87h-1.19zM219.29 339.30h1.19v5.87h-1.19zM229.39 339.30h1.19v5.87h-1.19zM252.95 339.30h1.19v5.87h-1.19zM254.63 339.30h1.19v5.87h-1.19zM72.01 344.82h1.19v5.87h-1.19zM72.85 344.82h1.19v5.87h-1.19zM101.46 344.82h1.19v5.87h-1.19zM109.88 344.82h1.19v5.87h-1.19zM161.22 344.82h1.19v5.87h-1.19zM172.16 344.82h1.19v5.87h-1.19zM174.68 344.82h1.19v5.87h-1.19zM254.63 344.82h1.19v5.87h-1.19zM82.95 350.34h1.19v5.87h-1.19zM93.05 350.34h1.19v5.87h-1.19zM118.30 350.34h1.19v5.87h-1.19zM120.82 350.34h1.19v5.87h-1.19zM155.33 350.34h1.19v5.87h-1.19zM158.69 350.34h1.19v5.87h-1.19zM172.16 350.34h1.19v5.87h-1.19zM189.83 350.34h1.19v5.87h-1.19zM205.82 350.34h1.19v5.87h-1.19zM223.49 350.34h1.19v5.87h-1.19zM88.84 355.86h1.19v5.87h-1.19zM106.51 355.86h1.19v5.87h-1.19zM109.04 355.86h1.19v5.87h-1.19zM139.34 355.86h1.19v5.87h-1.19zM150.28 355.86h1.19v5.87h-1.19zM156.17 355.86h1.19v5.87h-1.19zM176.37 355.86h1.19v5.87h-1.19zM177.21 355.86h1.19v5.87h-1.19zM187.31 355.86h1.19v5.87h-1.19zM199.09 355.86h1.19v5.87h-1.19zM225.18 355.86h1.19v5.87h-1.19zM95.57 361.37h1.19v5.87h-1.19zM105.67 361.37h1.19v5.87h-1.19zM119.98 361.37h1.19v5.87h-1.19zM139.34 361.37h1.19v5.87h-1.19zM168.79 361.37h1.19v5.87h-1.19zM170.47 361.37h1.19v5.87h-1.19zM191.51 361.37h1.19v5.87h-1.19zM194.88 361.37h1.19v5.87h-1.19zM196.56 361.37h1.19v5.87h-1.19zM208.35 361.37h1.19v5.87h-1.19zM210.87 361.37h1.19v5.87h-1.19zM211.71 361.37h1.19v5.87h-1.19zM215.92 361.37h1.19v5.87h-1.19zM248.74 361.37h1.19v5.87h-1.19zM252.95 361.37h1.19v5.87h-1.19zM81.27 366.89h1.19v5.87h-1.19zM95.57 366.89h1.19v5.87h-1.19zM146.07 366.89h1.19v5.87h-1.19zM163.74 366.89h1.19v5.87h-1.19zM167.95 366.89h1.19v5.87h-1.19zM196.56 366.89h1.19v5.87h-1.19zM201.61 366.89h1.19v5.87h-1.19zM231.91 366.89h1.19v5.87h-1.19zM250.43 366.89h1.19v5.87h-1.19zM72.85 372.41h1.19v5.87h-1.19zM90.52 372.41h1.19v5.87h-1.19zM93.05 372.41h1.19v5.87h-1.19zM141.86 372.41h1.19v5.87h-1.19zM153.64 372.41h1.19v5.87h-1.19zM167.11 372.41h1.19v5.87h-1.19zM168.79 372.41h1.19v5.87h-1.19zM186.46 372.41h1.19v5.87h-1.19zM215.92 372.41h1.19v5.87h-1.19zM238.64 372.41h1.19v5.87h-1.19zM77.06 377.92h1.19v5.87h-1.19zM88.00 377.92h1.19v5.87h-1.19zM92.21 377.92h1.19v5.87h-1.19zM105.67 377.92h1.19v5.87h-1.19zM137.65 377.92h1.19v5.87h-1.19zM145.23 377.92h1.19v5.87h-1.19zM167.95 377.92h1.19v5.87h-1.19zM221.81 377.92h1.19v5.87h-1.19zM227.70 377.92h1.19v5.87h-1.19zM231.91 377.92h1.19v5.87h-1.19zM232.75 377.92h1.19v5.87h-1.19zM243.69 377.92h1.19v5.87h-1.19zM256.32 377.92h1.19v5.87h-1.19zM116.61 383.44h1.19v5.87h-1.19zM170.47 383.44h1.19v5.87h-1.19zM177.21 383.44h1.19v5.87h-1.19zM195.72 383.44h1.19v5.87h-1.19zM216.76 383.44h1.19v5.87h-1.19zM226.02 383.44h1.19v5.87h-1.19zM250.43 383.44h1.19v5.87h-1.19zM73.69 388.96h1.19v5.87h-1.19zM135.13 388.96h1.19v5.87h-1.19zM151.12 388.96h1.19v5.87h-1.19zM169.63 388.96h1.19v5.87h-1.19zM193.20 388.96h1.19v5.87h-1.19zM195.72 388.96h1.19v5.87h-1.19zM212.55 388.96h1.19v5.87h-1.19zM214.24 388.96h1.19v5.87h-1.19zM247.06 388.96h1.19v5.87h-1.19zM85.47 394.48h1.19v5.87h-1.19zM99.78 394.48h1.19v5.87h-1.19zM104.83 394.48h1.19v5.87h-1.19zM111.56 394.48h1.19v5.87h-1.19zM127.55 394.48h1.19v5.87h-1.19zM140.18 394.48h1.19v5.87h-1.19zM142.70 394.48h1.19v5.87h-1.19zM151.12 394.48h1.19v5.87h-1.19zM152.80 394.48h1.19v5.87h-1.19zM157.85 394.48h1.19v5.87h-1.19zM159.53 394.48h1.19v5.87h-1.19zM182.26 394.48h1.19v5.87h-1.19zM220.97 394.48h1.19v5.87h-1.19zM226.02 394.48h1.19v5.87h-1.19zM228.54 394.48h1.19v5.87h-1.19zM77.06 399.99h1.19v5.87h-1.19zM93.05 399.99h1.19v5.87h-1.19zM115.77 399.99h1.19v5.87h-1.19zM124.19 399.99h1.19v5.87h-1.19zM125.87 399.99h1.19v5.87h-1.19zM129.24 399.99h1.19v5.87h-1.19zM161.22 399.99h1.19v5.87h-1.19zM178.89 399.99h1.19v5.87h-1.19zM179.73 399.99h1.19v5.87h-1.19zM191.51 399.99h1.19v5.87h-1.19zM196.56 399.99h1.19v5.87h-1.19zM199.93 399.99h1.19v5.87h-1.19zM205.82 399.99h1.19v5.87h-1.19zM207.50 399.99h1.19v5.87h-1.19zM230.23 399.99h1.19v5.87h-1.19zM231.07 399.99h1.19v5.87h-1.19zM72.01 405.51h1.19v5.87h-1.19zM86.32 405.51h1.19v5.87h-1.19zM111.56 405.51h1.19v5.87h-1.19zM119.98 405.51h1.19v5.87h-1.19zM126.71 405.51h1.19v5.87h-1.19zM136.81 405.51h1.19v5.87h-1.19zM160.38 405.51h1.19v5.87h-1.19zM176.37 405.51h1.19v5.87h-1.19zM182.26 405.51h1.19v5.87h-1.19zM198.25 405.51h1.19v5.87h-1.19zM72.85 411.03h1.19v5.87h-1.19zM94.73 411.03h1.19v5.87h-1.19zM95.57 411.03h1.19v5.87h-1.19zM98.94 411.03h1.19v5.87h-1.19zM105.67 411.03h1.19v5.87h-1.19zM107.35 411.03h1.19v5.87h-1.19zM132.60 411.03h1.19v5.87h-1.19zM135.97 411.03h1.19v5.87h-1.19zM161.22 411.03h1.19v5.87h-1.19zM183.10 411.03h1.19v5.87h-1.19zM195.72 411.03h1.19v5.87h-1.19zM223.49 411.03h1.19v5.87h-1.19zM230.23 411.03h1.19v5.87h-1.19zM69.48 416.54h1.19v5.87h-1.19zM116.61 416.54h1.19v5.87h-1.19zM124.19 416.54h1.19v5.87h-1.19zM147.75 416.54h1.19v5.87h-1.19zM161.22 416.54h1.19v5.87h-1.19zM171.32 416.54h1.19v5.87h-1.19zM182.26 416.54h1.19v5.87h-1.19zM200.77 416.54h1.19v5.87h-1.19zM68.64 422.06h1.19v5.87h-1.19zM75.37 422.06h1.19v5.87h-1.19zM98.94 422.06h1.19v5.87h-1.19zM101.46 422.06h1.19v5.87h-1.19zM126.71 422.06h1.19v5.87h-1.19zM130.92 422.06h1.19v5.87h-1.19zM152.80 422.06h1.19v5.87h-1.19zM210.87 422.06h1.19v5.87h-1.19zM212.55 422.06h1.19v5.87h-1.19zM225.18 422.06h1.19v5.87h-1.19zM239.48 422.06h1.19v5.87h-1.19zM241.17 422.06h1.19v5.87h-1.19zM71.17 427.58h1.19v5.87h-1.19zM72.01 427.58h1.19v5.87h-1.19zM141.02 427.58h1.19v5.87h-1.19zM186.46 427.58h1.19v5.87h-1.19zM189.83 427.58h1.19v5.87h-1.19zM190.67 427.58h1.19v5.87h-1.19zM202.45 427.58h1.19v5.87h-1.19zM80.42 433.10h1.19v5.87h-1.19zM146.07 433.10h1.19v5.87h-1.19zM156.17 433.10h1.19v5.87h-1.19zM175.52 433.10h1.19v5.87h-1.19zM208.35 433.10h1.19v5.87h-1.19zM224.34 433.10h1.19v5.87h-1.19zM231.91 433.10h1.19v5.87h-1.19zM67.80 438.61h1.19v5.87h-1.19zM79.58 438.61h1.19v5.87h-1.19zM87.16 438.61h1.19v5.87h-1.19zM90.52 438.61h1.19v5.87h-1.19zM149.43 438.61h1.19v5.87h-1.19zM154.48 438.61h1.19v5.87h-1.19zM161.22 438.61h1.19v5.87h-1.19zM168.79 438.61h1.19v5.87h-1.19zM172.16 438.61h1.19v5.87h-1.19zM186.46 438.61h1.19v5.87h-1.19zM191.51 438.61h1.19v5.87h-1.19zM205.82 438.61h1.19v5.87h-1.19zM245.38 438.61h1.19v5.87h-1.19zM104.83 444.13h1.19v5.87h-1.19zM109.04 444.13h1.19v5.87h-1.19zM110.72 444.13h1.19v5.87h-1.19zM125.03 444.13h1.19v5.87h-1.19zM130.92 444.13h1.19v5.87h-1.19zM160.38 444.13h1.19v5.87h-1.19zM186.46 444.13h1.19v5.87h-1.19zM200.77 444.13h1.19v5.87h-1.19zM95.57 449.65h1.19v5.87h-1.19zM98.94 449.65h1.19v5.87h-1.19zM140.18 449.65h1.19v5.87h-1.19zM145.23 449.65h1.19v5.87h-1.19zM223.49 449.65h1.19v5.87h-1.19zM79.58 455.17h1.19v5.87h-1.19zM93.05 455.17h1.19v5.87h-1.19zM96.41 455.17h1.19v5.87h-1.19zM112.40 455.17h1.19v5.87h-1.19zM120.82 455.17h1.19v5.87h-1.19zM130.08 455.17h1.19v5.87h-1.19zM141.02 455.17h1.19v5.87h-1.19zM170.47 455.17h1.19v5.87h-1.19zM173.00 455.17h1.19v5.87h-1.19zM183.10 455.17h1.19v5.87h-1.19zM215.92 455.17h1.19v5.87h-1.19zM221.81 455.17h1.19v5.87h-1.19zM226.02 455.17h1.19v5.87h-1.19zM75.37 460.68h1.19v5.87h-1.19zM88.84 460.68h1.19v5.87h-1.19zM89.68 460.68h1.19v5.87h-1.19zM98.10 460.68h1.19v5.87h-1.19zM132.60 460.68h1.19v5.87h-1.19zM173.84 460.68h1.19v5.87h-1.19zM194.88 460.68h1.19v5.87h-1.19zM199.93 460.68h1.19v5.87h-1.19zM226.86 460.68h1.19v5.87h-1.19z"/>
<path fill="#f8f8fc" d="M71.17 306.20h1.19v5.87h-1.19zM72.85 306.20h1.19v5.87h-1.19zM95.57 306.20h1.19v5.87h-1.19zM98.94 306.20h1.19v5.87h-1.19zM99.78 306.20h1.19v5.87h-1.19zM101.46 306.20h1.19v5.87h-1.19zM117.45 306.20h1.19v5.87h-1.19zM125.03 306.20h1.19v5.87h-1.19zM126.71 306.20h1.19v5.87h-1.19zM134.29 306.20h1.19v5.87h-1.19zM151.96 306.20h1.19v5.87h-1.19zM193.20 306.20h1.19v5.87h-1.19zM199.93 306.20h1.19v5.87h-1.19zM205.82 306.20h1.19v5.87h-1.19zM70.32 311.72h1.19v5.87h-1.19zM84.63 311.72h1.19v5.87h-1.19zM85.47 311.72h1.19v5.87h-1.19zM90.52 311.72h1.19v5.87h-1.19zM98.10 311.72h1.19v5.87h-1.19zM122.50 311.72h1.19v5.87h-1.19zM128.39 311.72h1.19v5.87h-1.19zM135.13 311.72h1.19v5.87h-1.19zM135.97 311.72h1.19v5.87h-1.19zM164.58 311.72h1.19v5.87h-1.19zM172.16 311.72h1.19v5.87h-1.19zM175.52 311.72h1.19v5.87h-1.19zM180.57 311.72h1.19v5.87h-1.19zM197.41 311.72h1.19v5.87h-1.19zM216.76 311.72h1.19v5.87h-1.19zM68.64 317.23h1.19v5.87h-1.19zM76.22 317.23h1.19v5.87h-1.19zM124.19 317.23h1.19v5.87h-1.19zM125.87 317.23h1.19v5.87h-1.19zM127.55 317.23h1.19v5.87h-1.19zM129.24 317.23h1.19v5.87h-1.19zM146.07 317.23h1.19v5.87h-1.19zM151.96 317.23h1.19v5.87h-1.19zM157.85 317.23h1.19v5.87h-1.19zM197.41 317.23h1.19v5.87h-1.19zM76.22 322.75h1.19v5.87h-1.19zM107.35 322.75h1.19v5.87h-1.19zM117.45 322.75h1.19v5.87h-1.19zM122.50 322.75h1.19v5.87h-1.19zM141.86 322.75h1.19v5.87h-1.19zM148.59 322.75h1.19v5.87h-1.19zM155.33 322.75h1.19v5.87h-1.19zM189.83 322.75h1.19v5.87h-1.19zM202.45 322.75h1.19v5.87h-1.19zM222.65 322.75h1.19v5.87h-1.19zM120.82 328.27h1.19v5.87h-1.19zM128.39 328.27h1.19v5.87h-1.19zM169.63 328.27h1.19v5.87h-1.19zM171.32 328.27h1.19v5.87h-1.19zM172.16 328.27h1.19v5.87h-1.19zM199.93 328.27h1.19v5.87h-1.19zM200.77 328.27h1.19v5.87h-1.19zM201.61 328.27h1.19v5.87h-1.19zM208.35 328.27h1.19v5.87h-1.19zM213.40 328.27h1.19v5.87h-1.19zM249.58 328.27h1.19v5.87h-1.19zM251.27 328.27h1.19v5.87h-1.19zM67.80 333.79h1.19v5.87h-1.19zM103.99 333.79h1.19v5.87h-1.19zM121.66 333.79h1.19v5.87h-1.19zM138.49 333.79h1.19v5.87h-1.19zM150.28 333.79h1.19v5.87h-1.19zM177.21 333.79h1.19v5.87h-1.19zM185.62 333.79h1.19v5.87h-1.19zM200.77 333.79h1.19v5.87h-1.19zM215.08 333.79h1.19v5.87h-1.19zM231.91 333.79h1.19v5.87h-1.19zM237.80 333.79h1.19v5.87h-1.19zM79.58 339.30h1.19v5.87h-1.19zM88.00 339.30h1.19v5.87h-1.19zM109.88 339.30h1.19v5.87h-1.19zM125.03 339.30h1.19v5.87h-1.19zM133.44 339.30h1.19v5.87h-1.19zM153.64 339.30h1.19v5.87h-1.19zM154.48 339.30h1.19v5.87h-1.19zM161.22 339.30h1.19v5.87h-1.19zM162.90 339.30h1.19v5.87h-1.19zM165.42 339.30h1.19v5.87h-1.19zM173.00 339.30h1.19v5.87h-1.19zM70.32 344.82h1.19v5.87h-1.19zM75.37 344.82h1.19v5.87h-1.19zM110.72 344.82h1.19v5.87h-1.19zM124.19 344.82h1.19v5.87h-1.19zM126.71 344.82h1.19v5.87h-1.19zM127.55 344.82h1.19v5.87h-1.19zM128.39 344.82h1.19v5.87h-1.19zM130.08 344.82h1.19v5.87h-1.19zM130.92 344.82h1.19v5.87h-1.19zM150.28 344.82h1.19v5.87h-1.19zM168.79 344.82h1.19v5.87h-1.19zM178.89 344.82h1.19v5.87h-1.19zM189.83 344.82h1.19v5.87h-1.19zM191.51 344.82h1.19v5.87h-1.19zM205.82 344.82h1.19v5.87h-1.19zM215.08 344.82h1.19v5.87h-1.19zM246.22 344.82h1.19v5.87h-1.19zM70.32 350.34h1.19v5.87h-1.19zM81.27 350.34h1.19v5.87h-1.19zM87.16 350.34h1.19v5.87h-1.19zM123.35 350.34h1.19v5.87h-1.19zM135.13 350.34h1.19v5.87h-1.19zM137.65 350.34h1.19v5.87h-1.19zM177.21 350.34h1.19v5.87h-1.19zM182.26 350.34h1.19v5.87h-1.19zM103.15 355.86h1.19v5.87h-1.19zM122.50 355.86h1.19v5.87h-1.19zM129.24 355.86h1.19v5.87h-1.19zM131.76 355.86h1.19v5.87h-1.19zM151.12 355.86h1.19v5.87h-1.19zM152.80 355.86h1.19v5.87h-1.19zM153.64 355.86h1.19v5.87h-1.19zM193.20 355.86h1.19v5.87h-1.19zM195.72 355.86h1.19v5.87h-1.19zM196.56 355.86h1.19v5.87h-1.19zM97.26 361.37h1.19v5.87h-1.19zM98.94 361.37h1.19v5.87h-1.19zM104.83 361.37h1.19v5.87h-1.19zM130.08 361.37h1.19v5.87h-1.19zM138.49 361.37h1.19v5.87h-1.19zM144.38 361.37h1.19v5.87h-1.19zM158.69 361.37h1.19v5.87h-1.19zM172.16 361.37h1.19v5.87h-1.19zM180.57 361.37h1.19v5.87h-1.19zM184.78 361.37h1.19v5.87h-1.19zM193.20 361.37h1.19v5.87h-1.19zM199.93 361.37h1.19v5.87h-1.19zM216.76 361.37h1.19v5.87h-1.19zM225.18 361.37h1.19v5.87h-1.19zM230.23 361.37h1.19v5.87h-1.19zM232.75 361.37h1.19v5.87h-1.19zM67.80 366.89h1.19v5.87h-1.19zM104.83 366.89h1.19v5.87h-1.19zM115.77 366.89h1.19v5.87h-1.19zM133.44 366.89h1.19v5.87h-1.19zM172.16 366.89h1.19v5.87h-1.19zM203.30 366.89h1.19v5.87h-1.19zM208.35 366.89h1.19v5.87h-1.19zM209.19 366.89h1.19v5.87h-1.19zM210.87 366.89h1.19v5.87h-1.19zM69.48 372.41h1.19v5.87h-1.19zM85.47 372.41h1.19v5.87h-1.19zM86.32 372.41h1.19v5.87h-1.19zM94.73 372.41h1.19v5.87h-1.19zM125.87 372.41h1.19v5.87h-1.19zM137.65 372.41h1.19v5.87h-1.19zM144.38 372.41h1.19v5.87h-1.19zM173.84 372.41h1.19v5.87h-1.19zM192.36 372.41h1.19v5.87h-1.19zM84.63 377.92h1.19v5.87h-1.19zM85.47 377.92h1.19v5.87h-1.19zM88.84 377.92h1.19v5.87h-1.19zM98.10 377.92h1.19v5.87h-1.19zM126.71 377.92h1.19v5.87h-1.19zM133.44 377.92h1.19v5.87h-1.19zM141.02 377.92h1.19v5.87h-1.19zM144.38 377.92h1.19v5.87h-1.19zM159.53 377.92h1.19v5.87h-1.19zM164.58 377.92h1.19v5.87h-1.19zM170.47 377.92h1.19v5.87h-1.19zM173.84 377.92h1.19v5.87h-1.19zM198.25 377.92h1.19v5.87h-1.19zM224.34 377.92h1.19v5.87h-1.19zM242.01 377.92h1.19v5.87h-1.19zM83.79 383.44h1.19v5.87h-1.19zM95.57 383.44h1.19v5.87h-1.19zM101.46 383.44h1.19v5.87h-1.19zM103.99 383.44h1.19v5.87h-1.19zM119.98 383.44h1.19v5.87h-1.19zM127.55 383.44h1.19v5.87h-1.19zM131.76 383.44h1.19v5.87h-1.19zM144.38 383.44h1.19v5.87h-1.19zM154.48 383.44h1.19v5.87h-1.19zM157.01 383.44h1.19v5.87h-1.19zM158.69 383.44h1.19v5.87h-1.19zM161.22 383.44h1.19v5.87h-1.19zM162.06 383.44h1.19v5.87h-1.19zM166.27 383.44h1.19v5.87h-1.19zM167.95 383.44h1.19v5.87h-1.19zM173.00 383.44h1.19v5.87h-1.19zM187.31 383.44h1.19v5.87h-1.19zM202.45 383.44h1.19v5.87h-1.19zM204.98 383.44h1.19v5.87h-1.19zM217.60 383.44h1.19v5.87h-1.19zM114.09 388.96h1.19v5.87h-1.19zM144.38 388.96h1.19v5.87h-1.19zM147.75 388.96h1.19v5.87h-1.19zM162.90 388.96h1.19v5.87h-1.19zM188.99 388.96h1.19v5.87h-1.19zM73.69 394.48h1.19v5.87h-1.19zM95.57 394.48h1.19v5.87h-1.19zM115.77 394.48h1.19v5.87h-1.19zM118.30 394.48h1.19v5.87h-1.19zM149.43 394.48h1.19v5.87h-1.19zM166.27 394.48h1.19v5.87h-1.19zM167.95 394.48h1.19v5.87h-1.19zM178.05 394.48h1.19v5.87h-1.19zM196.56 394.48h1.19v5.87h-1.19zM214.24 394.48h1.19v5.87h-1.19zM227.70 394.48h1.19v5.87h-1.19zM116.61 399.99h1.19v5.87h-1.19zM120.82 399.99h1.19v5.87h-1.19zM132.60 399.99h1.19v5.87h-1.19zM135.97 399.99h1.19v5.87h-1.19zM143.54 399.99h1.19v5.87h-1.19zM151.96 399.99h1.19v5.87h-1.19zM153.64 399.99h1.19v5.87h-1.19zM163.74 399.99h1.19v5.87h-1.19zM193.20 399.99h1.19v5.87h-1.19zM232.75 399.99h1.19v5.87h-1.19zM68.64 405.51h1.19v5.87h-1.19zM83.79 405.51h1.19v5.87h-1.19zM89.68 405.51h1.19v5.87h-1.19zM114.93 405.51h1.19v5.87h-1.19zM120.82 405.51h1.19v5.87h-1.19zM123.35 405.51h1.19v5.87h-1.19zM129.24 405.51h1.19v5.87h-1.19zM130.92 405.51h1.19v5.87h-1.19zM141.86 405.51h1.19v5.87h-1.19zM163.74 405.51h1.19v5.87h-1.19zM196.56 405.51h1.19v5.87h-1.19zM215.08 405.51h1.19v5.87h-1.19zM230.23 405.51h1.19v5.87h-1.19zM70.32 411.03h1.19v5.87h-1.19zM93.05 411.03h1.19v5.87h-1.19zM93.89 411.03h1.19v5.87h-1.19zM97.26 411.03h1.19v5.87h-1.19zM114.93 411.03h1.19v5.87h-1.19zM183.94 411.03h1.19v5.87h-1.19zM185.62 411.03h1.19v5.87h-1.19zM194.04 411.03h1.19v5.87h-1.19zM210.87 411.03h1.19v5.87h-1.19zM87.16 416.54h1.19v5.87h-1.19zM90.52 416.54h1.19v5.87h-1.19zM113.25 416.54h1.19v5.87h-1.19zM132.60 416.54h1.19v5.87h-1.19zM135.13 416.54h1.19v5.87h-1.19zM141.86 416.54h1.19v5.87h-1.19zM196.56 416.54h1.19v5.87h-1.19zM88.00 422.06h1.19v5.87h-1.19zM113.25 422.06h1.19v5.87h-1.19zM114.93 422.06h1.19v5.87h-1.19zM127.55 422.06h1.19v5.87h-1.19zM160.38 422.06h1.19v5.87h-1.19zM167.11 422.06h1.19v5.87h-1.19zM171.32 422.06h1.19v5.87h-1.19zM199.93 422.06h1.19v5.87h-1.19zM242.85 422.06h1.19v5.87h-1.19zM70.32 427.58h1.19v5.87h-1.19zM79.58 427.58h1.19v5.87h-1.19zM82.95 427.58h1.19v5.87h-1.19zM90.52 427.58h1.19v5.87h-1.19zM93.05 427.58h1.19v5.87h-1.19zM131.76 427.58h1.19v5.87h-1.19zM143.54 427.58h1.19v5.87h-1.19zM150.28 427.58h1.19v5.87h-1.19zM194.04 427.58h1.19v5.87h-1.19zM222.65 427.58h1.19v5.87h-1.19zM248.74 427.58h1.19v5.87h-1.19zM75.37 433.10h1.19v5.87h-1.19zM96.41 433.10h1.19v5.87h-1.19zM114.93 433.10h1.19v5.87h-1.19zM145.23 433.10h1.19v5.87h-1.19zM191.51 433.10h1.19v5.87h-1.19zM194.88 433.10h1.19v5.87h-1.19zM199.93 433.10h1.19v5.87h-1.19zM203.30 433.10h1.19v5.87h-1.19zM77.90 438.61h1.19v5.87h-1.19zM101.46 438.61h1.19v5.87h-1.19zM105.67 438.61h1.19v5.87h-1.19zM127.55 438.61h1.19v5.87h-1.19zM131.76 438.61h1.19v5.87h-1.19zM150.28 438.61h1.19v5.87h-1.19zM157.85 438.61h1.19v5.87h-1.19zM173.00 438.61h1.19v5.87h-1.19zM177.21 438.61h1.19v5.87h-1.19zM180.57 438.61h1.19v5.87h-1.19zM194.88 438.61h1.19v5.87h-1.19zM68.64 444.13h1.19v5.87h-1.19zM84.63 444.13h1.19v5.87h-1.19zM107.35 444.13h1.19v5.87h-1.19zM113.25 444.13h1.19v5.87h-1.19zM123.35 444.13h1.19v5.87h-1.19zM128.39 444.13h1.19v5.87h-1.19zM146.07 444.13h1.19v5.87h-1.19zM152.80 444.13h1.19v5.87h-1.19zM156.17 444.13h1.19v5.87h-1.19zM167.11 444.13h1.19v5.87h-1.19zM176.37 444.13h1.19v5.87h-1.19zM199.09 444.13h1.19v5.87h-1.19zM211.71 444.13h1.19v5.87h-1.19zM83.79 449.65h1.19v5.87h-1.19zM84.63 449.65h1.19v5.87h-1.19zM134.29 449.65h1.19v5.87h-1.19zM165.42 449.65h1.19v5.87h-1.19zM174.68 449.65h1.19v5.87h-1.19zM218.45 449.65h1.19v5.87h-1.19zM81.27 455.17h1.19v5.87h-1.19zM137.65 455.17h1.19v5.87h-1.19zM141.86 455.17h1.19v5.87h-1.19zM154.48 455.17h1.19v5.87h-1.19zM173.84 455.17h1.19v5.87h-1.19zM204.14 455.17h1.19v5.87h-1.19zM205.82 455.17h1.19v5.87h-1.19zM99.78 460.68h1.19v5.87h-1.19zM109.88 460.68h1.19v5.87h-1.19zM144.38 460.68h1.19v5.87h-1.19zM151.96 460.68h1.19v5.87h-1.19zM153.64 460.68h1.19v5.87h-1.19zM188.99 460.68h1.19v5.87h-1.19zM205.82 460.68h1.19v5.87h-1.19zM213.40 460.68h1.19v5.87h-1.19zM235.28 460.68h1.19v5.87h-1.19zM247.06 460.68h1.19v5.87h-1.19z"/>
<path fill="#fef8f8" d="M88.84 306.20h1.19v5.87h-1.19zM103.15 306.20h1.19v5.87h-1.19zM109.04 306.20h1.19v5.87h-1.19zM123.35 306.20h1.19v5.87h-1.19zM129.24 306.20h1.19v5.87h-1.19zM136.81 306.20h1.19v5.87h-1.19zM147.75 306.20h1.19v5.87h-1.19zM180.57 306.20h1.19v5.87h-1.19zM185.62 306.20h1.19v5.87h-1.19zM194.88 306.20h1.19v5.87h-1.19zM201.61 306.20h1.19v5.87h-1.19zM222.65 306.20h1.19v5.87h-1.19zM228.54 306.20h1.19v5.87h-1.19zM246.22 306.20h1.19v5.87h-1.19zM248.74 306.20h1.19v5.87h-1.19zM107.35 311.72h1.19v5.87h-1.19zM109.88 311.72h1.19v5.87h-1.19zM111.56 311.72h1.19v5.87h-1.19zM149.43 311.72h1.19v5.87h-1.19zM163.74 311.72h1.19v5.87h-1.19zM168.79 311.72h1.19v5.87h-1.19zM210.87 311.72h1.19v5.87h-1.19zM211.71 311.72h1.19v5.87h-1.19zM230.23 311.72h1.19v5.87h-1.19zM249.58 311.72h1.19v5.87h-1.19zM88.00 317.23h1.19v5.87h-1.19zM121.66 317.23h1.19v5.87h-1.19zM134.29 317.23h1.19v5.87h-1.19zM153.64 317.23h1.19v5.87h-1.19zM169.63 317.23h1.19v5.87h-1.19zM170.47 317.23h1.19v5.87h-1.19zM178.89 317.23h1.19v5.87h-1.19zM196.56 317.23h1.19v5.87h-1.19zM199.93 317.23h1.19v5.87h-1.19zM204.98 317.23h1.19v5.87h-1.19zM242.01 317.23h1.19v5.87h-1.19zM68.64 322.75h1.19v5.87h-1.19zM105.67 322.75h1.19v5.87h-1.19zM113.25 322.75h1.19v5.87h-1.19zM173.00 322.75h1.19v5.87h-1.19zM185.62 322.75h1.19v5.87h-1.19zM192.36 322.75h1.19v5.87h-1.19zM208.35 322.75h1.19v5.87h-1.19zM225.18 322.75h1.19v5.87h-1.19zM241.17 322.75h1.19v5.87h-1.19zM244.53 322.75h1.19v5.87h-1.19zM246.22 322.75h1.19v5.87h-1.19zM252.11 322.75h1.19v5.87h-1.19zM77.06 328.27h1.19v5.87h-1.19zM126.71 328.27h1.19v5.87h-1.19zM129.24 328.27h1.19v5.87h-1.19zM168.79 328.27h1.19v5.87h-1.19zM173.00 328.27h1.19v5.87h-1.19zM180.57 328.27h1.19v5.87h-1.19zM218.45 328.27h1.19v5.87h-1.19zM114.93 333.79h1.19v5.87h-1.19zM135.13 333.79h1.19v5.87h-1.19zM152.80 333.79h1.19v5.87h-1.19zM163.74 333.79h1.19v5.87h-1.19zM213.40 333.79h1.19v5.87h-1.19zM217.60 333.79h1.19v5.87h-1.19zM84.63 339.30h1.19v5.87h-1.19zM113.25 339.30h1.19v5.87h-1.19zM131.76 339.30h1.19v5.87h-1.19zM142.70 339.30h1.19v5.87h-1.19zM151.12 339.30h1.19v5.87h-1.19zM175.52 339.30h1.19v5.87h-1.19zM189.83 339.30h1.19v5.87h-1.19zM202.45 339.30h1.19v5.87h-1.19zM216.76 339.30h1.19v5.87h-1.19zM225.18 339.30h1.19v5.87h-1.19zM228.54 339.30h1.19v5.87h-1.19zM68.64 344.82h1.19v5.87h-1.19zM71.17 344.82h1.19v5.87h-1.19zM78.74 344.82h1.19v5.87h-1.19zM81.27 344.82h1.19v5.87h-1.19zM114.93 344.82h1.19v5.87h-1.19zM143.54 344.82h1.19v5.87h-1.19zM147.75 344.82h1.19v5.87h-1.19zM167.11 344.82h1.19v5.87h-1.19zM173.84 344.82h1.19v5.87h-1.19zM182.26 344.82h1.19v5.87h-1.19zM183.94 344.82h1.19v5.87h-1.19zM188.99 344.82h1.19v5.87h-1.19zM208.35 344.82h1.19v5.87h-1.19zM219.29 344.82h1.19v5.87h-1.19zM223.49 344.82h1.19v5.87h-1.19zM224.34 344.82h1.19v5.87h-1.19zM225.18 344.82h1.19v5.87h-1.19zM232.75 344.82h1.19v5.87h-1.19zM245.38 344.82h1.19v5.87h-1.19zM91.36 350.34h1.19v5.87h-1.19zM127.55 350.34h1.19v5.87h-1.19zM159.53 350.34h1.19v5.87h-1.19zM178.05 350.34h1.19v5.87h-1.19zM178.89 350.34h1.19v5.87h-1.19zM188.99 350.34h1.19v5.87h-1.19zM191.51 350.34h1.19v5.87h-1.19zM215.08 350.34h1.19v5.87h-1.19zM242.01 350.34h1.19v5.87h-1.19zM255.48 350.34h1.19v5.87h-1.19zM73.69 355.86h1.19v5.87h-1.19zM100.62 355.86h1.19v5.87h-1.19zM109.88 355.86h1.19v5.87h-1.19zM143.54 355.86h1.19v5.87h-1.19zM169.63 355.86h1.19v5.87h-1.19zM175.52 355.86h1.19v5.87h-1.19zM183.94 355.86h1.19v5.87h-1.19zM188.15 355.86h1.19v5.87h-1.19zM190.67 355.86h1.19v5.87h-1.19zM223.49 355.86h1.19v5.87h-1.19zM224.34 355.86h1.19v5.87h-1.19zM230.23 355.86h1.19v5.87h-1.19zM75.37 361.37h1.19v5.87h-1.19zM100.62 361.37h1.19v5.87h-1.19zM108.20 361.37h1.19v5.87h-1.19zM122.50 361.37h1.19v5.87h-1.19zM143.54 361.37h1.19v5.87h-1.19zM173.84 361.37h1.19v5.87h-1.19zM197.41 361.37h1.19v5.87h-1.19zM198.25 361.37h1.19v5.87h-1.19zM74.53 366.89h1.19v5.87h-1.19zM88.00 366.89h1.19v5.87h-1.19zM106.51 366.89h1.19v5.87h-1.19zM156.17 366.89h1.19v5.87h-1.19zM160.38 366.89h1.19v5.87h-1.19zM173.00 366.89h1.19v5.87h-1.19zM186.46 366.89h1.19v5.87h-1.19zM197.41 366.89h1.19v5.87h-1.19zM215.08 366.89h1.19v5.87h-1.19zM225.18 366.89h1.19v5.87h-1.19zM76.22 372.41h1.19v5.87h-1.19zM89.68 372.41h1.19v5.87h-1.19zM111.56 372.41h1.19v5.87h-1.19zM118.30 372.41h1.19v5.87h-1.19zM143.54 372.41h1.19v5.87h-1.19zM157.85 372.41h1.19v5.87h-1.19zM160.38 372.41h1.19v5.87h-1.19zM163.74 372.41h1.19v5.87h-1.19zM178.89 372.41h1.19v5.87h-1.19zM183.94 372.41h1.19v5.87h-1.19zM193.20 372.41h1.19v5.87h-1.19zM194.88 372.41h1.19v5.87h-1.19zM207.50 372.41h1.19v5.87h-1.19zM106.51 377.92h1.19v5.87h-1.19zM114.93 377.92h1.19v5.87h-1.19zM129.24 377.92h1.19v5.87h-1.19zM135.13 377.92h1.19v5.87h-1.19zM187.31 377.92h1.19v5.87h-1.19zM215.08 377.92h1.19v5.87h-1.19zM215.92 377.92h1.19v5.87h-1.19zM237.80 377.92h1.19v5.87h-1.19zM81.27 383.44h1.19v5.87h-1.19zM92.21 383.44h1.19v5.87h-1.19zM112.40 383.44h1.19v5.87h-1.19zM120.82 383.44h1.19v5.87h-1.19zM125.03 383.44h1.19v5.87h-1.19zM163.74 383.44h1.19v5.87h-1.19zM171.32 383.44h1.19v5.87h-1.19zM178.05 383.44h1.19v5.87h-1.19zM194.88 383.44h1.19v5.87h-1.19zM199.09 383.44h1.19v5.87h-1.19zM201.61 383.44h1.19v5.87h-1.19zM220.13 383.44h1.19v5.87h-1.19zM231.07 383.44h1.19v5.87h-1.19zM238.64 383.44h1.19v5.87h-1.19zM244.53 383.44h1.19v5.87h-1.19zM247.06 383.44h1.19v5.87h-1.19zM252.11 383.44h1.19v5.87h-1.19zM103.99 388.96h1.19v5.87h-1.19zM104.83 388.96h1.19v5.87h-1.19zM120.82 388.96h1.19v5.87h-1.19zM177.21 388.96h1.19v5.87h-1.19zM190.67 388.96h1.19v5.87h-1.19zM191.51 388.96h1.19v5.87h-1.19zM192.36 388.96h1.19v5.87h-1.19zM196.56 388.96h1.19v5.87h-1.19zM252.11 388.96h1.19v5.87h-1.19zM75.37 394.48h1.19v5.87h-1.19zM92.21 394.48h1.19v5.87h-1.19zM100.62 394.48h1.19v5.87h-1.19zM116.61 394.48h1.19v5.87h-1.19zM143.54 394.48h1.19v5.87h-1.19zM153.64 394.48h1.19v5.87h-1.19zM163.74 394.48h1.19v5.87h-1.19zM173.84 394.48h1.19v5.87h-1.19zM175.52 394.48h1.19v5.87h-1.19zM176.37 394.48h1.19v5.87h-1.19zM223.49 394.48h1.19v5.87h-1.19zM224.34 394.48h1.19v5.87h-1.19zM243.69 394.48h1.19v5.87h-1.19zM79.58 399.99h1.19v5.87h-1.19zM81.27 399.99h1.19v5.87h-1.19zM82.11 399.99h1.19v5.87h-1.19zM98.94 399.99h1.19v5.87h-1.19zM141.86 399.99h1.19v5.87h-1.19zM159.53 399.99h1.19v5.87h-1.19zM172.16 399.99h1.19v5.87h-1.19zM173.00 399.99h1.19v5.87h-1.19zM184.78 399.99h1.19v5.87h-1.19zM220.13 399.99h1.19v5.87h-1.19zM99.78 405.51h1.19v5.87h-1.19zM101.46 405.51h1.19v5.87h-1.19zM103.99 405.51h1.19v5.87h-1.19zM107.35 405.51h1.19v5.87h-1.19zM127.55 405.51h1.19v5.87h-1.19zM128.39 405.51h1.19v5.87h-1.19zM151.12 405.51h1.19v5.87h-1.19zM152.80 405.51h1.19v5.87h-1.19zM183.94 405.51h1.19v5.87h-1.19zM208.35 405.51h1.19v5.87h-1.19zM209.19 405.51h1.19v5.87h-1.19zM210.03 405.51h1.19v5.87h-1.19zM212.55 405.51h1.19v5.87h-1.19zM232.75 405.51h1.19v5.87h-1.19zM77.90 411.03h1.19v5.87h-1.19zM81.27 411.03h1.19v5.87h-1.19zM103.99 411.03h1.19v5.87h-1.19zM109.04 411.03h1.19v5.87h-1.19zM109.88 411.03h1.19v5.87h-1.19zM110.72 411.03h1.19v5.87h-1.19zM123.35 411.03h1.19v5.87h-1.19zM134.29 411.03h1.19v5.87h-1.19zM139.34 411.03h1.19v5.87h-1.19zM140.18 411.03h1.19v5.87h-1.19zM151.12 411.03h1.19v5.87h-1.19zM158.69 411.03h1.19v5.87h-1.19zM170.47 411.03h1.19v5.87h-1.19zM173.84 411.03h1.19v5.87h-1.19zM191.51 411.03h1.19v5.87h-1.19zM215.92 411.03h1.19v5.87h-1.19zM77.06 416.54h1.19v5.87h-1.19zM79.58 416.54h1.19v5.87h-1.19zM99.78 416.54h1.19v5.87h-1.19zM150.28 416.54h1.19v5.87h-1.19zM156.17 416.54h1.19v5.87h-1.19zM157.85 416.54h1.19v5.87h-1.19zM163.74 416.54h1.19v5.87h-1.19zM190.67 416.54h1.19v5.87h-1.19zM213.40 416.54h1.19v5.87h-1.19zM214.24 416.54h1.19v5.87h-1.19zM235.28 416.54h1.19v5.87h-1.19zM255.48 416.54h1.19v5.87h-1.19zM69.48 422.06h1.19v5.87h-1.19zM93.05 422.06h1.19v5.87h-1.19zM97.26 422.06h1.19v5.87h-1.19zM103.15 422.06h1.19v5.87h-1.19zM106.51 422.06h1.19v5.87h-1.19zM146.07 422.06h1.19v5.87h-1.19zM248.74 422.06h1.19v5.87h-1.19zM103.15 427.58h1.19v5.87h-1.19zM103.99 427.58h1.19v5.87h-1.19zM104.83 427.58h1.19v5.87h-1.19zM115.77 427.58h1.19v5.87h-1.19zM125.03 427.58h1.19v5.87h-1.19zM127.55 427.58h1.19v5.87h-1.19zM135.97 427.58h1.19v5.87h-1.19zM138.49 427.58h1.19v5.87h-1.19zM142.70 427.58h1.19v5.87h-1.19zM148.59 427.58h1.19v5.87h-1.19zM149.43 427.58h1.19v5.87h-1.19zM161.22 427.58h1.19v5.87h-1.19zM163.74 427.58h1.19v5.87h-1.19zM164.58 427.58h1.19v5.87h-1.19zM173.00 427.58h1.19v5.87h-1.19zM188.99 427.58h1.19v5.87h-1.19zM92.21 433.10h1.19v5.87h-1.19zM102.31 433.10h1.19v5.87h-1.19zM107.35 433.10h1.19v5.87h-1.19zM117.45 433.10h1.19v5.87h-1.19zM134.29 433.10h1.19v5.87h-1.19zM139.34 433.10h1.19v5.87h-1.19zM190.67 433.10h1.19v5.87h-1.19zM195.72 433.10h1.19v5.87h-1.19zM199.09 433.10h1.19v5.87h-1.19zM205.82 433.10h1.19v5.87h-1.19zM209.19 433.10h1.19v5.87h-1.19zM143.54 438.61h1.19v5.87h-1.19zM167.11 438.61h1.19v5.87h-1.19zM167.95 438.61h1.19v5.87h-1.19zM171.32 438.61h1.19v5.87h-1.19zM174.68 438.61h1.19v5.87h-1.19zM176.37 438.61h1.19v5.87h-1.19zM188.99 438.61h1.19v5.87h-1.19zM195.72 438.61h1.19v5.87h-1.19zM215.08 438.61h1.19v5.87h-1.19zM95.57 444.13h1.19v5.87h-1.19zM119.14 444.13h1.19v5.87h-1.19zM127.55 444.13h1.19v5.87h-1.19zM153.64 444.13h1.19v5.87h-1.19zM154.48 444.13h1.19v5.87h-1.19zM161.22 444.13h1.19v5.87h-1.19zM173.84 444.13h1.19v5.87h-1.19zM204.14 444.13h1.19v5.87h-1.19zM206.66 444.13h1.19v5.87h-1.19zM220.13 444.13h1.19v5.87h-1.19zM220.97 444.13h1.19v5.87h-1.19zM78.74 449.65h1.19v5.87h-1.19zM106.51 449.65h1.19v5.87h-1.19zM119.14 449.65h1.19v5.87h-1.19zM128.39 449.65h1.19v5.87h-1.19zM137.65 449.65h1.19v5.87h-1.19zM160.38 449.65h1.19v5.87h-1.19zM162.06 449.65h1.19v5.87h-1.19zM166.27 449.65h1.19v5.87h-1.19zM173.00 449.65h1.19v5.87h-1.19zM191.51 449.65h1.19v5.87h-1.19zM195.72 449.65h1.19v5.87h-1.19zM202.45 449.65h1.19v5.87h-1.19zM206.66 449.65h1.19v5.87h-1.19zM217.60 449.65h1.19v5.87h-1.19zM226.86 449.65h1.19v5.87h-1.19zM67.80 455.17h1.19v5.87h-1.19zM83.79 455.17h1.19v5.87h-1.19zM93.89 455.17h1.19v5.87h-1.19zM97.26 455.17h1.19v5.87h-1.19zM115.77 455.17h1.19v5.87h-1.19zM123.35 455.17h1.19v5.87h-1.19zM125.87 455.17h1.19v5.87h-1.19zM131.76 455.17h1.19v5.87h-1.19zM193.20 455.17h1.19v5.87h-1.19zM226.86 455.17h1.19v5.87h-1.19zM246.22 455.17h1.19v5.87h-1.19zM72.01 460.68h1.19v5.87h-1.19zM125.03 460.68h1.19v5.87h-1.19zM159.53 460.68h1.19v5.87h-1.19zM177.21 460.68h1.19v5.87h-1.19zM181.42 460.68h1.19v5.87h-1.19zM208.35 460.68h1.19v5.87h-1.19zM227.70 460.68h1.19v5.87h-1.19z"/>
<path fill="#f3f3f9" d="M75.37 306.20h1.19v5.87h-1.19zM76.22 306.20h1.19v5.87h-1.19zM138.49 306.20h1.19v5.87h-1.19zM139.34 306.20h1.19v5.87h-1.19zM160.38 306.20h1.19v5.87h-1.19zM234.44 306.20h1.19v5.87h-1.19zM241.17 306.20h1.19v5.87h-1.19zM72.01 311.72h1.19v5.87h-1.19zM81.27 311.72h1.19v5.87h-1.19zM83.79 311.72h1.19v5.87h-1.19zM89.68 311.72h1.19v5.87h-1.19zM94.73 311.72h1.19v5.87h-1.19zM117.45 311.72h1.19v5.87h-1.19zM125.03 311.72h1.19v5.87h-1.19zM151.12 311.72h1.19v5.87h-1.19zM157.85 311.72h1.19v5.87h-1.19zM193.20 311.72h1.19v5.87h-1.19zM91.36 317.23h1.19v5.87h-1.19zM94.73 317.23h1.19v5.87h-1.19zM99.78 317.23h1.19v5.87h-1.19zM105.67 317.23h1.19v5.87h-1.19zM106.51 317.23h1.19v5.87h-1.19zM166.27 317.23h1.19v5.87h-1.19zM231.07 317.23h1.19v5.87h-1.19zM74.53 322.75h1.19v5.87h-1.19zM88.00 322.75h1.19v5.87h-1.19zM92.21 322.75h1.19v5.87h-1.19zM93.05 322.75h1.19v5.87h-1.19zM103.99 322.75h1.19v5.87h-1.19zM191.51 322.75h1.19v5.87h-1.19zM227.70 322.75h1.19v5.87h-1.19zM242.85 322.75h1.19v5.87h-1.19zM72.85 328.27h1.19v5.87h-1.19zM102.31 328.27h1.19v5.87h-1.19zM123.35 328.27h1.19v5.87h-1.19zM130.08 328.27h1.19v5.87h-1.19zM141.86 328.27h1.19v5.87h-1.19zM152.80 328.27h1.19v5.87h-1.19zM162.06 328.27h1.19v5.87h-1.19zM164.58 328.27h1.19v5.87h-1.19zM174.68 328.27h1.19v5.87h-1.19zM184.78 328.27h1.19v5.87h-1.19zM187.31 328.27h1.19v5.87h-1.19zM211.71 328.27h1.19v5.87h-1.19zM98.10 333.79h1.19v5.87h-1.19zM99.78 333.79h1.19v5.87h-1.19zM106.51 333.79h1.19v5.87h-1.19zM120.82 333.79h1.19v5.87h-1.19zM128.39 333.79h1.19v5.87h-1.19zM144.38 333.79h1.19v5.87h-1.19zM156.17 333.79h1.19v5.87h-1.19zM162.06 333.79h1.19v5.87h-1.19zM165.42 333.79h1.19v5.87h-1.19zM173.84 333.79h1.19v5.87h-1.19zM174.68 333.79h1.19v5.87h-1.19zM199.93 333.79h1.19v5.87h-1.19zM80.42 339.30h1.19v5.87h-1.19zM81.27 339.30h1.19v5.87h-1.19zM82.95 339.30h1.19v5.87h-1.19zM96.41 339.30h1.19v5.87h-1.19zM121.66 339.30h1.19v5.87h-1.19zM163.74 339.30h1.19v5.87h-1.19zM176.37 339.30h1.19v5.87h-1.19zM177.21 339.30h1.19v5.87h-1.19zM201.61 339.30h1.19v5.87h-1.19zM232.75 339.30h1.19v5.87h-1.19zM234.44 339.30h1.19v5.87h-1.19zM236.12 339.30h1.19v5.87h-1.19zM93.05 344.82h1.19v5.87h-1.19zM102.31 344.82h1.19v5.87h-1.19zM104.83 344.82h1.19v5.87h-1.19zM107.35 344.82h1.19v5.87h-1.19zM114.09 344.82h1.19v5.87h-1.19zM123.35 344.82h1.19v5.87h-1.19zM138.49 344.82h1.19v5.87h-1.19zM164.58 344.82h1.19v5.87h-1.19zM180.57 344.82h1.19v5.87h-1.19zM181.42 344.82h1.19v5.87h-1.19zM210.87 344.82h1.19v5.87h-1.19zM242.01 344.82h1.19v5.87h-1.19zM74.53 350.34h1.19v5.87h-1.19zM75.37 350.34h1.19v5.87h-1.19zM82.11 350.34h1.19v5.87h-1.19zM85.47 350.34h1.19v5.87h-1.19zM96.41 350.34h1.19v5.87h-1.19zM99.78 350.34h1.19v5.87h-1.19zM114.09 350.34h1.19v5.87h-1.19zM126.71 350.34h1.19v5.87h-1.19zM149.43 350.34h1.19v5.87h-1.19zM187.31 350.34h1.19v5.87h-1.19zM199.93 350.34h1.19v5.87h-1.19zM206.66 350.34h1.19v5.87h-1.19zM77.90 355.86h1.19v5.87h-1.19zM98.10 355.86h1.19v5.87h-1.19zM110.72 355.86h1.19v5.87h-1.19zM111.56 355.86h1.19v5.87h-1.19zM130.08 355.86h1.19v5.87h-1.19zM134.29 355.86h1.19v5.87h-1.19zM135.97 355.86h1.19v5.87h-1.19zM138.49 355.86h1.19v5.87h-1.19zM148.59 355.86h1.19v5.87h-1.19zM151.96 355.86h1.19v5.87h-1.19zM154.48 355.86h1.19v5.87h-1.19zM165.42 355.86h1.19v5.87h-1.19zM206.66 355.86h1.19v5.87h-1.19zM248.74 355.86h1.19v5.87h-1.19zM80.42 361.37h1.19v5.87h-1.19zM94.73 361.37h1.19v5.87h-1.19zM103.99 361.37h1.19v5.87h-1.19zM134.29 361.37h1.19v5.87h-1.19zM135.97 361.37h1.19v5.87h-1.19zM150.28 361.37h1.19v5.87h-1.19zM152.80 361.37h1.19v5.87h-1.19zM155.33 361.37h1.19v5.87h-1.19zM175.52 361.37h1.19v5.87h-1.19zM235.28 361.37h1.19v5.87h-1.19zM82.11 366.89h1.19v5.87h-1.19zM82.95 366.89h1.19v5.87h-1.19zM98.94 366.89h1.19v5.87h-1.19zM100.62 366.89h1.19v5.87h-1.19zM110.72 366.89h1.19v5.87h-1.19zM117.45 366.89h1.19v5.87h-1.19zM121.66 366.89h1.19v5.87h-1.19zM130.92 366.89h1.19v5.87h-1.19zM141.86 366.89h1.19v5.87h-1.19zM144.38 366.89h1.19v5.87h-1.19zM153.64 366.89h1.19v5.87h-1.19zM157.01 366.89h1.19v5.87h-1.19zM164.58 366.89h1.19v5.87h-1.19zM214.24 366.89h1.19v5.87h-1.19zM248.74 366.89h1.19v5.87h-1.19zM88.00 372.41h1.19v5.87h-1.19zM92.21 372.41h1.19v5.87h-1.19zM103.15 372.41h1.19v5.87h-1.19zM145.23 372.41h1.19v5.87h-1.19zM157.01 372.41h1.19v5.87h-1.19zM176.37 372.41h1.19v5.87h-1.19zM225.18 372.41h1.19v5.87h-1.19zM80.42 377.92h1.19v5.87h-1.19zM109.88 377.92h1.19v5.87h-1.19zM116.61 377.92h1.19v5.87h-1.19zM131.76 377.92h1.19v5.87h-1.19zM132.60 377.92h1.19v5.87h-1.19zM148.59 377.92h1.19v5.87h-1.19zM171.32 377.92h1.19v5.87h-1.19zM180.57 377.92h1.19v5.87h-1.19zM183.10 377.92h1.19v5.87h-1.19zM193.20 377.92h1.19v5.87h-1.19zM98.94 383.44h1.19v5.87h-1.19zM114.93 383.44h1.19v5.87h-1.19zM118.30 383.44h1.19v5.87h-1.19zM135.97 383.44h1.19v5.87h-1.19zM175.52 383.44h1.19v5.87h-1.19zM186.46 383.44h1.19v5.87h-1.19zM199.93 383.44h1.19v5.87h-1.19zM200.77 383.44h1.19v5.87h-1.19zM70.32 388.96h1.19v5.87h-1.19zM77.90 388.96h1.19v5.87h-1.19zM109.04 388.96h1.19v5.87h-1.19zM121.66 388.96h1.19v5.87h-1.19zM151.96 388.96h1.19v5.87h-1.19zM155.33 388.96h1.19v5.87h-1.19zM161.22 388.96h1.19v5.87h-1.19zM164.58 388.96h1.19v5.87h-1.19zM172.16 388.96h1.19v5.87h-1.19zM189.83 388.96h1.19v5.87h-1.19zM206.66 388.96h1.19v5.87h-1.19zM93.05 394.48h1.19v5.87h-1.19zM101.46 394.48h1.19v5.87h-1.19zM103.15 394.48h1.19v5.87h-1.19zM107.35 394.48h1.19v5.87h-1.19zM112.40 394.48h1.19v5.87h-1.19zM119.98 394.48h1.19v5.87h-1.19zM129.24 394.48h1.19v5.87h-1.19zM141.02 394.48h1.19v5.87h-1.19zM157.01 394.48h1.19v5.87h-1.19zM177.21 394.48h1.19v5.87h-1.19zM180.57 394.48h1.19v5.87h-1.19zM206.66 394.48h1.19v5.87h-1.19zM104.83 399.99h1.19v5.87h-1.19zM117.45 399.99h1.19v5.87h-1.19zM144.38 399.99h1.19v5.87h-1.19zM167.11 399.99h1.19v5.87h-1.19zM175.52 399.99h1.19v5.87h-1.19zM188.15 399.99h1.19v5.87h-1.19zM202.45 399.99h1.19v5.87h-1.19zM67.80 405.51h1.19v5.87h-1.19zM76.22 405.51h1.19v5.87h-1.19zM103.15 405.51h1.19v5.87h-1.19zM105.67 405.51h1.19v5.87h-1.19zM167.95 405.51h1.19v5.87h-1.19zM169.63 405.51h1.19v5.87h-1.19zM172.16 405.51h1.19v5.87h-1.19zM173.84 405.51h1.19v5.87h-1.19zM180.57 405.51h1.19v5.87h-1.19zM199.93 405.51h1.19v5.87h-1.19zM203.30 405.51h1.19v5.87h-1.19zM248.74 405.51h1.19v5.87h-1.19zM67.80 411.03h1.19v5.87h-1.19zM75.37 411.03h1.19v5.87h-1.19zM84.63 411.03h1.19v5.87h-1.19zM102.31 411.03h1.19v5.87h-1.19zM116.61 411.03h1.19v5.87h-1.19zM127.55 411.03h1.19v5.87h-1.19zM133.44 411.03h1.19v5.87h-1.19zM143.54 411.03h1.19v5.87h-1.19zM154.48 411.03h1.19v5.87h-1.19zM156.17 411.03h1.19v5.87h-1.19zM162.06 411.03h1.19v5.87h-1.19zM182.26 411.03h1.19v5.87h-1.19zM204.98 411.03h1.19v5.87h-1.19zM212.55 411.03h1.19v5.87h-1.19zM229.39 411.03h1.19v5.87h-1.19zM75.37 416.54h1.19v5.87h-1.19zM76.22 416.54h1.19v5.87h-1.19zM86.32 416.54h1.19v5.87h-1.19zM100.62 416.54h1.19v5.87h-1.19zM120.82 416.54h1.19v5.87h-1.19zM136.81 416.54h1.19v5.87h-1.19zM153.64 416.54h1.19v5.87h-1.19zM157.01 416.54h1.19v5.87h-1.19zM192.36 416.54h1.19v5.87h-1.19zM220.13 416.54h1.19v5.87h-1.19zM232.75 416.54h1.19v5.87h-1.19zM85.47 422.06h1.19v5.87h-1.19zM89.68 422.06h1.19v5.87h-1.19zM94.73 422.06h1.19v5.87h-1.19zM105.67 422.06h1.19v5.87h-1.19zM119.98 422.06h1.19v5.87h-1.19zM122.50 422.06h1.19v5.87h-1.19zM141.86 422.06h1.19v5.87h-1.19zM150.28 422.06h1.19v5.87h-1.19zM181.42 422.06h1.19v5.87h-1.19zM186.46 422.06h1.19v5.87h-1.19zM188.99 422.06h1.19v5.87h-1.19zM196.56 422.06h1.19v5.87h-1.19zM236.96 422.06h1.19v5.87h-1.19zM72.85 427.58h1.19v5.87h-1.19zM77.06 427.58h1.19v5.87h-1.19zM81.27 427.58h1.19v5.87h-1.19zM93.89 427.58h1.19v5.87h-1.19zM95.57 427.58h1.19v5.87h-1.19zM132.60 427.58h1.19v5.87h-1.19zM136.81 427.58h1.19v5.87h-1.19zM141.86 427.58h1.19v5.87h-1.19zM162.90 427.58h1.19v5.87h-1.19zM175.52 427.58h1.19v5.87h-1.19zM185.62 427.58h1.19v5.87h-1.19zM197.41 427.58h1.19v5.87h-1.19zM210.87 427.58h1.19v5.87h-1.19zM236.12 427.58h1.19v5.87h-1.19zM68.64 433.10h1.19v5.87h-1.19zM81.27 433.10h1.19v5.87h-1.19zM118.30 433.10h1.19v5.87h-1.19zM135.97 433.10h1.19v5.87h-1.19zM141.02 433.10h1.19v5.87h-1.19zM148.59 433.10h1.19v5.87h-1.19zM153.64 433.10h1.19v5.87h-1.19zM155.33 433.10h1.19v5.87h-1.19zM160.38 433.10h1.19v5.87h-1.19zM173.00 433.10h1.19v5.87h-1.19zM177.21 433.10h1.19v5.87h-1.19zM182.26 433.10h1.19v5.87h-1.19zM68.64 438.61h1.19v5.87h-1.19zM70.32 438.61h1.19v5.87h-1.19zM75.37 438.61h1.19v5.87h-1.19zM89.68 438.61h1.19v5.87h-1.19zM92.21 438.61h1.19v5.87h-1.19zM120.82 438.61h1.19v5.87h-1.19zM147.75 438.61h1.19v5.87h-1.19zM158.69 438.61h1.19v5.87h-1.19zM163.74 438.61h1.19v5.87h-1.19zM194.04 438.61h1.19v5.87h-1.19zM99.78 444.13h1.19v5.87h-1.19zM100.62 444.13h1.19v5.87h-1.19zM134.29 444.13h1.19v5.87h-1.19zM139.34 444.13h1.19v5.87h-1.19zM196.56 444.13h1.19v5.87h-1.19zM214.24 444.13h1.19v5.87h-1.19zM224.34 444.13h1.19v5.87h-1.19zM236.12 444.13h1.19v5.87h-1.19zM146.91 449.65h1.19v5.87h-1.19zM154.48 449.65h1.19v5.87h-1.19zM184.78 449.65h1.19v5.87h-1.19zM199.09 449.65h1.19v5.87h-1.19zM199.93 449.65h1.19v5.87h-1.19zM213.40 449.65h1.19v5.87h-1.19zM239.48 449.65h1.19v5.87h-1.19zM246.22 449.65h1.19v5.87h-1.19zM250.43 449.65h1.19v5.87h-1.19zM103.99 455.17h1.19v5.87h-1.19zM117.45 455.17h1.19v5.87h-1.19zM119.14 455.17h1.19v5.87h-1.19zM172.16 455.17h1.19v5.87h-1.19zM148.59 460.68h1.19v5.87h-1.19zM190.67 460.68h1.19v5.87h-1.19zM195.72 460.68h1.19v5.87h-1.19zM232.75 460.68h1.19v5.87h-1.19z"/>
<path fill="#fdf3f3" d="M88.00 306.20h1.19v5.87h-1.19zM122.50 306.20h1.19v5.87h-1.19zM141.02 306.20h1.19v5.87h-1.19zM171.32 306.20h1.19v5.87h-1.19zM178.89 306.20h1.19v5.87h-1.19zM183.94 306.20h1.19v5.87h-1.19zM188.99 306.20h1.19v5.87h-1.19zM194.04 306.20h1.19v5.87h-1.19zM207.50 306.20h1.19v5.87h-1.19zM243.69 306.20h1.19v5.87h-1.19zM71.17 311.72h1.19v5.87h-1.19zM105.67 311.72h1.19v5.87h-1.19zM132.60 311.72h1.19v5.87h-1.19zM200.77 311.72h1.19v5.87h-1.19zM206.66 311.72h1.19v5.87h-1.19zM217.60 311.72h1.19v5.87h-1.19zM231.07 311.72h1.19v5.87h-1.19zM232.75 311.72h1.19v5.87h-1.19zM240.33 311.72h1.19v5.87h-1.19zM114.93 317.23h1.19v5.87h-1.19zM131.76 317.23h1.19v5.87h-1.19zM159.53 317.23h1.19v5.87h-1.19zM185.62 317.23h1.19v5.87h-1.19zM190.67 317.23h1.19v5.87h-1.19zM191.51 317.23h1.19v5.87h-1.19zM199.09 317.23h1.19v5.87h-1.19zM202.45 317.23h1.19v5.87h-1.19zM203.30 317.23h1.19v5.87h-1.19zM210.03 317.23h1.19v5.87h-1.19zM236.96 317.23h1.19v5.87h-1.19zM82.11 322.75h1.19v5.87h-1.19zM90.52 322.75h1.19v5.87h-1.19zM101.46 322.75h1.19v5.87h-1.19zM104.83 322.75h1.19v5.87h-1.19zM119.98 322.75h1.19v5.87h-1.19zM124.19 322.75h1.19v5.87h-1.19zM142.70 322.75h1.19v5.87h-1.19zM149.43 322.75h1.19v5.87h-1.19zM167.11 322.75h1.19v5.87h-1.19zM178.05 322.75h1.19v5.87h-1.19zM195.72 322.75h1.19v5.87h-1.19zM196.56 322.75h1.19v5.87h-1.19zM203.30 322.75h1.19v5.87h-1.19zM214.24 322.75h1.19v5.87h-1.19zM248.74 322.75h1.19v5.87h-1.19zM254.63 322.75h1.19v5.87h-1.19zM79.58 328.27h1.19v5.87h-1.19zM100.62 328.27h1.19v5.87h-1.19zM185.62 328.27h1.19v5.87h-1.19zM194.88 328.27h1.19v5.87h-1.19zM210.87 328.27h1.19v5.87h-1.19zM215.92 328.27h1.19v5.87h-1.19zM219.29 328.27h1.19v5.87h-1.19zM220.13 328.27h1.19v5.87h-1.19zM228.54 328.27h1.19v5.87h-1.19zM232.75 328.27h1.19v5.87h-1.19zM245.38 328.27h1.19v5.87h-1.19zM80.42 333.79h1.19v5.87h-1.19zM161.22 333.79h1.19v5.87h-1.19zM179.73 333.79h1.19v5.87h-1.19zM197.41 333.79h1.19v5.87h-1.19zM225.18 333.79h1.19v5.87h-1.19zM85.47 339.30h1.19v5.87h-1.19zM91.36 339.30h1.19v5.87h-1.19zM103.15 339.30h1.19v5.87h-1.19zM119.98 339.30h1.19v5.87h-1.19zM139.34 339.30h1.19v5.87h-1.19zM186.46 339.30h1.19v5.87h-1.19zM209.19 339.30h1.19v5.87h-1.19zM221.81 339.30h1.19v5.87h-1.19zM227.70 339.30h1.19v5.87h-1.19zM244.53 339.30h1.19v5.87h-1.19zM248.74 339.30h1.19v5.87h-1.19zM82.11 344.82h1.19v5.87h-1.19zM132.60 344.82h1.19v5.87h-1.19zM152.80 344.82h1.19v5.87h-1.19zM157.01 344.82h1.19v5.87h-1.19zM194.88 344.82h1.19v5.87h-1.19zM209.19 344.82h1.19v5.87h-1.19zM214.24 344.82h1.19v5.87h-1.19zM228.54 344.82h1.19v5.87h-1.19zM238.64 344.82h1.19v5.87h-1.19zM109.88 350.34h1.19v5.87h-1.19zM132.60 350.34h1.19v5.87h-1.19zM141.86 350.34h1.19v5.87h-1.19zM162.06 350.34h1.19v5.87h-1.19zM175.52 350.34h1.19v5.87h-1.19zM194.88 350.34h1.19v5.87h-1.19zM225.18 350.34h1.19v5.87h-1.19zM81.27 355.86h1.19v5.87h-1.19zM116.61 355.86h1.19v5.87h-1.19zM117.45 355.86h1.19v5.87h-1.19zM144.38 355.86h1.19v5.87h-1.19zM192.36 355.86h1.19v5.87h-1.19zM203.30 355.86h1.19v5.87h-1.19zM221.81 355.86h1.19v5.87h-1.19zM68.64 361.37h1.19v5.87h-1.19zM69.48 361.37h1.19v5.87h-1.19zM83.79 361.37h1.19v5.87h-1.19zM111.56 361.37h1.19v5.87h-1.19zM167.11 361.37h1.19v5.87h-1.19zM183.94 361.37h1.19v5.87h-1.19zM76.22 366.89h1.19v5.87h-1.19zM111.56 366.89h1.19v5.87h-1.19zM114.09 366.89h1.19v5.87h-1.19zM132.60 366.89h1.19v5.87h-1.19zM136.81 366.89h1.19v5.87h-1.19zM220.13 366.89h1.19v5.87h-1.19zM229.39 366.89h1.19v5.87h-1.19zM77.90 372.41h1.19v5.87h-1.19zM123.35 372.41h1.19v5.87h-1.19zM154.48 372.41h1.19v5.87h-1.19zM162.90 372.41h1.19v5.87h-1.19zM189.83 372.41h1.19v5.87h-1.19zM210.87 372.41h1.19v5.87h-1.19zM235.28 372.41h1.19v5.87h-1.19zM256.32 372.41h1.19v5.87h-1.19zM82.95 377.92h1.19v5.87h-1.19zM90.52 377.92h1.19v5.87h-1.19zM96.41 377.92h1.19v5.87h-1.19zM100.62 377.92h1.19v5.87h-1.19zM108.20 377.92h1.19v5.87h-1.19zM158.69 377.92h1.19v5.87h-1.19zM169.63 377.92h1.19v5.87h-1.19zM176.37 377.92h1.19v5.87h-1.19zM179.73 377.92h1.19v5.87h-1.19zM220.13 377.92h1.19v5.87h-1.19zM234.44 377.92h1.19v5.87h-1.19zM236.96 377.92h1.19v5.87h-1.19zM239.48 377.92h1.19v5.87h-1.19zM245.38 377.92h1.19v5.87h-1.19zM74.53 383.44h1.19v5.87h-1.19zM85.47 383.44h1.19v5.87h-1.19zM106.51 383.44h1.19v5.87h-1.19zM123.35 383.44h1.19v5.87h-1.19zM130.08 383.44h1.19v5.87h-1.19zM143.54 383.44h1.19v5.87h-1.19zM150.28 383.44h1.19v5.87h-1.19zM167.11 383.44h1.19v5.87h-1.19zM183.10 383.44h1.19v5.87h-1.19zM183.94 383.44h1.19v5.87h-1.19zM194.04 383.44h1.19v5.87h-1.19zM209.19 383.44h1.19v5.87h-1.19zM214.24 383.44h1.19v5.87h-1.19zM230.23 383.44h1.19v5.87h-1.19zM237.80 383.44h1.19v5.87h-1.19zM124.19 388.96h1.19v5.87h-1.19zM176.37 388.96h1.19v5.87h-1.19zM178.05 388.96h1.19v5.87h-1.19zM180.57 388.96h1.19v5.87h-1.19zM210.03 388.96h1.19v5.87h-1.19zM216.76 388.96h1.19v5.87h-1.19zM72.85 394.48h1.19v5.87h-1.19zM93.89 394.48h1.19v5.87h-1.19zM121.66 394.48h1.19v5.87h-1.19zM124.19 394.48h1.19v5.87h-1.19zM138.49 394.48h1.19v5.87h-1.19zM156.17 394.48h1.19v5.87h-1.19zM162.06 394.48h1.19v5.87h-1.19zM188.15 394.48h1.19v5.87h-1.19zM190.67 394.48h1.19v5.87h-1.19zM191.51 394.48h1.19v5.87h-1.19zM195.72 394.48h1.19v5.87h-1.19zM210.87 394.48h1.19v5.87h-1.19zM211.71 394.48h1.19v5.87h-1.19zM213.40 394.48h1.19v5.87h-1.19zM221.81 394.48h1.19v5.87h-1.19zM72.85 399.99h1.19v5.87h-1.19zM92.21 399.99h1.19v5.87h-1.19zM138.49 399.99h1.19v5.87h-1.19zM156.17 399.99h1.19v5.87h-1.19zM168.79 399.99h1.19v5.87h-1.19zM173.84 399.99h1.19v5.87h-1.19zM178.05 399.99h1.19v5.87h-1.19zM188.99 399.99h1.19v5.87h-1.19zM194.88 399.99h1.19v5.87h-1.19zM201.61 399.99h1.19v5.87h-1.19zM221.81 399.99h1.19v5.87h-1.19zM222.65 399.99h1.19v5.87h-1.19zM223.49 399.99h1.19v5.87h-1.19zM227.70 399.99h1.19v5.87h-1.19zM235.28 399.99h1.19v5.87h-1.19zM236.12 399.99h1.19v5.87h-1.19zM247.06 399.99h1.19v5.87h-1.19zM253.79 399.99h1.19v5.87h-1.19zM254.63 399.99h1.19v5.87h-1.19zM81.27 405.51h1.19v5.87h-1.19zM102.31 405.51h1.19v5.87h-1.19zM112.40 405.51h1.19v5.87h-1.19zM122.50 405.51h1.19v5.87h-1.19zM175.52 405.51h1.19v5.87h-1.19zM188.99 405.51h1.19v5.87h-1.19zM192.36 405.51h1.19v5.87h-1.19zM221.81 405.51h1.19v5.87h-1.19zM74.53 411.03h1.19v5.87h-1.19zM126.71 411.03h1.19v5.87h-1.19zM137.65 411.03h1.19v5.87h-1.19zM163.74 411.03h1.19v5.87h-1.19zM164.58 411.03h1.19v5.87h-1.19zM189.83 411.03h1.19v5.87h-1.19zM192.36 411.03h1.19v5.87h-1.19zM211.71 411.03h1.19v5.87h-1.19zM85.47 416.54h1.19v5.87h-1.19zM103.99 416.54h1.19v5.87h-1.19zM114.09 416.54h1.19v5.87h-1.19zM159.53 416.54h1.19v5.87h-1.19zM175.52 416.54h1.19v5.87h-1.19zM185.62 416.54h1.19v5.87h-1.19zM211.71 416.54h1.19v5.87h-1.19zM231.91 416.54h1.19v5.87h-1.19zM248.74 416.54h1.19v5.87h-1.19zM115.77 422.06h1.19v5.87h-1.19zM136.81 422.06h1.19v5.87h-1.19zM159.53 422.06h1.19v5.87h-1.19zM169.63 422.06h1.19v5.87h-1.19zM175.52 422.06h1.19v5.87h-1.19zM178.89 422.06h1.19v5.87h-1.19zM184.78 422.06h1.19v5.87h-1.19zM191.51 422.06h1.19v5.87h-1.19zM204.98 422.06h1.19v5.87h-1.19zM206.66 422.06h1.19v5.87h-1.19zM214.24 422.06h1.19v5.87h-1.19zM226.86 422.06h1.19v5.87h-1.19zM242.01 422.06h1.19v5.87h-1.19zM88.00 427.58h1.19v5.87h-1.19zM114.93 427.58h1.19v5.87h-1.19zM126.71 427.58h1.19v5.87h-1.19zM162.06 427.58h1.19v5.87h-1.19zM165.42 427.58h1.19v5.87h-1.19zM192.36 427.58h1.19v5.87h-1.19zM193.20 427.58h1.19v5.87h-1.19zM196.56 427.58h1.19v5.87h-1.19zM199.09 427.58h1.19v5.87h-1.19zM214.24 427.58h1.19v5.87h-1.19zM86.32 433.10h1.19v5.87h-1.19zM94.73 433.10h1.19v5.87h-1.19zM103.15 433.10h1.19v5.87h-1.19zM124.19 433.10h1.19v5.87h-1.19zM143.54 433.10h1.19v5.87h-1.19zM150.28 433.10h1.19v5.87h-1.19zM174.68 433.10h1.19v5.87h-1.19zM178.89 433.10h1.19v5.87h-1.19zM184.78 433.10h1.19v5.87h-1.19zM186.46 433.10h1.19v5.87h-1.19zM200.77 433.10h1.19v5.87h-1.19zM201.61 433.10h1.19v5.87h-1.19zM214.24 433.10h1.19v5.87h-1.19zM215.08 433.10h1.19v5.87h-1.19zM223.49 433.10h1.19v5.87h-1.19zM255.48 433.10h1.19v5.87h-1.19zM81.27 438.61h1.19v5.87h-1.19zM98.10 438.61h1.19v5.87h-1.19zM103.99 438.61h1.19v5.87h-1.19zM114.09 438.61h1.19v5.87h-1.19zM135.13 438.61h1.19v5.87h-1.19zM199.93 438.61h1.19v5.87h-1.19zM203.30 438.61h1.19v5.87h-1.19zM215.92 438.61h1.19v5.87h-1.19zM221.81 438.61h1.19v5.87h-1.19zM108.20 444.13h1.19v5.87h-1.19zM117.45 444.13h1.19v5.87h-1.19zM124.19 444.13h1.19v5.87h-1.19zM143.54 444.13h1.19v5.87h-1.19zM177.21 444.13h1.19v5.87h-1.19zM183.94 444.13h1.19v5.87h-1.19zM203.30 444.13h1.19v5.87h-1.19zM226.02 444.13h1.19v5.87h-1.19zM232.75 444.13h1.19v5.87h-1.19zM69.48 449.65h1.19v5.87h-1.19zM100.62 449.65h1.19v5.87h-1.19zM120.82 449.65h1.19v5.87h-1.19zM126.71 449.65h1.19v5.87h-1.19zM139.34 449.65h1.19v5.87h-1.19zM153.64 449.65h1.19v5.87h-1.19zM157.01 449.65h1.19v5.87h-1.19zM173.84 449.65h1.19v5.87h-1.19zM182.26 449.65h1.19v5.87h-1.19zM197.41 449.65h1.19v5.87h-1.19zM69.48 455.17h1.19v5.87h-1.19zM72.85 455.17h1.19v5.87h-1.19zM80.42 455.17h1.19v5.87h-1.19zM82.11 455.17h1.19v5.87h-1.19zM98.94 455.17h1.19v5.87h-1.19zM109.88 455.17h1.19v5.87h-1.19zM111.56 455.17h1.19v5.87h-1.19zM142.70 455.17h1.19v5.87h-1.19zM143.54 455.17h1.19v5.87h-1.19zM151.96 455.17h1.19v5.87h-1.19zM162.06 455.17h1.19v5.87h-1.19zM163.74 455.17h1.19v5.87h-1.19zM178.89 455.17h1.19v5.87h-1.19zM181.42 455.17h1.19v5.87h-1.19zM192.36 455.17h1.19v5.87h-1.19zM194.04 455.17h1.19v5.87h-1.19zM199.09 455.17h1.19v5.87h-1.19zM210.87 455.17h1.19v5.87h-1.19zM108.20 460.68h1.19v5.87h-1.19zM114.93 460.68h1.19v5.87h-1.19zM138.49 460.68h1.19v5.87h-1.19zM174.68 460.68h1.19v5.87h-1.19zM175.52 460.68h1.19v5.87h-1.19zM178.89 460.68h1.19v5.87h-1.19zM188.15 460.68h1.19v5.87h-1.19zM212.55 460.68h1.19v5.87h-1.19zM219.29 460.68h1.19v5.87h-1.19zM231.07 460.68h1.19v5.87h-1.19z"/>
<path fill="#ededf6" d="M67.80 306.20h1.19v5.87h-1.19zM113.25 306.20h1.19v5.87h-1.19zM130.08 306.20h1.19v5.87h-1.19zM130.92 306.20h1.19v5.87h-1.19zM143.54 306.20h1.19v5.87h-1.19zM146.07 306.20h1.19v5.87h-1.19zM151.12 306.20h1.19v5.87h-1.19zM161.22 306.20h1.19v5.87h-1.19zM173.00 306.20h1.19v5.87h-1.19zM200.77 306.20h1.19v5.87h-1.19zM206.66 306.20h1.19v5.87h-1.19zM223.49 306.20h1.19v5.87h-1.19zM235.28 306.20h1.19v5.87h-1.19zM72.85 311.72h1.19v5.87h-1.19zM110.72 311.72h1.19v5.87h-1.19zM120.82 311.72h1.19v5.87h-1.19zM121.66 311.72h1.19v5.87h-1.19zM130.92 311.72h1.19v5.87h-1.19zM140.18 311.72h1.19v5.87h-1.19zM143.54 311.72h1.19v5.87h-1.19zM169.63 311.72h1.19v5.87h-1.19zM170.47 311.72h1.19v5.87h-1.19zM174.68 311.72h1.19v5.87h-1.19zM74.53 317.23h1.19v5.87h-1.19zM82.95 317.23h1.19v5.87h-1.19zM83.79 317.23h1.19v5.87h-1.19zM111.56 317.23h1.19v5.87h-1.19zM126.71 317.23h1.19v5.87h-1.19zM130.92 317.23h1.19v5.87h-1.19zM163.74 317.23h1.19v5.87h-1.19zM201.61 317.23h1.19v5.87h-1.19zM209.19 317.23h1.19v5.87h-1.19zM224.34 317.23h1.19v5.87h-1.19zM226.02 317.23h1.19v5.87h-1.19zM69.48 322.75h1.19v5.87h-1.19zM111.56 322.75h1.19v5.87h-1.19zM168.79 322.75h1.19v5.87h-1.19zM193.20 322.75h1.19v5.87h-1.19zM205.82 322.75h1.19v5.87h-1.19zM235.28 322.75h1.19v5.87h-1.19zM72.01 328.27h1.19v5.87h-1.19zM85.47 328.27h1.19v5.87h-1.19zM121.66 328.27h1.19v5.87h-1.19zM140.18 328.27h1.19v5.87h-1.19zM145.23 328.27h1.19v5.87h-1.19zM158.69 328.27h1.19v5.87h-1.19zM81.27 333.79h1.19v5.87h-1.19zM117.45 333.79h1.19v5.87h-1.19zM164.58 333.79h1.19v5.87h-1.19zM176.37 333.79h1.19v5.87h-1.19zM182.26 333.79h1.19v5.87h-1.19zM215.92 333.79h1.19v5.87h-1.19zM69.48 339.30h1.19v5.87h-1.19zM78.74 339.30h1.19v5.87h-1.19zM123.35 339.30h1.19v5.87h-1.19zM125.87 339.30h1.19v5.87h-1.19zM158.69 339.30h1.19v5.87h-1.19zM160.38 339.30h1.19v5.87h-1.19zM162.06 339.30h1.19v5.87h-1.19zM173.84 339.30h1.19v5.87h-1.19zM188.99 339.30h1.19v5.87h-1.19zM240.33 339.30h1.19v5.87h-1.19zM245.38 339.30h1.19v5.87h-1.19zM85.47 344.82h1.19v5.87h-1.19zM94.73 344.82h1.19v5.87h-1.19zM99.78 344.82h1.19v5.87h-1.19zM155.33 344.82h1.19v5.87h-1.19zM160.38 344.82h1.19v5.87h-1.19zM167.95 344.82h1.19v5.87h-1.19zM195.72 344.82h1.19v5.87h-1.19zM197.41 344.82h1.19v5.87h-1.19zM199.09 344.82h1.19v5.87h-1.19zM226.02 344.82h1.19v5.87h-1.19zM77.06 350.34h1.19v5.87h-1.19zM84.63 350.34h1.19v5.87h-1.19zM90.52 350.34h1.19v5.87h-1.19zM103.99 350.34h1.19v5.87h-1.19zM133.44 350.34h1.19v5.87h-1.19zM146.07 350.34h1.19v5.87h-1.19zM151.12 350.34h1.19v5.87h-1.19zM151.96 350.34h1.19v5.87h-1.19zM153.64 350.34h1.19v5.87h-1.19zM156.17 350.34h1.19v5.87h-1.19zM183.10 350.34h1.19v5.87h-1.19zM200.77 350.34h1.19v5.87h-1.19zM113.25 355.86h1.19v5.87h-1.19zM126.71 355.86h1.19v5.87h-1.19zM128.39 355.86h1.19v5.87h-1.19zM141.02 355.86h1.19v5.87h-1.19zM158.69 355.86h1.19v5.87h-1.19zM162.06 355.86h1.19v5.87h-1.19zM215.08 355.86h1.19v5.87h-1.19zM255.48 355.86h1.19v5.87h-1.19zM92.21 361.37h1.19v5.87h-1.19zM93.89 361.37h1.19v5.87h-1.19zM118.30 361.37h1.19v5.87h-1.19zM157.85 361.37h1.19v5.87h-1.19zM69.48 366.89h1.19v5.87h-1.19zM70.32 366.89h1.19v5.87h-1.19zM78.74 366.89h1.19v5.87h-1.19zM98.10 366.89h1.19v5.87h-1.19zM108.20 366.89h1.19v5.87h-1.19zM116.61 366.89h1.19v5.87h-1.19zM127.55 366.89h1.19v5.87h-1.19zM129.24 366.89h1.19v5.87h-1.19zM135.13 366.89h1.19v5.87h-1.19zM135.97 366.89h1.19v5.87h-1.19zM138.49 366.89h1.19v5.87h-1.19zM146.91 366.89h1.19v5.87h-1.19zM149.43 366.89h1.19v5.87h-1.19zM77.06 372.41h1.19v5.87h-1.19zM80.42 372.41h1.19v5.87h-1.19zM91.36 372.41h1.19v5.87h-1.19zM95.57 372.41h1.19v5.87h-1.19zM121.66 372.41h1.19v5.87h-1.19zM134.29 372.41h1.19v5.87h-1.19zM138.49 372.41h1.19v5.87h-1.19zM180.57 372.41h1.19v5.87h-1.19zM188.99 372.41h1.19v5.87h-1.19zM212.55 372.41h1.19v5.87h-1.19zM72.85 377.92h1.19v5.87h-1.19zM103.15 377.92h1.19v5.87h-1.19zM112.40 377.92h1.19v5.87h-1.19zM114.09 377.92h1.19v5.87h-1.19zM128.39 377.92h1.19v5.87h-1.19zM130.08 377.92h1.19v5.87h-1.19zM150.28 377.92h1.19v5.87h-1.19zM151.96 377.92h1.19v5.87h-1.19zM160.38 377.92h1.19v5.87h-1.19zM196.56 377.92h1.19v5.87h-1.19zM238.64 377.92h1.19v5.87h-1.19zM88.00 383.44h1.19v5.87h-1.19zM109.04 383.44h1.19v5.87h-1.19zM109.88 383.44h1.19v5.87h-1.19zM146.07 383.44h1.19v5.87h-1.19zM151.12 383.44h1.19v5.87h-1.19zM157.85 383.44h1.19v5.87h-1.19zM162.90 383.44h1.19v5.87h-1.19zM164.58 383.44h1.19v5.87h-1.19zM165.42 383.44h1.19v5.87h-1.19zM232.75 383.44h1.19v5.87h-1.19zM68.64 388.96h1.19v5.87h-1.19zM76.22 388.96h1.19v5.87h-1.19zM82.11 388.96h1.19v5.87h-1.19zM89.68 388.96h1.19v5.87h-1.19zM93.05 388.96h1.19v5.87h-1.19zM98.10 388.96h1.19v5.87h-1.19zM113.25 388.96h1.19v5.87h-1.19zM123.35 388.96h1.19v5.87h-1.19zM131.76 388.96h1.19v5.87h-1.19zM137.65 388.96h1.19v5.87h-1.19zM138.49 388.96h1.19v5.87h-1.19zM141.86 388.96h1.19v5.87h-1.19zM146.07 388.96h1.19v5.87h-1.19zM156.17 388.96h1.19v5.87h-1.19zM174.68 388.96h1.19v5.87h-1.19zM77.90 394.48h1.19v5.87h-1.19zM90.52 394.48h1.19v5.87h-1.19zM158.69 394.48h1.19v5.87h-1.19zM172.16 394.48h1.19v5.87h-1.19zM174.68 394.48h1.19v5.87h-1.19zM68.64 399.99h1.19v5.87h-1.19zM98.10 399.99h1.19v5.87h-1.19zM118.30 399.99h1.19v5.87h-1.19zM135.13 399.99h1.19v5.87h-1.19zM142.70 399.99h1.19v5.87h-1.19zM157.01 399.99h1.19v5.87h-1.19zM176.37 399.99h1.19v5.87h-1.19zM200.77 399.99h1.19v5.87h-1.19zM208.35 399.99h1.19v5.87h-1.19zM100.62 405.51h1.19v5.87h-1.19zM109.04 405.51h1.19v5.87h-1.19zM121.66 405.51h1.19v5.87h-1.19zM135.97 405.51h1.19v5.87h-1.19zM174.68 405.51h1.19v5.87h-1.19zM91.36 411.03h1.19v5.87h-1.19zM125.87 411.03h1.19v5.87h-1.19zM130.08 411.03h1.19v5.87h-1.19zM138.49 411.03h1.19v5.87h-1.19zM157.01 411.03h1.19v5.87h-1.19zM167.95 411.03h1.19v5.87h-1.19zM177.21 411.03h1.19v5.87h-1.19zM178.05 411.03h1.19v5.87h-1.19zM178.89 411.03h1.19v5.87h-1.19zM196.56 411.03h1.19v5.87h-1.19zM199.93 411.03h1.19v5.87h-1.19zM227.70 411.03h1.19v5.87h-1.19zM88.84 416.54h1.19v5.87h-1.19zM94.73 416.54h1.19v5.87h-1.19zM96.41 416.54h1.19v5.87h-1.19zM144.38 416.54h1.19v5.87h-1.19zM167.11 416.54h1.19v5.87h-1.19zM179.73 416.54h1.19v5.87h-1.19zM202.45 416.54h1.19v5.87h-1.19zM203.30 416.54h1.19v5.87h-1.19zM226.02 416.54h1.19v5.87h-1.19zM71.17 422.06h1.19v5.87h-1.19zM74.53 422.06h1.19v5.87h-1.19zM92.21 422.06h1.19v5.87h-1.19zM125.03 422.06h1.19v5.87h-1.19zM125.87 422.06h1.19v5.87h-1.19zM149.43 422.06h1.19v5.87h-1.19zM154.48 422.06h1.19v5.87h-1.19zM232.75 422.06h1.19v5.87h-1.19zM84.63 427.58h1.19v5.87h-1.19zM117.45 427.58h1.19v5.87h-1.19zM135.13 427.58h1.19v5.87h-1.19zM159.53 427.58h1.19v5.87h-1.19zM160.38 427.58h1.19v5.87h-1.19zM166.27 427.58h1.19v5.87h-1.19zM167.95 427.58h1.19v5.87h-1.19zM169.63 427.58h1.19v5.87h-1.19zM170.47 427.58h1.19v5.87h-1.19zM171.32 427.58h1.19v5.87h-1.19zM173.84 427.58h1.19v5.87h-1.19zM187.31 427.58h1.19v5.87h-1.19zM220.13 427.58h1.19v5.87h-1.19zM226.02 427.58h1.19v5.87h-1.19zM237.80 427.58h1.19v5.87h-1.19zM240.33 427.58h1.19v5.87h-1.19zM69.48 433.10h1.19v5.87h-1.19zM77.06 433.10h1.19v5.87h-1.19zM87.16 433.10h1.19v5.87h-1.19zM90.52 433.10h1.19v5.87h-1.19zM97.26 433.10h1.19v5.87h-1.19zM112.40 433.10h1.19v5.87h-1.19zM123.35 433.10h1.19v5.87h-1.19zM163.74 433.10h1.19v5.87h-1.19zM173.84 433.10h1.19v5.87h-1.19zM252.95 433.10h1.19v5.87h-1.19zM82.95 438.61h1.19v5.87h-1.19zM96.41 438.61h1.19v5.87h-1.19zM140.18 438.61h1.19v5.87h-1.19zM188.15 438.61h1.19v5.87h-1.19zM77.06 444.13h1.19v5.87h-1.19zM85.47 444.13h1.19v5.87h-1.19zM89.68 444.13h1.19v5.87h-1.19zM115.77 444.13h1.19v5.87h-1.19zM125.87 444.13h1.19v5.87h-1.19zM129.24 444.13h1.19v5.87h-1.19zM131.76 444.13h1.19v5.87h-1.19zM146.91 444.13h1.19v5.87h-1.19zM164.58 444.13h1.19v5.87h-1.19zM182.26 444.13h1.19v5.87h-1.19zM197.41 444.13h1.19v5.87h-1.19zM208.35 444.13h1.19v5.87h-1.19zM234.44 444.13h1.19v5.87h-1.19zM91.36 449.65h1.19v5.87h-1.19zM113.25 449.65h1.19v5.87h-1.19zM155.33 449.65h1.19v5.87h-1.19zM192.36 449.65h1.19v5.87h-1.19zM210.03 449.65h1.19v5.87h-1.19zM94.73 455.17h1.19v5.87h-1.19zM204.98 455.17h1.19v5.87h-1.19zM239.48 455.17h1.19v5.87h-1.19zM247.06 455.17h1.19v5.87h-1.19zM119.98 460.68h1.19v5.87h-1.19zM130.92 460.68h1.19v5.87h-1.19zM154.48 460.68h1.19v5.87h-1.19zM179.73 460.68h1.19v5.87h-1.19zM236.12 460.68h1.19v5.87h-1.19zM242.85 460.68h1.19v5.87h-1.19z"/>
<path fill="#fceeee" d="M119.14 306.20h1.19v5.87h-1.19zM156.17 306.20h1.19v5.87h-1.19zM174.68 306.20h1.19v5.87h-1.19zM178.05 306.20h1.19v5.87h-1.19zM187.31 306.20h1.19v5.87h-1.19zM190.67 306.20h1.19v5.87h-1.19zM210.87 306.20h1.19v5.87h-1.19zM213.40 306.20h1.19v5.87h-1.19zM215.08 306.20h1.19v5.87h-1.19zM224.34 306.20h1.19v5.87h-1.19zM226.86 306.20h1.19v5.87h-1.19zM229.39 306.20h1.19v5.87h-1.19zM238.64 306.20h1.19v5.87h-1.19zM88.84 311.72h1.19v5.87h-1.19zM186.46 311.72h1.19v5.87h-1.19zM188.99 311.72h1.19v5.87h-1.19zM222.65 311.72h1.19v5.87h-1.19zM96.41 317.23h1.19v5.87h-1.19zM98.10 317.23h1.19v5.87h-1.19zM103.15 317.23h1.19v5.87h-1.19zM149.43 317.23h1.19v5.87h-1.19zM167.11 317.23h1.19v5.87h-1.19zM175.52 317.23h1.19v5.87h-1.19zM178.05 317.23h1.19v5.87h-1.19zM181.42 317.23h1.19v5.87h-1.19zM216.76 317.23h1.19v5.87h-1.19zM228.54 317.23h1.19v5.87h-1.19zM232.75 317.23h1.19v5.87h-1.19zM236.12 317.23h1.19v5.87h-1.19zM81.27 322.75h1.19v5.87h-1.19zM83.79 322.75h1.19v5.87h-1.19zM84.63 322.75h1.19v5.87h-1.19zM96.41 322.75h1.19v5.87h-1.19zM135.97 322.75h1.19v5.87h-1.19zM166.27 322.75h1.19v5.87h-1.19zM167.95 322.75h1.19v5.87h-1.19zM174.68 322.75h1.19v5.87h-1.19zM176.37 322.75h1.19v5.87h-1.19zM182.26 322.75h1.19v5.87h-1.19zM204.14 322.75h1.19v5.87h-1.19zM209.19 322.75h1.19v5.87h-1.19zM210.87 322.75h1.19v5.87h-1.19zM245.38 322.75h1.19v5.87h-1.19zM73.69 328.27h1.19v5.87h-1.19zM75.37 328.27h1.19v5.87h-1.19zM83.79 328.27h1.19v5.87h-1.19zM109.88 328.27h1.19v5.87h-1.19zM111.56 328.27h1.19v5.87h-1.19zM156.17 328.27h1.19v5.87h-1.19zM178.89 328.27h1.19v5.87h-1.19zM179.73 328.27h1.19v5.87h-1.19zM181.42 328.27h1.19v5.87h-1.19zM188.15 328.27h1.19v5.87h-1.19zM199.09 328.27h1.19v5.87h-1.19zM203.30 328.27h1.19v5.87h-1.19zM214.24 328.27h1.19v5.87h-1.19zM222.65 328.27h1.19v5.87h-1.19zM72.85 333.79h1.19v5.87h-1.19zM111.56 333.79h1.19v5.87h-1.19zM143.54 333.79h1.19v5.87h-1.19zM180.57 333.79h1.19v5.87h-1.19zM183.94 333.79h1.19v5.87h-1.19zM211.71 333.79h1.19v5.87h-1.19zM212.55 333.79h1.19v5.87h-1.19zM214.24 333.79h1.19v5.87h-1.19zM248.74 333.79h1.19v5.87h-1.19zM72.85 339.30h1.19v5.87h-1.19zM100.62 339.30h1.19v5.87h-1.19zM103.99 339.30h1.19v5.87h-1.19zM106.51 339.30h1.19v5.87h-1.19zM111.56 339.30h1.19v5.87h-1.19zM134.29 339.30h1.19v5.87h-1.19zM137.65 339.30h1.19v5.87h-1.19zM144.38 339.30h1.19v5.87h-1.19zM171.32 339.30h1.19v5.87h-1.19zM181.42 339.30h1.19v5.87h-1.19zM183.10 339.30h1.19v5.87h-1.19zM220.13 339.30h1.19v5.87h-1.19zM247.06 339.30h1.19v5.87h-1.19zM255.48 339.30h1.19v5.87h-1.19zM69.48 344.82h1.19v5.87h-1.19zM87.16 344.82h1.19v5.87h-1.19zM106.51 344.82h1.19v5.87h-1.19zM144.38 344.82h1.19v5.87h-1.19zM162.06 344.82h1.19v5.87h-1.19zM196.56 344.82h1.19v5.87h-1.19zM202.45 344.82h1.19v5.87h-1.19zM211.71 344.82h1.19v5.87h-1.19zM110.72 350.34h1.19v5.87h-1.19zM111.56 350.34h1.19v5.87h-1.19zM160.38 350.34h1.19v5.87h-1.19zM163.74 350.34h1.19v5.87h-1.19zM168.79 350.34h1.19v5.87h-1.19zM179.73 350.34h1.19v5.87h-1.19zM192.36 350.34h1.19v5.87h-1.19zM208.35 350.34h1.19v5.87h-1.19zM212.55 350.34h1.19v5.87h-1.19zM216.76 350.34h1.19v5.87h-1.19zM238.64 350.34h1.19v5.87h-1.19zM88.00 355.86h1.19v5.87h-1.19zM104.83 355.86h1.19v5.87h-1.19zM121.66 355.86h1.19v5.87h-1.19zM147.75 355.86h1.19v5.87h-1.19zM174.68 355.86h1.19v5.87h-1.19zM178.89 355.86h1.19v5.87h-1.19zM179.73 355.86h1.19v5.87h-1.19zM184.78 355.86h1.19v5.87h-1.19zM189.83 355.86h1.19v5.87h-1.19zM194.04 355.86h1.19v5.87h-1.19zM109.04 361.37h1.19v5.87h-1.19zM123.35 361.37h1.19v5.87h-1.19zM140.18 361.37h1.19v5.87h-1.19zM147.75 361.37h1.19v5.87h-1.19zM151.96 361.37h1.19v5.87h-1.19zM156.17 361.37h1.19v5.87h-1.19zM159.53 361.37h1.19v5.87h-1.19zM204.14 361.37h1.19v5.87h-1.19zM204.98 361.37h1.19v5.87h-1.19zM238.64 361.37h1.19v5.87h-1.19zM242.01 361.37h1.19v5.87h-1.19zM243.69 361.37h1.19v5.87h-1.19zM73.69 366.89h1.19v5.87h-1.19zM80.42 366.89h1.19v5.87h-1.19zM175.52 366.89h1.19v5.87h-1.19zM176.37 366.89h1.19v5.87h-1.19zM191.51 366.89h1.19v5.87h-1.19zM193.20 366.89h1.19v5.87h-1.19zM194.88 366.89h1.19v5.87h-1.19zM202.45 366.89h1.19v5.87h-1.19zM220.97 366.89h1.19v5.87h-1.19zM221.81 366.89h1.19v5.87h-1.19zM224.34 366.89h1.19v5.87h-1.19zM237.80 366.89h1.19v5.87h-1.19zM107.35 372.41h1.19v5.87h-1.19zM140.18 372.41h1.19v5.87h-1.19zM151.96 372.41h1.19v5.87h-1.19zM181.42 372.41h1.19v5.87h-1.19zM188.15 372.41h1.19v5.87h-1.19zM201.61 372.41h1.19v5.87h-1.19zM208.35 372.41h1.19v5.87h-1.19zM236.12 372.41h1.19v5.87h-1.19zM244.53 372.41h1.19v5.87h-1.19zM76.22 377.92h1.19v5.87h-1.19zM79.58 377.92h1.19v5.87h-1.19zM177.21 377.92h1.19v5.87h-1.19zM184.78 377.92h1.19v5.87h-1.19zM191.51 377.92h1.19v5.87h-1.19zM208.35 377.92h1.19v5.87h-1.19zM216.76 377.92h1.19v5.87h-1.19zM242.85 377.92h1.19v5.87h-1.19zM71.17 383.44h1.19v5.87h-1.19zM76.22 383.44h1.19v5.87h-1.19zM103.15 383.44h1.19v5.87h-1.19zM178.89 383.44h1.19v5.87h-1.19zM189.83 383.44h1.19v5.87h-1.19zM192.36 383.44h1.19v5.87h-1.19zM210.87 383.44h1.19v5.87h-1.19zM220.97 383.44h1.19v5.87h-1.19zM229.39 383.44h1.19v5.87h-1.19zM234.44 383.44h1.19v5.87h-1.19zM171.32 388.96h1.19v5.87h-1.19zM183.10 388.96h1.19v5.87h-1.19zM201.61 388.96h1.19v5.87h-1.19zM231.91 388.96h1.19v5.87h-1.19zM244.53 388.96h1.19v5.87h-1.19zM245.38 388.96h1.19v5.87h-1.19zM109.04 394.48h1.19v5.87h-1.19zM187.31 394.48h1.19v5.87h-1.19zM198.25 394.48h1.19v5.87h-1.19zM210.03 394.48h1.19v5.87h-1.19zM249.58 394.48h1.19v5.87h-1.19zM99.78 399.99h1.19v5.87h-1.19zM101.46 399.99h1.19v5.87h-1.19zM103.99 399.99h1.19v5.87h-1.19zM139.34 399.99h1.19v5.87h-1.19zM166.27 399.99h1.19v5.87h-1.19zM204.14 399.99h1.19v5.87h-1.19zM204.98 399.99h1.19v5.87h-1.19zM215.08 399.99h1.19v5.87h-1.19zM244.53 399.99h1.19v5.87h-1.19zM109.88 405.51h1.19v5.87h-1.19zM147.75 405.51h1.19v5.87h-1.19zM150.28 405.51h1.19v5.87h-1.19zM177.21 405.51h1.19v5.87h-1.19zM185.62 405.51h1.19v5.87h-1.19zM190.67 405.51h1.19v5.87h-1.19zM211.71 405.51h1.19v5.87h-1.19zM229.39 405.51h1.19v5.87h-1.19zM68.64 411.03h1.19v5.87h-1.19zM200.77 411.03h1.19v5.87h-1.19zM204.14 411.03h1.19v5.87h-1.19zM220.97 411.03h1.19v5.87h-1.19zM225.18 411.03h1.19v5.87h-1.19zM88.00 416.54h1.19v5.87h-1.19zM107.35 416.54h1.19v5.87h-1.19zM162.90 416.54h1.19v5.87h-1.19zM191.51 416.54h1.19v5.87h-1.19zM195.72 416.54h1.19v5.87h-1.19zM199.09 416.54h1.19v5.87h-1.19zM199.93 416.54h1.19v5.87h-1.19zM100.62 422.06h1.19v5.87h-1.19zM111.56 422.06h1.19v5.87h-1.19zM112.40 422.06h1.19v5.87h-1.19zM133.44 422.06h1.19v5.87h-1.19zM147.75 422.06h1.19v5.87h-1.19zM178.05 422.06h1.19v5.87h-1.19zM195.72 422.06h1.19v5.87h-1.19zM221.81 422.06h1.19v5.87h-1.19zM76.22 427.58h1.19v5.87h-1.19zM85.47 427.58h1.19v5.87h-1.19zM88.84 427.58h1.19v5.87h-1.19zM110.72 427.58h1.19v5.87h-1.19zM178.05 427.58h1.19v5.87h-1.19zM198.25 427.58h1.19v5.87h-1.19zM200.77 427.58h1.19v5.87h-1.19zM229.39 427.58h1.19v5.87h-1.19zM231.91 427.58h1.19v5.87h-1.19zM77.90 433.10h1.19v5.87h-1.19zM91.36 433.10h1.19v5.87h-1.19zM95.57 433.10h1.19v5.87h-1.19zM129.24 433.10h1.19v5.87h-1.19zM137.65 433.10h1.19v5.87h-1.19zM144.38 433.10h1.19v5.87h-1.19zM169.63 433.10h1.19v5.87h-1.19zM183.10 433.10h1.19v5.87h-1.19zM210.87 433.10h1.19v5.87h-1.19zM253.79 433.10h1.19v5.87h-1.19zM82.11 438.61h1.19v5.87h-1.19zM114.93 438.61h1.19v5.87h-1.19zM117.45 438.61h1.19v5.87h-1.19zM123.35 438.61h1.19v5.87h-1.19zM125.03 438.61h1.19v5.87h-1.19zM138.49 438.61h1.19v5.87h-1.19zM151.12 438.61h1.19v5.87h-1.19zM164.58 438.61h1.19v5.87h-1.19zM184.78 438.61h1.19v5.87h-1.19zM220.13 438.61h1.19v5.87h-1.19zM236.96 438.61h1.19v5.87h-1.19zM248.74 438.61h1.19v5.87h-1.19zM256.32 438.61h1.19v5.87h-1.19zM141.86 444.13h1.19v5.87h-1.19zM198.25 444.13h1.19v5.87h-1.19zM217.60 444.13h1.19v5.87h-1.19zM238.64 444.13h1.19v5.87h-1.19zM243.69 444.13h1.19v5.87h-1.19zM71.17 449.65h1.19v5.87h-1.19zM103.15 449.65h1.19v5.87h-1.19zM109.88 449.65h1.19v5.87h-1.19zM143.54 449.65h1.19v5.87h-1.19zM167.95 449.65h1.19v5.87h-1.19zM72.01 455.17h1.19v5.87h-1.19zM90.52 455.17h1.19v5.87h-1.19zM113.25 455.17h1.19v5.87h-1.19zM114.09 455.17h1.19v5.87h-1.19zM169.63 455.17h1.19v5.87h-1.19zM180.57 455.17h1.19v5.87h-1.19zM217.60 455.17h1.19v5.87h-1.19zM219.29 455.17h1.19v5.87h-1.19zM236.96 455.17h1.19v5.87h-1.19zM78.74 460.68h1.19v5.87h-1.19zM111.56 460.68h1.19v5.87h-1.19zM116.61 460.68h1.19v5.87h-1.19zM133.44 460.68h1.19v5.87h-1.19zM142.70 460.68h1.19v5.87h-1.19zM183.94 460.68h1.19v5.87h-1.19zM197.41 460.68h1.19v5.87h-1.19zM241.17 460.68h1.19v5.87h-1.19z"/>
<path fill="#e7e7f3" d="M69.48 306.20h1.19v5.87h-1.19zM81.27 306.20h1.19v5.87h-1.19zM115.77 306.20h1.19v5.87h-1.19zM165.42 306.20h1.19v5.87h-1.19zM172.16 306.20h1.19v5.87h-1.19zM198.25 306.20h1.19v5.87h-1.19zM212.55 306.20h1.19v5.87h-1.19zM78.74 311.72h1.19v5.87h-1.19zM116.61 311.72h1.19v5.87h-1.19zM129.24 311.72h1.19v5.87h-1.19zM138.49 311.72h1.19v5.87h-1.19zM165.42 311.72h1.19v5.87h-1.19zM207.50 311.72h1.19v5.87h-1.19zM209.19 311.72h1.19v5.87h-1.19zM210.03 311.72h1.19v5.87h-1.19zM72.01 317.23h1.19v5.87h-1.19zM86.32 317.23h1.19v5.87h-1.19zM142.70 317.23h1.19v5.87h-1.19zM144.38 317.23h1.19v5.87h-1.19zM165.42 317.23h1.19v5.87h-1.19zM186.46 317.23h1.19v5.87h-1.19zM188.15 317.23h1.19v5.87h-1.19zM88.84 322.75h1.19v5.87h-1.19zM93.89 322.75h1.19v5.87h-1.19zM98.10 322.75h1.19v5.87h-1.19zM108.20 322.75h1.19v5.87h-1.19zM112.40 322.75h1.19v5.87h-1.19zM144.38 322.75h1.19v5.87h-1.19zM154.48 322.75h1.19v5.87h-1.19zM161.22 322.75h1.19v5.87h-1.19zM165.42 322.75h1.19v5.87h-1.19zM171.32 322.75h1.19v5.87h-1.19zM216.76 322.75h1.19v5.87h-1.19zM247.06 322.75h1.19v5.87h-1.19zM69.48 328.27h1.19v5.87h-1.19zM92.21 328.27h1.19v5.87h-1.19zM94.73 328.27h1.19v5.87h-1.19zM95.57 328.27h1.19v5.87h-1.19zM114.09 328.27h1.19v5.87h-1.19zM117.45 328.27h1.19v5.87h-1.19zM119.98 328.27h1.19v5.87h-1.19zM138.49 328.27h1.19v5.87h-1.19zM148.59 328.27h1.19v5.87h-1.19zM189.83 328.27h1.19v5.87h-1.19zM75.37 333.79h1.19v5.87h-1.19zM78.74 333.79h1.19v5.87h-1.19zM83.79 333.79h1.19v5.87h-1.19zM84.63 333.79h1.19v5.87h-1.19zM92.21 333.79h1.19v5.87h-1.19zM93.05 333.79h1.19v5.87h-1.19zM107.35 333.79h1.19v5.87h-1.19zM115.77 333.79h1.19v5.87h-1.19zM141.86 333.79h1.19v5.87h-1.19zM157.01 333.79h1.19v5.87h-1.19zM157.85 333.79h1.19v5.87h-1.19zM201.61 333.79h1.19v5.87h-1.19zM208.35 333.79h1.19v5.87h-1.19zM174.68 339.30h1.19v5.87h-1.19zM188.15 339.30h1.19v5.87h-1.19zM214.24 339.30h1.19v5.87h-1.19zM222.65 339.30h1.19v5.87h-1.19zM243.69 339.30h1.19v5.87h-1.19zM82.95 344.82h1.19v5.87h-1.19zM93.89 344.82h1.19v5.87h-1.19zM103.15 344.82h1.19v5.87h-1.19zM111.56 344.82h1.19v5.87h-1.19zM131.76 344.82h1.19v5.87h-1.19zM146.07 344.82h1.19v5.87h-1.19zM156.17 344.82h1.19v5.87h-1.19zM158.69 344.82h1.19v5.87h-1.19zM173.00 344.82h1.19v5.87h-1.19zM179.73 344.82h1.19v5.87h-1.19zM198.25 344.82h1.19v5.87h-1.19zM215.92 344.82h1.19v5.87h-1.19zM237.80 344.82h1.19v5.87h-1.19zM104.83 350.34h1.19v5.87h-1.19zM122.50 350.34h1.19v5.87h-1.19zM146.91 350.34h1.19v5.87h-1.19zM164.58 350.34h1.19v5.87h-1.19zM165.42 350.34h1.19v5.87h-1.19zM198.25 350.34h1.19v5.87h-1.19zM78.74 355.86h1.19v5.87h-1.19zM82.11 355.86h1.19v5.87h-1.19zM90.52 355.86h1.19v5.87h-1.19zM99.78 355.86h1.19v5.87h-1.19zM188.99 355.86h1.19v5.87h-1.19zM82.95 361.37h1.19v5.87h-1.19zM119.14 361.37h1.19v5.87h-1.19zM157.01 361.37h1.19v5.87h-1.19zM166.27 361.37h1.19v5.87h-1.19zM178.05 361.37h1.19v5.87h-1.19zM178.89 361.37h1.19v5.87h-1.19zM200.77 361.37h1.19v5.87h-1.19zM228.54 361.37h1.19v5.87h-1.19zM99.78 366.89h1.19v5.87h-1.19zM103.99 366.89h1.19v5.87h-1.19zM107.35 366.89h1.19v5.87h-1.19zM123.35 366.89h1.19v5.87h-1.19zM126.71 366.89h1.19v5.87h-1.19zM131.76 366.89h1.19v5.87h-1.19zM166.27 366.89h1.19v5.87h-1.19zM180.57 366.89h1.19v5.87h-1.19zM79.58 372.41h1.19v5.87h-1.19zM88.84 372.41h1.19v5.87h-1.19zM109.04 372.41h1.19v5.87h-1.19zM114.09 372.41h1.19v5.87h-1.19zM132.60 372.41h1.19v5.87h-1.19zM135.13 372.41h1.19v5.87h-1.19zM149.43 372.41h1.19v5.87h-1.19zM164.58 372.41h1.19v5.87h-1.19zM187.31 372.41h1.19v5.87h-1.19zM215.08 372.41h1.19v5.87h-1.19zM223.49 372.41h1.19v5.87h-1.19zM82.11 377.92h1.19v5.87h-1.19zM101.46 377.92h1.19v5.87h-1.19zM102.31 377.92h1.19v5.87h-1.19zM143.54 377.92h1.19v5.87h-1.19zM182.26 377.92h1.19v5.87h-1.19zM194.04 377.92h1.19v5.87h-1.19zM82.11 383.44h1.19v5.87h-1.19zM82.95 383.44h1.19v5.87h-1.19zM102.31 383.44h1.19v5.87h-1.19zM111.56 383.44h1.19v5.87h-1.19zM129.24 383.44h1.19v5.87h-1.19zM188.99 383.44h1.19v5.87h-1.19zM227.70 383.44h1.19v5.87h-1.19zM72.85 388.96h1.19v5.87h-1.19zM82.95 388.96h1.19v5.87h-1.19zM100.62 388.96h1.19v5.87h-1.19zM115.77 388.96h1.19v5.87h-1.19zM116.61 388.96h1.19v5.87h-1.19zM125.03 388.96h1.19v5.87h-1.19zM170.47 388.96h1.19v5.87h-1.19zM185.62 388.96h1.19v5.87h-1.19zM80.42 394.48h1.19v5.87h-1.19zM84.63 394.48h1.19v5.87h-1.19zM87.16 394.48h1.19v5.87h-1.19zM102.31 394.48h1.19v5.87h-1.19zM168.79 394.48h1.19v5.87h-1.19zM209.19 394.48h1.19v5.87h-1.19zM215.08 394.48h1.19v5.87h-1.19zM74.53 399.99h1.19v5.87h-1.19zM80.42 399.99h1.19v5.87h-1.19zM86.32 399.99h1.19v5.87h-1.19zM109.04 399.99h1.19v5.87h-1.19zM122.50 399.99h1.19v5.87h-1.19zM123.35 399.99h1.19v5.87h-1.19zM128.39 399.99h1.19v5.87h-1.19zM130.08 399.99h1.19v5.87h-1.19zM148.59 399.99h1.19v5.87h-1.19zM169.63 399.99h1.19v5.87h-1.19zM182.26 399.99h1.19v5.87h-1.19zM85.47 405.51h1.19v5.87h-1.19zM87.16 405.51h1.19v5.87h-1.19zM90.52 405.51h1.19v5.87h-1.19zM95.57 405.51h1.19v5.87h-1.19zM116.61 405.51h1.19v5.87h-1.19zM153.64 405.51h1.19v5.87h-1.19zM166.27 405.51h1.19v5.87h-1.19zM80.42 411.03h1.19v5.87h-1.19zM83.79 411.03h1.19v5.87h-1.19zM100.62 411.03h1.19v5.87h-1.19zM120.82 411.03h1.19v5.87h-1.19zM141.02 411.03h1.19v5.87h-1.19zM179.73 411.03h1.19v5.87h-1.19zM198.25 411.03h1.19v5.87h-1.19zM199.09 411.03h1.19v5.87h-1.19zM72.01 416.54h1.19v5.87h-1.19zM82.11 416.54h1.19v5.87h-1.19zM91.36 416.54h1.19v5.87h-1.19zM98.10 416.54h1.19v5.87h-1.19zM129.24 416.54h1.19v5.87h-1.19zM146.07 416.54h1.19v5.87h-1.19zM158.69 416.54h1.19v5.87h-1.19zM160.38 416.54h1.19v5.87h-1.19zM162.06 416.54h1.19v5.87h-1.19zM170.47 416.54h1.19v5.87h-1.19zM178.89 416.54h1.19v5.87h-1.19zM187.31 416.54h1.19v5.87h-1.19zM201.61 416.54h1.19v5.87h-1.19zM73.69 422.06h1.19v5.87h-1.19zM109.88 422.06h1.19v5.87h-1.19zM124.19 422.06h1.19v5.87h-1.19zM134.29 422.06h1.19v5.87h-1.19zM211.71 422.06h1.19v5.87h-1.19zM222.65 422.06h1.19v5.87h-1.19zM91.36 427.58h1.19v5.87h-1.19zM94.73 427.58h1.19v5.87h-1.19zM106.51 427.58h1.19v5.87h-1.19zM118.30 427.58h1.19v5.87h-1.19zM130.08 427.58h1.19v5.87h-1.19zM174.68 427.58h1.19v5.87h-1.19zM205.82 427.58h1.19v5.87h-1.19zM82.95 433.10h1.19v5.87h-1.19zM85.47 433.10h1.19v5.87h-1.19zM93.05 433.10h1.19v5.87h-1.19zM100.62 433.10h1.19v5.87h-1.19zM138.49 433.10h1.19v5.87h-1.19zM154.48 433.10h1.19v5.87h-1.19zM162.90 433.10h1.19v5.87h-1.19zM165.42 433.10h1.19v5.87h-1.19zM167.11 433.10h1.19v5.87h-1.19zM194.04 433.10h1.19v5.87h-1.19zM83.79 438.61h1.19v5.87h-1.19zM111.56 438.61h1.19v5.87h-1.19zM126.71 438.61h1.19v5.87h-1.19zM130.08 438.61h1.19v5.87h-1.19zM136.81 438.61h1.19v5.87h-1.19zM141.86 438.61h1.19v5.87h-1.19zM144.38 438.61h1.19v5.87h-1.19zM156.17 438.61h1.19v5.87h-1.19zM202.45 438.61h1.19v5.87h-1.19zM118.30 444.13h1.19v5.87h-1.19zM122.50 444.13h1.19v5.87h-1.19zM144.38 444.13h1.19v5.87h-1.19zM178.89 444.13h1.19v5.87h-1.19zM190.67 444.13h1.19v5.87h-1.19zM98.10 449.65h1.19v5.87h-1.19zM102.31 449.65h1.19v5.87h-1.19zM141.02 449.65h1.19v5.87h-1.19zM204.14 449.65h1.19v5.87h-1.19zM220.97 449.65h1.19v5.87h-1.19zM242.85 449.65h1.19v5.87h-1.19zM136.81 455.17h1.19v5.87h-1.19zM197.41 455.17h1.19v5.87h-1.19zM199.93 455.17h1.19v5.87h-1.19zM203.30 455.17h1.19v5.87h-1.19zM206.66 455.17h1.19v5.87h-1.19zM231.07 455.17h1.19v5.87h-1.19zM232.75 455.17h1.19v5.87h-1.19zM83.79 460.68h1.19v5.87h-1.19zM162.06 460.68h1.19v5.87h-1.19zM166.27 460.68h1.19v5.87h-1.19zM168.79 460.68h1.19v5.87h-1.19zM233.59 460.68h1.19v5.87h-1.19z"/>
<path fill="#fae7e7" d="M86.32 306.20h1.19v5.87h-1.19zM135.97 306.20h1.19v5.87h-1.19zM148.59 306.20h1.19v5.87h-1.19zM150.28 306.20h1.19v5.87h-1.19zM157.85 306.20h1.19v5.87h-1.19zM179.73 306.20h1.19v5.87h-1.19zM230.23 306.20h1.19v5.87h-1.19zM233.59 306.20h1.19v5.87h-1.19zM68.64 311.72h1.19v5.87h-1.19zM73.69 311.72h1.19v5.87h-1.19zM93.89 311.72h1.19v5.87h-1.19zM154.48 311.72h1.19v5.87h-1.19zM188.15 311.72h1.19v5.87h-1.19zM204.98 311.72h1.19v5.87h-1.19zM226.86 311.72h1.19v5.87h-1.19zM243.69 311.72h1.19v5.87h-1.19zM101.46 317.23h1.19v5.87h-1.19zM103.99 317.23h1.19v5.87h-1.19zM116.61 317.23h1.19v5.87h-1.19zM123.35 317.23h1.19v5.87h-1.19zM154.48 317.23h1.19v5.87h-1.19zM231.91 317.23h1.19v5.87h-1.19zM240.33 317.23h1.19v5.87h-1.19zM118.30 322.75h1.19v5.87h-1.19zM146.91 322.75h1.19v5.87h-1.19zM156.17 322.75h1.19v5.87h-1.19zM173.84 322.75h1.19v5.87h-1.19zM175.52 322.75h1.19v5.87h-1.19zM183.94 322.75h1.19v5.87h-1.19zM184.78 322.75h1.19v5.87h-1.19zM198.25 322.75h1.19v5.87h-1.19zM199.09 322.75h1.19v5.87h-1.19zM204.98 322.75h1.19v5.87h-1.19zM211.71 322.75h1.19v5.87h-1.19zM215.92 322.75h1.19v5.87h-1.19zM232.75 322.75h1.19v5.87h-1.19zM233.59 322.75h1.19v5.87h-1.19zM234.44 322.75h1.19v5.87h-1.19zM74.53 328.27h1.19v5.87h-1.19zM88.84 328.27h1.19v5.87h-1.19zM91.36 328.27h1.19v5.87h-1.19zM105.67 328.27h1.19v5.87h-1.19zM139.34 328.27h1.19v5.87h-1.19zM151.96 328.27h1.19v5.87h-1.19zM170.47 328.27h1.19v5.87h-1.19zM182.26 328.27h1.19v5.87h-1.19zM183.10 328.27h1.19v5.87h-1.19zM207.50 328.27h1.19v5.87h-1.19zM226.02 328.27h1.19v5.87h-1.19zM244.53 328.27h1.19v5.87h-1.19zM246.22 328.27h1.19v5.87h-1.19zM247.90 328.27h1.19v5.87h-1.19zM87.16 333.79h1.19v5.87h-1.19zM184.78 333.79h1.19v5.87h-1.19zM196.56 333.79h1.19v5.87h-1.19zM229.39 333.79h1.19v5.87h-1.19zM232.75 333.79h1.19v5.87h-1.19zM235.28 333.79h1.19v5.87h-1.19zM242.01 333.79h1.19v5.87h-1.19zM98.10 339.30h1.19v5.87h-1.19zM135.13 339.30h1.19v5.87h-1.19zM147.75 339.30h1.19v5.87h-1.19zM167.11 339.30h1.19v5.87h-1.19zM207.50 339.30h1.19v5.87h-1.19zM211.71 339.30h1.19v5.87h-1.19zM215.08 339.30h1.19v5.87h-1.19zM215.92 339.30h1.19v5.87h-1.19zM217.60 339.30h1.19v5.87h-1.19zM74.53 344.82h1.19v5.87h-1.19zM100.62 344.82h1.19v5.87h-1.19zM137.65 344.82h1.19v5.87h-1.19zM141.02 344.82h1.19v5.87h-1.19zM148.59 344.82h1.19v5.87h-1.19zM178.05 344.82h1.19v5.87h-1.19zM190.67 344.82h1.19v5.87h-1.19zM213.40 344.82h1.19v5.87h-1.19zM234.44 344.82h1.19v5.87h-1.19zM244.53 344.82h1.19v5.87h-1.19zM252.95 344.82h1.19v5.87h-1.19zM255.48 344.82h1.19v5.87h-1.19zM256.32 344.82h1.19v5.87h-1.19zM95.57 350.34h1.19v5.87h-1.19zM101.46 350.34h1.19v5.87h-1.19zM130.92 350.34h1.19v5.87h-1.19zM131.76 350.34h1.19v5.87h-1.19zM173.00 350.34h1.19v5.87h-1.19zM174.68 350.34h1.19v5.87h-1.19zM185.62 350.34h1.19v5.87h-1.19zM201.61 350.34h1.19v5.87h-1.19zM204.98 350.34h1.19v5.87h-1.19zM68.64 355.86h1.19v5.87h-1.19zM96.41 355.86h1.19v5.87h-1.19zM161.22 355.86h1.19v5.87h-1.19zM211.71 355.86h1.19v5.87h-1.19zM234.44 355.86h1.19v5.87h-1.19zM242.01 355.86h1.19v5.87h-1.19zM245.38 355.86h1.19v5.87h-1.19zM78.74 361.37h1.19v5.87h-1.19zM88.00 361.37h1.19v5.87h-1.19zM136.81 361.37h1.19v5.87h-1.19zM149.43 361.37h1.19v5.87h-1.19zM173.00 361.37h1.19v5.87h-1.19zM194.04 361.37h1.19v5.87h-1.19zM203.30 361.37h1.19v5.87h-1.19zM220.13 361.37h1.19v5.87h-1.19zM255.48 361.37h1.19v5.87h-1.19zM85.47 366.89h1.19v5.87h-1.19zM109.88 366.89h1.19v5.87h-1.19zM112.40 366.89h1.19v5.87h-1.19zM143.54 366.89h1.19v5.87h-1.19zM177.21 366.89h1.19v5.87h-1.19zM204.98 366.89h1.19v5.87h-1.19zM212.55 366.89h1.19v5.87h-1.19zM240.33 366.89h1.19v5.87h-1.19zM242.85 366.89h1.19v5.87h-1.19zM101.46 372.41h1.19v5.87h-1.19zM146.07 372.41h1.19v5.87h-1.19zM166.27 372.41h1.19v5.87h-1.19zM172.16 372.41h1.19v5.87h-1.19zM179.73 372.41h1.19v5.87h-1.19zM183.10 372.41h1.19v5.87h-1.19zM199.93 372.41h1.19v5.87h-1.19zM202.45 372.41h1.19v5.87h-1.19zM203.30 372.41h1.19v5.87h-1.19zM210.03 372.41h1.19v5.87h-1.19zM211.71 372.41h1.19v5.87h-1.19zM68.64 377.92h1.19v5.87h-1.19zM74.53 377.92h1.19v5.87h-1.19zM200.77 377.92h1.19v5.87h-1.19zM207.50 377.92h1.19v5.87h-1.19zM213.40 377.92h1.19v5.87h-1.19zM229.39 377.92h1.19v5.87h-1.19zM236.12 377.92h1.19v5.87h-1.19zM247.90 377.92h1.19v5.87h-1.19zM248.74 377.92h1.19v5.87h-1.19zM75.37 383.44h1.19v5.87h-1.19zM168.79 383.44h1.19v5.87h-1.19zM185.62 383.44h1.19v5.87h-1.19zM197.41 383.44h1.19v5.87h-1.19zM215.08 383.44h1.19v5.87h-1.19zM219.29 383.44h1.19v5.87h-1.19zM225.18 383.44h1.19v5.87h-1.19zM236.96 383.44h1.19v5.87h-1.19zM248.74 383.44h1.19v5.87h-1.19zM168.79 388.96h1.19v5.87h-1.19zM186.46 388.96h1.19v5.87h-1.19zM202.45 388.96h1.19v5.87h-1.19zM209.19 388.96h1.19v5.87h-1.19zM226.02 388.96h1.19v5.87h-1.19zM82.95 394.48h1.19v5.87h-1.19zM169.63 394.48h1.19v5.87h-1.19zM173.00 394.48h1.19v5.87h-1.19zM185.62 394.48h1.19v5.87h-1.19zM186.46 394.48h1.19v5.87h-1.19zM188.99 394.48h1.19v5.87h-1.19zM197.41 394.48h1.19v5.87h-1.19zM201.61 394.48h1.19v5.87h-1.19zM204.98 394.48h1.19v5.87h-1.19zM229.39 394.48h1.19v5.87h-1.19zM248.74 394.48h1.19v5.87h-1.19zM100.62 399.99h1.19v5.87h-1.19zM109.88 399.99h1.19v5.87h-1.19zM114.93 399.99h1.19v5.87h-1.19zM187.31 399.99h1.19v5.87h-1.19zM194.04 399.99h1.19v5.87h-1.19zM195.72 399.99h1.19v5.87h-1.19zM197.41 399.99h1.19v5.87h-1.19zM203.30 399.99h1.19v5.87h-1.19zM226.02 399.99h1.19v5.87h-1.19zM229.39 399.99h1.19v5.87h-1.19zM252.95 399.99h1.19v5.87h-1.19zM77.90 405.51h1.19v5.87h-1.19zM79.58 405.51h1.19v5.87h-1.19zM106.51 405.51h1.19v5.87h-1.19zM134.29 405.51h1.19v5.87h-1.19zM139.34 405.51h1.19v5.87h-1.19zM149.43 405.51h1.19v5.87h-1.19zM170.47 405.51h1.19v5.87h-1.19zM173.00 405.51h1.19v5.87h-1.19zM202.45 405.51h1.19v5.87h-1.19zM216.76 405.51h1.19v5.87h-1.19zM226.86 405.51h1.19v5.87h-1.19zM96.41 411.03h1.19v5.87h-1.19zM166.27 411.03h1.19v5.87h-1.19zM175.52 411.03h1.19v5.87h-1.19zM180.57 411.03h1.19v5.87h-1.19zM188.15 411.03h1.19v5.87h-1.19zM232.75 411.03h1.19v5.87h-1.19zM238.64 411.03h1.19v5.87h-1.19zM166.27 416.54h1.19v5.87h-1.19zM167.95 416.54h1.19v5.87h-1.19zM169.63 416.54h1.19v5.87h-1.19zM178.05 416.54h1.19v5.87h-1.19zM215.92 416.54h1.19v5.87h-1.19zM223.49 416.54h1.19v5.87h-1.19zM96.41 422.06h1.19v5.87h-1.19zM161.22 422.06h1.19v5.87h-1.19zM167.95 422.06h1.19v5.87h-1.19zM172.16 422.06h1.19v5.87h-1.19zM179.73 422.06h1.19v5.87h-1.19zM187.31 422.06h1.19v5.87h-1.19zM192.36 422.06h1.19v5.87h-1.19zM198.25 422.06h1.19v5.87h-1.19zM243.69 422.06h1.19v5.87h-1.19zM246.22 422.06h1.19v5.87h-1.19zM74.53 427.58h1.19v5.87h-1.19zM129.24 427.58h1.19v5.87h-1.19zM153.64 427.58h1.19v5.87h-1.19zM168.79 427.58h1.19v5.87h-1.19zM184.78 427.58h1.19v5.87h-1.19zM194.88 427.58h1.19v5.87h-1.19zM216.76 427.58h1.19v5.87h-1.19zM89.68 433.10h1.19v5.87h-1.19zM105.67 433.10h1.19v5.87h-1.19zM111.56 433.10h1.19v5.87h-1.19zM162.06 433.10h1.19v5.87h-1.19zM166.27 433.10h1.19v5.87h-1.19zM192.36 433.10h1.19v5.87h-1.19zM215.92 433.10h1.19v5.87h-1.19zM216.76 433.10h1.19v5.87h-1.19zM232.75 433.10h1.19v5.87h-1.19zM93.89 438.61h1.19v5.87h-1.19zM106.51 438.61h1.19v5.87h-1.19zM128.39 438.61h1.19v5.87h-1.19zM148.59 438.61h1.19v5.87h-1.19zM178.89 438.61h1.19v5.87h-1.19zM210.03 438.61h1.19v5.87h-1.19zM212.55 438.61h1.19v5.87h-1.19zM216.76 438.61h1.19v5.87h-1.19zM225.18 438.61h1.19v5.87h-1.19zM72.85 444.13h1.19v5.87h-1.19zM126.71 444.13h1.19v5.87h-1.19zM173.00 444.13h1.19v5.87h-1.19zM187.31 444.13h1.19v5.87h-1.19zM225.18 444.13h1.19v5.87h-1.19zM230.23 444.13h1.19v5.87h-1.19zM251.27 444.13h1.19v5.87h-1.19zM75.37 449.65h1.19v5.87h-1.19zM97.26 449.65h1.19v5.87h-1.19zM116.61 449.65h1.19v5.87h-1.19zM146.07 449.65h1.19v5.87h-1.19zM149.43 449.65h1.19v5.87h-1.19zM156.17 449.65h1.19v5.87h-1.19zM178.05 449.65h1.19v5.87h-1.19zM203.30 449.65h1.19v5.87h-1.19zM212.55 449.65h1.19v5.87h-1.19zM216.76 449.65h1.19v5.87h-1.19zM228.54 449.65h1.19v5.87h-1.19zM71.17 455.17h1.19v5.87h-1.19zM75.37 455.17h1.19v5.87h-1.19zM125.03 455.17h1.19v5.87h-1.19zM140.18 455.17h1.19v5.87h-1.19zM146.07 455.17h1.19v5.87h-1.19zM157.01 455.17h1.19v5.87h-1.19zM167.95 455.17h1.19v5.87h-1.19zM177.21 455.17h1.19v5.87h-1.19zM194.88 455.17h1.19v5.87h-1.19zM201.61 455.17h1.19v5.87h-1.19zM211.71 455.17h1.19v5.87h-1.19zM249.58 455.17h1.19v5.87h-1.19zM70.32 460.68h1.19v5.87h-1.19zM85.47 460.68h1.19v5.87h-1.19zM90.52 460.68h1.19v5.87h-1.19zM94.73 460.68h1.19v5.87h-1.19zM102.31 460.68h1.19v5.87h-1.19zM122.50 460.68h1.19v5.87h-1.19zM125.87 460.68h1.19v5.87h-1.19zM127.55 460.68h1.19v5.87h-1.19zM215.92 460.68h1.19v5.87h-1.19zM231.91 460.68h1.19v5.87h-1.19zM247.90 460.68h1.19v5.87h-1.19z"/>
<path fill="#f9e0e0" d="M68.64 306.20h1.19v5.87h-1.19zM85.47 306.20h1.19v5.87h-1.19zM114.09 306.20h1.19v5.87h-1.19zM159.53 306.20h1.19v5.87h-1.19zM170.47 306.20h1.19v5.87h-1.19zM195.72 306.20h1.19v5.87h-1.19zM197.41 306.20h1.19v5.87h-1.19zM211.71 306.20h1.19v5.87h-1.19zM215.92 306.20h1.19v5.87h-1.19zM219.29 306.20h1.19v5.87h-1.19zM231.91 306.20h1.19v5.87h-1.19zM242.01 306.20h1.19v5.87h-1.19zM252.11 306.20h1.19v5.87h-1.19zM256.32 306.20h1.19v5.87h-1.19zM77.90 311.72h1.19v5.87h-1.19zM115.77 311.72h1.19v5.87h-1.19zM126.71 311.72h1.19v5.87h-1.19zM167.95 311.72h1.19v5.87h-1.19zM178.05 311.72h1.19v5.87h-1.19zM183.10 311.72h1.19v5.87h-1.19zM184.78 311.72h1.19v5.87h-1.19zM247.06 311.72h1.19v5.87h-1.19zM77.90 317.23h1.19v5.87h-1.19zM151.12 317.23h1.19v5.87h-1.19zM180.57 317.23h1.19v5.87h-1.19zM195.72 317.23h1.19v5.87h-1.19zM211.71 317.23h1.19v5.87h-1.19zM245.38 317.23h1.19v5.87h-1.19zM77.06 322.75h1.19v5.87h-1.19zM135.13 322.75h1.19v5.87h-1.19zM139.34 322.75h1.19v5.87h-1.19zM147.75 322.75h1.19v5.87h-1.19zM160.38 322.75h1.19v5.87h-1.19zM178.89 322.75h1.19v5.87h-1.19zM210.03 322.75h1.19v5.87h-1.19zM218.45 322.75h1.19v5.87h-1.19zM220.13 322.75h1.19v5.87h-1.19zM220.97 322.75h1.19v5.87h-1.19zM236.96 322.75h1.19v5.87h-1.19zM237.80 322.75h1.19v5.87h-1.19zM238.64 322.75h1.19v5.87h-1.19zM252.95 322.75h1.19v5.87h-1.19zM253.79 322.75h1.19v5.87h-1.19zM86.32 328.27h1.19v5.87h-1.19zM146.07 328.27h1.19v5.87h-1.19zM192.36 328.27h1.19v5.87h-1.19zM216.76 328.27h1.19v5.87h-1.19zM217.60 328.27h1.19v5.87h-1.19zM225.18 328.27h1.19v5.87h-1.19zM229.39 328.27h1.19v5.87h-1.19zM248.74 328.27h1.19v5.87h-1.19zM252.11 328.27h1.19v5.87h-1.19zM257.16 328.27h1.19v5.87h-1.19zM82.11 333.79h1.19v5.87h-1.19zM151.12 333.79h1.19v5.87h-1.19zM191.51 333.79h1.19v5.87h-1.19zM194.88 333.79h1.19v5.87h-1.19zM198.25 333.79h1.19v5.87h-1.19zM206.66 333.79h1.19v5.87h-1.19zM210.87 333.79h1.19v5.87h-1.19zM220.13 333.79h1.19v5.87h-1.19zM242.85 333.79h1.19v5.87h-1.19zM246.22 333.79h1.19v5.87h-1.19zM114.93 339.30h1.19v5.87h-1.19zM130.92 339.30h1.19v5.87h-1.19zM187.31 339.30h1.19v5.87h-1.19zM204.98 339.30h1.19v5.87h-1.19zM212.55 339.30h1.19v5.87h-1.19zM224.34 339.30h1.19v5.87h-1.19zM241.17 339.30h1.19v5.87h-1.19zM250.43 339.30h1.19v5.87h-1.19zM118.30 344.82h1.19v5.87h-1.19zM151.12 344.82h1.19v5.87h-1.19zM169.63 344.82h1.19v5.87h-1.19zM199.93 344.82h1.19v5.87h-1.19zM203.30 344.82h1.19v5.87h-1.19zM206.66 344.82h1.19v5.87h-1.19zM210.03 344.82h1.19v5.87h-1.19zM231.07 344.82h1.19v5.87h-1.19zM252.11 344.82h1.19v5.87h-1.19zM88.00 350.34h1.19v5.87h-1.19zM105.67 350.34h1.19v5.87h-1.19zM152.80 350.34h1.19v5.87h-1.19zM170.47 350.34h1.19v5.87h-1.19zM176.37 350.34h1.19v5.87h-1.19zM193.20 350.34h1.19v5.87h-1.19zM195.72 350.34h1.19v5.87h-1.19zM226.02 350.34h1.19v5.87h-1.19zM159.53 355.86h1.19v5.87h-1.19zM178.05 355.86h1.19v5.87h-1.19zM215.92 355.86h1.19v5.87h-1.19zM236.12 355.86h1.19v5.87h-1.19zM243.69 355.86h1.19v5.87h-1.19zM251.27 355.86h1.19v5.87h-1.19zM103.15 361.37h1.19v5.87h-1.19zM106.51 361.37h1.19v5.87h-1.19zM107.35 361.37h1.19v5.87h-1.19zM163.74 361.37h1.19v5.87h-1.19zM188.15 361.37h1.19v5.87h-1.19zM189.83 361.37h1.19v5.87h-1.19zM245.38 361.37h1.19v5.87h-1.19zM246.22 361.37h1.19v5.87h-1.19zM118.30 366.89h1.19v5.87h-1.19zM152.80 366.89h1.19v5.87h-1.19zM169.63 366.89h1.19v5.87h-1.19zM183.10 366.89h1.19v5.87h-1.19zM216.76 366.89h1.19v5.87h-1.19zM217.60 366.89h1.19v5.87h-1.19zM242.01 366.89h1.19v5.87h-1.19zM244.53 366.89h1.19v5.87h-1.19zM99.78 372.41h1.19v5.87h-1.19zM128.39 372.41h1.19v5.87h-1.19zM209.19 372.41h1.19v5.87h-1.19zM220.13 372.41h1.19v5.87h-1.19zM234.44 372.41h1.19v5.87h-1.19zM99.78 377.92h1.19v5.87h-1.19zM109.04 377.92h1.19v5.87h-1.19zM157.01 377.92h1.19v5.87h-1.19zM188.15 377.92h1.19v5.87h-1.19zM206.66 377.92h1.19v5.87h-1.19zM249.58 377.92h1.19v5.87h-1.19zM72.85 383.44h1.19v5.87h-1.19zM135.13 383.44h1.19v5.87h-1.19zM151.96 383.44h1.19v5.87h-1.19zM152.80 383.44h1.19v5.87h-1.19zM196.56 383.44h1.19v5.87h-1.19zM203.30 383.44h1.19v5.87h-1.19zM252.95 383.44h1.19v5.87h-1.19zM257.16 383.44h1.19v5.87h-1.19zM86.32 388.96h1.19v5.87h-1.19zM106.51 388.96h1.19v5.87h-1.19zM150.28 388.96h1.19v5.87h-1.19zM153.64 388.96h1.19v5.87h-1.19zM173.00 388.96h1.19v5.87h-1.19zM175.52 388.96h1.19v5.87h-1.19zM179.73 388.96h1.19v5.87h-1.19zM204.98 388.96h1.19v5.87h-1.19zM219.29 388.96h1.19v5.87h-1.19zM225.18 388.96h1.19v5.87h-1.19zM235.28 388.96h1.19v5.87h-1.19zM252.95 388.96h1.19v5.87h-1.19zM139.34 394.48h1.19v5.87h-1.19zM161.22 394.48h1.19v5.87h-1.19zM183.94 394.48h1.19v5.87h-1.19zM194.04 394.48h1.19v5.87h-1.19zM255.48 394.48h1.19v5.87h-1.19zM87.16 399.99h1.19v5.87h-1.19zM91.36 399.99h1.19v5.87h-1.19zM103.15 399.99h1.19v5.87h-1.19zM121.66 399.99h1.19v5.87h-1.19zM151.12 399.99h1.19v5.87h-1.19zM199.09 399.99h1.19v5.87h-1.19zM214.24 399.99h1.19v5.87h-1.19zM225.18 399.99h1.19v5.87h-1.19zM75.37 405.51h1.19v5.87h-1.19zM96.41 405.51h1.19v5.87h-1.19zM131.76 405.51h1.19v5.87h-1.19zM156.17 405.51h1.19v5.87h-1.19zM188.15 405.51h1.19v5.87h-1.19zM191.51 405.51h1.19v5.87h-1.19zM193.20 405.51h1.19v5.87h-1.19zM213.40 405.51h1.19v5.87h-1.19zM223.49 405.51h1.19v5.87h-1.19zM245.38 405.51h1.19v5.87h-1.19zM252.95 405.51h1.19v5.87h-1.19zM135.13 411.03h1.19v5.87h-1.19zM141.86 411.03h1.19v5.87h-1.19zM159.53 411.03h1.19v5.87h-1.19zM207.50 411.03h1.19v5.87h-1.19zM221.81 411.03h1.19v5.87h-1.19zM224.34 411.03h1.19v5.87h-1.19zM226.02 411.03h1.19v5.87h-1.19zM236.12 411.03h1.19v5.87h-1.19zM242.01 411.03h1.19v5.87h-1.19zM248.74 411.03h1.19v5.87h-1.19zM95.57 416.54h1.19v5.87h-1.19zM106.51 416.54h1.19v5.87h-1.19zM127.55 416.54h1.19v5.87h-1.19zM173.00 416.54h1.19v5.87h-1.19zM173.84 416.54h1.19v5.87h-1.19zM188.99 416.54h1.19v5.87h-1.19zM189.83 416.54h1.19v5.87h-1.19zM194.04 416.54h1.19v5.87h-1.19zM194.88 416.54h1.19v5.87h-1.19zM198.25 416.54h1.19v5.87h-1.19zM221.81 416.54h1.19v5.87h-1.19zM249.58 416.54h1.19v5.87h-1.19zM80.42 422.06h1.19v5.87h-1.19zM173.00 422.06h1.19v5.87h-1.19zM182.26 422.06h1.19v5.87h-1.19zM207.50 422.06h1.19v5.87h-1.19zM217.60 422.06h1.19v5.87h-1.19zM219.29 422.06h1.19v5.87h-1.19zM220.97 422.06h1.19v5.87h-1.19zM107.35 427.58h1.19v5.87h-1.19zM111.56 427.58h1.19v5.87h-1.19zM195.72 427.58h1.19v5.87h-1.19zM217.60 427.58h1.19v5.87h-1.19zM218.45 427.58h1.19v5.87h-1.19zM221.81 427.58h1.19v5.87h-1.19zM223.49 427.58h1.19v5.87h-1.19zM226.86 427.58h1.19v5.87h-1.19zM238.64 427.58h1.19v5.87h-1.19zM247.90 427.58h1.19v5.87h-1.19zM72.01 433.10h1.19v5.87h-1.19zM110.72 433.10h1.19v5.87h-1.19zM116.61 433.10h1.19v5.87h-1.19zM131.76 433.10h1.19v5.87h-1.19zM133.44 433.10h1.19v5.87h-1.19zM176.37 433.10h1.19v5.87h-1.19zM188.99 433.10h1.19v5.87h-1.19zM233.59 433.10h1.19v5.87h-1.19zM237.80 433.10h1.19v5.87h-1.19zM249.58 433.10h1.19v5.87h-1.19zM88.84 438.61h1.19v5.87h-1.19zM116.61 438.61h1.19v5.87h-1.19zM129.24 438.61h1.19v5.87h-1.19zM152.80 438.61h1.19v5.87h-1.19zM170.47 438.61h1.19v5.87h-1.19zM183.94 438.61h1.19v5.87h-1.19zM214.24 438.61h1.19v5.87h-1.19zM224.34 438.61h1.19v5.87h-1.19zM228.54 438.61h1.19v5.87h-1.19zM103.99 444.13h1.19v5.87h-1.19zM168.79 444.13h1.19v5.87h-1.19zM193.20 444.13h1.19v5.87h-1.19zM212.55 444.13h1.19v5.87h-1.19zM244.53 444.13h1.19v5.87h-1.19zM254.63 444.13h1.19v5.87h-1.19zM72.85 449.65h1.19v5.87h-1.19zM88.84 449.65h1.19v5.87h-1.19zM99.78 449.65h1.19v5.87h-1.19zM110.72 449.65h1.19v5.87h-1.19zM112.40 449.65h1.19v5.87h-1.19zM114.09 449.65h1.19v5.87h-1.19zM119.98 449.65h1.19v5.87h-1.19zM125.87 449.65h1.19v5.87h-1.19zM185.62 449.65h1.19v5.87h-1.19zM68.64 455.17h1.19v5.87h-1.19zM100.62 455.17h1.19v5.87h-1.19zM150.28 455.17h1.19v5.87h-1.19zM151.12 455.17h1.19v5.87h-1.19zM157.85 455.17h1.19v5.87h-1.19zM167.11 455.17h1.19v5.87h-1.19zM174.68 455.17h1.19v5.87h-1.19zM188.15 455.17h1.19v5.87h-1.19zM195.72 455.17h1.19v5.87h-1.19zM242.01 455.17h1.19v5.87h-1.19zM77.90 460.68h1.19v5.87h-1.19zM80.42 460.68h1.19v5.87h-1.19zM91.36 460.68h1.19v5.87h-1.19zM93.05 460.68h1.19v5.87h-1.19zM110.72 460.68h1.19v5.87h-1.19zM112.40 460.68h1.19v5.87h-1.19zM126.71 460.68h1.19v5.87h-1.19zM141.86 460.68h1.19v5.87h-1.19zM167.11 460.68h1.19v5.87h-1.19zM251.27 460.68h1.19v5.87h-1.19z"/>
<path fill="#e0e0f0" d="M93.89 306.20h1.19v5.87h-1.19zM120.82 306.20h1.19v5.87h-1.19zM124.19 306.20h1.19v5.87h-1.19zM132.60 306.20h1.19v5.87h-1.19zM162.06 306.20h1.19v5.87h-1.19zM162.90 306.20h1.19v5.87h-1.19zM177.21 306.20h1.19v5.87h-1.19zM183.10 306.20h1.19v5.87h-1.19zM203.30 306.20h1.19v5.87h-1.19zM210.03 306.20h1.19v5.87h-1.19zM82.95 311.72h1.19v5.87h-1.19zM97.26 311.72h1.19v5.87h-1.19zM104.83 311.72h1.19v5.87h-1.19zM124.19 311.72h1.19v5.87h-1.19zM141.02 311.72h1.19v5.87h-1.19zM162.90 311.72h1.19v5.87h-1.19zM212.55 311.72h1.19v5.87h-1.19zM238.64 311.72h1.19v5.87h-1.19zM77.06 317.23h1.19v5.87h-1.19zM93.05 317.23h1.19v5.87h-1.19zM93.89 317.23h1.19v5.87h-1.19zM107.35 317.23h1.19v5.87h-1.19zM118.30 317.23h1.19v5.87h-1.19zM183.10 317.23h1.19v5.87h-1.19zM67.80 322.75h1.19v5.87h-1.19zM99.78 322.75h1.19v5.87h-1.19zM130.92 322.75h1.19v5.87h-1.19zM140.18 322.75h1.19v5.87h-1.19zM153.64 322.75h1.19v5.87h-1.19zM162.90 322.75h1.19v5.87h-1.19zM186.46 322.75h1.19v5.87h-1.19zM251.27 322.75h1.19v5.87h-1.19zM98.94 328.27h1.19v5.87h-1.19zM104.83 328.27h1.19v5.87h-1.19zM109.04 328.27h1.19v5.87h-1.19zM143.54 328.27h1.19v5.87h-1.19zM215.08 328.27h1.19v5.87h-1.19zM223.49 328.27h1.19v5.87h-1.19zM77.06 333.79h1.19v5.87h-1.19zM110.72 333.79h1.19v5.87h-1.19zM135.97 333.79h1.19v5.87h-1.19zM142.70 333.79h1.19v5.87h-1.19zM209.19 333.79h1.19v5.87h-1.19zM68.64 339.30h1.19v5.87h-1.19zM73.69 339.30h1.19v5.87h-1.19zM83.79 339.30h1.19v5.87h-1.19zM89.68 339.30h1.19v5.87h-1.19zM115.77 339.30h1.19v5.87h-1.19zM157.01 339.30h1.19v5.87h-1.19zM182.26 339.30h1.19v5.87h-1.19zM194.88 339.30h1.19v5.87h-1.19zM198.25 339.30h1.19v5.87h-1.19zM203.30 339.30h1.19v5.87h-1.19zM237.80 339.30h1.19v5.87h-1.19zM67.80 344.82h1.19v5.87h-1.19zM84.63 344.82h1.19v5.87h-1.19zM88.84 344.82h1.19v5.87h-1.19zM95.57 344.82h1.19v5.87h-1.19zM105.67 344.82h1.19v5.87h-1.19zM146.91 344.82h1.19v5.87h-1.19zM151.96 344.82h1.19v5.87h-1.19zM157.85 344.82h1.19v5.87h-1.19zM165.42 344.82h1.19v5.87h-1.19zM183.10 344.82h1.19v5.87h-1.19zM186.46 344.82h1.19v5.87h-1.19zM201.61 344.82h1.19v5.87h-1.19zM207.50 344.82h1.19v5.87h-1.19zM229.39 344.82h1.19v5.87h-1.19zM76.22 350.34h1.19v5.87h-1.19zM86.32 350.34h1.19v5.87h-1.19zM92.21 350.34h1.19v5.87h-1.19zM121.66 350.34h1.19v5.87h-1.19zM124.19 350.34h1.19v5.87h-1.19zM130.08 350.34h1.19v5.87h-1.19zM134.29 350.34h1.19v5.87h-1.19zM136.81 350.34h1.19v5.87h-1.19zM196.56 350.34h1.19v5.87h-1.19zM210.87 350.34h1.19v5.87h-1.19zM213.40 350.34h1.19v5.87h-1.19zM234.44 350.34h1.19v5.87h-1.19zM69.48 355.86h1.19v5.87h-1.19zM91.36 355.86h1.19v5.87h-1.19zM119.98 355.86h1.19v5.87h-1.19zM162.90 355.86h1.19v5.87h-1.19zM173.00 355.86h1.19v5.87h-1.19zM198.25 355.86h1.19v5.87h-1.19zM202.45 355.86h1.19v5.87h-1.19zM213.40 355.86h1.19v5.87h-1.19zM77.06 361.37h1.19v5.87h-1.19zM85.47 361.37h1.19v5.87h-1.19zM98.10 361.37h1.19v5.87h-1.19zM113.25 361.37h1.19v5.87h-1.19zM146.07 361.37h1.19v5.87h-1.19zM215.08 361.37h1.19v5.87h-1.19zM234.44 361.37h1.19v5.87h-1.19zM236.12 361.37h1.19v5.87h-1.19zM77.90 366.89h1.19v5.87h-1.19zM83.79 366.89h1.19v5.87h-1.19zM93.89 366.89h1.19v5.87h-1.19zM120.82 366.89h1.19v5.87h-1.19zM134.29 366.89h1.19v5.87h-1.19zM141.02 366.89h1.19v5.87h-1.19zM145.23 366.89h1.19v5.87h-1.19zM151.12 366.89h1.19v5.87h-1.19zM154.48 366.89h1.19v5.87h-1.19zM72.01 372.41h1.19v5.87h-1.19zM82.95 372.41h1.19v5.87h-1.19zM93.89 372.41h1.19v5.87h-1.19zM113.25 372.41h1.19v5.87h-1.19zM127.55 372.41h1.19v5.87h-1.19zM135.97 372.41h1.19v5.87h-1.19zM165.42 372.41h1.19v5.87h-1.19zM177.21 372.41h1.19v5.87h-1.19zM70.32 377.92h1.19v5.87h-1.19zM73.69 377.92h1.19v5.87h-1.19zM83.79 377.92h1.19v5.87h-1.19zM97.26 377.92h1.19v5.87h-1.19zM117.45 377.92h1.19v5.87h-1.19zM123.35 377.92h1.19v5.87h-1.19zM139.34 377.92h1.19v5.87h-1.19zM140.18 377.92h1.19v5.87h-1.19zM141.86 377.92h1.19v5.87h-1.19zM146.07 377.92h1.19v5.87h-1.19zM165.42 377.92h1.19v5.87h-1.19zM174.68 377.92h1.19v5.87h-1.19zM204.98 377.92h1.19v5.87h-1.19zM69.48 383.44h1.19v5.87h-1.19zM73.69 383.44h1.19v5.87h-1.19zM94.73 383.44h1.19v5.87h-1.19zM98.10 383.44h1.19v5.87h-1.19zM114.09 383.44h1.19v5.87h-1.19zM141.02 383.44h1.19v5.87h-1.19zM146.91 383.44h1.19v5.87h-1.19zM182.26 383.44h1.19v5.87h-1.19zM224.34 383.44h1.19v5.87h-1.19zM71.17 388.96h1.19v5.87h-1.19zM95.57 388.96h1.19v5.87h-1.19zM99.78 388.96h1.19v5.87h-1.19zM108.20 388.96h1.19v5.87h-1.19zM133.44 388.96h1.19v5.87h-1.19zM146.91 388.96h1.19v5.87h-1.19zM157.01 388.96h1.19v5.87h-1.19zM182.26 388.96h1.19v5.87h-1.19zM194.88 388.96h1.19v5.87h-1.19zM199.93 388.96h1.19v5.87h-1.19zM203.30 388.96h1.19v5.87h-1.19zM114.93 394.48h1.19v5.87h-1.19zM146.07 394.48h1.19v5.87h-1.19zM151.96 394.48h1.19v5.87h-1.19zM178.89 394.48h1.19v5.87h-1.19zM205.82 394.48h1.19v5.87h-1.19zM70.32 399.99h1.19v5.87h-1.19zM73.69 399.99h1.19v5.87h-1.19zM93.89 399.99h1.19v5.87h-1.19zM102.31 399.99h1.19v5.87h-1.19zM111.56 399.99h1.19v5.87h-1.19zM112.40 399.99h1.19v5.87h-1.19zM119.98 399.99h1.19v5.87h-1.19zM136.81 399.99h1.19v5.87h-1.19zM146.07 399.99h1.19v5.87h-1.19zM162.06 399.99h1.19v5.87h-1.19zM164.58 399.99h1.19v5.87h-1.19zM180.57 399.99h1.19v5.87h-1.19zM186.46 399.99h1.19v5.87h-1.19zM72.85 405.51h1.19v5.87h-1.19zM84.63 405.51h1.19v5.87h-1.19zM125.03 405.51h1.19v5.87h-1.19zM130.08 405.51h1.19v5.87h-1.19zM138.49 405.51h1.19v5.87h-1.19zM142.70 405.51h1.19v5.87h-1.19zM157.85 405.51h1.19v5.87h-1.19zM206.66 405.51h1.19v5.87h-1.19zM69.48 411.03h1.19v5.87h-1.19zM99.78 411.03h1.19v5.87h-1.19zM142.70 411.03h1.19v5.87h-1.19zM148.59 411.03h1.19v5.87h-1.19zM174.68 411.03h1.19v5.87h-1.19zM203.30 411.03h1.19v5.87h-1.19zM208.35 411.03h1.19v5.87h-1.19zM82.95 416.54h1.19v5.87h-1.19zM102.31 416.54h1.19v5.87h-1.19zM131.76 416.54h1.19v5.87h-1.19zM139.34 416.54h1.19v5.87h-1.19zM148.59 416.54h1.19v5.87h-1.19zM72.01 422.06h1.19v5.87h-1.19zM77.90 422.06h1.19v5.87h-1.19zM82.11 422.06h1.19v5.87h-1.19zM116.61 422.06h1.19v5.87h-1.19zM123.35 422.06h1.19v5.87h-1.19zM144.38 422.06h1.19v5.87h-1.19zM166.27 422.06h1.19v5.87h-1.19zM189.83 422.06h1.19v5.87h-1.19zM197.41 422.06h1.19v5.87h-1.19zM213.40 422.06h1.19v5.87h-1.19zM230.23 422.06h1.19v5.87h-1.19zM73.69 427.58h1.19v5.87h-1.19zM102.31 427.58h1.19v5.87h-1.19zM151.12 427.58h1.19v5.87h-1.19zM182.26 427.58h1.19v5.87h-1.19zM203.30 427.58h1.19v5.87h-1.19zM83.79 433.10h1.19v5.87h-1.19zM98.10 433.10h1.19v5.87h-1.19zM98.94 433.10h1.19v5.87h-1.19zM109.04 433.10h1.19v5.87h-1.19zM114.09 433.10h1.19v5.87h-1.19zM126.71 433.10h1.19v5.87h-1.19zM127.55 433.10h1.19v5.87h-1.19zM141.86 433.10h1.19v5.87h-1.19zM164.58 433.10h1.19v5.87h-1.19zM187.31 433.10h1.19v5.87h-1.19zM193.20 433.10h1.19v5.87h-1.19zM71.17 438.61h1.19v5.87h-1.19zM78.74 438.61h1.19v5.87h-1.19zM94.73 438.61h1.19v5.87h-1.19zM107.35 438.61h1.19v5.87h-1.19zM108.20 438.61h1.19v5.87h-1.19zM109.04 438.61h1.19v5.87h-1.19zM146.91 438.61h1.19v5.87h-1.19zM181.42 438.61h1.19v5.87h-1.19zM183.10 438.61h1.19v5.87h-1.19zM80.42 444.13h1.19v5.87h-1.19zM96.41 444.13h1.19v5.87h-1.19zM135.97 444.13h1.19v5.87h-1.19zM141.02 444.13h1.19v5.87h-1.19zM142.70 444.13h1.19v5.87h-1.19zM185.62 444.13h1.19v5.87h-1.19zM205.82 444.13h1.19v5.87h-1.19zM107.35 449.65h1.19v5.87h-1.19zM118.30 449.65h1.19v5.87h-1.19zM148.59 449.65h1.19v5.87h-1.19zM180.57 449.65h1.19v5.87h-1.19zM214.24 449.65h1.19v5.87h-1.19zM219.29 449.65h1.19v5.87h-1.19zM222.65 449.65h1.19v5.87h-1.19zM225.18 449.65h1.19v5.87h-1.19zM232.75 449.65h1.19v5.87h-1.19zM233.59 449.65h1.19v5.87h-1.19zM252.11 449.65h1.19v5.87h-1.19zM257.16 449.65h1.19v5.87h-1.19zM132.60 455.17h1.19v5.87h-1.19zM153.64 455.17h1.19v5.87h-1.19zM196.56 455.17h1.19v5.87h-1.19zM216.76 455.17h1.19v5.87h-1.19zM223.49 455.17h1.19v5.87h-1.19zM224.34 455.17h1.19v5.87h-1.19zM257.16 455.17h1.19v5.87h-1.19zM162.90 460.68h1.19v5.87h-1.19zM194.04 460.68h1.19v5.87h-1.19zM222.65 460.68h1.19v5.87h-1.19zM240.33 460.68h1.19v5.87h-1.19zM250.43 460.68h1.19v5.87h-1.19zM257.16 460.68h1.19v5.87h-1.19z"/>
<path fill="#f7d9d9" d="M74.53 306.20h1.19v5.87h-1.19zM118.30 306.20h1.19v5.87h-1.19zM188.15 306.20h1.19v5.87h-1.19zM217.60 306.20h1.19v5.87h-1.19zM220.13 306.20h1.19v5.87h-1.19zM240.33 306.20h1.19v5.87h-1.19zM245.38 306.20h1.19v5.87h-1.19zM247.90 306.20h1.19v5.87h-1.19zM136.81 311.72h1.19v5.87h-1.19zM139.34 311.72h1.19v5.87h-1.19zM147.75 311.72h1.19v5.87h-1.19zM173.00 311.72h1.19v5.87h-1.19zM191.51 311.72h1.19v5.87h-1.19zM195.72 311.72h1.19v5.87h-1.19zM199.93 311.72h1.19v5.87h-1.19zM213.40 311.72h1.19v5.87h-1.19zM218.45 311.72h1.19v5.87h-1.19zM227.70 311.72h1.19v5.87h-1.19zM236.12 311.72h1.19v5.87h-1.19zM236.96 311.72h1.19v5.87h-1.19zM255.48 311.72h1.19v5.87h-1.19zM257.16 311.72h1.19v5.87h-1.19zM81.27 317.23h1.19v5.87h-1.19zM128.39 317.23h1.19v5.87h-1.19zM156.17 317.23h1.19v5.87h-1.19zM230.23 317.23h1.19v5.87h-1.19zM72.85 322.75h1.19v5.87h-1.19zM77.90 322.75h1.19v5.87h-1.19zM187.31 322.75h1.19v5.87h-1.19zM194.04 322.75h1.19v5.87h-1.19zM201.61 322.75h1.19v5.87h-1.19zM236.12 322.75h1.19v5.87h-1.19zM243.69 322.75h1.19v5.87h-1.19zM82.95 328.27h1.19v5.87h-1.19zM136.81 328.27h1.19v5.87h-1.19zM147.75 328.27h1.19v5.87h-1.19zM191.51 328.27h1.19v5.87h-1.19zM194.04 328.27h1.19v5.87h-1.19zM220.97 328.27h1.19v5.87h-1.19zM231.07 328.27h1.19v5.87h-1.19zM250.43 328.27h1.19v5.87h-1.19zM255.48 328.27h1.19v5.87h-1.19zM130.92 333.79h1.19v5.87h-1.19zM230.23 333.79h1.19v5.87h-1.19zM75.37 339.30h1.19v5.87h-1.19zM99.78 339.30h1.19v5.87h-1.19zM159.53 339.30h1.19v5.87h-1.19zM218.45 339.30h1.19v5.87h-1.19zM231.91 339.30h1.19v5.87h-1.19zM235.28 339.30h1.19v5.87h-1.19zM249.58 339.30h1.19v5.87h-1.19zM187.31 344.82h1.19v5.87h-1.19zM221.81 344.82h1.19v5.87h-1.19zM243.69 344.82h1.19v5.87h-1.19zM142.70 350.34h1.19v5.87h-1.19zM166.27 350.34h1.19v5.87h-1.19zM184.78 350.34h1.19v5.87h-1.19zM207.50 350.34h1.19v5.87h-1.19zM220.97 350.34h1.19v5.87h-1.19zM222.65 350.34h1.19v5.87h-1.19zM228.54 350.34h1.19v5.87h-1.19zM87.16 355.86h1.19v5.87h-1.19zM163.74 355.86h1.19v5.87h-1.19zM208.35 355.86h1.19v5.87h-1.19zM235.28 355.86h1.19v5.87h-1.19zM81.27 361.37h1.19v5.87h-1.19zM91.36 361.37h1.19v5.87h-1.19zM174.68 361.37h1.19v5.87h-1.19zM183.10 361.37h1.19v5.87h-1.19zM214.24 361.37h1.19v5.87h-1.19zM223.49 361.37h1.19v5.87h-1.19zM226.02 361.37h1.19v5.87h-1.19zM233.59 361.37h1.19v5.87h-1.19zM237.80 361.37h1.19v5.87h-1.19zM242.85 361.37h1.19v5.87h-1.19zM105.67 366.89h1.19v5.87h-1.19zM188.15 366.89h1.19v5.87h-1.19zM234.44 366.89h1.19v5.87h-1.19zM81.27 372.41h1.19v5.87h-1.19zM87.16 372.41h1.19v5.87h-1.19zM198.25 372.41h1.19v5.87h-1.19zM204.14 372.41h1.19v5.87h-1.19zM222.65 372.41h1.19v5.87h-1.19zM229.39 372.41h1.19v5.87h-1.19zM231.07 372.41h1.19v5.87h-1.19zM245.38 372.41h1.19v5.87h-1.19zM86.32 377.92h1.19v5.87h-1.19zM156.17 377.92h1.19v5.87h-1.19zM173.00 377.92h1.19v5.87h-1.19zM203.30 377.92h1.19v5.87h-1.19zM211.71 377.92h1.19v5.87h-1.19zM217.60 377.92h1.19v5.87h-1.19zM220.97 377.92h1.19v5.87h-1.19zM223.49 377.92h1.19v5.87h-1.19zM225.18 377.92h1.19v5.87h-1.19zM113.25 383.44h1.19v5.87h-1.19zM121.66 383.44h1.19v5.87h-1.19zM173.84 383.44h1.19v5.87h-1.19zM191.51 383.44h1.19v5.87h-1.19zM215.92 383.44h1.19v5.87h-1.19zM242.85 383.44h1.19v5.87h-1.19zM88.00 388.96h1.19v5.87h-1.19zM163.74 388.96h1.19v5.87h-1.19zM183.94 388.96h1.19v5.87h-1.19zM197.41 388.96h1.19v5.87h-1.19zM199.09 388.96h1.19v5.87h-1.19zM228.54 388.96h1.19v5.87h-1.19zM234.44 388.96h1.19v5.87h-1.19zM236.12 388.96h1.19v5.87h-1.19zM123.35 394.48h1.19v5.87h-1.19zM167.11 394.48h1.19v5.87h-1.19zM179.73 394.48h1.19v5.87h-1.19zM184.78 394.48h1.19v5.87h-1.19zM212.55 394.48h1.19v5.87h-1.19zM222.65 394.48h1.19v5.87h-1.19zM242.85 394.48h1.19v5.87h-1.19zM77.90 399.99h1.19v5.87h-1.19zM96.41 399.99h1.19v5.87h-1.19zM147.75 399.99h1.19v5.87h-1.19zM183.10 399.99h1.19v5.87h-1.19zM217.60 399.99h1.19v5.87h-1.19zM219.29 399.99h1.19v5.87h-1.19zM237.80 399.99h1.19v5.87h-1.19zM249.58 399.99h1.19v5.87h-1.19zM77.06 405.51h1.19v5.87h-1.19zM146.07 405.51h1.19v5.87h-1.19zM187.31 405.51h1.19v5.87h-1.19zM207.50 405.51h1.19v5.87h-1.19zM237.80 405.51h1.19v5.87h-1.19zM209.19 411.03h1.19v5.87h-1.19zM244.53 411.03h1.19v5.87h-1.19zM176.37 416.54h1.19v5.87h-1.19zM215.08 416.54h1.19v5.87h-1.19zM227.70 416.54h1.19v5.87h-1.19zM236.12 416.54h1.19v5.87h-1.19zM91.36 422.06h1.19v5.87h-1.19zM117.45 422.06h1.19v5.87h-1.19zM180.57 422.06h1.19v5.87h-1.19zM183.10 422.06h1.19v5.87h-1.19zM183.94 422.06h1.19v5.87h-1.19zM193.20 422.06h1.19v5.87h-1.19zM210.03 422.06h1.19v5.87h-1.19zM215.08 422.06h1.19v5.87h-1.19zM228.54 422.06h1.19v5.87h-1.19zM233.59 422.06h1.19v5.87h-1.19zM183.10 427.58h1.19v5.87h-1.19zM249.58 427.58h1.19v5.87h-1.19zM256.32 427.58h1.19v5.87h-1.19zM76.22 433.10h1.19v5.87h-1.19zM212.55 433.10h1.19v5.87h-1.19zM221.81 433.10h1.19v5.87h-1.19zM124.19 438.61h1.19v5.87h-1.19zM134.29 438.61h1.19v5.87h-1.19zM223.49 438.61h1.19v5.87h-1.19zM226.86 438.61h1.19v5.87h-1.19zM230.23 438.61h1.19v5.87h-1.19zM234.44 438.61h1.19v5.87h-1.19zM236.12 438.61h1.19v5.87h-1.19zM86.32 444.13h1.19v5.87h-1.19zM167.95 444.13h1.19v5.87h-1.19zM169.63 444.13h1.19v5.87h-1.19zM180.57 444.13h1.19v5.87h-1.19zM188.99 444.13h1.19v5.87h-1.19zM194.88 444.13h1.19v5.87h-1.19zM228.54 444.13h1.19v5.87h-1.19zM237.80 444.13h1.19v5.87h-1.19zM73.69 449.65h1.19v5.87h-1.19zM77.06 449.65h1.19v5.87h-1.19zM81.27 449.65h1.19v5.87h-1.19zM122.50 449.65h1.19v5.87h-1.19zM131.76 449.65h1.19v5.87h-1.19zM136.81 449.65h1.19v5.87h-1.19zM175.52 449.65h1.19v5.87h-1.19zM193.20 449.65h1.19v5.87h-1.19zM204.98 449.65h1.19v5.87h-1.19zM129.24 455.17h1.19v5.87h-1.19zM135.13 455.17h1.19v5.87h-1.19zM161.22 455.17h1.19v5.87h-1.19zM175.52 455.17h1.19v5.87h-1.19zM213.40 455.17h1.19v5.87h-1.19zM100.62 460.68h1.19v5.87h-1.19zM115.77 460.68h1.19v5.87h-1.19zM120.82 460.68h1.19v5.87h-1.19zM123.35 460.68h1.19v5.87h-1.19zM129.24 460.68h1.19v5.87h-1.19zM155.33 460.68h1.19v5.87h-1.19zM172.16 460.68h1.19v5.87h-1.19zM186.46 460.68h1.19v5.87h-1.19zM199.09 460.68h1.19v5.87h-1.19z"/>
<path fill="#d8d8ec" d="M125.87 306.20h1.19v5.87h-1.19zM163.74 306.20h1.19v5.87h-1.19zM231.07 306.20h1.19v5.87h-1.19zM74.53 311.72h1.19v5.87h-1.19zM106.51 311.72h1.19v5.87h-1.19zM141.86 311.72h1.19v5.87h-1.19zM178.89 311.72h1.19v5.87h-1.19zM223.49 311.72h1.19v5.87h-1.19zM226.02 311.72h1.19v5.87h-1.19zM244.53 311.72h1.19v5.87h-1.19zM72.85 317.23h1.19v5.87h-1.19zM78.74 317.23h1.19v5.87h-1.19zM79.58 317.23h1.19v5.87h-1.19zM120.82 317.23h1.19v5.87h-1.19zM125.03 317.23h1.19v5.87h-1.19zM130.08 317.23h1.19v5.87h-1.19zM133.44 317.23h1.19v5.87h-1.19zM173.84 317.23h1.19v5.87h-1.19zM189.83 317.23h1.19v5.87h-1.19zM193.20 317.23h1.19v5.87h-1.19zM71.17 322.75h1.19v5.87h-1.19zM78.74 322.75h1.19v5.87h-1.19zM94.73 322.75h1.19v5.87h-1.19zM103.15 322.75h1.19v5.87h-1.19zM115.77 322.75h1.19v5.87h-1.19zM121.66 322.75h1.19v5.87h-1.19zM128.39 322.75h1.19v5.87h-1.19zM194.88 322.75h1.19v5.87h-1.19zM213.40 322.75h1.19v5.87h-1.19zM215.08 322.75h1.19v5.87h-1.19zM96.41 328.27h1.19v5.87h-1.19zM115.77 328.27h1.19v5.87h-1.19zM146.91 328.27h1.19v5.87h-1.19zM155.33 328.27h1.19v5.87h-1.19zM77.90 333.79h1.19v5.87h-1.19zM109.04 333.79h1.19v5.87h-1.19zM155.33 333.79h1.19v5.87h-1.19zM166.27 333.79h1.19v5.87h-1.19zM168.79 333.79h1.19v5.87h-1.19zM171.32 333.79h1.19v5.87h-1.19zM195.72 333.79h1.19v5.87h-1.19zM77.90 339.30h1.19v5.87h-1.19zM86.32 339.30h1.19v5.87h-1.19zM94.73 339.30h1.19v5.87h-1.19zM95.57 339.30h1.19v5.87h-1.19zM98.94 339.30h1.19v5.87h-1.19zM114.09 339.30h1.19v5.87h-1.19zM138.49 339.30h1.19v5.87h-1.19zM141.86 339.30h1.19v5.87h-1.19zM156.17 339.30h1.19v5.87h-1.19zM195.72 339.30h1.19v5.87h-1.19zM199.93 339.30h1.19v5.87h-1.19zM220.97 339.30h1.19v5.87h-1.19zM77.90 344.82h1.19v5.87h-1.19zM88.00 344.82h1.19v5.87h-1.19zM98.10 344.82h1.19v5.87h-1.19zM115.77 344.82h1.19v5.87h-1.19zM121.66 344.82h1.19v5.87h-1.19zM140.18 344.82h1.19v5.87h-1.19zM166.27 344.82h1.19v5.87h-1.19zM69.48 350.34h1.19v5.87h-1.19zM79.58 350.34h1.19v5.87h-1.19zM148.59 350.34h1.19v5.87h-1.19zM67.80 355.86h1.19v5.87h-1.19zM102.31 355.86h1.19v5.87h-1.19zM103.99 355.86h1.19v5.87h-1.19zM130.92 355.86h1.19v5.87h-1.19zM133.44 355.86h1.19v5.87h-1.19zM172.16 355.86h1.19v5.87h-1.19zM79.58 361.37h1.19v5.87h-1.19zM93.05 361.37h1.19v5.87h-1.19zM114.93 361.37h1.19v5.87h-1.19zM131.76 361.37h1.19v5.87h-1.19zM132.60 361.37h1.19v5.87h-1.19zM153.64 361.37h1.19v5.87h-1.19zM160.38 361.37h1.19v5.87h-1.19zM164.58 361.37h1.19v5.87h-1.19zM192.36 361.37h1.19v5.87h-1.19zM72.85 366.89h1.19v5.87h-1.19zM77.06 366.89h1.19v5.87h-1.19zM79.58 366.89h1.19v5.87h-1.19zM84.63 366.89h1.19v5.87h-1.19zM91.36 366.89h1.19v5.87h-1.19zM94.73 366.89h1.19v5.87h-1.19zM128.39 366.89h1.19v5.87h-1.19zM140.18 366.89h1.19v5.87h-1.19zM205.82 366.89h1.19v5.87h-1.19zM71.17 372.41h1.19v5.87h-1.19zM75.37 372.41h1.19v5.87h-1.19zM84.63 372.41h1.19v5.87h-1.19zM117.45 372.41h1.19v5.87h-1.19zM131.76 372.41h1.19v5.87h-1.19zM136.81 372.41h1.19v5.87h-1.19zM139.34 372.41h1.19v5.87h-1.19zM159.53 372.41h1.19v5.87h-1.19zM162.06 372.41h1.19v5.87h-1.19zM197.41 372.41h1.19v5.87h-1.19zM78.74 377.92h1.19v5.87h-1.19zM98.94 377.92h1.19v5.87h-1.19zM119.14 377.92h1.19v5.87h-1.19zM135.97 377.92h1.19v5.87h-1.19zM149.43 377.92h1.19v5.87h-1.19zM154.48 377.92h1.19v5.87h-1.19zM162.90 377.92h1.19v5.87h-1.19zM205.82 377.92h1.19v5.87h-1.19zM70.32 383.44h1.19v5.87h-1.19zM93.89 383.44h1.19v5.87h-1.19zM117.45 383.44h1.19v5.87h-1.19zM132.60 383.44h1.19v5.87h-1.19zM137.65 383.44h1.19v5.87h-1.19zM147.75 383.44h1.19v5.87h-1.19zM255.48 383.44h1.19v5.87h-1.19zM72.01 388.96h1.19v5.87h-1.19zM78.74 388.96h1.19v5.87h-1.19zM83.79 388.96h1.19v5.87h-1.19zM88.84 388.96h1.19v5.87h-1.19zM118.30 388.96h1.19v5.87h-1.19zM130.92 388.96h1.19v5.87h-1.19zM145.23 388.96h1.19v5.87h-1.19zM88.00 394.48h1.19v5.87h-1.19zM131.76 394.48h1.19v5.87h-1.19zM133.44 394.48h1.19v5.87h-1.19zM134.29 394.48h1.19v5.87h-1.19zM170.47 394.48h1.19v5.87h-1.19zM171.32 394.48h1.19v5.87h-1.19zM220.13 394.48h1.19v5.87h-1.19zM75.37 399.99h1.19v5.87h-1.19zM82.95 399.99h1.19v5.87h-1.19zM85.47 399.99h1.19v5.87h-1.19zM125.03 399.99h1.19v5.87h-1.19zM145.23 399.99h1.19v5.87h-1.19zM149.43 399.99h1.19v5.87h-1.19zM189.83 399.99h1.19v5.87h-1.19zM198.25 399.99h1.19v5.87h-1.19zM215.92 399.99h1.19v5.87h-1.19zM91.36 405.51h1.19v5.87h-1.19zM93.05 405.51h1.19v5.87h-1.19zM132.60 405.51h1.19v5.87h-1.19zM178.89 405.51h1.19v5.87h-1.19zM210.87 405.51h1.19v5.87h-1.19zM79.58 411.03h1.19v5.87h-1.19zM82.11 411.03h1.19v5.87h-1.19zM87.16 411.03h1.19v5.87h-1.19zM213.40 411.03h1.19v5.87h-1.19zM216.76 411.03h1.19v5.87h-1.19zM67.80 416.54h1.19v5.87h-1.19zM92.21 416.54h1.19v5.87h-1.19zM97.26 416.54h1.19v5.87h-1.19zM138.49 416.54h1.19v5.87h-1.19zM151.96 416.54h1.19v5.87h-1.19zM152.80 416.54h1.19v5.87h-1.19zM72.85 422.06h1.19v5.87h-1.19zM83.79 422.06h1.19v5.87h-1.19zM87.16 422.06h1.19v5.87h-1.19zM129.24 422.06h1.19v5.87h-1.19zM140.18 422.06h1.19v5.87h-1.19zM163.74 422.06h1.19v5.87h-1.19zM168.79 422.06h1.19v5.87h-1.19zM86.32 427.58h1.19v5.87h-1.19zM98.10 427.58h1.19v5.87h-1.19zM112.40 427.58h1.19v5.87h-1.19zM137.65 427.58h1.19v5.87h-1.19zM139.34 427.58h1.19v5.87h-1.19zM140.18 427.58h1.19v5.87h-1.19zM146.07 427.58h1.19v5.87h-1.19zM180.57 427.58h1.19v5.87h-1.19zM207.50 427.58h1.19v5.87h-1.19zM74.53 433.10h1.19v5.87h-1.19zM78.74 433.10h1.19v5.87h-1.19zM125.87 433.10h1.19v5.87h-1.19zM130.08 433.10h1.19v5.87h-1.19zM130.92 433.10h1.19v5.87h-1.19zM179.73 433.10h1.19v5.87h-1.19zM185.62 433.10h1.19v5.87h-1.19zM207.50 433.10h1.19v5.87h-1.19zM112.40 438.61h1.19v5.87h-1.19zM113.25 438.61h1.19v5.87h-1.19zM132.60 438.61h1.19v5.87h-1.19zM133.44 438.61h1.19v5.87h-1.19zM153.64 438.61h1.19v5.87h-1.19zM192.36 438.61h1.19v5.87h-1.19zM193.20 438.61h1.19v5.87h-1.19zM246.22 438.61h1.19v5.87h-1.19zM71.17 444.13h1.19v5.87h-1.19zM81.27 444.13h1.19v5.87h-1.19zM82.11 444.13h1.19v5.87h-1.19zM83.79 444.13h1.19v5.87h-1.19zM97.26 444.13h1.19v5.87h-1.19zM103.15 444.13h1.19v5.87h-1.19zM109.88 444.13h1.19v5.87h-1.19zM114.09 444.13h1.19v5.87h-1.19zM150.28 444.13h1.19v5.87h-1.19zM163.74 444.13h1.19v5.87h-1.19zM174.68 444.13h1.19v5.87h-1.19zM181.42 444.13h1.19v5.87h-1.19zM216.76 444.13h1.19v5.87h-1.19zM80.42 449.65h1.19v5.87h-1.19zM163.74 449.65h1.19v5.87h-1.19zM200.77 449.65h1.19v5.87h-1.19zM224.34 449.65h1.19v5.87h-1.19zM235.28 449.65h1.19v5.87h-1.19zM241.17 449.65h1.19v5.87h-1.19zM247.90 449.65h1.19v5.87h-1.19zM84.63 455.17h1.19v5.87h-1.19zM146.91 455.17h1.19v5.87h-1.19zM198.25 455.17h1.19v5.87h-1.19zM220.13 455.17h1.19v5.87h-1.19zM231.91 455.17h1.19v5.87h-1.19zM143.54 460.68h1.19v5.87h-1.19zM210.87 460.68h1.19v5.87h-1.19zM225.18 460.68h1.19v5.87h-1.19z"/>
<path fill="#d0d0e8" d="M80.42 306.20h1.19v5.87h-1.19zM110.72 306.20h1.19v5.87h-1.19zM127.55 306.20h1.19v5.87h-1.19zM131.76 306.20h1.19v5.87h-1.19zM164.58 306.20h1.19v5.87h-1.19zM69.48 311.72h1.19v5.87h-1.19zM93.05 311.72h1.19v5.87h-1.19zM109.04 311.72h1.19v5.87h-1.19zM146.91 311.72h1.19v5.87h-1.19zM215.08 311.72h1.19v5.87h-1.19zM70.32 317.23h1.19v5.87h-1.19zM112.40 317.23h1.19v5.87h-1.19zM139.34 317.23h1.19v5.87h-1.19zM141.02 317.23h1.19v5.87h-1.19zM148.59 317.23h1.19v5.87h-1.19zM150.28 317.23h1.19v5.87h-1.19zM207.50 317.23h1.19v5.87h-1.19zM72.01 322.75h1.19v5.87h-1.19zM73.69 322.75h1.19v5.87h-1.19zM95.57 322.75h1.19v5.87h-1.19zM97.26 322.75h1.19v5.87h-1.19zM98.94 322.75h1.19v5.87h-1.19zM125.03 322.75h1.19v5.87h-1.19zM134.29 322.75h1.19v5.87h-1.19zM136.81 322.75h1.19v5.87h-1.19zM152.80 322.75h1.19v5.87h-1.19zM157.85 322.75h1.19v5.87h-1.19zM172.16 322.75h1.19v5.87h-1.19zM190.67 322.75h1.19v5.87h-1.19zM77.90 328.27h1.19v5.87h-1.19zM90.52 328.27h1.19v5.87h-1.19zM149.43 328.27h1.19v5.87h-1.19zM165.42 328.27h1.19v5.87h-1.19zM175.52 328.27h1.19v5.87h-1.19zM198.25 328.27h1.19v5.87h-1.19zM72.01 333.79h1.19v5.87h-1.19zM90.52 333.79h1.19v5.87h-1.19zM141.02 333.79h1.19v5.87h-1.19zM146.91 333.79h1.19v5.87h-1.19zM160.38 333.79h1.19v5.87h-1.19zM162.90 333.79h1.19v5.87h-1.19zM202.45 333.79h1.19v5.87h-1.19zM72.01 339.30h1.19v5.87h-1.19zM127.55 339.30h1.19v5.87h-1.19zM128.39 339.30h1.19v5.87h-1.19zM136.81 339.30h1.19v5.87h-1.19zM146.07 339.30h1.19v5.87h-1.19zM80.42 344.82h1.19v5.87h-1.19zM119.98 344.82h1.19v5.87h-1.19zM125.03 344.82h1.19v5.87h-1.19zM135.13 344.82h1.19v5.87h-1.19zM136.81 344.82h1.19v5.87h-1.19zM141.86 344.82h1.19v5.87h-1.19zM153.64 344.82h1.19v5.87h-1.19zM154.48 344.82h1.19v5.87h-1.19zM163.74 344.82h1.19v5.87h-1.19zM193.20 344.82h1.19v5.87h-1.19zM67.80 350.34h1.19v5.87h-1.19zM98.10 350.34h1.19v5.87h-1.19zM100.62 350.34h1.19v5.87h-1.19zM117.45 350.34h1.19v5.87h-1.19zM147.75 350.34h1.19v5.87h-1.19zM232.75 350.34h1.19v5.87h-1.19zM84.63 355.86h1.19v5.87h-1.19zM94.73 355.86h1.19v5.87h-1.19zM95.57 355.86h1.19v5.87h-1.19zM118.30 355.86h1.19v5.87h-1.19zM125.03 355.86h1.19v5.87h-1.19zM200.77 355.86h1.19v5.87h-1.19zM86.32 361.37h1.19v5.87h-1.19zM87.16 361.37h1.19v5.87h-1.19zM90.52 361.37h1.19v5.87h-1.19zM112.40 361.37h1.19v5.87h-1.19zM116.61 361.37h1.19v5.87h-1.19zM121.66 361.37h1.19v5.87h-1.19zM127.55 361.37h1.19v5.87h-1.19zM141.02 361.37h1.19v5.87h-1.19zM146.91 361.37h1.19v5.87h-1.19zM167.95 361.37h1.19v5.87h-1.19zM202.45 361.37h1.19v5.87h-1.19zM213.40 361.37h1.19v5.87h-1.19zM90.52 366.89h1.19v5.87h-1.19zM103.15 366.89h1.19v5.87h-1.19zM162.06 366.89h1.19v5.87h-1.19zM184.78 366.89h1.19v5.87h-1.19zM185.62 366.89h1.19v5.87h-1.19zM198.25 366.89h1.19v5.87h-1.19zM67.80 372.41h1.19v5.87h-1.19zM83.79 372.41h1.19v5.87h-1.19zM100.62 372.41h1.19v5.87h-1.19zM155.33 372.41h1.19v5.87h-1.19zM158.69 372.41h1.19v5.87h-1.19zM87.16 377.92h1.19v5.87h-1.19zM95.57 377.92h1.19v5.87h-1.19zM103.99 377.92h1.19v5.87h-1.19zM113.25 377.92h1.19v5.87h-1.19zM121.66 377.92h1.19v5.87h-1.19zM122.50 377.92h1.19v5.87h-1.19zM124.19 377.92h1.19v5.87h-1.19zM161.22 377.92h1.19v5.87h-1.19zM166.27 377.92h1.19v5.87h-1.19zM192.36 377.92h1.19v5.87h-1.19zM96.41 383.44h1.19v5.87h-1.19zM140.18 383.44h1.19v5.87h-1.19zM206.66 383.44h1.19v5.87h-1.19zM213.40 383.44h1.19v5.87h-1.19zM87.16 388.96h1.19v5.87h-1.19zM96.41 388.96h1.19v5.87h-1.19zM98.94 388.96h1.19v5.87h-1.19zM107.35 388.96h1.19v5.87h-1.19zM127.55 388.96h1.19v5.87h-1.19zM128.39 388.96h1.19v5.87h-1.19zM140.18 388.96h1.19v5.87h-1.19zM165.42 388.96h1.19v5.87h-1.19zM69.48 394.48h1.19v5.87h-1.19zM78.74 394.48h1.19v5.87h-1.19zM160.38 394.48h1.19v5.87h-1.19zM90.52 399.99h1.19v5.87h-1.19zM94.73 399.99h1.19v5.87h-1.19zM108.20 399.99h1.19v5.87h-1.19zM110.72 399.99h1.19v5.87h-1.19zM127.55 399.99h1.19v5.87h-1.19zM140.18 399.99h1.19v5.87h-1.19zM155.33 399.99h1.19v5.87h-1.19zM117.45 405.51h1.19v5.87h-1.19zM124.19 405.51h1.19v5.87h-1.19zM151.96 405.51h1.19v5.87h-1.19zM167.11 405.51h1.19v5.87h-1.19zM186.46 405.51h1.19v5.87h-1.19zM88.84 411.03h1.19v5.87h-1.19zM98.10 411.03h1.19v5.87h-1.19zM103.15 411.03h1.19v5.87h-1.19zM104.83 411.03h1.19v5.87h-1.19zM114.09 411.03h1.19v5.87h-1.19zM153.64 411.03h1.19v5.87h-1.19zM162.90 411.03h1.19v5.87h-1.19zM73.69 416.54h1.19v5.87h-1.19zM77.90 416.54h1.19v5.87h-1.19zM89.68 416.54h1.19v5.87h-1.19zM108.20 416.54h1.19v5.87h-1.19zM118.30 416.54h1.19v5.87h-1.19zM125.03 416.54h1.19v5.87h-1.19zM128.39 416.54h1.19v5.87h-1.19zM121.66 422.06h1.19v5.87h-1.19zM139.34 422.06h1.19v5.87h-1.19zM141.02 422.06h1.19v5.87h-1.19zM153.64 422.06h1.19v5.87h-1.19zM87.16 427.58h1.19v5.87h-1.19zM92.21 427.58h1.19v5.87h-1.19zM133.44 427.58h1.19v5.87h-1.19zM144.38 427.58h1.19v5.87h-1.19zM158.69 427.58h1.19v5.87h-1.19zM99.78 433.10h1.19v5.87h-1.19zM128.39 433.10h1.19v5.87h-1.19zM146.91 433.10h1.19v5.87h-1.19zM157.85 433.10h1.19v5.87h-1.19zM172.16 433.10h1.19v5.87h-1.19zM181.42 433.10h1.19v5.87h-1.19zM210.03 433.10h1.19v5.87h-1.19zM213.40 433.10h1.19v5.87h-1.19zM85.47 438.61h1.19v5.87h-1.19zM86.32 438.61h1.19v5.87h-1.19zM103.15 438.61h1.19v5.87h-1.19zM119.14 438.61h1.19v5.87h-1.19zM159.53 438.61h1.19v5.87h-1.19zM169.63 438.61h1.19v5.87h-1.19zM173.84 438.61h1.19v5.87h-1.19zM196.56 438.61h1.19v5.87h-1.19zM73.69 444.13h1.19v5.87h-1.19zM82.95 444.13h1.19v5.87h-1.19zM102.31 444.13h1.19v5.87h-1.19zM120.82 444.13h1.19v5.87h-1.19zM136.81 444.13h1.19v5.87h-1.19zM148.59 444.13h1.19v5.87h-1.19zM157.85 444.13h1.19v5.87h-1.19zM127.55 449.65h1.19v5.87h-1.19zM138.49 449.65h1.19v5.87h-1.19zM151.96 449.65h1.19v5.87h-1.19zM208.35 449.65h1.19v5.87h-1.19zM231.07 449.65h1.19v5.87h-1.19zM238.64 449.65h1.19v5.87h-1.19zM252.95 449.65h1.19v5.87h-1.19zM184.78 455.17h1.19v5.87h-1.19zM202.45 455.17h1.19v5.87h-1.19zM208.35 455.17h1.19v5.87h-1.19zM234.44 455.17h1.19v5.87h-1.19zM252.95 455.17h1.19v5.87h-1.19zM256.32 455.17h1.19v5.87h-1.19zM98.94 460.68h1.19v5.87h-1.19zM178.05 460.68h1.19v5.87h-1.19zM201.61 460.68h1.19v5.87h-1.19zM206.66 460.68h1.19v5.87h-1.19zM211.71 460.68h1.19v5.87h-1.19zM215.08 460.68h1.19v5.87h-1.19zM216.76 460.68h1.19v5.87h-1.19zM220.13 460.68h1.19v5.87h-1.19zM248.74 460.68h1.19v5.87h-1.19z"/>
<path fill="#f6d1d1" d="M216.76 306.20h1.19v5.87h-1.19zM221.81 306.20h1.19v5.87h-1.19zM226.02 306.20h1.19v5.87h-1.19zM249.58 306.20h1.19v5.87h-1.19zM67.80 311.72h1.19v5.87h-1.19zM153.64 311.72h1.19v5.87h-1.19zM198.25 311.72h1.19v5.87h-1.19zM220.97 311.72h1.19v5.87h-1.19zM231.91 311.72h1.19v5.87h-1.19zM233.59 311.72h1.19v5.87h-1.19zM237.80 311.72h1.19v5.87h-1.19zM248.74 311.72h1.19v5.87h-1.19zM172.16 317.23h1.19v5.87h-1.19zM177.21 317.23h1.19v5.87h-1.19zM223.49 317.23h1.19v5.87h-1.19zM227.70 317.23h1.19v5.87h-1.19zM242.85 317.23h1.19v5.87h-1.19zM89.68 322.75h1.19v5.87h-1.19zM110.72 322.75h1.19v5.87h-1.19zM231.07 322.75h1.19v5.87h-1.19zM122.50 328.27h1.19v5.87h-1.19zM150.28 328.27h1.19v5.87h-1.19zM151.12 328.27h1.19v5.87h-1.19zM221.81 328.27h1.19v5.87h-1.19zM226.86 328.27h1.19v5.87h-1.19zM243.69 328.27h1.19v5.87h-1.19zM254.63 328.27h1.19v5.87h-1.19zM86.32 333.79h1.19v5.87h-1.19zM148.59 333.79h1.19v5.87h-1.19zM190.67 333.79h1.19v5.87h-1.19zM193.20 333.79h1.19v5.87h-1.19zM207.50 333.79h1.19v5.87h-1.19zM216.76 333.79h1.19v5.87h-1.19zM184.78 339.30h1.19v5.87h-1.19zM185.62 339.30h1.19v5.87h-1.19zM190.67 339.30h1.19v5.87h-1.19zM176.37 344.82h1.19v5.87h-1.19zM194.04 344.82h1.19v5.87h-1.19zM241.17 344.82h1.19v5.87h-1.19zM116.61 350.34h1.19v5.87h-1.19zM143.54 350.34h1.19v5.87h-1.19zM167.11 350.34h1.19v5.87h-1.19zM186.46 350.34h1.19v5.87h-1.19zM221.81 350.34h1.19v5.87h-1.19zM224.34 350.34h1.19v5.87h-1.19zM226.86 350.34h1.19v5.87h-1.19zM243.69 350.34h1.19v5.87h-1.19zM70.32 355.86h1.19v5.87h-1.19zM171.32 355.86h1.19v5.87h-1.19zM181.42 355.86h1.19v5.87h-1.19zM194.88 355.86h1.19v5.87h-1.19zM212.55 355.86h1.19v5.87h-1.19zM236.96 355.86h1.19v5.87h-1.19zM161.22 361.37h1.19v5.87h-1.19zM185.62 361.37h1.19v5.87h-1.19zM187.31 361.37h1.19v5.87h-1.19zM217.60 361.37h1.19v5.87h-1.19zM226.86 361.37h1.19v5.87h-1.19zM231.07 361.37h1.19v5.87h-1.19zM122.50 366.89h1.19v5.87h-1.19zM162.90 366.89h1.19v5.87h-1.19zM179.73 366.89h1.19v5.87h-1.19zM188.99 366.89h1.19v5.87h-1.19zM105.67 372.41h1.19v5.87h-1.19zM226.86 372.41h1.19v5.87h-1.19zM227.70 372.41h1.19v5.87h-1.19zM93.05 377.92h1.19v5.87h-1.19zM190.67 377.92h1.19v5.87h-1.19zM226.02 377.92h1.19v5.87h-1.19zM240.33 377.92h1.19v5.87h-1.19zM251.27 377.92h1.19v5.87h-1.19zM255.48 377.92h1.19v5.87h-1.19zM128.39 383.44h1.19v5.87h-1.19zM184.78 383.44h1.19v5.87h-1.19zM204.14 383.44h1.19v5.87h-1.19zM254.63 383.44h1.19v5.87h-1.19zM139.34 388.96h1.19v5.87h-1.19zM143.54 388.96h1.19v5.87h-1.19zM211.71 388.96h1.19v5.87h-1.19zM232.75 388.96h1.19v5.87h-1.19zM251.27 388.96h1.19v5.87h-1.19zM106.51 394.48h1.19v5.87h-1.19zM192.36 394.48h1.19v5.87h-1.19zM199.93 394.48h1.19v5.87h-1.19zM215.92 394.48h1.19v5.87h-1.19zM234.44 394.48h1.19v5.87h-1.19zM250.43 394.48h1.19v5.87h-1.19zM107.35 399.99h1.19v5.87h-1.19zM134.29 399.99h1.19v5.87h-1.19zM167.95 399.99h1.19v5.87h-1.19zM218.45 399.99h1.19v5.87h-1.19zM240.33 399.99h1.19v5.87h-1.19zM243.69 399.99h1.19v5.87h-1.19zM246.22 399.99h1.19v5.87h-1.19zM74.53 405.51h1.19v5.87h-1.19zM222.65 405.51h1.19v5.87h-1.19zM241.17 405.51h1.19v5.87h-1.19zM242.85 405.51h1.19v5.87h-1.19zM243.69 405.51h1.19v5.87h-1.19zM249.58 405.51h1.19v5.87h-1.19zM152.80 411.03h1.19v5.87h-1.19zM173.00 411.03h1.19v5.87h-1.19zM228.54 411.03h1.19v5.87h-1.19zM101.46 416.54h1.19v5.87h-1.19zM111.56 416.54h1.19v5.87h-1.19zM183.94 416.54h1.19v5.87h-1.19zM229.39 416.54h1.19v5.87h-1.19zM242.85 416.54h1.19v5.87h-1.19zM246.22 416.54h1.19v5.87h-1.19zM156.17 422.06h1.19v5.87h-1.19zM185.62 422.06h1.19v5.87h-1.19zM199.09 422.06h1.19v5.87h-1.19zM204.14 422.06h1.19v5.87h-1.19zM216.76 422.06h1.19v5.87h-1.19zM236.12 422.06h1.19v5.87h-1.19zM252.95 422.06h1.19v5.87h-1.19zM255.48 422.06h1.19v5.87h-1.19zM172.16 427.58h1.19v5.87h-1.19zM225.18 427.58h1.19v5.87h-1.19zM231.07 427.58h1.19v5.87h-1.19zM242.85 427.58h1.19v5.87h-1.19zM82.11 433.10h1.19v5.87h-1.19zM88.00 433.10h1.19v5.87h-1.19zM211.71 433.10h1.19v5.87h-1.19zM220.97 433.10h1.19v5.87h-1.19zM230.23 433.10h1.19v5.87h-1.19zM236.12 433.10h1.19v5.87h-1.19zM246.22 433.10h1.19v5.87h-1.19zM99.78 438.61h1.19v5.87h-1.19zM125.87 438.61h1.19v5.87h-1.19zM175.52 438.61h1.19v5.87h-1.19zM231.07 438.61h1.19v5.87h-1.19zM76.22 444.13h1.19v5.87h-1.19zM192.36 444.13h1.19v5.87h-1.19zM194.04 444.13h1.19v5.87h-1.19zM201.61 444.13h1.19v5.87h-1.19zM213.40 444.13h1.19v5.87h-1.19zM222.65 444.13h1.19v5.87h-1.19zM231.91 444.13h1.19v5.87h-1.19zM239.48 444.13h1.19v5.87h-1.19zM250.43 444.13h1.19v5.87h-1.19zM72.01 449.65h1.19v5.87h-1.19zM79.58 449.65h1.19v5.87h-1.19zM85.47 449.65h1.19v5.87h-1.19zM117.45 449.65h1.19v5.87h-1.19zM177.21 449.65h1.19v5.87h-1.19zM188.99 449.65h1.19v5.87h-1.19zM194.88 449.65h1.19v5.87h-1.19zM207.50 449.65h1.19v5.87h-1.19zM99.78 455.17h1.19v5.87h-1.19zM104.83 455.17h1.19v5.87h-1.19zM152.80 455.17h1.19v5.87h-1.19zM156.17 455.17h1.19v5.87h-1.19zM178.05 455.17h1.19v5.87h-1.19zM187.31 455.17h1.19v5.87h-1.19zM82.95 460.68h1.19v5.87h-1.19zM137.65 460.68h1.19v5.87h-1.19zM141.02 460.68h1.19v5.87h-1.19zM147.75 460.68h1.19v5.87h-1.19zM158.69 460.68h1.19v5.87h-1.19zM176.37 460.68h1.19v5.87h-1.19zM200.77 460.68h1.19v5.87h-1.19zM204.98 460.68h1.19v5.87h-1.19z"/>
<path fill="#c8c8e4" d="M98.10 306.20h1.19v5.87h-1.19zM112.40 306.20h1.19v5.87h-1.19zM114.93 306.20h1.19v5.87h-1.19zM116.61 306.20h1.19v5.87h-1.19zM146.91 306.20h1.19v5.87h-1.19zM155.33 306.20h1.19v5.87h-1.19zM196.56 306.20h1.19v5.87h-1.19zM208.35 306.20h1.19v5.87h-1.19zM142.70 311.72h1.19v5.87h-1.19zM161.22 311.72h1.19v5.87h-1.19zM88.84 317.23h1.19v5.87h-1.19zM119.14 317.23h1.19v5.87h-1.19zM135.97 317.23h1.19v5.87h-1.19zM137.65 317.23h1.19v5.87h-1.19zM141.86 317.23h1.19v5.87h-1.19zM168.79 317.23h1.19v5.87h-1.19zM70.32 322.75h1.19v5.87h-1.19zM85.47 322.75h1.19v5.87h-1.19zM102.31 322.75h1.19v5.87h-1.19zM120.82 322.75h1.19v5.87h-1.19zM129.24 322.75h1.19v5.87h-1.19zM138.49 322.75h1.19v5.87h-1.19zM141.02 322.75h1.19v5.87h-1.19zM143.54 322.75h1.19v5.87h-1.19zM67.80 328.27h1.19v5.87h-1.19zM78.74 328.27h1.19v5.87h-1.19zM80.42 328.27h1.19v5.87h-1.19zM107.35 328.27h1.19v5.87h-1.19zM118.30 328.27h1.19v5.87h-1.19zM125.87 328.27h1.19v5.87h-1.19zM153.64 328.27h1.19v5.87h-1.19zM205.82 328.27h1.19v5.87h-1.19zM68.64 333.79h1.19v5.87h-1.19zM70.32 333.79h1.19v5.87h-1.19zM76.22 333.79h1.19v5.87h-1.19zM118.30 333.79h1.19v5.87h-1.19zM119.14 333.79h1.19v5.87h-1.19zM126.71 333.79h1.19v5.87h-1.19zM132.60 333.79h1.19v5.87h-1.19zM136.81 333.79h1.19v5.87h-1.19zM139.34 333.79h1.19v5.87h-1.19zM71.17 339.30h1.19v5.87h-1.19zM82.11 339.30h1.19v5.87h-1.19zM132.60 339.30h1.19v5.87h-1.19zM157.85 339.30h1.19v5.87h-1.19zM97.26 344.82h1.19v5.87h-1.19zM122.50 344.82h1.19v5.87h-1.19zM177.21 344.82h1.19v5.87h-1.19zM188.15 344.82h1.19v5.87h-1.19zM83.79 350.34h1.19v5.87h-1.19zM94.73 350.34h1.19v5.87h-1.19zM102.31 350.34h1.19v5.87h-1.19zM125.03 350.34h1.19v5.87h-1.19zM128.39 350.34h1.19v5.87h-1.19zM141.02 350.34h1.19v5.87h-1.19zM162.90 350.34h1.19v5.87h-1.19zM79.58 355.86h1.19v5.87h-1.19zM80.42 355.86h1.19v5.87h-1.19zM86.32 355.86h1.19v5.87h-1.19zM142.70 355.86h1.19v5.87h-1.19zM146.07 355.86h1.19v5.87h-1.19zM88.84 361.37h1.19v5.87h-1.19zM148.59 361.37h1.19v5.87h-1.19zM102.31 366.89h1.19v5.87h-1.19zM165.42 366.89h1.19v5.87h-1.19zM114.93 372.41h1.19v5.87h-1.19zM120.82 372.41h1.19v5.87h-1.19zM150.28 372.41h1.19v5.87h-1.19zM161.22 372.41h1.19v5.87h-1.19zM167.95 372.41h1.19v5.87h-1.19zM182.26 372.41h1.19v5.87h-1.19zM138.49 377.92h1.19v5.87h-1.19zM146.91 377.92h1.19v5.87h-1.19zM153.64 377.92h1.19v5.87h-1.19zM189.83 377.92h1.19v5.87h-1.19zM235.28 377.92h1.19v5.87h-1.19zM79.58 383.44h1.19v5.87h-1.19zM84.63 383.44h1.19v5.87h-1.19zM141.86 383.44h1.19v5.87h-1.19zM172.16 383.44h1.19v5.87h-1.19zM211.71 383.44h1.19v5.87h-1.19zM212.55 383.44h1.19v5.87h-1.19zM93.89 388.96h1.19v5.87h-1.19zM94.73 388.96h1.19v5.87h-1.19zM97.26 388.96h1.19v5.87h-1.19zM102.31 388.96h1.19v5.87h-1.19zM117.45 388.96h1.19v5.87h-1.19zM126.71 388.96h1.19v5.87h-1.19zM136.81 388.96h1.19v5.87h-1.19zM148.59 388.96h1.19v5.87h-1.19zM158.69 388.96h1.19v5.87h-1.19zM167.11 388.96h1.19v5.87h-1.19zM187.31 388.96h1.19v5.87h-1.19zM97.26 394.48h1.19v5.87h-1.19zM109.88 394.48h1.19v5.87h-1.19zM120.82 394.48h1.19v5.87h-1.19zM128.39 394.48h1.19v5.87h-1.19zM132.60 394.48h1.19v5.87h-1.19zM145.23 394.48h1.19v5.87h-1.19zM150.28 394.48h1.19v5.87h-1.19zM155.33 394.48h1.19v5.87h-1.19zM164.58 394.48h1.19v5.87h-1.19zM106.51 399.99h1.19v5.87h-1.19zM141.02 399.99h1.19v5.87h-1.19zM165.42 399.99h1.19v5.87h-1.19zM171.32 399.99h1.19v5.87h-1.19zM181.42 399.99h1.19v5.87h-1.19zM98.10 405.51h1.19v5.87h-1.19zM140.18 405.51h1.19v5.87h-1.19zM145.23 405.51h1.19v5.87h-1.19zM171.32 405.51h1.19v5.87h-1.19zM179.73 405.51h1.19v5.87h-1.19zM200.77 405.51h1.19v5.87h-1.19zM82.95 411.03h1.19v5.87h-1.19zM86.32 411.03h1.19v5.87h-1.19zM117.45 411.03h1.19v5.87h-1.19zM122.50 411.03h1.19v5.87h-1.19zM128.39 411.03h1.19v5.87h-1.19zM129.24 411.03h1.19v5.87h-1.19zM131.76 411.03h1.19v5.87h-1.19zM136.81 411.03h1.19v5.87h-1.19zM144.38 411.03h1.19v5.87h-1.19zM145.23 411.03h1.19v5.87h-1.19zM165.42 411.03h1.19v5.87h-1.19zM197.41 411.03h1.19v5.87h-1.19zM93.05 416.54h1.19v5.87h-1.19zM104.83 416.54h1.19v5.87h-1.19zM134.29 416.54h1.19v5.87h-1.19zM209.19 416.54h1.19v5.87h-1.19zM88.84 422.06h1.19v5.87h-1.19zM107.35 422.06h1.19v5.87h-1.19zM142.70 422.06h1.19v5.87h-1.19zM155.33 422.06h1.19v5.87h-1.19zM157.85 422.06h1.19v5.87h-1.19zM173.84 422.06h1.19v5.87h-1.19zM174.68 422.06h1.19v5.87h-1.19zM205.82 422.06h1.19v5.87h-1.19zM220.13 422.06h1.19v5.87h-1.19zM97.26 427.58h1.19v5.87h-1.19zM122.50 427.58h1.19v5.87h-1.19zM130.92 427.58h1.19v5.87h-1.19zM145.23 427.58h1.19v5.87h-1.19zM157.01 427.58h1.19v5.87h-1.19zM71.17 433.10h1.19v5.87h-1.19zM113.25 433.10h1.19v5.87h-1.19zM119.98 433.10h1.19v5.87h-1.19zM140.18 433.10h1.19v5.87h-1.19zM142.70 433.10h1.19v5.87h-1.19zM158.69 433.10h1.19v5.87h-1.19zM226.02 433.10h1.19v5.87h-1.19zM77.06 438.61h1.19v5.87h-1.19zM80.42 438.61h1.19v5.87h-1.19zM119.98 438.61h1.19v5.87h-1.19zM162.06 438.61h1.19v5.87h-1.19zM187.31 438.61h1.19v5.87h-1.19zM74.53 444.13h1.19v5.87h-1.19zM151.96 444.13h1.19v5.87h-1.19zM162.06 444.13h1.19v5.87h-1.19zM133.44 455.17h1.19v5.87h-1.19zM165.42 455.17h1.19v5.87h-1.19zM209.19 455.17h1.19v5.87h-1.19zM227.70 455.17h1.19v5.87h-1.19zM240.33 455.17h1.19v5.87h-1.19zM244.53 455.17h1.19v5.87h-1.19zM245.38 455.17h1.19v5.87h-1.19zM253.79 455.17h1.19v5.87h-1.19zM119.14 460.68h1.19v5.87h-1.19zM249.58 460.68h1.19v5.87h-1.19z"/>
<path fill="#f4c9c9" d="M105.67 306.20h1.19v5.87h-1.19zM111.56 306.20h1.19v5.87h-1.19zM214.24 306.20h1.19v5.87h-1.19zM101.46 311.72h1.19v5.87h-1.19zM125.87 311.72h1.19v5.87h-1.19zM152.80 311.72h1.19v5.87h-1.19zM181.42 311.72h1.19v5.87h-1.19zM239.48 311.72h1.19v5.87h-1.19zM242.01 311.72h1.19v5.87h-1.19zM242.85 311.72h1.19v5.87h-1.19zM245.38 311.72h1.19v5.87h-1.19zM252.95 311.72h1.19v5.87h-1.19zM239.48 317.23h1.19v5.87h-1.19zM248.74 317.23h1.19v5.87h-1.19zM252.95 317.23h1.19v5.87h-1.19zM86.32 322.75h1.19v5.87h-1.19zM212.55 322.75h1.19v5.87h-1.19zM230.23 322.75h1.19v5.87h-1.19zM242.01 322.75h1.19v5.87h-1.19zM76.22 328.27h1.19v5.87h-1.19zM98.10 328.27h1.19v5.87h-1.19zM210.03 328.27h1.19v5.87h-1.19zM235.28 328.27h1.19v5.87h-1.19zM131.76 333.79h1.19v5.87h-1.19zM223.49 333.79h1.19v5.87h-1.19zM239.48 333.79h1.19v5.87h-1.19zM110.72 339.30h1.19v5.87h-1.19zM178.05 339.30h1.19v5.87h-1.19zM179.73 339.30h1.19v5.87h-1.19zM226.86 339.30h1.19v5.87h-1.19zM256.32 339.30h1.19v5.87h-1.19zM227.70 344.82h1.19v5.87h-1.19zM231.91 344.82h1.19v5.87h-1.19zM239.48 344.82h1.19v5.87h-1.19zM199.09 350.34h1.19v5.87h-1.19zM209.19 350.34h1.19v5.87h-1.19zM230.23 350.34h1.19v5.87h-1.19zM235.28 350.34h1.19v5.87h-1.19zM245.38 350.34h1.19v5.87h-1.19zM76.22 355.86h1.19v5.87h-1.19zM204.98 355.86h1.19v5.87h-1.19zM207.50 355.86h1.19v5.87h-1.19zM220.97 355.86h1.19v5.87h-1.19zM252.11 355.86h1.19v5.87h-1.19zM177.21 361.37h1.19v5.87h-1.19zM190.67 361.37h1.19v5.87h-1.19zM207.50 361.37h1.19v5.87h-1.19zM161.22 366.89h1.19v5.87h-1.19zM195.72 366.89h1.19v5.87h-1.19zM199.09 366.89h1.19v5.87h-1.19zM213.40 366.89h1.19v5.87h-1.19zM226.86 366.89h1.19v5.87h-1.19zM243.69 366.89h1.19v5.87h-1.19zM245.38 366.89h1.19v5.87h-1.19zM255.48 366.89h1.19v5.87h-1.19zM171.32 372.41h1.19v5.87h-1.19zM196.56 372.41h1.19v5.87h-1.19zM204.98 372.41h1.19v5.87h-1.19zM221.81 372.41h1.19v5.87h-1.19zM233.59 372.41h1.19v5.87h-1.19zM240.33 372.41h1.19v5.87h-1.19zM111.56 377.92h1.19v5.87h-1.19zM172.16 377.92h1.19v5.87h-1.19zM185.62 377.92h1.19v5.87h-1.19zM199.93 377.92h1.19v5.87h-1.19zM201.61 377.92h1.19v5.87h-1.19zM212.55 377.92h1.19v5.87h-1.19zM214.24 377.92h1.19v5.87h-1.19zM219.29 377.92h1.19v5.87h-1.19zM222.65 377.92h1.19v5.87h-1.19zM241.17 377.92h1.19v5.87h-1.19zM244.53 377.92h1.19v5.87h-1.19zM89.68 383.44h1.19v5.87h-1.19zM193.20 383.44h1.19v5.87h-1.19zM198.25 383.44h1.19v5.87h-1.19zM235.28 383.44h1.19v5.87h-1.19zM240.33 383.44h1.19v5.87h-1.19zM242.01 383.44h1.19v5.87h-1.19zM251.27 383.44h1.19v5.87h-1.19zM103.15 388.96h1.19v5.87h-1.19zM111.56 388.96h1.19v5.87h-1.19zM204.14 388.96h1.19v5.87h-1.19zM227.70 388.96h1.19v5.87h-1.19zM239.48 388.96h1.19v5.87h-1.19zM242.85 388.96h1.19v5.87h-1.19zM216.76 394.48h1.19v5.87h-1.19zM218.45 394.48h1.19v5.87h-1.19zM170.47 399.99h1.19v5.87h-1.19zM185.62 399.99h1.19v5.87h-1.19zM209.19 399.99h1.19v5.87h-1.19zM234.44 399.99h1.19v5.87h-1.19zM194.04 405.51h1.19v5.87h-1.19zM220.13 405.51h1.19v5.87h-1.19zM250.43 405.51h1.19v5.87h-1.19zM167.11 411.03h1.19v5.87h-1.19zM168.79 411.03h1.19v5.87h-1.19zM169.63 411.03h1.19v5.87h-1.19zM171.32 411.03h1.19v5.87h-1.19zM184.78 411.03h1.19v5.87h-1.19zM186.46 411.03h1.19v5.87h-1.19zM239.48 411.03h1.19v5.87h-1.19zM241.17 411.03h1.19v5.87h-1.19zM254.63 411.03h1.19v5.87h-1.19zM256.32 411.03h1.19v5.87h-1.19zM188.15 416.54h1.19v5.87h-1.19zM193.20 416.54h1.19v5.87h-1.19zM207.50 416.54h1.19v5.87h-1.19zM216.76 416.54h1.19v5.87h-1.19zM120.82 422.06h1.19v5.87h-1.19zM188.15 422.06h1.19v5.87h-1.19zM209.19 422.06h1.19v5.87h-1.19zM231.91 422.06h1.19v5.87h-1.19zM238.64 422.06h1.19v5.87h-1.19zM156.17 427.58h1.19v5.87h-1.19zM179.73 427.58h1.19v5.87h-1.19zM204.14 427.58h1.19v5.87h-1.19zM208.35 427.58h1.19v5.87h-1.19zM242.01 427.58h1.19v5.87h-1.19zM120.82 433.10h1.19v5.87h-1.19zM151.12 433.10h1.19v5.87h-1.19zM189.83 433.10h1.19v5.87h-1.19zM198.25 433.10h1.19v5.87h-1.19zM229.39 433.10h1.19v5.87h-1.19zM100.62 438.61h1.19v5.87h-1.19zM118.30 438.61h1.19v5.87h-1.19zM160.38 438.61h1.19v5.87h-1.19zM162.90 438.61h1.19v5.87h-1.19zM201.61 438.61h1.19v5.87h-1.19zM220.97 438.61h1.19v5.87h-1.19zM226.02 438.61h1.19v5.87h-1.19zM235.28 438.61h1.19v5.87h-1.19zM252.95 438.61h1.19v5.87h-1.19zM69.48 444.13h1.19v5.87h-1.19zM101.46 444.13h1.19v5.87h-1.19zM179.73 444.13h1.19v5.87h-1.19zM210.87 444.13h1.19v5.87h-1.19zM215.92 444.13h1.19v5.87h-1.19zM236.96 444.13h1.19v5.87h-1.19zM68.64 449.65h1.19v5.87h-1.19zM87.16 449.65h1.19v5.87h-1.19zM88.00 449.65h1.19v5.87h-1.19zM93.89 449.65h1.19v5.87h-1.19zM104.83 449.65h1.19v5.87h-1.19zM130.08 449.65h1.19v5.87h-1.19zM142.70 449.65h1.19v5.87h-1.19zM144.38 449.65h1.19v5.87h-1.19zM164.58 449.65h1.19v5.87h-1.19zM168.79 449.65h1.19v5.87h-1.19zM176.37 449.65h1.19v5.87h-1.19zM194.04 449.65h1.19v5.87h-1.19zM209.19 449.65h1.19v5.87h-1.19zM95.57 455.17h1.19v5.87h-1.19zM121.66 455.17h1.19v5.87h-1.19zM130.92 455.17h1.19v5.87h-1.19zM135.97 455.17h1.19v5.87h-1.19zM144.38 455.17h1.19v5.87h-1.19zM148.59 455.17h1.19v5.87h-1.19zM149.43 455.17h1.19v5.87h-1.19zM214.24 455.17h1.19v5.87h-1.19zM92.21 460.68h1.19v5.87h-1.19zM109.04 460.68h1.19v5.87h-1.19zM128.39 460.68h1.19v5.87h-1.19zM135.97 460.68h1.19v5.87h-1.19zM140.18 460.68h1.19v5.87h-1.19zM146.91 460.68h1.19v5.87h-1.19zM149.43 460.68h1.19v5.87h-1.19zM156.17 460.68h1.19v5.87h-1.19zM160.38 460.68h1.19v5.87h-1.19zM161.22 460.68h1.19v5.87h-1.19zM228.54 460.68h1.19v5.87h-1.19z"/>
<path fill="#bfbfe0" d="M70.32 306.20h1.19v5.87h-1.19zM84.63 306.20h1.19v5.87h-1.19zM107.35 306.20h1.19v5.87h-1.19zM135.13 306.20h1.19v5.87h-1.19zM142.70 306.20h1.19v5.87h-1.19zM167.95 306.20h1.19v5.87h-1.19zM77.06 311.72h1.19v5.87h-1.19zM98.94 311.72h1.19v5.87h-1.19zM102.31 311.72h1.19v5.87h-1.19zM85.47 317.23h1.19v5.87h-1.19zM171.32 317.23h1.19v5.87h-1.19zM208.35 317.23h1.19v5.87h-1.19zM116.61 322.75h1.19v5.87h-1.19zM127.55 322.75h1.19v5.87h-1.19zM133.44 322.75h1.19v5.87h-1.19zM188.99 322.75h1.19v5.87h-1.19zM223.49 322.75h1.19v5.87h-1.19zM103.15 328.27h1.19v5.87h-1.19zM125.03 328.27h1.19v5.87h-1.19zM154.48 328.27h1.19v5.87h-1.19zM177.21 328.27h1.19v5.87h-1.19zM69.48 333.79h1.19v5.87h-1.19zM93.89 333.79h1.19v5.87h-1.19zM103.15 333.79h1.19v5.87h-1.19zM123.35 333.79h1.19v5.87h-1.19zM181.42 333.79h1.19v5.87h-1.19zM93.05 339.30h1.19v5.87h-1.19zM108.20 339.30h1.19v5.87h-1.19zM197.41 339.30h1.19v5.87h-1.19zM125.87 344.82h1.19v5.87h-1.19zM139.34 344.82h1.19v5.87h-1.19zM192.36 344.82h1.19v5.87h-1.19zM89.68 350.34h1.19v5.87h-1.19zM119.98 350.34h1.19v5.87h-1.19zM129.24 350.34h1.19v5.87h-1.19zM157.01 350.34h1.19v5.87h-1.19zM77.06 355.86h1.19v5.87h-1.19zM105.67 355.86h1.19v5.87h-1.19zM145.23 355.86h1.19v5.87h-1.19zM167.11 355.86h1.19v5.87h-1.19zM173.84 355.86h1.19v5.87h-1.19zM222.65 355.86h1.19v5.87h-1.19zM72.01 361.37h1.19v5.87h-1.19zM82.11 361.37h1.19v5.87h-1.19zM84.63 361.37h1.19v5.87h-1.19zM99.78 361.37h1.19v5.87h-1.19zM109.88 361.37h1.19v5.87h-1.19zM117.45 361.37h1.19v5.87h-1.19zM120.82 361.37h1.19v5.87h-1.19zM130.92 361.37h1.19v5.87h-1.19zM162.90 361.37h1.19v5.87h-1.19zM169.63 361.37h1.19v5.87h-1.19zM89.68 366.89h1.19v5.87h-1.19zM125.03 366.89h1.19v5.87h-1.19zM147.75 366.89h1.19v5.87h-1.19zM151.96 366.89h1.19v5.87h-1.19zM155.33 366.89h1.19v5.87h-1.19zM171.32 366.89h1.19v5.87h-1.19zM98.10 372.41h1.19v5.87h-1.19zM104.83 372.41h1.19v5.87h-1.19zM106.51 372.41h1.19v5.87h-1.19zM116.61 372.41h1.19v5.87h-1.19zM129.24 372.41h1.19v5.87h-1.19zM110.72 377.92h1.19v5.87h-1.19zM125.03 377.92h1.19v5.87h-1.19zM125.87 377.92h1.19v5.87h-1.19zM188.99 377.92h1.19v5.87h-1.19zM91.36 383.44h1.19v5.87h-1.19zM119.14 383.44h1.19v5.87h-1.19zM77.06 388.96h1.19v5.87h-1.19zM79.58 388.96h1.19v5.87h-1.19zM90.52 388.96h1.19v5.87h-1.19zM91.36 388.96h1.19v5.87h-1.19zM125.87 388.96h1.19v5.87h-1.19zM132.60 388.96h1.19v5.87h-1.19zM173.84 388.96h1.19v5.87h-1.19zM194.04 388.96h1.19v5.87h-1.19zM70.32 394.48h1.19v5.87h-1.19zM110.72 394.48h1.19v5.87h-1.19zM69.48 399.99h1.19v5.87h-1.19zM97.26 399.99h1.19v5.87h-1.19zM113.25 399.99h1.19v5.87h-1.19zM174.68 399.99h1.19v5.87h-1.19zM220.97 399.99h1.19v5.87h-1.19zM71.17 405.51h1.19v5.87h-1.19zM73.69 405.51h1.19v5.87h-1.19zM92.21 405.51h1.19v5.87h-1.19zM94.73 405.51h1.19v5.87h-1.19zM98.94 405.51h1.19v5.87h-1.19zM115.77 405.51h1.19v5.87h-1.19zM137.65 405.51h1.19v5.87h-1.19zM141.02 405.51h1.19v5.87h-1.19zM155.33 405.51h1.19v5.87h-1.19zM165.42 405.51h1.19v5.87h-1.19zM71.17 411.03h1.19v5.87h-1.19zM106.51 411.03h1.19v5.87h-1.19zM118.30 411.03h1.19v5.87h-1.19zM130.92 411.03h1.19v5.87h-1.19zM146.91 411.03h1.19v5.87h-1.19zM110.72 416.54h1.19v5.87h-1.19zM130.08 416.54h1.19v5.87h-1.19zM133.44 416.54h1.19v5.87h-1.19zM177.21 416.54h1.19v5.87h-1.19zM208.35 416.54h1.19v5.87h-1.19zM99.78 422.06h1.19v5.87h-1.19zM104.83 422.06h1.19v5.87h-1.19zM108.20 422.06h1.19v5.87h-1.19zM135.13 422.06h1.19v5.87h-1.19zM143.54 422.06h1.19v5.87h-1.19zM162.06 422.06h1.19v5.87h-1.19zM78.74 427.58h1.19v5.87h-1.19zM83.79 427.58h1.19v5.87h-1.19zM119.98 427.58h1.19v5.87h-1.19zM121.66 427.58h1.19v5.87h-1.19zM124.19 427.58h1.19v5.87h-1.19zM157.85 427.58h1.19v5.87h-1.19zM167.11 427.58h1.19v5.87h-1.19zM84.63 433.10h1.19v5.87h-1.19zM152.80 433.10h1.19v5.87h-1.19zM196.56 433.10h1.19v5.87h-1.19zM76.22 438.61h1.19v5.87h-1.19zM93.05 438.61h1.19v5.87h-1.19zM95.57 438.61h1.19v5.87h-1.19zM97.26 438.61h1.19v5.87h-1.19zM135.97 438.61h1.19v5.87h-1.19zM142.70 438.61h1.19v5.87h-1.19zM146.07 438.61h1.19v5.87h-1.19zM70.32 444.13h1.19v5.87h-1.19zM88.84 444.13h1.19v5.87h-1.19zM130.08 444.13h1.19v5.87h-1.19zM132.60 444.13h1.19v5.87h-1.19zM151.12 444.13h1.19v5.87h-1.19zM165.42 444.13h1.19v5.87h-1.19zM166.27 444.13h1.19v5.87h-1.19zM187.31 449.65h1.19v5.87h-1.19zM201.61 449.65h1.19v5.87h-1.19zM226.02 449.65h1.19v5.87h-1.19zM229.39 449.65h1.19v5.87h-1.19zM244.53 449.65h1.19v5.87h-1.19zM247.06 449.65h1.19v5.87h-1.19zM256.32 449.65h1.19v5.87h-1.19zM207.50 455.17h1.19v5.87h-1.19zM242.85 455.17h1.19v5.87h-1.19zM251.27 455.17h1.19v5.87h-1.19zM198.25 460.68h1.19v5.87h-1.19zM203.30 460.68h1.19v5.87h-1.19zM221.81 460.68h1.19v5.87h-1.19zM230.23 460.68h1.19v5.87h-1.19z"/>
<path fill="#f2c0c0" d="M106.51 306.20h1.19v5.87h-1.19zM137.65 306.20h1.19v5.87h-1.19zM218.45 306.20h1.19v5.87h-1.19zM227.70 306.20h1.19v5.87h-1.19zM242.85 306.20h1.19v5.87h-1.19zM244.53 306.20h1.19v5.87h-1.19zM171.32 311.72h1.19v5.87h-1.19zM187.31 311.72h1.19v5.87h-1.19zM199.09 311.72h1.19v5.87h-1.19zM225.18 311.72h1.19v5.87h-1.19zM143.54 317.23h1.19v5.87h-1.19zM162.90 317.23h1.19v5.87h-1.19zM174.68 317.23h1.19v5.87h-1.19zM192.36 317.23h1.19v5.87h-1.19zM220.13 317.23h1.19v5.87h-1.19zM225.18 317.23h1.19v5.87h-1.19zM197.41 322.75h1.19v5.87h-1.19zM226.02 322.75h1.19v5.87h-1.19zM255.48 322.75h1.19v5.87h-1.19zM142.70 328.27h1.19v5.87h-1.19zM188.99 328.27h1.19v5.87h-1.19zM230.23 328.27h1.19v5.87h-1.19zM238.64 328.27h1.19v5.87h-1.19zM147.75 333.79h1.19v5.87h-1.19zM172.16 333.79h1.19v5.87h-1.19zM192.36 333.79h1.19v5.87h-1.19zM210.03 333.79h1.19v5.87h-1.19zM105.67 339.30h1.19v5.87h-1.19zM107.35 339.30h1.19v5.87h-1.19zM124.19 339.30h1.19v5.87h-1.19zM143.54 339.30h1.19v5.87h-1.19zM152.80 339.30h1.19v5.87h-1.19zM169.63 339.30h1.19v5.87h-1.19zM231.07 339.30h1.19v5.87h-1.19zM103.99 344.82h1.19v5.87h-1.19zM129.24 344.82h1.19v5.87h-1.19zM247.90 344.82h1.19v5.87h-1.19zM253.79 344.82h1.19v5.87h-1.19zM203.30 350.34h1.19v5.87h-1.19zM233.59 350.34h1.19v5.87h-1.19zM237.80 350.34h1.19v5.87h-1.19zM137.65 355.86h1.19v5.87h-1.19zM170.47 355.86h1.19v5.87h-1.19zM197.41 355.86h1.19v5.87h-1.19zM210.03 355.86h1.19v5.87h-1.19zM151.12 361.37h1.19v5.87h-1.19zM176.37 361.37h1.19v5.87h-1.19zM218.45 361.37h1.19v5.87h-1.19zM219.29 361.37h1.19v5.87h-1.19zM222.65 361.37h1.19v5.87h-1.19zM236.96 361.37h1.19v5.87h-1.19zM247.06 361.37h1.19v5.87h-1.19zM97.26 366.89h1.19v5.87h-1.19zM167.11 366.89h1.19v5.87h-1.19zM173.84 366.89h1.19v5.87h-1.19zM178.05 366.89h1.19v5.87h-1.19zM183.94 366.89h1.19v5.87h-1.19zM190.67 366.89h1.19v5.87h-1.19zM246.22 366.89h1.19v5.87h-1.19zM74.53 372.41h1.19v5.87h-1.19zM108.20 372.41h1.19v5.87h-1.19zM200.77 372.41h1.19v5.87h-1.19zM228.54 372.41h1.19v5.87h-1.19zM230.23 372.41h1.19v5.87h-1.19zM247.06 372.41h1.19v5.87h-1.19zM115.77 377.92h1.19v5.87h-1.19zM183.94 377.92h1.19v5.87h-1.19zM210.03 377.92h1.19v5.87h-1.19zM252.11 377.92h1.19v5.87h-1.19zM134.29 383.44h1.19v5.87h-1.19zM156.17 383.44h1.19v5.87h-1.19zM236.12 383.44h1.19v5.87h-1.19zM241.17 383.44h1.19v5.87h-1.19zM220.97 388.96h1.19v5.87h-1.19zM221.81 388.96h1.19v5.87h-1.19zM224.34 388.96h1.19v5.87h-1.19zM230.23 388.96h1.19v5.87h-1.19zM250.43 388.96h1.19v5.87h-1.19zM255.48 388.96h1.19v5.87h-1.19zM86.32 394.48h1.19v5.87h-1.19zM193.20 394.48h1.19v5.87h-1.19zM194.88 394.48h1.19v5.87h-1.19zM217.60 394.48h1.19v5.87h-1.19zM237.80 394.48h1.19v5.87h-1.19zM252.95 394.48h1.19v5.87h-1.19zM150.28 399.99h1.19v5.87h-1.19zM206.66 399.99h1.19v5.87h-1.19zM210.87 399.99h1.19v5.87h-1.19zM213.40 399.99h1.19v5.87h-1.19zM248.74 399.99h1.19v5.87h-1.19zM257.16 399.99h1.19v5.87h-1.19zM104.83 405.51h1.19v5.87h-1.19zM178.05 405.51h1.19v5.87h-1.19zM204.14 405.51h1.19v5.87h-1.19zM215.92 405.51h1.19v5.87h-1.19zM227.70 405.51h1.19v5.87h-1.19zM247.06 405.51h1.19v5.87h-1.19zM254.63 405.51h1.19v5.87h-1.19zM255.48 405.51h1.19v5.87h-1.19zM190.67 411.03h1.19v5.87h-1.19zM233.59 411.03h1.19v5.87h-1.19zM237.80 411.03h1.19v5.87h-1.19zM252.95 411.03h1.19v5.87h-1.19zM257.16 411.03h1.19v5.87h-1.19zM68.64 416.54h1.19v5.87h-1.19zM105.67 416.54h1.19v5.87h-1.19zM114.93 416.54h1.19v5.87h-1.19zM212.55 416.54h1.19v5.87h-1.19zM242.01 416.54h1.19v5.87h-1.19zM256.32 416.54h1.19v5.87h-1.19zM226.02 422.06h1.19v5.87h-1.19zM256.32 422.06h1.19v5.87h-1.19zM116.61 427.58h1.19v5.87h-1.19zM201.61 427.58h1.19v5.87h-1.19zM220.97 427.58h1.19v5.87h-1.19zM234.44 427.58h1.19v5.87h-1.19zM236.96 427.58h1.19v5.87h-1.19zM93.89 433.10h1.19v5.87h-1.19zM103.99 433.10h1.19v5.87h-1.19zM104.83 433.10h1.19v5.87h-1.19zM242.01 433.10h1.19v5.87h-1.19zM248.74 433.10h1.19v5.87h-1.19zM110.72 438.61h1.19v5.87h-1.19zM121.66 438.61h1.19v5.87h-1.19zM185.62 438.61h1.19v5.87h-1.19zM200.77 438.61h1.19v5.87h-1.19zM219.29 438.61h1.19v5.87h-1.19zM222.65 438.61h1.19v5.87h-1.19zM232.75 438.61h1.19v5.87h-1.19zM238.64 438.61h1.19v5.87h-1.19zM244.53 438.61h1.19v5.87h-1.19zM111.56 444.13h1.19v5.87h-1.19zM184.78 444.13h1.19v5.87h-1.19zM218.45 444.13h1.19v5.87h-1.19zM227.70 444.13h1.19v5.87h-1.19zM255.48 444.13h1.19v5.87h-1.19zM70.32 449.65h1.19v5.87h-1.19zM101.46 449.65h1.19v5.87h-1.19zM105.67 449.65h1.19v5.87h-1.19zM123.35 449.65h1.19v5.87h-1.19zM130.92 449.65h1.19v5.87h-1.19zM161.22 449.65h1.19v5.87h-1.19zM172.16 449.65h1.19v5.87h-1.19zM188.15 449.65h1.19v5.87h-1.19zM198.25 449.65h1.19v5.87h-1.19zM78.74 455.17h1.19v5.87h-1.19zM91.36 455.17h1.19v5.87h-1.19zM98.10 455.17h1.19v5.87h-1.19zM118.30 455.17h1.19v5.87h-1.19zM134.29 455.17h1.19v5.87h-1.19zM176.37 455.17h1.19v5.87h-1.19zM179.73 455.17h1.19v5.87h-1.19zM88.00 460.68h1.19v5.87h-1.19zM131.76 460.68h1.19v5.87h-1.19zM135.13 460.68h1.19v5.87h-1.19zM151.12 460.68h1.19v5.87h-1.19zM164.58 460.68h1.19v5.87h-1.19zM167.95 460.68h1.19v5.87h-1.19zM171.32 460.68h1.19v5.87h-1.19zM192.36 460.68h1.19v5.87h-1.19zM207.50 460.68h1.19v5.87h-1.19z"/>
<path fill="#b6b6dc" d="M79.58 306.20h1.19v5.87h-1.19zM89.68 306.20h1.19v5.87h-1.19zM145.23 306.20h1.19v5.87h-1.19zM153.64 306.20h1.19v5.87h-1.19zM79.58 311.72h1.19v5.87h-1.19zM92.21 311.72h1.19v5.87h-1.19zM103.15 311.72h1.19v5.87h-1.19zM71.17 317.23h1.19v5.87h-1.19zM182.26 317.23h1.19v5.87h-1.19zM214.24 317.23h1.19v5.87h-1.19zM109.88 322.75h1.19v5.87h-1.19zM137.65 322.75h1.19v5.87h-1.19zM151.96 322.75h1.19v5.87h-1.19zM135.97 328.27h1.19v5.87h-1.19zM157.85 328.27h1.19v5.87h-1.19zM167.95 328.27h1.19v5.87h-1.19zM100.62 333.79h1.19v5.87h-1.19zM108.20 333.79h1.19v5.87h-1.19zM114.09 333.79h1.19v5.87h-1.19zM133.44 333.79h1.19v5.87h-1.19zM140.18 333.79h1.19v5.87h-1.19zM145.23 333.79h1.19v5.87h-1.19zM154.48 333.79h1.19v5.87h-1.19zM169.63 333.79h1.19v5.87h-1.19zM146.91 339.30h1.19v5.87h-1.19zM90.52 344.82h1.19v5.87h-1.19zM112.40 344.82h1.19v5.87h-1.19zM134.29 344.82h1.19v5.87h-1.19zM204.98 344.82h1.19v5.87h-1.19zM68.64 350.34h1.19v5.87h-1.19zM103.15 350.34h1.19v5.87h-1.19zM169.63 350.34h1.19v5.87h-1.19zM75.37 355.86h1.19v5.87h-1.19zM85.47 355.86h1.19v5.87h-1.19zM89.68 355.86h1.19v5.87h-1.19zM93.89 355.86h1.19v5.87h-1.19zM168.79 355.86h1.19v5.87h-1.19zM180.57 355.86h1.19v5.87h-1.19zM115.77 361.37h1.19v5.87h-1.19zM133.44 361.37h1.19v5.87h-1.19zM142.70 361.37h1.19v5.87h-1.19zM145.23 361.37h1.19v5.87h-1.19zM87.16 366.89h1.19v5.87h-1.19zM182.26 366.89h1.19v5.87h-1.19zM82.11 372.41h1.19v5.87h-1.19zM126.71 372.41h1.19v5.87h-1.19zM130.92 372.41h1.19v5.87h-1.19zM75.37 377.92h1.19v5.87h-1.19zM130.92 377.92h1.19v5.87h-1.19zM134.29 377.92h1.19v5.87h-1.19zM155.33 377.92h1.19v5.87h-1.19zM133.44 383.44h1.19v5.87h-1.19zM139.34 383.44h1.19v5.87h-1.19zM169.63 383.44h1.19v5.87h-1.19zM80.42 388.96h1.19v5.87h-1.19zM142.70 388.96h1.19v5.87h-1.19zM162.06 388.96h1.19v5.87h-1.19zM181.42 388.96h1.19v5.87h-1.19zM82.11 394.48h1.19v5.87h-1.19zM88.84 394.48h1.19v5.87h-1.19zM98.10 394.48h1.19v5.87h-1.19zM98.94 394.48h1.19v5.87h-1.19zM119.14 394.48h1.19v5.87h-1.19zM122.50 394.48h1.19v5.87h-1.19zM146.91 394.48h1.19v5.87h-1.19zM162.90 394.48h1.19v5.87h-1.19zM200.77 394.48h1.19v5.87h-1.19zM71.17 399.99h1.19v5.87h-1.19zM126.71 399.99h1.19v5.87h-1.19zM160.38 399.99h1.19v5.87h-1.19zM69.48 405.51h1.19v5.87h-1.19zM97.26 405.51h1.19v5.87h-1.19zM144.38 405.51h1.19v5.87h-1.19zM146.91 405.51h1.19v5.87h-1.19zM162.90 405.51h1.19v5.87h-1.19zM189.83 405.51h1.19v5.87h-1.19zM90.52 411.03h1.19v5.87h-1.19zM92.21 411.03h1.19v5.87h-1.19zM119.98 411.03h1.19v5.87h-1.19zM151.96 411.03h1.19v5.87h-1.19zM160.38 411.03h1.19v5.87h-1.19zM205.82 411.03h1.19v5.87h-1.19zM83.79 416.54h1.19v5.87h-1.19zM84.63 416.54h1.19v5.87h-1.19zM119.14 416.54h1.19v5.87h-1.19zM121.66 416.54h1.19v5.87h-1.19zM141.02 416.54h1.19v5.87h-1.19zM143.54 416.54h1.19v5.87h-1.19zM145.23 416.54h1.19v5.87h-1.19zM146.91 416.54h1.19v5.87h-1.19zM180.57 416.54h1.19v5.87h-1.19zM181.42 416.54h1.19v5.87h-1.19zM90.52 422.06h1.19v5.87h-1.19zM146.91 422.06h1.19v5.87h-1.19zM96.41 427.58h1.19v5.87h-1.19zM108.20 427.58h1.19v5.87h-1.19zM109.88 427.58h1.19v5.87h-1.19zM123.35 427.58h1.19v5.87h-1.19zM146.91 427.58h1.19v5.87h-1.19zM79.58 433.10h1.19v5.87h-1.19zM122.50 433.10h1.19v5.87h-1.19zM167.95 433.10h1.19v5.87h-1.19zM197.41 433.10h1.19v5.87h-1.19zM69.48 438.61h1.19v5.87h-1.19zM145.23 438.61h1.19v5.87h-1.19zM155.33 438.61h1.19v5.87h-1.19zM198.25 438.61h1.19v5.87h-1.19zM67.80 444.13h1.19v5.87h-1.19zM72.01 444.13h1.19v5.87h-1.19zM79.58 444.13h1.19v5.87h-1.19zM93.89 444.13h1.19v5.87h-1.19zM145.23 444.13h1.19v5.87h-1.19zM147.75 444.13h1.19v5.87h-1.19zM158.69 444.13h1.19v5.87h-1.19zM159.53 444.13h1.19v5.87h-1.19zM189.83 444.13h1.19v5.87h-1.19zM158.69 449.65h1.19v5.87h-1.19zM249.58 449.65h1.19v5.87h-1.19zM158.69 455.17h1.19v5.87h-1.19zM182.26 455.17h1.19v5.87h-1.19zM191.51 455.17h1.19v5.87h-1.19zM212.55 455.17h1.19v5.87h-1.19zM229.39 455.17h1.19v5.87h-1.19zM241.17 455.17h1.19v5.87h-1.19zM217.60 460.68h1.19v5.87h-1.19zM229.39 460.68h1.19v5.87h-1.19zM236.96 460.68h1.19v5.87h-1.19zM237.80 460.68h1.19v5.87h-1.19zM246.22 460.68h1.19v5.87h-1.19zM252.11 460.68h1.19v5.87h-1.19z"/>
<path fill="#f1b7b7" d="M173.84 306.20h1.19v5.87h-1.19zM131.76 311.72h1.19v5.87h-1.19zM220.13 311.72h1.19v5.87h-1.19zM252.11 311.72h1.19v5.87h-1.19zM183.94 317.23h1.19v5.87h-1.19zM188.99 317.23h1.19v5.87h-1.19zM241.17 317.23h1.19v5.87h-1.19zM246.22 317.23h1.19v5.87h-1.19zM249.58 317.23h1.19v5.87h-1.19zM257.16 317.23h1.19v5.87h-1.19zM75.37 322.75h1.19v5.87h-1.19zM146.07 322.75h1.19v5.87h-1.19zM221.81 322.75h1.19v5.87h-1.19zM132.60 328.27h1.19v5.87h-1.19zM204.14 328.27h1.19v5.87h-1.19zM224.34 328.27h1.19v5.87h-1.19zM233.59 328.27h1.19v5.87h-1.19zM242.85 328.27h1.19v5.87h-1.19zM247.06 328.27h1.19v5.87h-1.19zM252.95 328.27h1.19v5.87h-1.19zM253.79 328.27h1.19v5.87h-1.19zM188.15 333.79h1.19v5.87h-1.19zM204.14 333.79h1.19v5.87h-1.19zM219.29 333.79h1.19v5.87h-1.19zM224.34 333.79h1.19v5.87h-1.19zM253.79 333.79h1.19v5.87h-1.19zM104.83 339.30h1.19v5.87h-1.19zM233.59 339.30h1.19v5.87h-1.19zM238.64 339.30h1.19v5.87h-1.19zM251.27 339.30h1.19v5.87h-1.19zM252.11 339.30h1.19v5.87h-1.19zM76.22 344.82h1.19v5.87h-1.19zM185.62 344.82h1.19v5.87h-1.19zM200.77 344.82h1.19v5.87h-1.19zM216.76 344.82h1.19v5.87h-1.19zM202.45 350.34h1.19v5.87h-1.19zM227.70 350.34h1.19v5.87h-1.19zM219.29 355.86h1.19v5.87h-1.19zM128.39 361.37h1.19v5.87h-1.19zM154.48 361.37h1.19v5.87h-1.19zM212.55 361.37h1.19v5.87h-1.19zM241.17 361.37h1.19v5.87h-1.19zM250.43 361.37h1.19v5.87h-1.19zM139.34 366.89h1.19v5.87h-1.19zM170.47 366.89h1.19v5.87h-1.19zM200.77 366.89h1.19v5.87h-1.19zM210.03 366.89h1.19v5.87h-1.19zM228.54 366.89h1.19v5.87h-1.19zM230.23 366.89h1.19v5.87h-1.19zM235.28 366.89h1.19v5.87h-1.19zM252.95 366.89h1.19v5.87h-1.19zM256.32 366.89h1.19v5.87h-1.19zM175.52 372.41h1.19v5.87h-1.19zM185.62 372.41h1.19v5.87h-1.19zM190.67 372.41h1.19v5.87h-1.19zM195.72 372.41h1.19v5.87h-1.19zM199.09 372.41h1.19v5.87h-1.19zM219.29 372.41h1.19v5.87h-1.19zM247.90 372.41h1.19v5.87h-1.19zM248.74 372.41h1.19v5.87h-1.19zM250.43 372.41h1.19v5.87h-1.19zM251.27 372.41h1.19v5.87h-1.19zM250.43 377.92h1.19v5.87h-1.19zM254.63 377.92h1.19v5.87h-1.19zM86.32 383.44h1.19v5.87h-1.19zM97.26 383.44h1.19v5.87h-1.19zM149.43 383.44h1.19v5.87h-1.19zM188.15 383.44h1.19v5.87h-1.19zM245.38 383.44h1.19v5.87h-1.19zM134.29 388.96h1.19v5.87h-1.19zM184.78 388.96h1.19v5.87h-1.19zM210.87 388.96h1.19v5.87h-1.19zM213.40 388.96h1.19v5.87h-1.19zM220.13 388.96h1.19v5.87h-1.19zM236.96 388.96h1.19v5.87h-1.19zM240.33 388.96h1.19v5.87h-1.19zM242.01 388.96h1.19v5.87h-1.19zM248.74 388.96h1.19v5.87h-1.19zM147.75 394.48h1.19v5.87h-1.19zM204.14 394.48h1.19v5.87h-1.19zM233.59 394.48h1.19v5.87h-1.19zM238.64 394.48h1.19v5.87h-1.19zM88.00 399.99h1.19v5.87h-1.19zM183.94 399.99h1.19v5.87h-1.19zM211.71 399.99h1.19v5.87h-1.19zM238.64 399.99h1.19v5.87h-1.19zM239.48 399.99h1.19v5.87h-1.19zM162.06 405.51h1.19v5.87h-1.19zM168.79 405.51h1.19v5.87h-1.19zM195.72 405.51h1.19v5.87h-1.19zM214.24 405.51h1.19v5.87h-1.19zM224.34 405.51h1.19v5.87h-1.19zM240.33 405.51h1.19v5.87h-1.19zM252.11 405.51h1.19v5.87h-1.19zM226.86 411.03h1.19v5.87h-1.19zM235.28 411.03h1.19v5.87h-1.19zM243.69 411.03h1.19v5.87h-1.19zM247.90 411.03h1.19v5.87h-1.19zM255.48 411.03h1.19v5.87h-1.19zM183.10 416.54h1.19v5.87h-1.19zM204.14 416.54h1.19v5.87h-1.19zM210.03 416.54h1.19v5.87h-1.19zM109.04 422.06h1.19v5.87h-1.19zM137.65 422.06h1.19v5.87h-1.19zM208.35 422.06h1.19v5.87h-1.19zM215.92 422.06h1.19v5.87h-1.19zM254.63 422.06h1.19v5.87h-1.19zM191.51 427.58h1.19v5.87h-1.19zM209.19 427.58h1.19v5.87h-1.19zM210.03 427.58h1.19v5.87h-1.19zM213.40 427.58h1.19v5.87h-1.19zM224.34 427.58h1.19v5.87h-1.19zM243.69 427.58h1.19v5.87h-1.19zM178.05 433.10h1.19v5.87h-1.19zM217.60 433.10h1.19v5.87h-1.19zM219.29 433.10h1.19v5.87h-1.19zM231.07 433.10h1.19v5.87h-1.19zM235.28 433.10h1.19v5.87h-1.19zM241.17 433.10h1.19v5.87h-1.19zM245.38 433.10h1.19v5.87h-1.19zM109.88 438.61h1.19v5.87h-1.19zM197.41 438.61h1.19v5.87h-1.19zM199.09 438.61h1.19v5.87h-1.19zM204.98 438.61h1.19v5.87h-1.19zM239.48 438.61h1.19v5.87h-1.19zM242.01 438.61h1.19v5.87h-1.19zM243.69 438.61h1.19v5.87h-1.19zM183.10 444.13h1.19v5.87h-1.19zM221.81 444.13h1.19v5.87h-1.19zM249.58 444.13h1.19v5.87h-1.19zM252.95 444.13h1.19v5.87h-1.19zM82.11 449.65h1.19v5.87h-1.19zM86.32 449.65h1.19v5.87h-1.19zM92.21 449.65h1.19v5.87h-1.19zM103.99 449.65h1.19v5.87h-1.19zM111.56 449.65h1.19v5.87h-1.19zM135.97 449.65h1.19v5.87h-1.19zM151.12 449.65h1.19v5.87h-1.19zM157.85 449.65h1.19v5.87h-1.19zM88.84 455.17h1.19v5.87h-1.19zM109.04 455.17h1.19v5.87h-1.19zM119.98 455.17h1.19v5.87h-1.19zM171.32 455.17h1.19v5.87h-1.19zM185.62 455.17h1.19v5.87h-1.19zM188.99 455.17h1.19v5.87h-1.19zM190.67 455.17h1.19v5.87h-1.19zM68.64 460.68h1.19v5.87h-1.19zM71.17 460.68h1.19v5.87h-1.19zM76.22 460.68h1.19v5.87h-1.19zM136.81 460.68h1.19v5.87h-1.19zM139.34 460.68h1.19v5.87h-1.19zM146.07 460.68h1.19v5.87h-1.19zM183.10 460.68h1.19v5.87h-1.19z"/>
<path fill="#efaeae" d="M204.98 306.20h1.19v5.87h-1.19zM252.95 306.20h1.19v5.87h-1.19zM204.14 311.72h1.19v5.87h-1.19zM228.54 311.72h1.19v5.87h-1.19zM234.44 311.72h1.19v5.87h-1.19zM167.95 317.23h1.19v5.87h-1.19zM179.73 317.23h1.19v5.87h-1.19zM206.66 317.23h1.19v5.87h-1.19zM212.55 317.23h1.19v5.87h-1.19zM215.92 317.23h1.19v5.87h-1.19zM244.53 317.23h1.19v5.87h-1.19zM247.06 317.23h1.19v5.87h-1.19zM250.43 317.23h1.19v5.87h-1.19zM254.63 317.23h1.19v5.87h-1.19zM249.58 322.75h1.19v5.87h-1.19zM176.37 328.27h1.19v5.87h-1.19zM237.80 328.27h1.19v5.87h-1.19zM241.17 328.27h1.19v5.87h-1.19zM218.45 333.79h1.19v5.87h-1.19zM233.59 333.79h1.19v5.87h-1.19zM210.03 339.30h1.19v5.87h-1.19zM239.48 339.30h1.19v5.87h-1.19zM242.01 339.30h1.19v5.87h-1.19zM149.43 344.82h1.19v5.87h-1.19zM217.60 344.82h1.19v5.87h-1.19zM218.45 344.82h1.19v5.87h-1.19zM248.74 344.82h1.19v5.87h-1.19zM181.42 350.34h1.19v5.87h-1.19zM197.41 350.34h1.19v5.87h-1.19zM220.13 350.34h1.19v5.87h-1.19zM236.12 350.34h1.19v5.87h-1.19zM244.53 350.34h1.19v5.87h-1.19zM249.58 350.34h1.19v5.87h-1.19zM114.93 355.86h1.19v5.87h-1.19zM167.95 355.86h1.19v5.87h-1.19zM183.10 355.86h1.19v5.87h-1.19zM217.60 355.86h1.19v5.87h-1.19zM231.07 355.86h1.19v5.87h-1.19zM232.75 355.86h1.19v5.87h-1.19zM257.16 355.86h1.19v5.87h-1.19zM227.70 361.37h1.19v5.87h-1.19zM231.91 361.37h1.19v5.87h-1.19zM226.02 366.89h1.19v5.87h-1.19zM232.75 366.89h1.19v5.87h-1.19zM238.64 366.89h1.19v5.87h-1.19zM239.48 366.89h1.19v5.87h-1.19zM247.06 366.89h1.19v5.87h-1.19zM253.79 366.89h1.19v5.87h-1.19zM151.12 372.41h1.19v5.87h-1.19zM191.51 372.41h1.19v5.87h-1.19zM214.24 372.41h1.19v5.87h-1.19zM220.97 372.41h1.19v5.87h-1.19zM237.80 372.41h1.19v5.87h-1.19zM242.85 372.41h1.19v5.87h-1.19zM246.22 372.41h1.19v5.87h-1.19zM257.16 372.41h1.19v5.87h-1.19zM195.72 377.92h1.19v5.87h-1.19zM226.86 377.92h1.19v5.87h-1.19zM252.95 377.92h1.19v5.87h-1.19zM126.71 383.44h1.19v5.87h-1.19zM207.50 383.44h1.19v5.87h-1.19zM218.45 383.44h1.19v5.87h-1.19zM228.54 383.44h1.19v5.87h-1.19zM207.50 388.96h1.19v5.87h-1.19zM223.49 388.96h1.19v5.87h-1.19zM233.59 388.96h1.19v5.87h-1.19zM238.64 388.96h1.19v5.87h-1.19zM247.90 388.96h1.19v5.87h-1.19zM254.63 388.96h1.19v5.87h-1.19zM256.32 388.96h1.19v5.87h-1.19zM76.22 394.48h1.19v5.87h-1.19zM189.83 394.48h1.19v5.87h-1.19zM219.29 394.48h1.19v5.87h-1.19zM226.86 394.48h1.19v5.87h-1.19zM244.53 394.48h1.19v5.87h-1.19zM246.22 394.48h1.19v5.87h-1.19zM252.11 394.48h1.19v5.87h-1.19zM256.32 394.48h1.19v5.87h-1.19zM192.36 399.99h1.19v5.87h-1.19zM231.91 399.99h1.19v5.87h-1.19zM250.43 399.99h1.19v5.87h-1.19zM183.10 405.51h1.19v5.87h-1.19zM194.88 405.51h1.19v5.87h-1.19zM197.41 405.51h1.19v5.87h-1.19zM199.09 405.51h1.19v5.87h-1.19zM204.98 405.51h1.19v5.87h-1.19zM238.64 405.51h1.19v5.87h-1.19zM193.20 411.03h1.19v5.87h-1.19zM214.24 411.03h1.19v5.87h-1.19zM222.65 411.03h1.19v5.87h-1.19zM231.91 411.03h1.19v5.87h-1.19zM251.27 411.03h1.19v5.87h-1.19zM252.11 411.03h1.19v5.87h-1.19zM253.79 411.03h1.19v5.87h-1.19zM184.78 416.54h1.19v5.87h-1.19zM206.66 416.54h1.19v5.87h-1.19zM210.87 416.54h1.19v5.87h-1.19zM231.07 416.54h1.19v5.87h-1.19zM234.44 416.54h1.19v5.87h-1.19zM247.06 416.54h1.19v5.87h-1.19zM252.11 416.54h1.19v5.87h-1.19zM194.04 422.06h1.19v5.87h-1.19zM194.88 422.06h1.19v5.87h-1.19zM231.07 422.06h1.19v5.87h-1.19zM234.44 422.06h1.19v5.87h-1.19zM244.53 422.06h1.19v5.87h-1.19zM247.90 422.06h1.19v5.87h-1.19zM211.71 427.58h1.19v5.87h-1.19zM212.55 427.58h1.19v5.87h-1.19zM219.29 427.58h1.19v5.87h-1.19zM232.75 427.58h1.19v5.87h-1.19zM241.17 427.58h1.19v5.87h-1.19zM245.38 427.58h1.19v5.87h-1.19zM106.51 433.10h1.19v5.87h-1.19zM222.65 433.10h1.19v5.87h-1.19zM228.54 433.10h1.19v5.87h-1.19zM166.27 438.61h1.19v5.87h-1.19zM179.73 438.61h1.19v5.87h-1.19zM204.14 438.61h1.19v5.87h-1.19zM207.50 438.61h1.19v5.87h-1.19zM252.11 438.61h1.19v5.87h-1.19zM114.93 444.13h1.19v5.87h-1.19zM204.98 444.13h1.19v5.87h-1.19zM219.29 444.13h1.19v5.87h-1.19zM231.07 444.13h1.19v5.87h-1.19zM242.85 444.13h1.19v5.87h-1.19zM248.74 444.13h1.19v5.87h-1.19zM252.11 444.13h1.19v5.87h-1.19zM76.22 449.65h1.19v5.87h-1.19zM77.90 449.65h1.19v5.87h-1.19zM82.95 449.65h1.19v5.87h-1.19zM89.68 449.65h1.19v5.87h-1.19zM150.28 449.65h1.19v5.87h-1.19zM102.31 455.17h1.19v5.87h-1.19zM110.72 455.17h1.19v5.87h-1.19zM126.71 455.17h1.19v5.87h-1.19zM139.34 455.17h1.19v5.87h-1.19zM186.46 455.17h1.19v5.87h-1.19zM67.80 460.68h1.19v5.87h-1.19zM95.57 460.68h1.19v5.87h-1.19zM97.26 460.68h1.19v5.87h-1.19zM103.15 460.68h1.19v5.87h-1.19zM134.29 460.68h1.19v5.87h-1.19zM150.28 460.68h1.19v5.87h-1.19zM202.45 460.68h1.19v5.87h-1.19z"/>
<path fill="#adadd7" d="M119.98 311.72h1.19v5.87h-1.19zM156.17 311.72h1.19v5.87h-1.19zM205.82 311.72h1.19v5.87h-1.19zM97.26 317.23h1.19v5.87h-1.19zM98.94 317.23h1.19v5.87h-1.19zM135.13 317.23h1.19v5.87h-1.19zM138.49 317.23h1.19v5.87h-1.19zM140.18 317.23h1.19v5.87h-1.19zM152.80 317.23h1.19v5.87h-1.19zM155.33 317.23h1.19v5.87h-1.19zM79.58 322.75h1.19v5.87h-1.19zM119.14 322.75h1.19v5.87h-1.19zM125.87 322.75h1.19v5.87h-1.19zM126.71 322.75h1.19v5.87h-1.19zM135.13 328.27h1.19v5.87h-1.19zM144.38 328.27h1.19v5.87h-1.19zM79.58 333.79h1.19v5.87h-1.19zM94.73 333.79h1.19v5.87h-1.19zM112.40 333.79h1.19v5.87h-1.19zM159.53 333.79h1.19v5.87h-1.19zM70.32 339.30h1.19v5.87h-1.19zM90.52 339.30h1.19v5.87h-1.19zM145.23 339.30h1.19v5.87h-1.19zM117.45 344.82h1.19v5.87h-1.19zM120.82 344.82h1.19v5.87h-1.19zM113.25 350.34h1.19v5.87h-1.19zM180.57 350.34h1.19v5.87h-1.19zM72.01 355.86h1.19v5.87h-1.19zM83.79 355.86h1.19v5.87h-1.19zM125.87 355.86h1.19v5.87h-1.19zM155.33 355.86h1.19v5.87h-1.19zM71.17 361.37h1.19v5.87h-1.19zM89.68 361.37h1.19v5.87h-1.19zM96.41 361.37h1.19v5.87h-1.19zM137.65 361.37h1.19v5.87h-1.19zM205.82 361.37h1.19v5.87h-1.19zM113.25 366.89h1.19v5.87h-1.19zM119.98 366.89h1.19v5.87h-1.19zM110.72 372.41h1.19v5.87h-1.19zM142.70 372.41h1.19v5.87h-1.19zM170.47 372.41h1.19v5.87h-1.19zM94.73 377.92h1.19v5.87h-1.19zM78.74 383.44h1.19v5.87h-1.19zM88.84 383.44h1.19v5.87h-1.19zM125.87 383.44h1.19v5.87h-1.19zM110.72 388.96h1.19v5.87h-1.19zM129.24 388.96h1.19v5.87h-1.19zM149.43 388.96h1.19v5.87h-1.19zM154.48 388.96h1.19v5.87h-1.19zM157.85 388.96h1.19v5.87h-1.19zM71.17 394.48h1.19v5.87h-1.19zM108.20 394.48h1.19v5.87h-1.19zM113.25 394.48h1.19v5.87h-1.19zM117.45 394.48h1.19v5.87h-1.19zM125.03 394.48h1.19v5.87h-1.19zM125.87 394.48h1.19v5.87h-1.19zM203.30 394.48h1.19v5.87h-1.19zM131.76 399.99h1.19v5.87h-1.19zM137.65 399.99h1.19v5.87h-1.19zM158.69 399.99h1.19v5.87h-1.19zM162.90 399.99h1.19v5.87h-1.19zM70.32 405.51h1.19v5.87h-1.19zM82.11 405.51h1.19v5.87h-1.19zM88.84 405.51h1.19v5.87h-1.19zM110.72 405.51h1.19v5.87h-1.19zM148.59 405.51h1.19v5.87h-1.19zM157.01 405.51h1.19v5.87h-1.19zM73.69 411.03h1.19v5.87h-1.19zM112.40 411.03h1.19v5.87h-1.19zM112.40 416.54h1.19v5.87h-1.19zM119.98 416.54h1.19v5.87h-1.19zM126.71 416.54h1.19v5.87h-1.19zM140.18 416.54h1.19v5.87h-1.19zM164.58 416.54h1.19v5.87h-1.19zM84.63 422.06h1.19v5.87h-1.19zM93.89 422.06h1.19v5.87h-1.19zM132.60 422.06h1.19v5.87h-1.19zM138.49 422.06h1.19v5.87h-1.19zM164.58 422.06h1.19v5.87h-1.19zM176.37 422.06h1.19v5.87h-1.19zM69.48 427.58h1.19v5.87h-1.19zM82.11 427.58h1.19v5.87h-1.19zM119.14 427.58h1.19v5.87h-1.19zM120.82 427.58h1.19v5.87h-1.19zM154.48 427.58h1.19v5.87h-1.19zM121.66 433.10h1.19v5.87h-1.19zM159.53 433.10h1.19v5.87h-1.19zM72.85 438.61h1.19v5.87h-1.19zM130.92 438.61h1.19v5.87h-1.19zM151.96 438.61h1.19v5.87h-1.19zM90.52 444.13h1.19v5.87h-1.19zM121.66 444.13h1.19v5.87h-1.19zM215.08 444.13h1.19v5.87h-1.19zM124.19 449.65h1.19v5.87h-1.19zM215.08 449.65h1.19v5.87h-1.19zM220.13 449.65h1.19v5.87h-1.19zM234.44 449.65h1.19v5.87h-1.19zM237.80 449.65h1.19v5.87h-1.19zM189.83 455.17h1.19v5.87h-1.19zM210.03 455.17h1.19v5.87h-1.19zM255.48 455.17h1.19v5.87h-1.19zM84.63 460.68h1.19v5.87h-1.19zM254.63 460.68h1.19v5.87h-1.19z"/>
<path fill="#a3a3d2" d="M82.11 306.20h1.19v5.87h-1.19zM152.80 306.20h1.19v5.87h-1.19zM112.40 311.72h1.19v5.87h-1.19zM119.14 311.72h1.19v5.87h-1.19zM155.33 311.72h1.19v5.87h-1.19zM80.42 317.23h1.19v5.87h-1.19zM84.63 317.23h1.19v5.87h-1.19zM100.62 317.23h1.19v5.87h-1.19zM117.45 317.23h1.19v5.87h-1.19zM160.38 317.23h1.19v5.87h-1.19zM215.08 317.23h1.19v5.87h-1.19zM91.36 322.75h1.19v5.87h-1.19zM131.76 322.75h1.19v5.87h-1.19zM145.23 322.75h1.19v5.87h-1.19zM150.28 322.75h1.19v5.87h-1.19zM93.89 328.27h1.19v5.87h-1.19zM119.14 328.27h1.19v5.87h-1.19zM71.17 333.79h1.19v5.87h-1.19zM88.84 333.79h1.19v5.87h-1.19zM104.83 333.79h1.19v5.87h-1.19zM113.25 333.79h1.19v5.87h-1.19zM122.50 333.79h1.19v5.87h-1.19zM146.07 333.79h1.19v5.87h-1.19zM158.69 333.79h1.19v5.87h-1.19zM186.46 333.79h1.19v5.87h-1.19zM189.83 333.79h1.19v5.87h-1.19zM67.80 339.30h1.19v5.87h-1.19zM119.14 339.30h1.19v5.87h-1.19zM91.36 344.82h1.19v5.87h-1.19zM116.61 344.82h1.19v5.87h-1.19zM119.14 344.82h1.19v5.87h-1.19zM133.44 344.82h1.19v5.87h-1.19zM142.70 344.82h1.19v5.87h-1.19zM170.47 344.82h1.19v5.87h-1.19zM236.12 344.82h1.19v5.87h-1.19zM139.34 350.34h1.19v5.87h-1.19zM188.15 350.34h1.19v5.87h-1.19zM136.81 355.86h1.19v5.87h-1.19zM67.80 361.37h1.19v5.87h-1.19zM73.69 361.37h1.19v5.87h-1.19zM110.72 361.37h1.19v5.87h-1.19zM72.01 366.89h1.19v5.87h-1.19zM142.70 366.89h1.19v5.87h-1.19zM158.69 366.89h1.19v5.87h-1.19zM112.40 372.41h1.19v5.87h-1.19zM115.77 372.41h1.19v5.87h-1.19zM133.44 372.41h1.19v5.87h-1.19zM68.64 383.44h1.19v5.87h-1.19zM80.42 383.44h1.19v5.87h-1.19zM93.05 383.44h1.19v5.87h-1.19zM100.62 383.44h1.19v5.87h-1.19zM109.88 388.96h1.19v5.87h-1.19zM205.82 388.96h1.19v5.87h-1.19zM208.35 388.96h1.19v5.87h-1.19zM79.58 394.48h1.19v5.87h-1.19zM130.92 399.99h1.19v5.87h-1.19zM146.91 399.99h1.19v5.87h-1.19zM154.48 399.99h1.19v5.87h-1.19zM210.03 399.99h1.19v5.87h-1.19zM82.95 405.51h1.19v5.87h-1.19zM113.25 405.51h1.19v5.87h-1.19zM119.14 405.51h1.19v5.87h-1.19zM133.44 405.51h1.19v5.87h-1.19zM164.58 405.51h1.19v5.87h-1.19zM201.61 405.51h1.19v5.87h-1.19zM205.82 405.51h1.19v5.87h-1.19zM125.03 411.03h1.19v5.87h-1.19zM181.42 411.03h1.19v5.87h-1.19zM71.17 416.54h1.19v5.87h-1.19zM135.97 416.54h1.19v5.87h-1.19zM154.48 416.54h1.19v5.87h-1.19zM165.42 416.54h1.19v5.87h-1.19zM102.31 422.06h1.19v5.87h-1.19zM202.45 422.06h1.19v5.87h-1.19zM224.34 422.06h1.19v5.87h-1.19zM67.80 427.58h1.19v5.87h-1.19zM125.87 427.58h1.19v5.87h-1.19zM155.33 427.58h1.19v5.87h-1.19zM181.42 427.58h1.19v5.87h-1.19zM67.80 433.10h1.19v5.87h-1.19zM115.77 433.10h1.19v5.87h-1.19zM125.03 433.10h1.19v5.87h-1.19zM147.75 433.10h1.19v5.87h-1.19zM72.01 438.61h1.19v5.87h-1.19zM93.05 444.13h1.19v5.87h-1.19zM162.90 444.13h1.19v5.87h-1.19zM67.80 449.65h1.19v5.87h-1.19zM211.71 449.65h1.19v5.87h-1.19zM230.23 449.65h1.19v5.87h-1.19zM245.38 449.65h1.19v5.87h-1.19zM251.27 449.65h1.19v5.87h-1.19zM200.77 455.17h1.19v5.87h-1.19zM233.59 455.17h1.19v5.87h-1.19zM77.06 460.68h1.19v5.87h-1.19zM209.19 460.68h1.19v5.87h-1.19zM234.44 460.68h1.19v5.87h-1.19z"/>
<path fill="#eda4a4" d="M141.86 306.20h1.19v5.87h-1.19zM176.37 306.20h1.19v5.87h-1.19zM209.19 306.20h1.19v5.87h-1.19zM236.96 306.20h1.19v5.87h-1.19zM254.63 306.20h1.19v5.87h-1.19zM255.48 306.20h1.19v5.87h-1.19zM229.39 311.72h1.19v5.87h-1.19zM247.90 311.72h1.19v5.87h-1.19zM173.00 317.23h1.19v5.87h-1.19zM226.86 317.23h1.19v5.87h-1.19zM132.60 322.75h1.19v5.87h-1.19zM163.74 322.75h1.19v5.87h-1.19zM179.73 322.75h1.19v5.87h-1.19zM183.10 322.75h1.19v5.87h-1.19zM229.39 322.75h1.19v5.87h-1.19zM256.32 322.75h1.19v5.87h-1.19zM193.20 328.27h1.19v5.87h-1.19zM202.45 328.27h1.19v5.87h-1.19zM234.44 328.27h1.19v5.87h-1.19zM240.33 328.27h1.19v5.87h-1.19zM221.81 333.79h1.19v5.87h-1.19zM222.65 333.79h1.19v5.87h-1.19zM255.48 333.79h1.19v5.87h-1.19zM230.23 339.30h1.19v5.87h-1.19zM242.85 339.30h1.19v5.87h-1.19zM226.86 344.82h1.19v5.87h-1.19zM247.06 344.82h1.19v5.87h-1.19zM250.43 344.82h1.19v5.87h-1.19zM190.67 350.34h1.19v5.87h-1.19zM231.07 350.34h1.19v5.87h-1.19zM247.06 350.34h1.19v5.87h-1.19zM252.95 350.34h1.19v5.87h-1.19zM191.51 355.86h1.19v5.87h-1.19zM204.14 355.86h1.19v5.87h-1.19zM214.24 355.86h1.19v5.87h-1.19zM220.13 355.86h1.19v5.87h-1.19zM256.32 355.86h1.19v5.87h-1.19zM77.90 361.37h1.19v5.87h-1.19zM195.72 361.37h1.19v5.87h-1.19zM210.03 361.37h1.19v5.87h-1.19zM247.90 361.37h1.19v5.87h-1.19zM253.79 361.37h1.19v5.87h-1.19zM192.36 366.89h1.19v5.87h-1.19zM204.14 366.89h1.19v5.87h-1.19zM194.04 372.41h1.19v5.87h-1.19zM236.96 372.41h1.19v5.87h-1.19zM243.69 372.41h1.19v5.87h-1.19zM197.41 377.92h1.19v5.87h-1.19zM190.67 383.44h1.19v5.87h-1.19zM226.86 383.44h1.19v5.87h-1.19zM247.90 383.44h1.19v5.87h-1.19zM81.27 388.96h1.19v5.87h-1.19zM101.46 388.96h1.19v5.87h-1.19zM215.08 388.96h1.19v5.87h-1.19zM245.38 394.48h1.19v5.87h-1.19zM256.32 399.99h1.19v5.87h-1.19zM220.97 405.51h1.19v5.87h-1.19zM231.91 405.51h1.19v5.87h-1.19zM236.12 405.51h1.19v5.87h-1.19zM194.88 411.03h1.19v5.87h-1.19zM210.03 411.03h1.19v5.87h-1.19zM219.29 411.03h1.19v5.87h-1.19zM220.13 411.03h1.19v5.87h-1.19zM230.23 416.54h1.19v5.87h-1.19zM240.33 416.54h1.19v5.87h-1.19zM151.96 422.06h1.19v5.87h-1.19zM204.98 427.58h1.19v5.87h-1.19zM230.23 427.58h1.19v5.87h-1.19zM252.95 427.58h1.19v5.87h-1.19zM204.98 433.10h1.19v5.87h-1.19zM225.18 433.10h1.19v5.87h-1.19zM236.96 433.10h1.19v5.87h-1.19zM256.32 433.10h1.19v5.87h-1.19zM182.26 438.61h1.19v5.87h-1.19zM218.45 438.61h1.19v5.87h-1.19zM229.39 438.61h1.19v5.87h-1.19zM233.59 438.61h1.19v5.87h-1.19zM242.85 438.61h1.19v5.87h-1.19zM249.58 438.61h1.19v5.87h-1.19zM106.51 444.13h1.19v5.87h-1.19zM188.15 444.13h1.19v5.87h-1.19zM226.86 444.13h1.19v5.87h-1.19zM242.01 444.13h1.19v5.87h-1.19zM245.38 444.13h1.19v5.87h-1.19zM108.20 449.65h1.19v5.87h-1.19zM141.86 449.65h1.19v5.87h-1.19zM159.53 449.65h1.19v5.87h-1.19zM169.63 449.65h1.19v5.87h-1.19zM107.35 455.17h1.19v5.87h-1.19zM145.23 455.17h1.19v5.87h-1.19zM73.69 460.68h1.19v5.87h-1.19zM81.27 460.68h1.19v5.87h-1.19zM101.46 460.68h1.19v5.87h-1.19zM107.35 460.68h1.19v5.87h-1.19zM118.30 460.68h1.19v5.87h-1.19zM185.62 460.68h1.19v5.87h-1.19zM204.14 460.68h1.19v5.87h-1.19z"/>
<path fill="#9999ce" d="M140.18 306.20h1.19v5.87h-1.19zM100.62 311.72h1.19v5.87h-1.19zM104.83 317.23h1.19v5.87h-1.19zM113.25 317.23h1.19v5.87h-1.19zM157.01 317.23h1.19v5.87h-1.19zM70.32 328.27h1.19v5.87h-1.19zM97.26 328.27h1.19v5.87h-1.19zM112.40 328.27h1.19v5.87h-1.19zM130.92 328.27h1.19v5.87h-1.19zM231.91 328.27h1.19v5.87h-1.19zM119.98 333.79h1.19v5.87h-1.19zM125.03 333.79h1.19v5.87h-1.19zM129.24 333.79h1.19v5.87h-1.19zM226.02 333.79h1.19v5.87h-1.19zM140.18 339.30h1.19v5.87h-1.19zM98.94 344.82h1.19v5.87h-1.19zM72.01 350.34h1.19v5.87h-1.19zM98.94 350.34h1.19v5.87h-1.19zM112.40 350.34h1.19v5.87h-1.19zM92.21 355.86h1.19v5.87h-1.19zM98.94 355.86h1.19v5.87h-1.19zM201.61 355.86h1.19v5.87h-1.19zM125.87 361.37h1.19v5.87h-1.19zM201.61 361.37h1.19v5.87h-1.19zM124.19 366.89h1.19v5.87h-1.19zM137.65 366.89h1.19v5.87h-1.19zM97.26 372.41h1.19v5.87h-1.19zM102.31 372.41h1.19v5.87h-1.19zM119.14 372.41h1.19v5.87h-1.19zM72.01 377.92h1.19v5.87h-1.19zM119.98 377.92h1.19v5.87h-1.19zM120.82 377.92h1.19v5.87h-1.19zM127.55 377.92h1.19v5.87h-1.19zM142.70 377.92h1.19v5.87h-1.19zM138.49 383.44h1.19v5.87h-1.19zM75.37 388.96h1.19v5.87h-1.19zM122.50 388.96h1.19v5.87h-1.19zM91.36 394.48h1.19v5.87h-1.19zM114.09 394.48h1.19v5.87h-1.19zM141.86 394.48h1.19v5.87h-1.19zM119.14 399.99h1.19v5.87h-1.19zM72.01 411.03h1.19v5.87h-1.19zM121.66 411.03h1.19v5.87h-1.19zM146.07 411.03h1.19v5.87h-1.19zM149.43 411.03h1.19v5.87h-1.19zM150.28 411.03h1.19v5.87h-1.19zM78.74 416.54h1.19v5.87h-1.19zM98.10 422.06h1.19v5.87h-1.19zM130.08 422.06h1.19v5.87h-1.19zM100.62 427.58h1.19v5.87h-1.19zM70.32 433.10h1.19v5.87h-1.19zM157.01 433.10h1.19v5.87h-1.19zM157.01 438.61h1.19v5.87h-1.19zM78.74 444.13h1.19v5.87h-1.19zM92.21 444.13h1.19v5.87h-1.19zM133.44 444.13h1.19v5.87h-1.19zM149.43 444.13h1.19v5.87h-1.19zM155.33 444.13h1.19v5.87h-1.19zM231.91 449.65h1.19v5.87h-1.19zM215.08 455.17h1.19v5.87h-1.19zM193.20 460.68h1.19v5.87h-1.19zM220.97 460.68h1.19v5.87h-1.19zM238.64 460.68h1.19v5.87h-1.19zM252.95 460.68h1.19v5.87h-1.19z"/>
<path fill="#eb9a9a" d="M175.52 306.20h1.19v5.87h-1.19zM225.18 306.20h1.19v5.87h-1.19zM237.80 306.20h1.19v5.87h-1.19zM239.48 306.20h1.19v5.87h-1.19zM237.80 317.23h1.19v5.87h-1.19zM252.11 317.23h1.19v5.87h-1.19zM256.32 317.23h1.19v5.87h-1.19zM219.29 322.75h1.19v5.87h-1.19zM199.09 333.79h1.19v5.87h-1.19zM226.86 333.79h1.19v5.87h-1.19zM231.07 333.79h1.19v5.87h-1.19zM256.32 333.79h1.19v5.87h-1.19zM220.97 344.82h1.19v5.87h-1.19zM183.94 350.34h1.19v5.87h-1.19zM246.22 350.34h1.19v5.87h-1.19zM254.63 350.34h1.19v5.87h-1.19zM149.43 355.86h1.19v5.87h-1.19zM218.45 355.86h1.19v5.87h-1.19zM226.86 355.86h1.19v5.87h-1.19zM229.39 355.86h1.19v5.87h-1.19zM244.53 355.86h1.19v5.87h-1.19zM246.22 355.86h1.19v5.87h-1.19zM247.06 355.86h1.19v5.87h-1.19zM74.53 361.37h1.19v5.87h-1.19zM220.97 361.37h1.19v5.87h-1.19zM221.81 361.37h1.19v5.87h-1.19zM249.58 361.37h1.19v5.87h-1.19zM86.32 366.89h1.19v5.87h-1.19zM206.66 366.89h1.19v5.87h-1.19zM215.92 366.89h1.19v5.87h-1.19zM227.70 366.89h1.19v5.87h-1.19zM252.11 366.89h1.19v5.87h-1.19zM226.02 372.41h1.19v5.87h-1.19zM239.48 372.41h1.19v5.87h-1.19zM107.35 377.92h1.19v5.87h-1.19zM202.45 377.92h1.19v5.87h-1.19zM204.14 377.92h1.19v5.87h-1.19zM210.87 377.92h1.19v5.87h-1.19zM233.59 377.92h1.19v5.87h-1.19zM247.06 377.92h1.19v5.87h-1.19zM257.16 377.92h1.19v5.87h-1.19zM179.73 383.44h1.19v5.87h-1.19zM233.59 383.44h1.19v5.87h-1.19zM239.48 383.44h1.19v5.87h-1.19zM217.60 388.96h1.19v5.87h-1.19zM218.45 388.96h1.19v5.87h-1.19zM222.65 388.96h1.19v5.87h-1.19zM226.86 388.96h1.19v5.87h-1.19zM231.07 394.48h1.19v5.87h-1.19zM236.12 394.48h1.19v5.87h-1.19zM240.33 394.48h1.19v5.87h-1.19zM242.01 394.48h1.19v5.87h-1.19zM247.06 394.48h1.19v5.87h-1.19zM236.96 399.99h1.19v5.87h-1.19zM252.11 399.99h1.19v5.87h-1.19zM217.60 405.51h1.19v5.87h-1.19zM234.44 405.51h1.19v5.87h-1.19zM236.96 405.51h1.19v5.87h-1.19zM242.01 405.51h1.19v5.87h-1.19zM251.27 405.51h1.19v5.87h-1.19zM245.38 411.03h1.19v5.87h-1.19zM218.45 416.54h1.19v5.87h-1.19zM220.97 416.54h1.19v5.87h-1.19zM239.48 416.54h1.19v5.87h-1.19zM245.38 416.54h1.19v5.87h-1.19zM250.43 416.54h1.19v5.87h-1.19zM128.39 422.06h1.19v5.87h-1.19zM170.47 422.06h1.19v5.87h-1.19zM218.45 422.06h1.19v5.87h-1.19zM227.70 422.06h1.19v5.87h-1.19zM245.38 422.06h1.19v5.87h-1.19zM249.58 422.06h1.19v5.87h-1.19zM252.11 422.06h1.19v5.87h-1.19zM151.96 427.58h1.19v5.87h-1.19zM227.70 427.58h1.19v5.87h-1.19zM244.53 427.58h1.19v5.87h-1.19zM251.27 427.58h1.19v5.87h-1.19zM171.32 433.10h1.19v5.87h-1.19zM188.15 433.10h1.19v5.87h-1.19zM206.66 433.10h1.19v5.87h-1.19zM254.63 433.10h1.19v5.87h-1.19zM247.90 438.61h1.19v5.87h-1.19zM235.28 444.13h1.19v5.87h-1.19zM167.11 449.65h1.19v5.87h-1.19zM73.69 455.17h1.19v5.87h-1.19zM82.95 455.17h1.19v5.87h-1.19zM101.46 455.17h1.19v5.87h-1.19zM105.67 455.17h1.19v5.87h-1.19zM69.48 460.68h1.19v5.87h-1.19zM74.53 460.68h1.19v5.87h-1.19zM87.16 460.68h1.19v5.87h-1.19zM130.08 460.68h1.19v5.87h-1.19zM191.51 460.68h1.19v5.87h-1.19z"/>
<path fill="#8f8fc9" d="M92.21 306.20h1.19v5.87h-1.19zM82.11 311.72h1.19v5.87h-1.19zM113.25 311.72h1.19v5.87h-1.19zM146.91 317.23h1.19v5.87h-1.19zM161.22 317.23h1.19v5.87h-1.19zM108.20 328.27h1.19v5.87h-1.19zM73.69 333.79h1.19v5.87h-1.19zM93.89 339.30h1.19v5.87h-1.19zM102.31 339.30h1.19v5.87h-1.19zM77.06 344.82h1.19v5.87h-1.19zM125.87 350.34h1.19v5.87h-1.19zM138.49 350.34h1.19v5.87h-1.19zM144.38 350.34h1.19v5.87h-1.19zM71.17 355.86h1.19v5.87h-1.19zM119.14 355.86h1.19v5.87h-1.19zM70.32 361.37h1.19v5.87h-1.19zM71.17 366.89h1.19v5.87h-1.19zM119.14 366.89h1.19v5.87h-1.19zM130.08 366.89h1.19v5.87h-1.19zM98.94 372.41h1.19v5.87h-1.19zM146.91 372.41h1.19v5.87h-1.19zM107.35 383.44h1.19v5.87h-1.19zM148.59 383.44h1.19v5.87h-1.19zM141.02 388.96h1.19v5.87h-1.19zM72.01 399.99h1.19v5.87h-1.19zM84.63 399.99h1.19v5.87h-1.19zM108.20 405.51h1.19v5.87h-1.19zM88.00 411.03h1.19v5.87h-1.19zM108.20 411.03h1.19v5.87h-1.19zM119.14 411.03h1.19v5.87h-1.19zM103.15 416.54h1.19v5.87h-1.19zM117.45 416.54h1.19v5.87h-1.19zM155.33 416.54h1.19v5.87h-1.19zM157.01 422.06h1.19v5.87h-1.19zM80.42 427.58h1.19v5.87h-1.19zM98.94 427.58h1.19v5.87h-1.19zM73.69 433.10h1.19v5.87h-1.19zM141.02 438.61h1.19v5.87h-1.19zM119.98 444.13h1.19v5.87h-1.19zM221.81 449.65h1.19v5.87h-1.19zM243.69 449.65h1.19v5.87h-1.19zM248.74 449.65h1.19v5.87h-1.19zM235.28 455.17h1.19v5.87h-1.19z"/>
<path fill="#e99090" d="M250.43 306.20h1.19v5.87h-1.19zM118.30 311.72h1.19v5.87h-1.19zM235.28 311.72h1.19v5.87h-1.19zM250.43 311.72h1.19v5.87h-1.19zM256.32 311.72h1.19v5.87h-1.19zM220.97 317.23h1.19v5.87h-1.19zM233.59 317.23h1.19v5.87h-1.19zM247.90 317.23h1.19v5.87h-1.19zM177.21 322.75h1.19v5.87h-1.19zM206.66 322.75h1.19v5.87h-1.19zM240.33 322.75h1.19v5.87h-1.19zM183.10 333.79h1.19v5.87h-1.19zM236.96 333.79h1.19v5.87h-1.19zM244.53 333.79h1.19v5.87h-1.19zM247.06 333.79h1.19v5.87h-1.19zM162.90 344.82h1.19v5.87h-1.19zM233.59 344.82h1.19v5.87h-1.19zM251.27 344.82h1.19v5.87h-1.19zM107.35 350.34h1.19v5.87h-1.19zM114.93 350.34h1.19v5.87h-1.19zM204.14 350.34h1.19v5.87h-1.19zM211.71 350.34h1.19v5.87h-1.19zM229.39 350.34h1.19v5.87h-1.19zM241.17 350.34h1.19v5.87h-1.19zM227.70 355.86h1.19v5.87h-1.19zM233.59 355.86h1.19v5.87h-1.19zM237.80 355.86h1.19v5.87h-1.19zM241.17 355.86h1.19v5.87h-1.19zM249.58 355.86h1.19v5.87h-1.19zM254.63 361.37h1.19v5.87h-1.19zM256.32 361.37h1.19v5.87h-1.19zM174.68 366.89h1.19v5.87h-1.19zM219.29 366.89h1.19v5.87h-1.19zM236.96 366.89h1.19v5.87h-1.19zM206.66 372.41h1.19v5.87h-1.19zM253.79 377.92h1.19v5.87h-1.19zM246.22 383.44h1.19v5.87h-1.19zM249.58 383.44h1.19v5.87h-1.19zM243.69 388.96h1.19v5.87h-1.19zM74.53 394.48h1.19v5.87h-1.19zM239.48 394.48h1.19v5.87h-1.19zM241.17 394.48h1.19v5.87h-1.19zM241.17 399.99h1.19v5.87h-1.19zM242.85 399.99h1.19v5.87h-1.19zM143.54 405.51h1.19v5.87h-1.19zM225.18 405.51h1.19v5.87h-1.19zM239.48 405.51h1.19v5.87h-1.19zM256.32 405.51h1.19v5.87h-1.19zM111.56 411.03h1.19v5.87h-1.19zM234.44 411.03h1.19v5.87h-1.19zM250.43 411.03h1.19v5.87h-1.19zM215.92 427.58h1.19v5.87h-1.19zM252.11 427.58h1.19v5.87h-1.19zM255.48 427.58h1.19v5.87h-1.19zM234.44 433.10h1.19v5.87h-1.19zM243.69 433.10h1.19v5.87h-1.19zM244.53 433.10h1.19v5.87h-1.19zM251.27 433.10h1.19v5.87h-1.19zM73.69 438.61h1.19v5.87h-1.19zM227.70 438.61h1.19v5.87h-1.19zM223.49 444.13h1.19v5.87h-1.19zM246.22 444.13h1.19v5.87h-1.19zM74.53 449.65h1.19v5.87h-1.19zM132.60 449.65h1.19v5.87h-1.19zM92.21 455.17h1.19v5.87h-1.19zM108.20 455.17h1.19v5.87h-1.19zM114.93 455.17h1.19v5.87h-1.19zM86.32 460.68h1.19v5.87h-1.19zM96.41 460.68h1.19v5.87h-1.19zM117.45 460.68h1.19v5.87h-1.19zM157.85 460.68h1.19v5.87h-1.19z"/>
<path fill="#8484c3" d="M150.28 311.72h1.19v5.87h-1.19zM182.26 311.72h1.19v5.87h-1.19zM119.98 317.23h1.19v5.87h-1.19zM97.26 333.79h1.19v5.87h-1.19zM109.88 333.79h1.19v5.87h-1.19zM155.33 339.30h1.19v5.87h-1.19zM73.69 350.34h1.19v5.87h-1.19zM119.14 350.34h1.19v5.87h-1.19zM108.20 355.86h1.19v5.87h-1.19zM171.32 361.37h1.19v5.87h-1.19zM109.04 366.89h1.19v5.87h-1.19zM119.98 372.41h1.19v5.87h-1.19zM130.08 372.41h1.19v5.87h-1.19zM141.02 372.41h1.19v5.87h-1.19zM205.82 372.41h1.19v5.87h-1.19zM145.23 383.44h1.19v5.87h-1.19zM69.48 388.96h1.19v5.87h-1.19zM84.63 388.96h1.19v5.87h-1.19zM92.21 388.96h1.19v5.87h-1.19zM114.93 388.96h1.19v5.87h-1.19zM119.98 388.96h1.19v5.87h-1.19zM67.80 394.48h1.19v5.87h-1.19zM80.42 405.51h1.19v5.87h-1.19zM93.89 405.51h1.19v5.87h-1.19zM85.47 411.03h1.19v5.87h-1.19zM98.94 416.54h1.19v5.87h-1.19zM122.50 416.54h1.19v5.87h-1.19zM119.14 422.06h1.19v5.87h-1.19zM243.69 455.17h1.19v5.87h-1.19zM247.90 455.17h1.19v5.87h-1.19zM248.74 455.17h1.19v5.87h-1.19zM254.63 455.17h1.19v5.87h-1.19zM196.56 460.68h1.19v5.87h-1.19zM218.45 460.68h1.19v5.87h-1.19z"/>
<path fill="#e78585" d="M214.24 311.72h1.19v5.87h-1.19zM215.92 311.72h1.19v5.87h-1.19zM210.87 317.23h1.19v5.87h-1.19zM218.45 317.23h1.19v5.87h-1.19zM235.28 317.23h1.19v5.87h-1.19zM238.64 317.23h1.19v5.87h-1.19zM243.69 317.23h1.19v5.87h-1.19zM257.16 322.75h1.19v5.87h-1.19zM236.96 328.27h1.19v5.87h-1.19zM175.52 333.79h1.19v5.87h-1.19zM228.54 333.79h1.19v5.87h-1.19zM243.69 333.79h1.19v5.87h-1.19zM96.41 344.82h1.19v5.87h-1.19zM240.33 344.82h1.19v5.87h-1.19zM249.58 344.82h1.19v5.87h-1.19zM257.16 344.82h1.19v5.87h-1.19zM171.32 350.34h1.19v5.87h-1.19zM215.92 350.34h1.19v5.87h-1.19zM218.45 350.34h1.19v5.87h-1.19zM219.29 350.34h1.19v5.87h-1.19zM242.85 350.34h1.19v5.87h-1.19zM251.27 350.34h1.19v5.87h-1.19zM247.90 355.86h1.19v5.87h-1.19zM207.50 366.89h1.19v5.87h-1.19zM222.65 366.89h1.19v5.87h-1.19zM231.07 366.89h1.19v5.87h-1.19zM247.90 366.89h1.19v5.87h-1.19zM252.11 372.41h1.19v5.87h-1.19zM178.05 377.92h1.19v5.87h-1.19zM198.25 388.96h1.19v5.87h-1.19zM249.58 388.96h1.19v5.87h-1.19zM181.42 394.48h1.19v5.87h-1.19zM199.09 394.48h1.19v5.87h-1.19zM230.23 394.48h1.19v5.87h-1.19zM232.75 394.48h1.19v5.87h-1.19zM255.48 399.99h1.19v5.87h-1.19zM219.29 405.51h1.19v5.87h-1.19zM206.66 411.03h1.19v5.87h-1.19zM240.33 411.03h1.19v5.87h-1.19zM242.85 411.03h1.19v5.87h-1.19zM109.04 416.54h1.19v5.87h-1.19zM226.86 416.54h1.19v5.87h-1.19zM243.69 416.54h1.19v5.87h-1.19zM247.06 427.58h1.19v5.87h-1.19zM136.81 433.10h1.19v5.87h-1.19zM168.79 433.10h1.19v5.87h-1.19zM240.33 433.10h1.19v5.87h-1.19zM251.27 438.61h1.19v5.87h-1.19zM254.63 438.61h1.19v5.87h-1.19zM105.67 444.13h1.19v5.87h-1.19zM256.32 444.13h1.19v5.87h-1.19zM121.66 449.65h1.19v5.87h-1.19zM171.32 449.65h1.19v5.87h-1.19zM74.53 455.17h1.19v5.87h-1.19zM77.90 455.17h1.19v5.87h-1.19zM85.47 455.17h1.19v5.87h-1.19zM87.16 455.17h1.19v5.87h-1.19zM162.90 455.17h1.19v5.87h-1.19zM166.27 455.17h1.19v5.87h-1.19zM169.63 460.68h1.19v5.87h-1.19z"/>
<path fill="#7979be" d="M119.98 306.20h1.19v5.87h-1.19zM69.48 317.23h1.19v5.87h-1.19zM158.69 317.23h1.19v5.87h-1.19zM102.31 333.79h1.19v5.87h-1.19zM125.87 333.79h1.19v5.87h-1.19zM140.18 350.34h1.19v5.87h-1.19zM132.60 355.86h1.19v5.87h-1.19zM157.85 366.89h1.19v5.87h-1.19zM181.42 366.89h1.19v5.87h-1.19zM67.80 383.44h1.19v5.87h-1.19zM159.53 383.44h1.19v5.87h-1.19zM176.37 383.44h1.19v5.87h-1.19zM78.74 399.99h1.19v5.87h-1.19zM113.25 411.03h1.19v5.87h-1.19zM155.33 411.03h1.19v5.87h-1.19zM114.09 422.06h1.19v5.87h-1.19zM84.63 438.61h1.19v5.87h-1.19zM94.73 444.13h1.19v5.87h-1.19zM112.40 444.13h1.19v5.87h-1.19zM133.44 449.65h1.19v5.87h-1.19zM237.80 455.17h1.19v5.87h-1.19z"/>
<path fill="#e47a7a" d="M253.79 306.20h1.19v5.87h-1.19zM257.16 306.20h1.19v5.87h-1.19zM108.20 311.72h1.19v5.87h-1.19zM246.22 311.72h1.19v5.87h-1.19zM251.27 311.72h1.19v5.87h-1.19zM253.79 311.72h1.19v5.87h-1.19zM256.32 328.27h1.19v5.87h-1.19zM257.16 333.79h1.19v5.87h-1.19zM240.33 350.34h1.19v5.87h-1.19zM252.11 350.34h1.19v5.87h-1.19zM239.48 355.86h1.19v5.87h-1.19zM239.48 361.37h1.19v5.87h-1.19zM244.53 361.37h1.19v5.87h-1.19zM254.63 366.89h1.19v5.87h-1.19zM216.76 372.41h1.19v5.87h-1.19zM217.60 372.41h1.19v5.87h-1.19zM249.58 372.41h1.19v5.87h-1.19zM215.92 388.96h1.19v5.87h-1.19zM231.91 394.48h1.19v5.87h-1.19zM236.96 394.48h1.19v5.87h-1.19zM228.54 399.99h1.19v5.87h-1.19zM233.59 399.99h1.19v5.87h-1.19zM233.59 405.51h1.19v5.87h-1.19zM101.46 411.03h1.19v5.87h-1.19zM217.60 411.03h1.19v5.87h-1.19zM218.45 411.03h1.19v5.87h-1.19zM246.22 411.03h1.19v5.87h-1.19zM225.18 416.54h1.19v5.87h-1.19zM244.53 416.54h1.19v5.87h-1.19zM254.63 416.54h1.19v5.87h-1.19zM251.27 422.06h1.19v5.87h-1.19zM253.79 422.06h1.19v5.87h-1.19zM239.48 427.58h1.19v5.87h-1.19zM250.43 427.58h1.19v5.87h-1.19zM257.16 427.58h1.19v5.87h-1.19zM247.90 433.10h1.19v5.87h-1.19zM250.43 433.10h1.19v5.87h-1.19zM252.11 433.10h1.19v5.87h-1.19zM257.16 433.10h1.19v5.87h-1.19zM247.06 438.61h1.19v5.87h-1.19zM250.43 438.61h1.19v5.87h-1.19zM233.59 444.13h1.19v5.87h-1.19zM253.79 444.13h1.19v5.87h-1.19zM129.24 449.65h1.19v5.87h-1.19zM106.51 455.17h1.19v5.87h-1.19zM124.19 455.17h1.19v5.87h-1.19zM103.99 460.68h1.19v5.87h-1.19z"/>
<path fill="#e26f6f" d="M251.27 306.20h1.19v5.87h-1.19zM105.67 333.79h1.19v5.87h-1.19zM236.12 333.79h1.19v5.87h-1.19zM236.96 339.30h1.19v5.87h-1.19zM247.90 339.30h1.19v5.87h-1.19zM204.14 344.82h1.19v5.87h-1.19zM257.16 350.34h1.19v5.87h-1.19zM166.27 355.86h1.19v5.87h-1.19zM240.33 361.37h1.19v5.87h-1.19zM251.27 361.37h1.19v5.87h-1.19zM252.11 361.37h1.19v5.87h-1.19zM257.16 361.37h1.19v5.87h-1.19zM243.69 383.44h1.19v5.87h-1.19zM229.39 388.96h1.19v5.87h-1.19zM237.80 388.96h1.19v5.87h-1.19zM247.90 394.48h1.19v5.87h-1.19zM257.16 394.48h1.19v5.87h-1.19zM184.78 405.51h1.19v5.87h-1.19zM226.02 405.51h1.19v5.87h-1.19zM231.07 405.51h1.19v5.87h-1.19zM235.28 405.51h1.19v5.87h-1.19zM244.53 405.51h1.19v5.87h-1.19zM247.90 405.51h1.19v5.87h-1.19zM228.54 416.54h1.19v5.87h-1.19zM253.79 416.54h1.19v5.87h-1.19zM176.37 427.58h1.19v5.87h-1.19zM204.14 433.10h1.19v5.87h-1.19zM242.85 433.10h1.19v5.87h-1.19zM253.79 438.61h1.19v5.87h-1.19zM229.39 444.13h1.19v5.87h-1.19zM247.90 444.13h1.19v5.87h-1.19zM96.41 449.65h1.19v5.87h-1.19zM135.13 449.65h1.19v5.87h-1.19zM162.90 449.65h1.19v5.87h-1.19zM82.11 460.68h1.19v5.87h-1.19zM93.89 460.68h1.19v5.87h-1.19zM157.01 460.68h1.19v5.87h-1.19z"/>
<path fill="#6e6eb9" d="M162.06 322.75h1.19v5.87h-1.19zM115.77 350.34h1.19v5.87h-1.19zM140.18 355.86h1.19v5.87h-1.19zM164.58 355.86h1.19v5.87h-1.19zM102.31 361.37h1.19v5.87h-1.19zM182.26 361.37h1.19v5.87h-1.19zM125.87 366.89h1.19v5.87h-1.19zM189.83 366.89h1.19v5.87h-1.19zM67.80 377.92h1.19v5.87h-1.19zM69.48 377.92h1.19v5.87h-1.19zM119.14 388.96h1.19v5.87h-1.19zM125.87 405.51h1.19v5.87h-1.19zM125.87 416.54h1.19v5.87h-1.19zM119.14 433.10h1.19v5.87h-1.19zM138.49 444.13h1.19v5.87h-1.19zM242.01 449.65h1.19v5.87h-1.19z"/>
<path fill="#e06464" d="M226.86 322.75h1.19v5.87h-1.19zM228.54 322.75h1.19v5.87h-1.19zM231.91 322.75h1.19v5.87h-1.19zM227.70 333.79h1.19v5.87h-1.19zM234.44 333.79h1.19v5.87h-1.19zM240.33 333.79h1.19v5.87h-1.19zM183.94 339.30h1.19v5.87h-1.19zM253.79 339.30h1.19v5.87h-1.19zM217.60 350.34h1.19v5.87h-1.19zM236.96 350.34h1.19v5.87h-1.19zM250.43 350.34h1.19v5.87h-1.19zM256.32 350.34h1.19v5.87h-1.19zM228.54 355.86h1.19v5.87h-1.19zM240.33 355.86h1.19v5.87h-1.19zM147.75 372.41h1.19v5.87h-1.19zM232.75 372.41h1.19v5.87h-1.19zM254.63 372.41h1.19v5.87h-1.19zM255.48 372.41h1.19v5.87h-1.19zM253.79 383.44h1.19v5.87h-1.19zM241.17 388.96h1.19v5.87h-1.19zM253.79 388.96h1.19v5.87h-1.19zM247.90 399.99h1.19v5.87h-1.19zM246.22 405.51h1.19v5.87h-1.19zM257.16 405.51h1.19v5.87h-1.19zM247.90 416.54h1.19v5.87h-1.19zM251.27 416.54h1.19v5.87h-1.19zM250.43 422.06h1.19v5.87h-1.19zM183.94 427.58h1.19v5.87h-1.19zM206.66 427.58h1.19v5.87h-1.19zM183.94 433.10h1.19v5.87h-1.19zM218.45 433.10h1.19v5.87h-1.19zM213.40 438.61h1.19v5.87h-1.19zM257.16 438.61h1.19v5.87h-1.19zM240.33 444.13h1.19v5.87h-1.19zM257.16 444.13h1.19v5.87h-1.19zM116.61 455.17h1.19v5.87h-1.19z"/>
<path fill="#6363b3" d="M98.94 333.79h1.19v5.87h-1.19zM71.17 350.34h1.19v5.87h-1.19zM182.26 355.86h1.19v5.87h-1.19zM125.03 361.37h1.19v5.87h-1.19zM187.31 366.89h1.19v5.87h-1.19zM110.72 383.44h1.19v5.87h-1.19zM70.32 422.06h1.19v5.87h-1.19zM102.31 438.61h1.19v5.87h-1.19zM122.50 455.17h1.19v5.87h-1.19zM218.45 455.17h1.19v5.87h-1.19zM222.65 455.17h1.19v5.87h-1.19zM210.03 460.68h1.19v5.87h-1.19z"/>
<path fill="#5757ae" d="M127.55 311.72h1.19v5.87h-1.19zM131.76 328.27h1.19v5.87h-1.19zM137.65 328.27h1.19v5.87h-1.19zM112.40 339.30h1.19v5.87h-1.19zM92.21 366.89h1.19v5.87h-1.19zM169.63 372.41h1.19v5.87h-1.19zM205.82 383.44h1.19v5.87h-1.19zM137.65 394.48h1.19v5.87h-1.19zM165.42 394.48h1.19v5.87h-1.19zM113.25 427.58h1.19v5.87h-1.19zM253.79 449.65h1.19v5.87h-1.19zM250.43 455.17h1.19v5.87h-1.19zM224.34 460.68h1.19v5.87h-1.19z"/>
<path fill="#de5858" d="M236.12 328.27h1.19v5.87h-1.19zM231.91 350.34h1.19v5.87h-1.19zM253.79 355.86h1.19v5.87h-1.19zM254.63 355.86h1.19v5.87h-1.19zM241.17 366.89h1.19v5.87h-1.19zM253.79 394.48h1.19v5.87h-1.19zM226.86 399.99h1.19v5.87h-1.19zM247.06 422.06h1.19v5.87h-1.19zM254.63 427.58h1.19v5.87h-1.19zM220.13 433.10h1.19v5.87h-1.19zM240.33 438.61h1.19v5.87h-1.19zM127.55 455.17h1.19v5.87h-1.19zM72.85 460.68h1.19v5.87h-1.19zM114.09 460.68h1.19v5.87h-1.19z"/>
<path fill="#4b4ba8" d="M144.38 311.72h1.19v5.87h-1.19zM78.74 350.34h1.19v5.87h-1.19zM125.03 372.41h1.19v5.87h-1.19zM72.01 394.48h1.19v5.87h-1.19zM78.74 405.51h1.19v5.87h-1.19zM93.89 416.54h1.19v5.87h-1.19zM104.83 438.61h1.19v5.87h-1.19zM254.63 449.65h1.19v5.87h-1.19zM256.32 460.68h1.19v5.87h-1.19z"/>
<path fill="#db4d4d" d="M204.14 317.23h1.19v5.87h-1.19zM183.94 328.27h1.19v5.87h-1.19zM247.90 333.79h1.19v5.87h-1.19zM242.85 344.82h1.19v5.87h-1.19zM253.79 350.34h1.19v5.87h-1.19zM252.95 355.86h1.19v5.87h-1.19zM229.39 361.37h1.19v5.87h-1.19zM211.71 366.89h1.19v5.87h-1.19zM249.58 366.89h1.19v5.87h-1.19zM241.17 372.41h1.19v5.87h-1.19zM252.95 372.41h1.19v5.87h-1.19zM251.27 399.99h1.19v5.87h-1.19zM249.58 411.03h1.19v5.87h-1.19zM217.60 416.54h1.19v5.87h-1.19zM236.96 416.54h1.19v5.87h-1.19zM227.70 433.10h1.19v5.87h-1.19zM115.77 449.65h1.19v5.87h-1.19zM86.32 455.17h1.19v5.87h-1.19z"/>
<path fill="#3f3fa2" d="M89.68 333.79h1.19v5.87h-1.19zM135.97 350.34h1.19v5.87h-1.19zM67.80 399.99h1.19v5.87h-1.19zM70.32 416.54h1.19v5.87h-1.19zM142.70 416.54h1.19v5.87h-1.19zM165.42 438.61h1.19v5.87h-1.19zM98.94 444.13h1.19v5.87h-1.19zM255.48 460.68h1.19v5.87h-1.19z"/>
<path fill="#d94141" d="M238.64 333.79h1.19v5.87h-1.19zM249.58 333.79h1.19v5.87h-1.19zM251.27 333.79h1.19v5.87h-1.19zM252.95 333.79h1.19v5.87h-1.19zM257.16 339.30h1.19v5.87h-1.19zM250.43 355.86h1.19v5.87h-1.19zM251.27 366.89h1.19v5.87h-1.19zM218.45 372.41h1.19v5.87h-1.19zM253.79 372.41h1.19v5.87h-1.19zM231.07 388.96h1.19v5.87h-1.19zM246.22 388.96h1.19v5.87h-1.19zM218.45 405.51h1.19v5.87h-1.19zM215.08 411.03h1.19v5.87h-1.19zM238.64 416.54h1.19v5.87h-1.19zM233.59 427.58h1.19v5.87h-1.19zM239.48 433.10h1.19v5.87h-1.19zM247.06 433.10h1.19v5.87h-1.19zM255.48 438.61h1.19v5.87h-1.19zM247.06 444.13h1.19v5.87h-1.19zM114.93 449.65h1.19v5.87h-1.19zM77.06 455.17h1.19v5.87h-1.19z"/>
<path fill="#33339c" d="M113.25 328.27h1.19v5.87h-1.19zM238.64 455.17h1.19v5.87h-1.19z"/>
<path fill="#d63434" d="M247.90 350.34h1.19v5.87h-1.19zM231.07 377.92h1.19v5.87h-1.19zM252.95 416.54h1.19v5.87h-1.19zM147.75 449.65h1.19v5.87h-1.19zM147.75 455.17h1.19v5.87h-1.19z"/>
<path fill="#d42828" d="M241.17 311.72h1.19v5.87h-1.19zM251.27 317.23h1.19v5.87h-1.19zM253.79 317.23h1.19v5.87h-1.19zM241.17 333.79h1.19v5.87h-1.19zM250.43 333.79h1.19v5.87h-1.19zM252.11 333.79h1.19v5.87h-1.19zM254.63 333.79h1.19v5.87h-1.19zM239.48 350.34h1.19v5.87h-1.19zM238.64 355.86h1.19v5.87h-1.19zM242.85 355.86h1.19v5.87h-1.19zM218.45 366.89h1.19v5.87h-1.19zM233.59 366.89h1.19v5.87h-1.19zM257.16 366.89h1.19v5.87h-1.19zM257.16 388.96h1.19v5.87h-1.19zM254.63 394.48h1.19v5.87h-1.19zM253.79 405.51h1.19v5.87h-1.19zM247.06 411.03h1.19v5.87h-1.19zM219.29 416.54h1.19v5.87h-1.19zM222.65 416.54h1.19v5.87h-1.19zM233.59 416.54h1.19v5.87h-1.19zM241.17 416.54h1.19v5.87h-1.19zM257.16 416.54h1.19v5.87h-1.19zM257.16 422.06h1.19v5.87h-1.19zM246.22 427.58h1.19v5.87h-1.19zM253.79 427.58h1.19v5.87h-1.19zM241.17 438.61h1.19v5.87h-1.19zM241.17 444.13h1.19v5.87h-1.19zM76.22 455.17h1.19v5.87h-1.19zM105.67 460.68h1.19v5.87h-1.19zM106.51 460.68h1.19v5.87h-1.19z"/>
<path fill="#262696" d="M145.23 350.34h1.19v5.87h-1.19zM122.50 372.41h1.19v5.87h-1.19zM158.69 405.51h1.19v5.87h-1.19zM78.74 411.03h1.19v5.87h-1.19zM255.48 449.65h1.19v5.87h-1.19z"/>
<rect x="67.8" y="306.2" width="190.2" height="160.0" fill="none" stroke="#8a8a8a" stroke-width="0.6"/>
<rect x="62.4" y="306.2" width="3.1999999999999957" height="143.5" fill="#1673B0"/>
<rect x="62.4" y="449.7" width="3.1999999999999957" height="16.5" fill="#E9A21A"/>
<rect x="62.4" y="306.2" width="3.1999999999999957" height="160.0" fill="none" stroke="#444" stroke-width="0.6"/>
<path d="M68.00 471.20 L172.00 471.20 L172.00 471.20 L169.00 471.45 L160.00 472.22 L142.00 473.50 L126.00 474.26 L100.00 475.02 L68.00 475.54Z" fill="#E9A21A"/>
<path d="M193.50 471.20 L258.00 471.20 L258.00 476.30 L250.00 476.30 L237.00 475.54 L220.00 474.26 L207.00 472.99 L193.50 471.20Z" fill="#1673B0"/>
<rect x="68.0" y="471.2" width="190.0" height="5.100000000000023" fill="none" stroke="#555" stroke-width="0.7"/>
<line x1="180.2" y1="471.2" x2="180.2" y2="476.3" stroke="#555" stroke-width="0.7"/>
<text x="264.5" y="472.1" font-size="6.2" font-weight="bold" text-anchor="middle" fill="#000">1</text>
<text x="264.5" y="477.6" font-size="6.0" font-weight="bold" text-anchor="middle" fill="#000">0</text>
<text x="124.2" y="485.1" font-size="6.5" font-weight="bold" text-anchor="middle" fill="#000">CS1</text>
<text x="219.5" y="485.1" font-size="6.5" font-weight="bold" text-anchor="middle" fill="#000">CS2</text>
<text x="36.4" y="384.0" font-size="8.85" text-anchor="middle" fill="#000" transform="rotate(-90 36.4 384.0)" stroke="#000" stroke-width="0.3">template features</text>
<line x1="493.2" y1="21" x2="501.9" y2="21" stroke="#2EC2B3" stroke-width="1.8"/>
<line x1="497.5" y1="18.4" x2="497.5" y2="21" stroke="#2EC2B3" stroke-width="0.9"/>
<text x="505.5" y="22.9" font-size="5.9" font-weight="bold" text-anchor="start" fill="#000">CS1</text>
<line x1="521" y1="21" x2="529.6" y2="21" stroke="#E81835" stroke-width="1.8"/>
<line x1="525.3" y1="18.4" x2="525.3" y2="21" stroke="#E81835" stroke-width="0.9"/>
<text x="533.1" y="22.9" font-size="5.9" font-weight="bold" text-anchor="start" fill="#000">CS2</text>
<path d="M365.5 37V177.1H669" fill="none" stroke="#000" stroke-width="1.3" stroke-linejoin="round"/>
<line x1="363.6" y1="43.3" x2="365.5" y2="43.3" stroke="#000" stroke-width="0.9"/>
<text x="362.3" y="45.95" font-size="7.2" font-weight="bold" text-anchor="end" fill="#000">100</text>
<line x1="363.6" y1="75.2" x2="365.5" y2="75.2" stroke="#000" stroke-width="0.9"/>
<text x="362.3" y="77.85" font-size="7.2" font-weight="bold" text-anchor="end" fill="#000">75</text>
<line x1="363.6" y1="107.0" x2="365.5" y2="107.0" stroke="#000" stroke-width="0.9"/>
<text x="362.3" y="109.65" font-size="7.2" font-weight="bold" text-anchor="end" fill="#000">50</text>
<line x1="363.6" y1="138.9" x2="365.5" y2="138.9" stroke="#000" stroke-width="0.9"/>
<text x="362.3" y="141.55" font-size="7.2" font-weight="bold" text-anchor="end" fill="#000">25</text>
<line x1="363.6" y1="170.8" x2="365.5" y2="170.8" stroke="#000" stroke-width="0.9"/>
<text x="362.3" y="173.45" font-size="7.2" font-weight="bold" text-anchor="end" fill="#000">0</text>
<line x1="379.60" y1="177" x2="379.60" y2="179" stroke="#000" stroke-width="0.9"/>
<text x="379.60" y="185.40" font-size="7.2" font-weight="bold" text-anchor="middle" fill="#000">0</text>
<line x1="410.10" y1="177" x2="410.10" y2="179" stroke="#000" stroke-width="0.9"/>
<text x="410.10" y="185.40" font-size="7.2" font-weight="bold" text-anchor="middle" fill="#000">1</text>
<line x1="440.60" y1="177" x2="440.60" y2="179" stroke="#000" stroke-width="0.9"/>
<text x="440.60" y="185.40" font-size="7.2" font-weight="bold" text-anchor="middle" fill="#000">2</text>
<line x1="471.10" y1="177" x2="471.10" y2="179" stroke="#000" stroke-width="0.9"/>
<text x="471.10" y="185.40" font-size="7.2" font-weight="bold" text-anchor="middle" fill="#000">3</text>
<line x1="501.60" y1="177" x2="501.60" y2="179" stroke="#000" stroke-width="0.9"/>
<text x="501.60" y="185.40" font-size="7.2" font-weight="bold" text-anchor="middle" fill="#000">4</text>
<line x1="532.10" y1="177" x2="532.10" y2="179" stroke="#000" stroke-width="0.9"/>
<text x="532.10" y="185.40" font-size="7.2" font-weight="bold" text-anchor="middle" fill="#000">5</text>
<line x1="562.60" y1="177" x2="562.60" y2="179" stroke="#000" stroke-width="0.9"/>
<text x="562.60" y="185.40" font-size="7.2" font-weight="bold" text-anchor="middle" fill="#000">6</text>
<line x1="593.10" y1="177" x2="593.10" y2="179" stroke="#000" stroke-width="0.9"/>
<text x="593.10" y="185.40" font-size="7.2" font-weight="bold" text-anchor="middle" fill="#000">7</text>
<line x1="623.60" y1="177" x2="623.60" y2="179" stroke="#000" stroke-width="0.9"/>
<text x="623.60" y="185.40" font-size="7.2" font-weight="bold" text-anchor="middle" fill="#000">8</text>
<line x1="654.10" y1="177" x2="654.10" y2="179" stroke="#000" stroke-width="0.9"/>
<text x="654.10" y="185.40" font-size="7.2" font-weight="bold" text-anchor="middle" fill="#000">9</text>
<text x="518" y="194.60" font-size="8.05" font-weight="bold" text-anchor="middle" fill="#000">Time (Years)</text>
<text x="342.4" y="102.90" font-size="8.2" font-weight="bold" text-anchor="middle" fill="#000" transform="rotate(-90 342.4 102.90)">Survival probability (%)</text>
<path d="M379.2 106.9H551" stroke="#333" stroke-width="1.35" stroke-dasharray="4.1 4.45" fill="none"/>
<path d="M551 106.9V170.8" stroke="#333" stroke-width="1.35" stroke-dasharray="4.1 4.45" fill="none"/>
<text x="379.3" y="102.9" font-size="6.45" font-weight="bold" text-anchor="start" fill="#000">P = 0.002</text>
<path d="M379.2 42.9H412.1V45.1H420V47.4H437.8V51.1H451.2V53.5H453.8V55.8H465.3V57.8H466.4V59.8H479V61.5H483.1V63.6H485.2V66H495.2V68.3H504.4V70.3H515V72.7H535.9V75.1H575.5V78.1H621V86.1H657" fill="none" stroke="#2EC2B3" stroke-width="2.0" stroke-linejoin="miter"/>
<path d="M379.2 42.9H394.4V44.8H397V47.2H404.3V49.3H408.5V51.6H415.8V53.7H419V56H421V58.4H428.4V60.5H432V63.1H441.8V65.2H444.5V68.9H448.6V71.5H451.2V73.6H454.4V76.2H463.3V78.3H466.4V80.9H468.5V83.2H476.9V85.1H480V88H481V91H481.5V94.6H490.4V98.8H520.2V101.1H534.6V103.3H540.4V105.3H549.9V107.4H552.5V109.3H554.8V111H558.8V113.8H562.6V116.6H652.9" fill="none" stroke="#E81835" stroke-width="2.0" stroke-linejoin="miter"/>
<path d="M532.3 69.9V73.7M538 72.3V76.1M540 72.3V76.1M543 72.3V76.1M547 72.3V76.1M549 72.3V76.1M556 72.3V76.1M560 72.3V76.1M563 72.3V76.1M567 72.3V76.1M571 72.3V76.1M590 75.3V79.1M605.5 75.3V79.1M608 75.3V79.1M611 75.3V79.1M613 75.3V79.1M616 75.3V79.1M619.5 75.3V79.1M623.3 83.3V87.1M630 83.3V87.1M635 83.3V87.1M644.7 83.3V87.1M648.4 83.3V87.1M650.5 83.3V87.1M652.5 83.3V87.1M655 83.3V87.1" fill="none" stroke="#2EC2B3" stroke-width="1.0"/>
<path d="M542 102.5V106.3M543.8 102.5V106.3M545.5 102.5V106.3M553 106.5V110.3M555 108.2V112M570.7 113.8V117.6M574.2 113.8V117.6M576 113.8V117.6M579 113.8V117.6M582.6 113.8V117.6M584.8 113.8V117.6M586.2 113.8V117.6M591 113.8V117.6M605.3 113.8V117.6M612.9 113.8V117.6M621.8 113.8V117.6M628.4 113.8V117.6M644.7 113.8V117.6M648.4 113.8V117.6M652 113.8V117.6" fill="none" stroke="#E81835" stroke-width="1.0"/>
<text x="365.7" y="210.80" font-size="9.5" font-weight="bold" text-anchor="start" fill="#000">Number at risk</text>
<rect x="346" y="218" width="15" height="3.8" fill="#2EC2B3"/>
<rect x="346" y="229.1" width="15" height="3.8" fill="#E81835"/>
<path d="M365.5 216.3V240.9H669" fill="none" stroke="#000" stroke-width="1.3" stroke-linejoin="round"/>
<line x1="379.60" y1="240.9" x2="379.60" y2="242.9" stroke="#000" stroke-width="0.9"/>
<text x="379.60" y="249.00" font-size="7.2" font-weight="bold" text-anchor="middle" fill="#000">0</text>
<text x="379.60" y="226.00" font-size="8.2" font-weight="bold" text-anchor="middle" fill="#2EC2B3">60</text>
<text x="379.60" y="236.90" font-size="8.2" font-weight="bold" text-anchor="middle" fill="#E81835">57</text>
<line x1="410.10" y1="240.9" x2="410.10" y2="242.9" stroke="#000" stroke-width="0.9"/>
<text x="410.10" y="249.00" font-size="7.2" font-weight="bold" text-anchor="middle" fill="#000">1</text>
<text x="410.10" y="226.00" font-size="8.2" font-weight="bold" text-anchor="middle" fill="#2EC2B3">60</text>
<text x="410.10" y="236.90" font-size="8.2" font-weight="bold" text-anchor="middle" fill="#E81835">53</text>
<line x1="440.60" y1="240.9" x2="440.60" y2="242.9" stroke="#000" stroke-width="0.9"/>
<text x="440.60" y="249.00" font-size="7.2" font-weight="bold" text-anchor="middle" fill="#000">2</text>
<text x="440.60" y="226.00" font-size="8.2" font-weight="bold" text-anchor="middle" fill="#2EC2B3">56</text>
<text x="440.60" y="236.90" font-size="8.2" font-weight="bold" text-anchor="middle" fill="#E81835">48</text>
<line x1="471.10" y1="240.9" x2="471.10" y2="242.9" stroke="#000" stroke-width="0.9"/>
<text x="471.10" y="249.00" font-size="7.2" font-weight="bold" text-anchor="middle" fill="#000">3</text>
<text x="471.10" y="226.00" font-size="8.2" font-weight="bold" text-anchor="middle" fill="#2EC2B3">52</text>
<text x="471.10" y="236.90" font-size="8.2" font-weight="bold" text-anchor="middle" fill="#E81835">39</text>
<line x1="501.60" y1="240.9" x2="501.60" y2="242.9" stroke="#000" stroke-width="0.9"/>
<text x="501.60" y="249.00" font-size="7.2" font-weight="bold" text-anchor="middle" fill="#000">4</text>
<text x="501.60" y="226.00" font-size="8.2" font-weight="bold" text-anchor="middle" fill="#2EC2B3">48</text>
<text x="501.60" y="236.90" font-size="8.2" font-weight="bold" text-anchor="middle" fill="#E81835">32</text>
<line x1="532.10" y1="240.9" x2="532.10" y2="242.9" stroke="#000" stroke-width="0.9"/>
<text x="532.10" y="249.00" font-size="7.2" font-weight="bold" text-anchor="middle" fill="#000">5</text>
<text x="532.10" y="226.00" font-size="8.2" font-weight="bold" text-anchor="middle" fill="#2EC2B3">45</text>
<text x="532.10" y="236.90" font-size="8.2" font-weight="bold" text-anchor="middle" fill="#E81835">30</text>
<line x1="562.60" y1="240.9" x2="562.60" y2="242.9" stroke="#000" stroke-width="0.9"/>
<text x="562.60" y="249.00" font-size="7.2" font-weight="bold" text-anchor="middle" fill="#000">6</text>
<text x="562.60" y="226.00" font-size="8.2" font-weight="bold" text-anchor="middle" fill="#2EC2B3">30</text>
<text x="562.60" y="236.90" font-size="8.2" font-weight="bold" text-anchor="middle" fill="#E81835">21</text>
<line x1="593.10" y1="240.9" x2="593.10" y2="242.9" stroke="#000" stroke-width="0.9"/>
<text x="593.10" y="249.00" font-size="7.2" font-weight="bold" text-anchor="middle" fill="#000">7</text>
<text x="593.10" y="226.00" font-size="8.2" font-weight="bold" text-anchor="middle" fill="#2EC2B3">18</text>
<text x="593.10" y="236.90" font-size="8.2" font-weight="bold" text-anchor="middle" fill="#E81835">10</text>
<line x1="623.60" y1="240.9" x2="623.60" y2="242.9" stroke="#000" stroke-width="0.9"/>
<text x="623.60" y="249.00" font-size="7.2" font-weight="bold" text-anchor="middle" fill="#000">8</text>
<text x="623.60" y="226.00" font-size="8.2" font-weight="bold" text-anchor="middle" fill="#2EC2B3">11</text>
<text x="623.60" y="236.90" font-size="8.2" font-weight="bold" text-anchor="middle" fill="#E81835">5</text>
<line x1="654.10" y1="240.9" x2="654.10" y2="242.9" stroke="#000" stroke-width="0.9"/>
<text x="654.10" y="249.00" font-size="7.2" font-weight="bold" text-anchor="middle" fill="#000">9</text>
<text x="654.10" y="226.00" font-size="8.2" font-weight="bold" text-anchor="middle" fill="#2EC2B3">1</text>
<text x="654.10" y="236.90" font-size="8.2" font-weight="bold" text-anchor="middle" fill="#E81835">0</text>
<text x="518.4" y="258.30" font-size="8.05" font-weight="bold" text-anchor="middle" fill="#000">Time (Years)</text>
<line x1="493.2" y1="285.4" x2="501.9" y2="285.4" stroke="#2EC2B3" stroke-width="1.8"/>
<line x1="497.5" y1="282.79999999999995" x2="497.5" y2="285.4" stroke="#2EC2B3" stroke-width="0.9"/>
<text x="505.5" y="287.29999999999995" font-size="5.9" font-weight="bold" text-anchor="start" fill="#000">CS1</text>
<line x1="521" y1="285.4" x2="529.6" y2="285.4" stroke="#E81835" stroke-width="1.8"/>
<line x1="525.3" y1="282.79999999999995" x2="525.3" y2="285.4" stroke="#E81835" stroke-width="0.9"/>
<text x="533.1" y="287.29999999999995" font-size="5.9" font-weight="bold" text-anchor="start" fill="#000">CS2</text>
<path d="M365.5 301.4V441.5H669" fill="none" stroke="#000" stroke-width="1.3" stroke-linejoin="round"/>
<line x1="363.6" y1="307.7" x2="365.5" y2="307.7" stroke="#000" stroke-width="0.9"/>
<text x="362.3" y="310.35" font-size="7.2" font-weight="bold" text-anchor="end" fill="#000">100</text>
<line x1="363.6" y1="339.59999999999997" x2="365.5" y2="339.59999999999997" stroke="#000" stroke-width="0.9"/>
<text x="362.3" y="342.25" font-size="7.2" font-weight="bold" text-anchor="end" fill="#000">75</text>
<line x1="363.6" y1="371.5" x2="365.5" y2="371.5" stroke="#000" stroke-width="0.9"/>
<text x="362.3" y="374.15" font-size="7.2" font-weight="bold" text-anchor="end" fill="#000">50</text>
<line x1="363.6" y1="403.4" x2="365.5" y2="403.4" stroke="#000" stroke-width="0.9"/>
<text x="362.3" y="406.05" font-size="7.2" font-weight="bold" text-anchor="end" fill="#000">25</text>
<line x1="363.6" y1="435.29999999999995" x2="365.5" y2="435.29999999999995" stroke="#000" stroke-width="0.9"/>
<text x="362.3" y="437.95" font-size="7.2" font-weight="bold" text-anchor="end" fill="#000">0</text>
<line x1="379.60" y1="441.4" x2="379.60" y2="443.4" stroke="#000" stroke-width="0.9"/>
<text x="379.60" y="449.80" font-size="7.2" font-weight="bold" text-anchor="middle" fill="#000">0</text>
<line x1="405.60" y1="441.4" x2="405.60" y2="443.4" stroke="#000" stroke-width="0.9"/>
<text x="405.60" y="449.80" font-size="7.2" font-weight="bold" text-anchor="middle" fill="#000">1</text>
<line x1="431.60" y1="441.4" x2="431.60" y2="443.4" stroke="#000" stroke-width="0.9"/>
<text x="431.60" y="449.80" font-size="7.2" font-weight="bold" text-anchor="middle" fill="#000">2</text>
<line x1="457.60" y1="441.4" x2="457.60" y2="443.4" stroke="#000" stroke-width="0.9"/>
<text x="457.60" y="449.80" font-size="7.2" font-weight="bold" text-anchor="middle" fill="#000">3</text>
<line x1="483.60" y1="441.4" x2="483.60" y2="443.4" stroke="#000" stroke-width="0.9"/>
<text x="483.60" y="449.80" font-size="7.2" font-weight="bold" text-anchor="middle" fill="#000">4</text>
<line x1="509.60" y1="441.4" x2="509.60" y2="443.4" stroke="#000" stroke-width="0.9"/>
<text x="509.60" y="449.80" font-size="7.2" font-weight="bold" text-anchor="middle" fill="#000">5</text>
<line x1="535.60" y1="441.4" x2="535.60" y2="443.4" stroke="#000" stroke-width="0.9"/>
<text x="535.60" y="449.80" font-size="7.2" font-weight="bold" text-anchor="middle" fill="#000">6</text>
<line x1="561.60" y1="441.4" x2="561.60" y2="443.4" stroke="#000" stroke-width="0.9"/>
<text x="561.60" y="449.80" font-size="7.2" font-weight="bold" text-anchor="middle" fill="#000">7</text>
<line x1="587.60" y1="441.4" x2="587.60" y2="443.4" stroke="#000" stroke-width="0.9"/>
<text x="587.60" y="449.80" font-size="7.2" font-weight="bold" text-anchor="middle" fill="#000">8</text>
<line x1="613.60" y1="441.4" x2="613.60" y2="443.4" stroke="#000" stroke-width="0.9"/>
<text x="613.60" y="449.80" font-size="7.2" font-weight="bold" text-anchor="middle" fill="#000">9</text>
<line x1="639.60" y1="441.4" x2="639.60" y2="443.4" stroke="#000" stroke-width="0.9"/>
<text x="639.60" y="449.80" font-size="7.2" font-weight="bold" text-anchor="middle" fill="#000">10</text>
<text x="518" y="459.00" font-size="8.05" font-weight="bold" text-anchor="middle" fill="#000">Time (Years)</text>
<text x="342.4" y="367.30" font-size="8.2" font-weight="bold" text-anchor="middle" fill="#000" transform="rotate(-90 342.4 367.30)">Survival probability (%)</text>
<text x="379.3" y="367.6" font-size="6.45" font-weight="bold" text-anchor="start" fill="#000">P &lt; 0.001</text>
<path d="M379.8 307.8H396.5V308.4H420.4V309.2H440.8V310.2H450.4V311.4H453.4V313.2H472.5V315H476.1V316.1H480.9V317.7H509.6V319.4H569.4V329.9H627.9" fill="none" stroke="#2EC2B3" stroke-width="2.0" stroke-linejoin="miter"/>
<path d="M379.8 307.8H394.7V308.6H398.9V309.6H401.3V311H403.7V312H409.7V314.3H417.5V316.1H419.2V317.7H424V319.4H426.4V320.9H433.6V322.1H435.4V324.5H446.7V325.3H453.4V326.9H460.5V328.5H466.5V330.9H468V332H474.9V334.1H482.1V335.9H484.5V337.7H494V338.9H496.4V340.7H500V342.1H540.7V346H656.6" fill="none" stroke="#E81835" stroke-width="2.0" stroke-linejoin="miter"/>
<path d="M430 306.4V310.2M432 306.4V310.2M434 306.4V310.2M436 306.4V310.2M438 306.4V310.2M445 307.4V311.2M447 307.4V311.2M458 310.4V314.2M461 310.4V314.2M463 310.4V314.2M466 310.4V314.2M469 310.4V314.2M484 314.9V318.7M486 314.9V318.7M488 314.9V318.7M492 314.9V318.7M495 314.9V318.7M498 314.9V318.7M503 314.9V318.7M505 314.9V318.7M507 314.9V318.7M516 316.59999999999997V320.4M518 316.59999999999997V320.4M520 316.59999999999997V320.4M524 316.59999999999997V320.4M528 316.59999999999997V320.4M532 316.59999999999997V320.4M536 316.59999999999997V320.4M541 316.59999999999997V320.4M548 316.59999999999997V320.4M552 316.59999999999997V320.4M555 316.59999999999997V320.4M562 316.59999999999997V320.4M565 316.59999999999997V320.4M577 327.09999999999997V330.9M581 327.09999999999997V330.9M585 327.09999999999997V330.9M589 327.09999999999997V330.9M593 327.09999999999997V330.9M597 327.09999999999997V330.9M600 327.09999999999997V330.9M604 327.09999999999997V330.9M610 327.09999999999997V330.9M614 327.09999999999997V330.9M617 327.09999999999997V330.9M621 327.09999999999997V330.9M623 327.09999999999997V330.9M627.9 327.09999999999997V330.9" fill="none" stroke="#2EC2B3" stroke-width="1.0"/>
<path d="M441 321.7V325.5M446 321.7V325.5M452 322.5V326.3M456 324.09999999999997V327.9M470 329.2V333M472 329.2V333M479 331.3V335.1M487 334.9V338.7M490 334.9V338.7M498 337.9V341.7M503 339.3V343.1M506 339.3V343.1M509 339.3V343.1M512 339.3V343.1M515 339.3V343.1M520 339.3V343.1M526 339.3V343.1M531 339.3V343.1M534 339.3V343.1M538 339.3V343.1M545 343.2V347M549 343.2V347M553 343.2V347M557 343.2V347M560 343.2V347M567 343.2V347M572 343.2V347M577 343.2V347M580 343.2V347M586 343.2V347M590 343.2V347M593 343.2V347M597 343.2V347M607 343.2V347M615 343.2V347M622 343.2V347M655 343.2V347" fill="none" stroke="#E81835" stroke-width="1.0"/>
<text x="365.7" y="475.50" font-size="9.5" font-weight="bold" text-anchor="start" fill="#000">Number at risk</text>
<rect x="346" y="482.7" width="15" height="3.8" fill="#2EC2B3"/>
<rect x="346" y="493.79999999999995" width="15" height="3.8" fill="#E81835"/>
<path d="M365.5 481.0V505.6H669" fill="none" stroke="#000" stroke-width="1.3" stroke-linejoin="round"/>
<line x1="379.60" y1="505.6" x2="379.60" y2="507.6" stroke="#000" stroke-width="0.9"/>
<text x="379.60" y="513.70" font-size="7.2" font-weight="bold" text-anchor="middle" fill="#000">0</text>
<text x="379.60" y="490.70" font-size="8.2" font-weight="bold" text-anchor="middle" fill="#2EC2B3">134</text>
<text x="379.60" y="501.60" font-size="8.2" font-weight="bold" text-anchor="middle" fill="#E81835">92</text>
<line x1="405.60" y1="505.6" x2="405.60" y2="507.6" stroke="#000" stroke-width="0.9"/>
<text x="405.60" y="513.70" font-size="7.2" font-weight="bold" text-anchor="middle" fill="#000">1</text>
<text x="405.60" y="490.70" font-size="8.2" font-weight="bold" text-anchor="middle" fill="#2EC2B3">133</text>
<text x="405.60" y="501.60" font-size="8.2" font-weight="bold" text-anchor="middle" fill="#E81835">89</text>
<line x1="431.60" y1="505.6" x2="431.60" y2="507.6" stroke="#000" stroke-width="0.9"/>
<text x="431.60" y="513.70" font-size="7.2" font-weight="bold" text-anchor="middle" fill="#000">2</text>
<text x="431.60" y="490.70" font-size="8.2" font-weight="bold" text-anchor="middle" fill="#2EC2B3">131</text>
<text x="431.60" y="501.60" font-size="8.2" font-weight="bold" text-anchor="middle" fill="#E81835">79</text>
<line x1="457.60" y1="505.6" x2="457.60" y2="507.6" stroke="#000" stroke-width="0.9"/>
<text x="457.60" y="513.70" font-size="7.2" font-weight="bold" text-anchor="middle" fill="#000">3</text>
<text x="457.60" y="490.70" font-size="8.2" font-weight="bold" text-anchor="middle" fill="#2EC2B3">115</text>
<text x="457.60" y="501.60" font-size="8.2" font-weight="bold" text-anchor="middle" fill="#E81835">70</text>
<line x1="483.60" y1="505.6" x2="483.60" y2="507.6" stroke="#000" stroke-width="0.9"/>
<text x="483.60" y="513.70" font-size="7.2" font-weight="bold" text-anchor="middle" fill="#000">4</text>
<text x="483.60" y="490.70" font-size="8.2" font-weight="bold" text-anchor="middle" fill="#2EC2B3">95</text>
<text x="483.60" y="501.60" font-size="8.2" font-weight="bold" text-anchor="middle" fill="#E81835">55</text>
<line x1="509.60" y1="505.6" x2="509.60" y2="507.6" stroke="#000" stroke-width="0.9"/>
<text x="509.60" y="513.70" font-size="7.2" font-weight="bold" text-anchor="middle" fill="#000">5</text>
<text x="509.60" y="490.70" font-size="8.2" font-weight="bold" text-anchor="middle" fill="#2EC2B3">65</text>
<text x="509.60" y="501.60" font-size="8.2" font-weight="bold" text-anchor="middle" fill="#E81835">38</text>
<line x1="535.60" y1="505.6" x2="535.60" y2="507.6" stroke="#000" stroke-width="0.9"/>
<text x="535.60" y="513.70" font-size="7.2" font-weight="bold" text-anchor="middle" fill="#000">6</text>
<text x="535.60" y="490.70" font-size="8.2" font-weight="bold" text-anchor="middle" fill="#2EC2B3">24</text>
<text x="535.60" y="501.60" font-size="8.2" font-weight="bold" text-anchor="middle" fill="#E81835">22</text>
<line x1="561.60" y1="505.6" x2="561.60" y2="507.6" stroke="#000" stroke-width="0.9"/>
<text x="561.60" y="513.70" font-size="7.2" font-weight="bold" text-anchor="middle" fill="#000">7</text>
<text x="561.60" y="490.70" font-size="8.2" font-weight="bold" text-anchor="middle" fill="#2EC2B3">13</text>
<text x="561.60" y="501.60" font-size="8.2" font-weight="bold" text-anchor="middle" fill="#E81835">13</text>
<line x1="587.60" y1="505.6" x2="587.60" y2="507.6" stroke="#000" stroke-width="0.9"/>
<text x="587.60" y="513.70" font-size="7.2" font-weight="bold" text-anchor="middle" fill="#000">8</text>
<text x="587.60" y="490.70" font-size="8.2" font-weight="bold" text-anchor="middle" fill="#2EC2B3">7</text>
<text x="587.60" y="501.60" font-size="8.2" font-weight="bold" text-anchor="middle" fill="#E81835">7</text>
<line x1="613.60" y1="505.6" x2="613.60" y2="507.6" stroke="#000" stroke-width="0.9"/>
<text x="613.60" y="513.70" font-size="7.2" font-weight="bold" text-anchor="middle" fill="#000">9</text>
<text x="613.60" y="490.70" font-size="8.2" font-weight="bold" text-anchor="middle" fill="#2EC2B3">2</text>
<text x="613.60" y="501.60" font-size="8.2" font-weight="bold" text-anchor="middle" fill="#E81835">3</text>
<line x1="639.60" y1="505.6" x2="639.60" y2="507.6" stroke="#000" stroke-width="0.9"/>
<text x="639.60" y="513.70" font-size="7.2" font-weight="bold" text-anchor="middle" fill="#000">10</text>
<text x="639.60" y="490.70" font-size="8.2" font-weight="bold" text-anchor="middle" fill="#2EC2B3">0</text>
<text x="639.60" y="501.60" font-size="8.2" font-weight="bold" text-anchor="middle" fill="#E81835">1</text>
<text x="518.4" y="523.00" font-size="8.05" font-weight="bold" text-anchor="middle" fill="#000">Time (Years)</text>
</svg>
</body></html>
